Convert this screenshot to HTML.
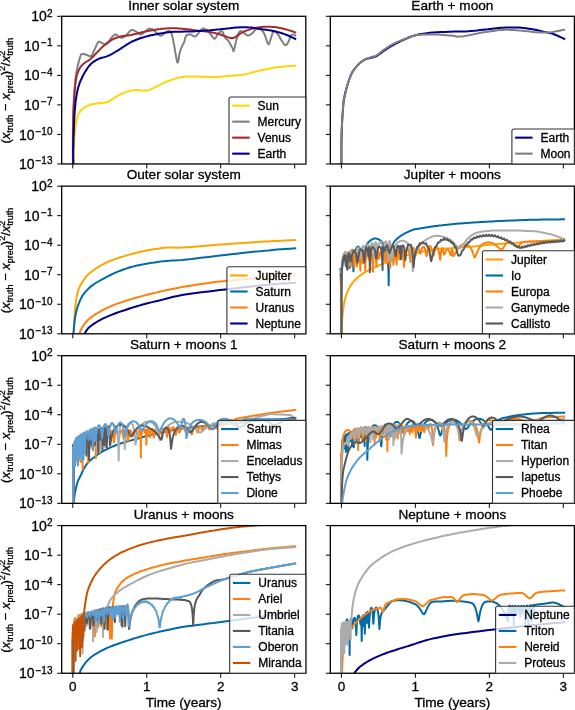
<!DOCTYPE html><html><head><meta charset="utf-8"><style>html,body{margin:0;padding:0;background:#fff;overflow:hidden}svg{display:block;will-change:transform}text{stroke:#000;stroke-width:0.3px}</style></head><body><svg width="575" height="710" viewBox="0 0 575 710">
<rect width="575" height="710" fill="#fff"/>
<defs><clipPath id="cp0"><rect x="61.7" y="16.3" width="244.1" height="147.65"/></clipPath></defs>
<g clip-path="url(#cp0)" fill="none" stroke-width="1.9" stroke-linejoin="round" stroke-linecap="square">
<path d="M73.4,163.9 L73.4,161.7 L73.5,158.6 L73.6,155.0 L73.7,151.1 L73.8,147.1 L74.0,143.4 L74.3,139.7 L74.5,135.9 L74.9,132.0 L75.2,128.3 L75.7,124.8 L76.2,121.8 L76.7,119.3 L77.3,117.2 L78.0,115.4 L78.7,113.8 L79.6,112.4 L80.5,111.0 L81.5,109.8 L82.7,108.7 L84.0,107.8 L85.3,107.0 L86.7,106.3 L88.0,105.7 L89.4,105.1 L90.8,104.7 L92.2,104.3 L93.7,104.0 L95.1,103.8 L96.7,103.5 L98.3,103.3 L100.0,103.1 L101.8,103.0 L103.5,102.8 L105.0,102.6 L106.4,102.4 L107.4,102.2 L108.1,101.9 L108.7,101.6 L109.2,101.2 L109.8,100.8 L110.7,100.3 L111.7,99.6 L112.9,98.8 L114.2,98.0 L115.5,97.1 L116.9,96.3 L118.2,95.5 L119.6,94.8 L121.0,94.1 L122.5,93.4 L123.9,92.7 L125.4,92.1 L126.9,91.6 L128.3,91.2 L129.6,90.9 L131.0,90.6 L132.4,90.4 L133.9,90.2 L135.5,90.1 L137.2,90.1 L139.1,90.2 L141.0,90.4 L142.9,90.5 L144.7,90.6 L146.3,90.6 L147.6,90.4 L148.7,90.1 L149.6,89.8 L150.6,89.4 L151.6,88.9 L152.7,88.4 L154.0,87.8 L155.4,87.1 L156.9,86.3 L158.4,85.6 L159.9,84.8 L161.4,84.1 L162.8,83.4 L164.1,82.8 L165.5,82.2 L166.9,81.6 L168.4,81.0 L170.0,80.4 L171.8,79.8 L173.7,79.1 L175.7,78.5 L177.8,77.9 L179.9,77.4 L182.0,77.0 L184.0,76.7 L186.0,76.6 L188.0,76.5 L190.1,76.5 L192.4,76.5 L194.9,76.5 L197.8,76.6 L201.1,76.7 L204.5,76.8 L208.0,76.9 L211.3,77.0 L214.3,77.0 L217.1,76.9 L219.7,76.7 L222.2,76.6 L224.6,76.3 L227.0,76.1 L229.4,75.9 L232.0,75.7 L234.6,75.5 L237.1,75.3 L239.7,75.0 L242.1,74.7 L244.5,74.4 L246.8,73.9 L248.9,73.4 L251.0,72.9 L253.1,72.3 L255.2,71.7 L257.5,71.1 L259.9,70.6 L262.4,70.0 L265.0,69.4 L267.6,68.9 L270.2,68.4 L272.6,67.9 L274.9,67.6 L277.2,67.3 L279.4,67.0 L281.5,66.8 L283.6,66.6 L285.5,66.4 L287.4,66.2 L289.3,66.1 L291.2,66.0 L292.8,65.9 L294.2,65.8 L295.2,65.8" stroke="#FFD700" stroke-width="2.0"/>
<path d="M72.9,163.9 L73.0,161.8 L73.0,159.0 L73.0,155.7 L73.1,151.9 L73.1,147.7 L73.2,143.4 L73.2,138.6 L73.2,133.3 L73.2,127.7 L73.2,121.9 L73.2,116.3 L73.4,111.0 L73.6,106.0 L73.8,100.9 L74.1,95.9 L74.4,91.2 L74.8,86.9 L75.1,83.0 L75.4,79.7 L75.7,76.9 L76.1,74.5 L76.4,72.2 L76.8,70.1 L77.3,67.9 L77.7,65.6 L78.3,63.4 L78.9,61.2 L79.4,59.2 L80.0,57.4 L80.5,56.1 L80.9,55.1 L81.2,54.5 L81.5,54.2 L81.8,54.0 L82.2,54.0 L82.6,53.9 L83.2,53.9 L83.9,54.0 L84.7,54.2 L85.4,54.5 L86.2,54.8 L87.0,55.0 L87.7,55.2 L88.4,55.6 L89.2,56.0 L89.9,56.3 L90.6,56.3 L91.3,56.1 L91.9,55.4 L92.4,54.5 L92.9,53.4 L93.4,52.1 L93.9,50.8 L94.5,49.6 L95.1,48.3 L95.8,46.8 L96.4,45.3 L97.1,44.0 L97.7,42.8 L98.4,42.0 L99.0,41.7 L99.6,41.8 L100.2,42.0 L100.8,42.4 L101.4,42.8 L102.1,43.1 L102.7,43.4 L103.4,43.7 L104.2,44.1 L104.9,44.3 L105.6,44.4 L106.4,44.2 L107.1,43.7 L107.8,42.8 L108.5,41.8 L109.2,40.8 L110.0,39.7 L110.7,38.8 L111.4,37.9 L112.1,37.0 L112.8,36.2 L113.6,35.4 L114.3,34.8 L115.0,34.5 L115.7,34.5 L116.5,34.8 L117.2,35.2 L117.9,35.8 L118.6,36.3 L119.3,36.6 L119.9,36.9 L120.4,37.2 L120.9,37.5 L121.4,37.7 L122.0,37.8 L122.5,37.7 L123.2,37.4 L123.9,37.0 L124.6,36.4 L125.4,35.8 L126.1,35.1 L126.9,34.5 L127.6,33.8 L128.3,32.9 L129.0,32.1 L129.7,31.3 L130.4,30.6 L131.2,30.2 L131.9,30.0 L132.6,30.1 L133.3,30.2 L134.0,30.5 L134.7,30.9 L135.5,31.3 L136.3,31.7 L137.2,32.4 L138.2,33.1 L139.1,33.8 L140.0,34.3 L140.9,34.5 L141.7,34.3 L142.4,33.9 L143.1,33.2 L143.8,32.5 L144.5,31.8 L145.2,31.3 L145.9,30.7 L146.6,30.2 L147.3,29.7 L148.1,29.2 L148.8,28.9 L149.5,28.7 L150.2,28.6 L150.9,28.8 L151.7,29.0 L152.4,29.3 L153.1,29.7 L153.8,30.2 L154.5,30.8 L155.3,31.5 L156.0,32.4 L156.8,33.2 L157.5,33.9 L158.1,34.5 L158.7,34.9 L159.2,35.2 L159.7,35.5 L160.2,35.6 L160.8,35.7 L161.4,35.6 L162.0,35.3 L162.7,34.7 L163.4,34.1 L164.2,33.4 L164.9,32.8 L165.7,32.3 L166.4,32.0 L167.2,31.6 L168.0,31.3 L168.7,31.1 L169.4,31.1 L170.0,31.3 L170.5,31.6 L170.9,32.1 L171.2,32.7 L171.5,33.4 L171.8,34.4 L172.1,35.6 L172.5,36.9 L172.8,38.5 L173.2,40.2 L173.5,42.1 L173.9,44.2 L174.3,46.3 L174.8,49.0 L175.3,52.3 L175.9,55.7 L176.5,58.8 L177.0,61.3 L177.5,62.5 L178.0,62.4 L178.3,61.1 L178.7,59.1 L179.0,56.8 L179.3,54.5 L179.7,52.8 L180.1,51.5 L180.5,50.3 L180.8,49.2 L181.2,48.2 L181.6,47.3 L182.0,46.3 L182.4,45.5 L182.7,44.8 L183.1,44.2 L183.4,43.6 L183.8,42.9 L184.2,42.0 L184.5,41.0 L184.8,39.8 L185.1,38.6 L185.4,37.4 L185.8,36.4 L186.3,35.6 L186.9,35.0 L187.6,34.7 L188.3,34.5 L189.1,34.4 L189.9,34.4 L190.6,34.5 L191.4,34.7 L192.1,35.2 L192.9,35.7 L193.6,36.2 L194.3,36.6 L194.9,36.6 L195.5,36.4 L196.1,36.0 L196.6,35.5 L197.1,34.8 L197.6,34.1 L198.2,33.4 L198.8,32.6 L199.5,31.7 L200.3,30.7 L201.0,29.8 L201.8,29.1 L202.5,28.7 L203.2,28.5 L204.0,28.6 L204.7,28.9 L205.4,29.3 L206.1,29.8 L206.8,30.2 L207.4,30.6 L207.9,31.0 L208.4,31.5 L208.9,32.1 L209.4,32.7 L210.0,33.4 L210.7,34.3 L211.4,35.4 L212.2,36.6 L213.0,37.6 L213.7,38.4 L214.3,38.8 L214.9,38.6 L215.5,38.0 L216.0,37.2 L216.5,36.2 L217.0,35.3 L217.6,34.5 L218.3,33.8 L219.0,33.0 L219.7,32.2 L220.5,31.6 L221.2,31.2 L221.9,31.3 L222.5,31.8 L223.1,32.8 L223.6,34.1 L224.1,35.4 L224.6,36.7 L225.1,37.7 L225.7,38.4 L226.2,38.9 L226.7,39.3 L227.2,39.7 L227.8,40.2 L228.4,41.0 L229.1,42.0 L229.8,43.4 L230.7,44.8 L231.4,46.2 L232.1,47.5 L232.7,48.5 L233.0,49.4 L233.2,50.2 L233.3,50.9 L233.4,51.3 L233.5,51.2 L233.8,50.7 L234.2,49.3 L234.7,47.2 L235.2,44.7 L235.8,42.1 L236.4,39.7 L237.0,37.7 L237.5,36.2 L238.0,34.8 L238.5,33.5 L239.1,32.5 L239.6,31.8 L240.2,31.3 L240.9,31.1 L241.6,31.3 L242.4,31.8 L243.1,32.4 L243.9,32.9 L244.5,33.4 L245.1,33.8 L245.7,34.3 L246.2,34.8 L246.7,35.2 L247.2,35.5 L247.8,35.6 L248.4,35.5 L249.1,35.2 L249.9,34.9 L250.6,34.4 L251.4,33.9 L252.1,33.4 L252.8,32.8 L253.5,31.9 L254.2,31.1 L254.9,30.2 L255.6,29.5 L256.4,29.1 L257.3,28.9 L258.2,28.9 L259.2,29.0 L260.1,29.3 L261.0,29.7 L261.8,30.2 L262.5,30.8 L263.0,31.5 L263.5,32.4 L264.0,33.4 L264.5,34.4 L265.0,35.6 L265.6,37.0 L266.1,38.7 L266.7,40.5 L267.3,42.2 L267.8,43.5 L268.3,44.2 L268.7,44.3 L269.0,43.9 L269.3,43.1 L269.7,42.1 L270.0,41.0 L270.4,39.9 L270.9,38.6 L271.4,36.9 L271.9,35.1 L272.5,33.4 L273.0,32.1 L273.7,31.3 L274.3,31.1 L275.1,31.4 L275.8,32.0 L276.6,32.8 L277.3,33.7 L278.0,34.5 L278.6,35.3 L279.1,36.1 L279.6,37.0 L280.1,38.0 L280.6,39.0 L281.2,39.9 L281.9,40.9 L282.6,42.0 L283.4,43.2 L284.1,44.2 L284.8,44.9 L285.5,45.3 L286.1,45.1 L286.7,44.6 L287.3,43.8 L287.8,42.8 L288.3,41.9 L288.8,41.0 L289.2,40.1 L289.5,39.1 L289.8,38.1 L290.1,37.1 L290.5,36.2 L290.9,35.6 L291.4,35.1 L292.0,34.8 L292.6,34.6 L293.2,34.5 L293.7,34.5 L294.1,34.5 L294.5,34.6 L294.7,34.7 L294.9,35.0 L295.0,35.2 L295.1,35.4 L295.2,35.6" stroke="#808080" stroke-width="2.0"/>
<path d="M72.9,163.9 L72.9,160.8 L72.9,156.5 L72.9,151.5 L72.9,145.9 L72.9,140.3 L72.9,134.8 L73.0,129.2 L73.2,123.2 L73.3,117.0 L73.5,111.0 L73.8,105.3 L74.0,100.3 L74.3,95.8 L74.6,91.7 L75.0,87.9 L75.3,84.5 L75.7,81.5 L76.2,78.7 L76.6,76.3 L77.1,74.4 L77.7,72.8 L78.2,71.5 L78.8,70.2 L79.4,69.0 L80.0,67.8 L80.7,66.8 L81.4,66.0 L82.1,65.2 L82.9,64.4 L83.7,63.6 L84.7,62.8 L85.7,62.2 L86.8,61.5 L88.0,60.8 L89.1,60.1 L90.2,59.3 L91.3,58.3 L92.3,57.3 L93.4,56.2 L94.5,55.1 L95.6,53.9 L96.7,52.8 L97.7,51.7 L98.7,50.7 L99.8,49.6 L100.8,48.5 L101.9,47.4 L103.1,46.3 L104.4,45.2 L105.8,44.1 L107.3,42.9 L108.8,41.8 L110.3,40.8 L111.8,39.9 L113.2,39.1 L114.6,38.5 L115.9,38.0 L117.3,37.5 L118.8,37.1 L120.4,36.6 L122.1,36.3 L123.8,36.0 L125.6,35.7 L127.5,35.5 L129.3,35.2 L131.2,34.9 L133.0,34.5 L134.8,34.1 L136.6,33.7 L138.4,33.2 L140.2,32.7 L141.9,32.3 L143.7,31.9 L145.5,31.6 L147.3,31.2 L149.1,30.8 L150.9,30.5 L152.7,30.2 L154.6,29.9 L156.4,29.6 L158.3,29.3 L160.1,29.1 L161.8,28.8 L163.5,28.7 L165.1,28.5 L166.5,28.4 L167.9,28.3 L169.3,28.3 L170.7,28.2 L172.1,28.2 L173.7,28.2 L175.2,28.3 L176.8,28.3 L178.4,28.4 L180.2,28.5 L182.0,28.7 L184.0,28.9 L186.1,29.1 L188.3,29.4 L190.5,29.6 L192.7,29.9 L194.9,30.2 L197.1,30.4 L199.4,30.7 L201.7,30.9 L203.9,31.2 L206.0,31.4 L207.9,31.7 L209.6,31.9 L211.1,32.2 L212.5,32.5 L213.8,32.7 L215.1,33.1 L216.5,33.4 L218.0,33.8 L219.5,34.3 L221.0,34.8 L222.4,35.3 L223.8,35.8 L225.1,36.2 L226.4,36.6 L227.5,37.1 L228.6,37.5 L229.7,37.8 L230.7,38.0 L231.6,38.2 L232.4,38.1 L233.1,38.0 L233.8,37.8 L234.4,37.5 L235.1,37.1 L235.9,36.6 L236.8,36.1 L237.8,35.4 L238.9,34.6 L240.0,33.8 L241.2,33.0 L242.4,32.3 L243.7,31.7 L245.0,31.1 L246.4,30.6 L247.9,30.1 L249.4,29.6 L251.0,29.1 L252.7,28.6 L254.4,28.2 L256.3,27.8 L258.1,27.5 L260.0,27.2 L261.8,26.9 L263.6,26.8 L265.4,26.7 L267.2,26.7 L269.0,26.7 L270.8,26.8 L272.6,26.9 L274.4,27.1 L276.1,27.3 L277.9,27.6 L279.7,27.9 L281.5,28.2 L283.4,28.7 L285.4,29.2 L287.7,29.9 L290.0,30.6 L292.1,31.3 L293.9,31.9 L295.2,32.3" stroke="#A52A2A" stroke-width="2.0"/>
<path d="M73.4,163.9 L73.4,161.8 L73.3,159.2 L73.3,155.9 L73.2,152.2 L73.3,148.0 L73.4,143.4 L73.5,138.0 L73.8,131.7 L74.0,125.0 L74.3,118.3 L74.7,112.0 L75.1,106.7 L75.5,102.4 L76.0,98.7 L76.5,95.5 L77.0,92.7 L77.6,90.0 L78.3,87.3 L79.1,84.8 L79.9,82.4 L80.8,80.2 L81.8,78.2 L82.7,76.3 L83.7,74.4 L84.7,72.5 L85.8,70.7 L86.8,69.1 L87.9,67.5 L89.0,66.0 L90.2,64.7 L91.4,63.5 L92.5,62.5 L93.8,61.6 L95.0,60.8 L96.3,60.0 L97.7,59.3 L99.3,58.6 L100.9,58.0 L102.7,57.5 L104.4,57.1 L106.0,56.6 L107.4,56.1 L108.7,55.5 L109.8,55.1 L110.7,54.6 L111.7,54.1 L112.7,53.5 L113.9,52.8 L115.2,52.0 L116.6,51.2 L118.1,50.3 L119.6,49.3 L121.1,48.4 L122.5,47.4 L124.0,46.5 L125.3,45.6 L126.7,44.7 L128.1,43.8 L129.6,42.9 L131.2,42.0 L132.8,41.2 L134.6,40.5 L136.4,39.7 L138.3,39.0 L140.1,38.3 L141.9,37.7 L143.7,37.2 L145.5,36.6 L147.3,36.2 L149.1,35.7 L150.9,35.3 L152.7,34.9 L154.6,34.5 L156.4,34.2 L158.3,33.8 L160.1,33.5 L161.8,33.2 L163.5,33.0 L165.1,32.7 L166.5,32.5 L167.9,32.3 L169.3,32.2 L170.7,32.0 L172.1,31.9 L173.7,31.8 L175.2,31.8 L176.8,31.8 L178.4,31.7 L180.2,31.7 L182.0,31.7 L184.0,31.6 L186.0,31.6 L188.1,31.5 L190.4,31.5 L192.6,31.4 L194.9,31.3 L197.3,31.1 L199.8,31.0 L202.4,30.8 L204.9,30.6 L207.5,30.4 L210.0,30.2 L212.6,29.9 L215.1,29.7 L217.7,29.4 L220.3,29.2 L222.7,28.9 L225.1,28.7 L227.4,28.4 L229.6,28.2 L231.7,27.9 L233.8,27.7 L235.9,27.5 L238.1,27.4 L240.2,27.3 L242.4,27.3 L244.5,27.3 L246.7,27.3 L248.9,27.4 L251.0,27.6 L253.2,27.8 L255.4,28.1 L257.6,28.5 L259.8,28.8 L261.9,29.2 L263.9,29.5 L265.9,29.8 L267.7,30.1 L269.5,30.3 L271.2,30.6 L273.0,30.9 L274.7,31.3 L276.5,31.7 L278.4,32.2 L280.2,32.7 L282.0,33.3 L283.8,33.9 L285.5,34.5 L287.3,35.2 L289.2,36.0 L291.0,36.8 L292.7,37.6 L294.2,38.3 L295.2,38.8" stroke="#00008B" stroke-width="2.0"/>
</g>
<rect x="61.7" y="16.3" width="244.1" height="147.65" fill="none" stroke="#000" stroke-width="1.3"/>
<line x1="72.80" y1="163.95000000000002" x2="72.80" y2="168.45000000000002" stroke="#000" stroke-width="1"/>
<line x1="146.77" y1="163.95000000000002" x2="146.77" y2="168.45000000000002" stroke="#000" stroke-width="1"/>
<line x1="220.73" y1="163.95000000000002" x2="220.73" y2="168.45000000000002" stroke="#000" stroke-width="1"/>
<line x1="294.70" y1="163.95000000000002" x2="294.70" y2="168.45000000000002" stroke="#000" stroke-width="1"/>
<line x1="57.2" y1="16.30" x2="61.7" y2="16.30" stroke="#000" stroke-width="1"/>

<line x1="57.2" y1="45.83" x2="61.7" y2="45.83" stroke="#000" stroke-width="1"/>

<line x1="57.2" y1="75.36" x2="61.7" y2="75.36" stroke="#000" stroke-width="1"/>

<line x1="57.2" y1="104.89" x2="61.7" y2="104.89" stroke="#000" stroke-width="1"/>

<line x1="57.2" y1="134.42" x2="61.7" y2="134.42" stroke="#000" stroke-width="1"/>

<line x1="57.2" y1="163.95" x2="61.7" y2="163.95" stroke="#000" stroke-width="1"/>

<text x="183.75" y="9.60" font-family='"Liberation Sans", sans-serif' font-size="13.6" text-anchor="middle" fill="#000">Inner solar system</text>
<path d="M231.0,96.95000000000002 H305.8 V163.95000000000002 H229.0 V98.95000000000002 Q229.0,96.95000000000002 231.0,96.95000000000002 Z" fill="#fff" fill-opacity="0.8" stroke="#333" stroke-width="1.1"/>
<line x1="232.2" y1="105.65" x2="249.7" y2="105.65" stroke="#FFD700" stroke-width="2.1"/>
<text x="257.60" y="109.95" font-family='"Liberation Sans", sans-serif' font-size="12" fill="#000">Sun</text>
<line x1="232.2" y1="121.65" x2="249.7" y2="121.65" stroke="#808080" stroke-width="2.1"/>
<text x="257.60" y="125.95" font-family='"Liberation Sans", sans-serif' font-size="12" fill="#000">Mercury</text>
<line x1="232.2" y1="137.65" x2="249.7" y2="137.65" stroke="#A52A2A" stroke-width="2.1"/>
<text x="257.60" y="141.95" font-family='"Liberation Sans", sans-serif' font-size="12" fill="#000">Venus</text>
<line x1="232.2" y1="153.65" x2="249.7" y2="153.65" stroke="#00008B" stroke-width="2.1"/>
<text x="257.60" y="157.95" font-family='"Liberation Sans", sans-serif' font-size="12" fill="#000">Earth</text>
<defs><clipPath id="cp1"><rect x="330.3" y="16.3" width="244.1" height="147.65"/></clipPath></defs>
<g clip-path="url(#cp1)" fill="none" stroke-width="1.9" stroke-linejoin="round" stroke-linecap="square">
<path d="M341.4,163.9 L341.4,160.6 L341.4,156.1 L341.4,150.7 L341.4,145.0 L341.5,139.5 L341.6,134.8 L341.7,130.7 L341.9,126.8 L342.0,123.1 L342.2,119.6 L342.4,116.3 L342.7,113.2 L342.9,110.3 L343.1,107.6 L343.3,105.1 L343.5,102.7 L343.8,100.4 L344.2,98.1 L344.6,95.8 L345.1,93.6 L345.6,91.4 L346.2,89.3 L346.8,87.2 L347.4,85.2 L348.0,83.1 L348.7,81.0 L349.4,79.0 L350.1,77.0 L350.9,75.1 L351.7,73.3 L352.7,71.6 L353.7,70.1 L354.8,68.6 L356.0,67.2 L357.1,65.9 L358.2,64.7 L359.3,63.6 L360.3,62.6 L361.4,61.8 L362.5,61.0 L363.6,60.3 L364.7,59.7 L365.8,59.2 L366.9,58.8 L368.0,58.5 L369.1,58.3 L370.1,58.1 L371.1,57.8 L372.1,57.5 L372.9,57.3 L373.8,57.1 L374.6,56.9 L375.5,56.6 L376.5,56.1 L377.6,55.4 L378.8,54.5 L380.1,53.6 L381.4,52.6 L382.7,51.6 L384.1,50.7 L385.4,49.8 L386.8,48.9 L388.2,48.0 L389.6,47.1 L391.1,46.2 L392.7,45.3 L394.4,44.4 L396.1,43.4 L398.0,42.5 L399.8,41.6 L401.7,40.7 L403.5,39.9 L405.3,39.1 L407.1,38.3 L408.9,37.5 L410.7,36.8 L412.5,36.1 L414.3,35.6 L416.1,35.1 L417.9,34.6 L419.7,34.3 L421.5,34.0 L423.2,33.7 L425.0,33.4 L426.8,33.2 L428.5,33.0 L430.2,32.8 L431.9,32.6 L433.8,32.5 L435.8,32.3 L438.1,32.2 L440.5,32.1 L443.0,32.0 L445.6,31.9 L448.3,31.8 L451.0,31.7 L453.8,31.6 L456.6,31.6 L459.5,31.5 L462.4,31.5 L465.4,31.4 L468.3,31.3 L471.2,31.0 L474.2,30.8 L477.1,30.5 L480.1,30.1 L482.9,29.8 L485.5,29.5 L487.9,29.3 L490.1,29.0 L492.1,28.7 L494.1,28.4 L496.2,28.2 L498.4,28.0 L500.8,27.8 L503.3,27.7 L505.9,27.5 L508.4,27.4 L511.0,27.4 L513.5,27.4 L516.1,27.5 L518.6,27.6 L521.1,27.8 L523.6,28.0 L526.1,28.3 L528.6,28.7 L531.2,29.1 L533.8,29.6 L536.5,30.1 L539.0,30.6 L541.5,31.2 L543.7,31.7 L545.8,32.1 L547.7,32.6 L549.5,33.0 L551.2,33.4 L552.8,33.9 L554.5,34.5 L556.3,35.2 L558.2,36.0 L560.0,36.8 L561.7,37.6 L563.2,38.3 L564.2,38.8" stroke="#00008B" stroke-width="2.0"/>
<path d="M341.4,163.9 L341.4,160.6 L341.4,156.1 L341.4,150.7 L341.4,145.0 L341.5,139.5 L341.6,134.8 L341.7,130.6 L341.9,126.7 L342.1,123.0 L342.3,119.5 L342.5,116.2 L342.7,113.2 L342.8,110.4 L343.0,107.9 L343.1,105.5 L343.2,103.5 L343.4,101.7 L343.5,100.3 L343.6,99.3 L343.7,99.0 L343.8,98.9 L343.9,98.9 L344.1,98.6 L344.4,97.7 L344.8,96.2 L345.2,94.2 L345.7,92.0 L346.2,89.7 L346.8,87.3 L347.4,85.2 L348.0,83.1 L348.7,81.0 L349.4,79.0 L350.1,77.0 L350.9,75.1 L351.7,73.3 L352.7,71.6 L353.7,70.1 L354.8,68.6 L356.0,67.2 L357.1,65.9 L358.2,64.7 L359.3,63.6 L360.3,62.7 L361.4,61.8 L362.5,61.1 L363.6,60.4 L364.7,59.7 L365.8,59.1 L366.9,58.6 L368.0,58.2 L369.1,57.8 L370.1,57.5 L371.1,57.1 L372.1,56.8 L372.9,56.6 L373.8,56.5 L374.6,56.3 L375.5,55.9 L376.5,55.4 L377.6,54.7 L378.8,53.8 L380.1,52.7 L381.4,51.6 L382.7,50.6 L384.1,49.6 L385.4,48.7 L386.8,47.7 L388.2,46.8 L389.6,45.9 L391.1,45.0 L392.7,44.2 L394.4,43.4 L396.1,42.5 L398.0,41.7 L399.8,40.9 L401.7,40.2 L403.5,39.4 L405.3,38.7 L407.1,38.0 L408.9,37.3 L410.7,36.6 L412.5,36.0 L414.3,35.6 L416.1,35.2 L417.9,35.0 L419.7,34.8 L421.5,34.7 L423.2,34.6 L425.0,34.5 L426.8,34.4 L428.5,34.4 L430.2,34.4 L431.9,34.4 L433.8,34.4 L435.8,34.5 L438.2,34.6 L440.8,34.8 L443.5,35.0 L446.3,35.2 L448.8,35.4 L451.0,35.6 L452.8,35.8 L454.2,36.0 L455.5,36.3 L456.7,36.5 L458.0,36.7 L459.6,36.6 L461.5,36.5 L463.5,36.2 L465.7,35.8 L467.9,35.4 L470.2,34.9 L472.6,34.5 L474.9,34.0 L477.4,33.6 L479.8,33.1 L482.4,32.6 L485.0,32.1 L487.7,31.7 L490.4,31.3 L493.3,30.9 L496.2,30.5 L499.1,30.1 L502.0,29.9 L504.9,29.7 L507.8,29.7 L510.7,29.9 L513.7,30.1 L516.6,30.3 L519.4,30.6 L522.2,30.8 L524.8,31.1 L527.4,31.3 L530.0,31.6 L532.5,31.9 L534.9,32.2 L537.3,32.3 L539.5,32.4 L541.7,32.5 L543.8,32.6 L545.9,32.6 L548.0,32.5 L550.2,32.3 L552.6,32.0 L555.3,31.6 L558.0,31.0 L560.5,30.5 L562.7,30.1 L564.2,29.7" stroke="#808080" stroke-width="2.0"/>
</g>
<rect x="330.3" y="16.3" width="244.1" height="147.65" fill="none" stroke="#000" stroke-width="1.3"/>
<line x1="341.40" y1="163.95000000000002" x2="341.40" y2="168.45000000000002" stroke="#000" stroke-width="1"/>
<line x1="415.37" y1="163.95000000000002" x2="415.37" y2="168.45000000000002" stroke="#000" stroke-width="1"/>
<line x1="489.33" y1="163.95000000000002" x2="489.33" y2="168.45000000000002" stroke="#000" stroke-width="1"/>
<line x1="563.30" y1="163.95000000000002" x2="563.30" y2="168.45000000000002" stroke="#000" stroke-width="1"/>
<line x1="325.8" y1="16.30" x2="330.3" y2="16.30" stroke="#000" stroke-width="1"/>
<line x1="325.8" y1="45.83" x2="330.3" y2="45.83" stroke="#000" stroke-width="1"/>
<line x1="325.8" y1="75.36" x2="330.3" y2="75.36" stroke="#000" stroke-width="1"/>
<line x1="325.8" y1="104.89" x2="330.3" y2="104.89" stroke="#000" stroke-width="1"/>
<line x1="325.8" y1="134.42" x2="330.3" y2="134.42" stroke="#000" stroke-width="1"/>
<line x1="325.8" y1="163.95" x2="330.3" y2="163.95" stroke="#000" stroke-width="1"/>
<text x="452.35" y="9.60" font-family='"Liberation Sans", sans-serif' font-size="13.6" text-anchor="middle" fill="#000">Earth + moon</text>
<path d="M513.9,128.95000000000002 H574.4 V163.95000000000002 H511.9 V130.95000000000002 Q511.9,128.95000000000002 513.9,128.95000000000002 Z" fill="#fff" fill-opacity="0.8" stroke="#333" stroke-width="1.1"/>
<line x1="515.1" y1="137.65" x2="532.6" y2="137.65" stroke="#00008B" stroke-width="2.1"/>
<text x="540.50" y="141.95" font-family='"Liberation Sans", sans-serif' font-size="12" fill="#000">Earth</text>
<line x1="515.1" y1="153.65" x2="532.6" y2="153.65" stroke="#808080" stroke-width="2.1"/>
<text x="540.50" y="157.95" font-family='"Liberation Sans", sans-serif' font-size="12" fill="#000">Moon</text>
<defs><clipPath id="cp2"><rect x="61.7" y="186.15" width="244.1" height="147.65"/></clipPath></defs>
<g clip-path="url(#cp2)" fill="none" stroke-width="1.9" stroke-linejoin="round" stroke-linecap="square">
<path d="M73.4,335.0 L73.5,332.6 L73.7,329.3 L73.9,325.4 L74.1,321.2 L74.4,317.1 L74.7,313.4 L75.0,309.9 L75.4,306.4 L75.8,303.0 L76.2,299.7 L76.7,296.7 L77.3,294.0 L77.8,291.7 L78.5,289.7 L79.2,287.9 L79.9,286.3 L80.7,284.8 L81.6,283.2 L82.5,281.6 L83.5,280.1 L84.5,278.6 L85.6,277.2 L86.8,275.9 L88.0,274.6 L89.3,273.4 L90.7,272.2 L92.1,271.2 L93.5,270.2 L95.1,269.1 L96.7,268.1 L98.3,267.1 L100.0,266.0 L101.8,265.0 L103.6,264.0 L105.5,263.0 L107.4,262.1 L109.5,261.2 L111.5,260.4 L113.6,259.6 L115.8,258.8 L118.1,258.1 L120.4,257.3 L122.8,256.6 L125.3,255.8 L127.8,255.1 L130.4,254.4 L132.9,253.7 L135.5,253.0 L138.0,252.4 L140.4,251.8 L142.9,251.3 L145.4,250.7 L147.9,250.2 L150.6,249.8 L153.4,249.3 L156.3,248.9 L159.3,248.5 L162.2,248.1 L165.1,247.8 L167.8,247.6 L170.2,247.5 L172.1,247.6 L174.0,247.6 L176.0,247.7 L178.6,247.7 L182.0,247.6 L186.3,247.3 L191.4,246.9 L197.0,246.5 L202.9,246.0 L208.7,245.5 L214.3,245.0 L219.8,244.6 L225.4,244.2 L230.9,243.8 L236.4,243.4 L241.7,243.0 L246.7,242.7 L251.4,242.4 L255.9,242.1 L260.2,241.8 L264.4,241.6 L268.5,241.4 L272.6,241.1 L276.8,240.9 L281.2,240.7 L285.5,240.5 L289.5,240.3 L292.8,240.2 L295.2,240.1" stroke="#FFA500" stroke-width="2.0"/>
<path d="M73.4,335.0 L73.5,333.0 L73.8,330.3 L74.0,327.1 L74.3,323.8 L74.7,320.5 L75.1,317.7 L75.5,315.3 L76.0,313.0 L76.5,310.8 L77.0,308.8 L77.6,306.7 L78.3,304.8 L79.1,302.8 L79.8,300.9 L80.7,299.1 L81.6,297.3 L82.6,295.6 L83.7,294.0 L84.9,292.4 L86.3,290.9 L87.7,289.4 L89.2,288.0 L90.7,286.6 L92.3,285.4 L94.0,284.2 L95.7,283.0 L97.5,282.0 L99.3,281.0 L101.2,279.9 L103.1,278.9 L105.1,277.8 L107.2,276.7 L109.3,275.6 L111.5,274.5 L113.8,273.4 L116.1,272.4 L118.5,271.4 L120.9,270.5 L123.5,269.5 L126.1,268.6 L128.6,267.8 L131.2,267.0 L133.7,266.4 L136.1,265.8 L138.6,265.2 L141.1,264.7 L143.6,264.3 L146.3,263.8 L149.0,263.3 L151.8,262.8 L154.7,262.4 L157.6,261.9 L160.5,261.6 L163.5,261.2 L166.4,260.9 L169.1,260.8 L171.8,260.6 L174.8,260.5 L178.1,260.2 L182.0,259.9 L186.6,259.4 L191.8,258.9 L197.3,258.2 L203.1,257.6 L208.8,256.9 L214.3,256.2 L219.8,255.6 L225.4,255.0 L230.9,254.3 L236.4,253.7 L241.7,253.1 L246.7,252.6 L251.4,252.1 L255.9,251.6 L260.2,251.2 L264.4,250.7 L268.5,250.4 L272.6,250.0 L276.8,249.6 L281.2,249.3 L285.5,249.0 L289.5,248.7 L292.8,248.4 L295.2,248.3" stroke="#006BA4" stroke-width="2.0"/>
<path d="M78.5,336.0 L78.8,335.2 L79.2,334.1 L79.7,332.8 L80.2,331.4 L80.8,329.9 L81.6,328.5 L82.4,327.1 L83.3,325.7 L84.3,324.2 L85.4,322.7 L86.7,321.3 L88.0,319.9 L89.6,318.5 L91.2,317.2 L93.0,316.0 L94.9,314.7 L96.8,313.5 L98.8,312.3 L100.8,311.2 L102.9,310.0 L105.0,308.9 L107.2,307.9 L109.5,306.8 L111.8,305.8 L114.1,304.9 L116.6,303.9 L119.2,303.0 L121.7,302.1 L124.3,301.3 L126.9,300.5 L129.3,299.7 L131.8,298.9 L134.3,298.2 L136.8,297.5 L139.3,296.8 L141.9,296.1 L144.6,295.4 L147.3,294.7 L150.1,294.0 L153.0,293.3 L156.0,292.6 L159.2,291.8 L162.6,291.1 L166.0,290.3 L169.7,289.5 L173.5,288.7 L177.6,287.9 L182.0,287.1 L186.8,286.2 L192.1,285.4 L197.6,284.5 L203.2,283.7 L208.8,282.9 L214.3,282.1 L219.8,281.5 L225.4,280.9 L230.9,280.4 L236.4,279.9 L241.7,279.4 L246.7,278.9 L251.4,278.4 L255.9,277.9 L260.2,277.5 L264.4,277.0 L268.5,276.6 L272.6,276.3 L276.8,276.0 L281.2,275.8 L285.5,275.6 L289.5,275.4 L292.8,275.3 L295.2,275.2" stroke="#FF800E" stroke-width="2.0"/>
<path d="M83.3,336.0 L83.8,335.2 L84.4,334.0 L85.1,332.7 L86.0,331.2 L87.0,329.8 L88.0,328.5 L89.2,327.3 L90.5,326.3 L91.8,325.2 L93.3,324.1 L94.9,323.1 L96.7,322.0 L98.5,320.9 L100.6,319.8 L102.7,318.7 L105.0,317.6 L107.3,316.6 L109.6,315.6 L112.0,314.6 L114.4,313.7 L116.9,312.8 L119.4,311.9 L122.0,311.0 L124.7,310.2 L127.4,309.2 L130.3,308.3 L133.2,307.4 L136.1,306.5 L139.0,305.6 L141.9,304.8 L144.8,304.0 L147.5,303.3 L150.2,302.6 L153.0,301.9 L156.0,301.2 L159.2,300.5 L162.6,299.6 L166.0,298.7 L169.7,297.8 L173.5,296.8 L177.6,295.9 L182.0,295.1 L186.8,294.3 L192.1,293.5 L197.6,292.8 L203.2,292.1 L208.8,291.4 L214.3,290.8 L219.8,290.1 L225.4,289.4 L230.9,288.8 L236.4,288.2 L241.7,287.6 L246.7,287.1 L251.4,286.6 L255.9,286.0 L260.2,285.5 L264.4,285.1 L268.5,284.7 L272.6,284.3 L276.8,283.9 L281.2,283.6 L285.5,283.4 L289.5,283.1 L292.8,282.9 L295.2,282.8" stroke="#000080" stroke-width="2.0"/>
</g>
<rect x="61.7" y="186.15" width="244.1" height="147.65" fill="none" stroke="#000" stroke-width="1.3"/>
<line x1="72.80" y1="333.8" x2="72.80" y2="338.3" stroke="#000" stroke-width="1"/>
<line x1="146.77" y1="333.8" x2="146.77" y2="338.3" stroke="#000" stroke-width="1"/>
<line x1="220.73" y1="333.8" x2="220.73" y2="338.3" stroke="#000" stroke-width="1"/>
<line x1="294.70" y1="333.8" x2="294.70" y2="338.3" stroke="#000" stroke-width="1"/>
<line x1="57.2" y1="186.15" x2="61.7" y2="186.15" stroke="#000" stroke-width="1"/>

<line x1="57.2" y1="215.68" x2="61.7" y2="215.68" stroke="#000" stroke-width="1"/>

<line x1="57.2" y1="245.21" x2="61.7" y2="245.21" stroke="#000" stroke-width="1"/>

<line x1="57.2" y1="274.74" x2="61.7" y2="274.74" stroke="#000" stroke-width="1"/>

<line x1="57.2" y1="304.27" x2="61.7" y2="304.27" stroke="#000" stroke-width="1"/>

<line x1="57.2" y1="333.80" x2="61.7" y2="333.80" stroke="#000" stroke-width="1"/>

<text x="183.75" y="179.45" font-family='"Liberation Sans", sans-serif' font-size="13.6" text-anchor="middle" fill="#000">Outer solar system</text>
<path d="M228.9,266.8 H305.8 V333.8 H226.9 V268.8 Q226.9,266.8 228.9,266.8 Z" fill="#fff" fill-opacity="0.8" stroke="#333" stroke-width="1.1"/>
<line x1="230.1" y1="275.50" x2="247.6" y2="275.50" stroke="#FFA500" stroke-width="2.1"/>
<text x="255.50" y="279.80" font-family='"Liberation Sans", sans-serif' font-size="12" fill="#000">Jupiter</text>
<line x1="230.1" y1="291.50" x2="247.6" y2="291.50" stroke="#006BA4" stroke-width="2.1"/>
<text x="255.50" y="295.80" font-family='"Liberation Sans", sans-serif' font-size="12" fill="#000">Saturn</text>
<line x1="230.1" y1="307.50" x2="247.6" y2="307.50" stroke="#FF800E" stroke-width="2.1"/>
<text x="255.50" y="311.80" font-family='"Liberation Sans", sans-serif' font-size="12" fill="#000">Uranus</text>
<line x1="230.1" y1="323.50" x2="247.6" y2="323.50" stroke="#000080" stroke-width="2.1"/>
<text x="255.50" y="327.80" font-family='"Liberation Sans", sans-serif' font-size="12" fill="#000">Neptune</text>
<defs><clipPath id="cp3"><rect x="330.3" y="186.15" width="244.1" height="147.65"/></clipPath></defs>
<g clip-path="url(#cp3)" fill="none" stroke-width="1.9" stroke-linejoin="round" stroke-linecap="square">
<path d="M341.4,335.0 L341.5,332.5 L341.7,329.1 L341.9,325.1 L342.1,320.9 L342.4,316.9 L342.7,313.4 L343.0,310.5 L343.4,307.7 L343.8,305.2 L344.2,302.8 L344.7,300.5 L345.3,298.3 L345.8,296.2 L346.5,294.3 L347.2,292.5 L347.9,290.8 L348.7,289.1 L349.6,287.5 L350.5,285.9 L351.5,284.4 L352.5,282.9 L353.6,281.5 L354.8,280.2 L356.0,278.9 L357.3,277.7 L358.7,276.5 L360.1,275.5 L361.5,274.4 L363.1,273.4 L364.7,272.4 L366.3,271.5 L368.0,270.5 L369.8,269.7 L371.6,268.8 L373.5,267.9 L375.4,267.0 L377.5,266.1 L379.5,265.2 L381.6,264.3 L383.8,263.4 L386.1,262.5 L388.4,261.6 L390.8,260.7 L393.3,259.8 L395.8,258.8 L398.4,257.9 L400.9,257.0 L403.5,256.2 L406.0,255.5 L408.4,254.9 L410.9,254.3 L413.4,253.7 L415.9,253.2 L418.6,252.6 L421.4,252.0 L424.2,251.3 L427.2,250.7 L430.2,250.1 L433.0,249.6 L435.8,249.1 L438.4,248.8 L440.8,248.7 L443.1,248.6 L445.5,248.5 L448.1,248.4 L451.0,248.3 L454.2,248.0 L457.7,247.8 L461.4,247.5 L465.1,247.2 L468.9,246.9 L472.6,246.5 L476.2,246.2 L479.8,245.8 L483.3,245.5 L486.9,245.1 L490.5,244.7 L494.1,244.4 L497.7,244.1 L501.3,243.8 L504.9,243.5 L508.5,243.2 L512.1,242.9 L515.7,242.7 L519.2,242.4 L522.7,242.1 L526.1,241.9 L529.7,241.6 L533.4,241.4 L537.3,241.1 L541.8,240.9 L546.8,240.6 L552.1,240.3 L557.0,240.0 L561.2,239.8 L564.2,239.6" stroke="#FFA500" stroke-width="2.0"/>
<path d="M340.5,269.0 L340.7,271.7 L340.9,276.0 L341.1,285.3 L341.2,360.0 L341.3,287.2 L341.5,277.7 L341.7,273.1 L341.9,269.9 L342.1,267.6 L342.3,265.7 L342.5,264.1 L342.7,262.8 L342.9,261.6 L343.1,260.7 L343.3,259.8 L343.5,259.1 L343.7,258.5 L343.9,258.0 L344.1,257.9 L344.3,258.0 L344.5,258.3 L344.7,258.7 L344.9,259.4 L345.1,260.3 L345.3,261.6 L345.5,263.1 L345.7,264.9 L345.9,266.2 L346.0,266.3 L346.1,265.8 L346.3,263.2 L346.5,260.5 L346.7,258.3 L346.9,256.6 L347.1,255.3 L347.3,254.4 L347.5,253.7 L347.7,253.3 L347.9,253.2 L348.1,253.3 L348.3,253.8 L348.5,254.6 L348.7,255.8 L348.9,257.6 L349.1,260.3 L349.3,264.4 L349.5,268.1 L349.7,264.5 L349.9,260.2 L350.1,257.2 L350.3,255.1 L350.5,253.5 L350.7,252.3 L350.9,251.4 L351.1,250.8 L351.3,250.4 L351.5,250.3 L351.7,250.3 L351.9,250.6 L352.1,251.2 L352.3,252.0 L352.5,253.2 L352.7,254.9 L352.9,257.4 L353.1,261.3 L353.3,268.2 L353.4,271.3 L353.5,270.4 L353.7,266.3 L353.9,262.9 L354.1,260.2 L354.3,258.2 L354.5,256.5 L354.7,255.1 L354.9,253.9 L355.1,252.8 L355.3,251.9 L355.5,251.1 L355.7,250.4 L355.9,249.7 L356.1,249.2 L356.3,248.7 L356.5,248.2 L356.7,247.8 L356.9,247.5 L357.1,247.2 L357.3,247.0 L357.5,246.8 L357.7,246.7 L357.9,246.6 L358.1,246.6 L358.3,246.7 L358.5,246.8 L358.7,247.0 L358.9,247.2 L359.1,247.4 L359.3,247.7 L359.5,248.1 L359.7,248.4 L359.9,248.9 L360.1,249.4 L360.3,249.9 L360.5,250.5 L360.7,251.1 L360.9,251.7 L361.1,252.3 L361.3,252.9 L361.5,253.4 L361.7,253.7 L361.9,253.8 L362.1,253.6 L362.3,253.4 L362.5,253.1 L362.7,252.9 L362.9,252.6 L363.1,252.2 L363.3,251.9 L363.5,251.6 L363.7,251.2 L363.9,250.8 L364.1,250.4 L364.3,250.0 L364.5,249.6 L364.7,249.2 L364.9,248.8 L365.1,248.4 L365.3,248.0 L365.5,247.6 L365.7,247.2 L365.9,246.8 L366.1,246.4 L366.3,246.0 L366.5,245.6 L366.7,245.2 L366.9,244.8 L367.1,244.4 L367.3,244.1 L367.5,243.7 L367.7,243.3 L367.9,242.9 L368.1,242.7 L368.3,242.5 L368.5,242.3 L368.7,242.1 L368.9,241.9 L369.1,241.7 L369.3,241.5 L369.5,241.3 L369.7,241.1 L369.9,241.0 L370.1,240.8 L370.3,240.7 L370.5,240.5 L370.7,240.3 L370.9,240.2 L371.1,240.1 L371.3,239.9 L371.5,239.8 L371.7,239.7 L371.9,239.5 L372.1,239.4 L372.3,239.3 L372.5,239.2 L372.7,239.1 L372.9,239.0 L373.1,238.9 L373.3,238.8 L373.5,238.7 L373.7,238.6 L373.9,238.5 L374.1,238.5 L374.3,238.5 L374.5,238.5 L374.7,238.5 L374.9,238.5 L375.1,238.5 L375.3,238.5 L375.5,238.5 L375.7,238.5 L375.9,238.6 L376.1,238.6 L376.3,238.6 L376.5,238.7 L376.7,238.7 L376.9,238.8 L377.1,238.8 L377.3,238.9 L377.5,238.9 L377.7,239.0 L377.9,239.1 L378.1,239.2 L378.3,239.3 L378.5,239.3 L378.7,239.4 L378.9,239.6 L379.1,239.7 L379.3,239.8 L379.5,239.9 L379.7,240.0 L379.9,240.2 L380.1,240.3 L380.3,240.4 L380.5,240.6 L380.7,240.7 L380.9,240.9 L381.1,241.1 L381.3,241.3 L381.5,241.4 L381.7,241.7 L381.9,241.9 L382.1,242.1 L382.3,242.4 L382.5,242.7 L382.7,243.0 L382.9,243.3 L383.1,243.6 L383.3,243.9 L383.5,244.3 L383.7,244.6 L383.9,245.0 L384.1,245.4 L384.3,245.8 L384.5,246.2 L384.7,246.7 L384.9,247.2 L385.1,247.7 L385.3,248.2 L385.5,248.8 L385.7,249.3 L385.9,250.0 L386.1,250.7 L386.3,251.4 L386.5,252.2 L386.7,253.0 L386.9,254.0 L387.1,255.1 L387.3,256.2 L387.5,257.6 L387.7,259.2 L387.9,261.2 L388.1,263.9 L388.3,267.7 L388.5,273.8 L388.7,285.3 L388.9,263.4 L389.1,257.9 L389.3,254.9 L389.5,252.9 L389.7,251.5 L389.9,250.5 L390.1,249.7 L390.3,249.2 L390.5,248.8 L390.7,248.5 L390.9,248.3 L391.1,248.3 L391.3,248.3 L391.5,248.4 L391.7,247.7 L391.9,247.0 L392.1,246.4 L392.3,245.9 L392.5,245.3 L392.7,244.8 L392.9,244.3 L393.1,243.8 L393.3,243.5 L393.5,243.2 L393.7,242.8 L393.9,242.5 L394.1,242.2 L394.3,241.8 L394.5,241.5 L394.7,241.2 L394.9,240.9 L395.1,240.7 L395.3,240.5 L395.5,240.3 L395.7,240.1 L395.9,239.9 L396.1,239.7 L396.3,239.5 L396.5,239.3 L396.7,239.1 L396.9,238.9 L397.1,238.7 L397.3,238.5 L397.5,238.3 L397.7,238.2 L397.9,238.0 L398.1,237.9 L398.3,237.7 L398.5,237.6 L398.7,237.4 L398.9,237.3 L399.1,237.1 L399.3,237.0 L399.5,236.8 L399.7,236.7 L399.9,236.5 L400.1,236.4 L400.3,236.2 L400.5,236.1 L400.7,235.9 L400.9,235.8 L401.1,235.7 L401.3,235.6 L401.5,235.4 L401.7,235.3 L401.9,235.2 L402.1,235.1 L402.3,234.9 L402.5,234.8 L402.7,234.7 L402.9,234.6 L403.1,234.5 L403.3,234.3 L403.5,234.2 L403.7,234.1 L403.9,234.0 L404.1,233.8 L404.3,233.7 L404.5,233.6 L404.7,233.5 L404.9,233.4 L405.1,233.2 L405.3,233.2 L405.5,233.1 L405.7,233.0 L405.9,232.9 L406.1,232.8 L406.3,232.7 L406.5,232.6 L406.7,232.5 L406.9,232.4 L407.1,232.3 L407.3,232.2 L407.5,232.2 L407.7,232.1 L407.9,232.0 L408.1,231.9 L408.3,231.8 L408.5,231.7 L408.7,231.6 L408.9,231.5 L409.1,231.4 L409.3,231.3 L409.5,231.2 L409.7,231.1 L409.9,231.1 L410.1,231.0 L410.3,230.9 L410.5,230.8 L410.7,230.7 L410.9,230.6 L411.1,230.6 L411.3,230.5 L411.5,230.4 L411.7,230.3 L411.9,230.2 L412.1,230.1 L412.3,230.1 L412.5,230.0 L412.7,229.9 L412.9,229.8 L413.1,229.7 L413.3,229.7 L413.5,229.6 L413.7,229.5 L413.9,229.4 L414.1,229.4 L414.3,229.3 L414.5,229.3 L414.7,229.3 L414.9,229.2 L415.1,229.2 L415.3,229.2 L415.5,229.2 L415.7,229.1 L415.9,229.1 L416.1,229.1 L416.3,229.0 L416.5,229.0 L416.7,229.0 L416.9,228.9 L417.1,228.9 L417.3,228.9 L417.5,228.8 L417.7,228.8 L417.9,228.8 L418.1,228.7 L418.3,228.7 L418.5,228.7 L418.7,228.6 L418.9,228.6 L419.1,228.6 L419.3,228.6 L419.5,228.5 L419.7,228.5 L419.9,228.4 L420.1,228.4 L420.3,228.4 L420.5,228.4 L420.7,228.3 L420.9,228.3 L421.1,228.3 L421.3,228.2 L421.5,228.2 L421.7,228.2 L421.9,228.1 L422.1,228.1 L422.3,228.1 L422.5,228.0 L422.7,228.0 L422.9,228.0 L423.1,227.9 L423.3,227.9 L423.5,227.9 L423.7,227.8 L423.9,227.8 L424.1,227.8 L424.3,227.8 L424.5,227.7 L424.7,227.7 L424.9,227.7 L425.1,227.6 L425.3,227.6 L425.5,227.6 L425.7,227.5 L425.9,227.5 L426.1,227.5 L426.3,227.4 L426.5,227.4 L426.7,227.4 L426.9,227.3 L427.1,227.3 L427.3,227.3 L427.5,227.2 L427.7,227.2 L427.9,227.2 L428.1,227.2 L428.3,227.1 L428.5,227.1 L428.7,227.1 L428.9,227.0 L429.1,227.0 L429.3,227.0 L429.5,226.9 L429.7,226.9 L429.9,226.9 L430.1,226.8 L430.3,226.8 L430.5,226.8 L430.7,226.7 L430.9,226.7 L431.1,226.7 L431.3,226.7 L431.5,226.6 L431.7,226.6 L431.9,226.6 L432.1,226.5 L432.3,226.5 L432.5,226.5 L432.7,226.4 L432.9,226.4 L433.1,226.4 L433.3,226.3 L433.5,226.3 L433.7,226.3 L433.9,226.2 L434.1,226.2 L434.3,226.2 L434.5,226.1 L434.7,226.1 L434.9,226.1 L435.1,226.1 L435.3,226.0 L435.5,226.0 L435.7,226.0 L435.9,225.9 L436.1,225.9 L436.3,225.9 L436.5,225.9 L436.7,225.9 L436.9,225.8 L437.1,225.8 L437.3,225.8 L437.5,225.8 L437.7,225.8 L437.9,225.7 L438.1,225.7 L438.3,225.7 L438.5,225.7 L438.7,225.7 L438.9,225.6 L439.1,225.6 L439.3,225.6 L439.5,225.6 L439.7,225.5 L439.9,225.5 L440.1,225.5 L440.3,225.5 L440.5,225.4 L440.7,225.4 L440.9,225.4 L441.1,225.4 L441.3,225.4 L441.5,225.3 L441.7,225.3 L441.9,225.3 L442.1,225.3 L442.3,225.3 L442.5,225.2 L442.7,225.2 L442.9,225.2 L443.1,225.2 L443.3,225.2 L443.5,225.1 L443.7,225.1 L443.9,225.1 L444.1,225.1 L444.3,225.1 L444.5,225.0 L444.7,225.0 L444.9,225.0 L445.1,225.0 L445.3,224.9 L445.5,224.9 L445.7,224.9 L445.9,224.9 L446.1,224.9 L446.3,224.8 L446.5,224.8 L446.7,224.8 L446.9,224.8 L447.1,224.8 L447.3,224.7 L447.5,224.7 L447.7,224.7 L447.9,224.7 L448.1,224.6 L448.3,224.6 L448.5,224.6 L448.7,224.6 L448.9,224.6 L449.1,224.5 L449.3,224.5 L449.5,224.5 L449.7,224.5 L449.9,224.4 L450.1,224.4 L450.3,224.4 L450.5,224.4 L450.7,224.4 L450.9,224.3 L451.1,224.3 L451.3,224.3 L451.5,224.3 L451.7,224.3 L451.9,224.2 L452.1,224.2 L452.3,224.2 L452.5,224.2 L452.7,224.2 L452.9,224.1 L453.1,224.1 L453.3,224.1 L453.5,224.1 L453.7,224.0 L453.9,224.0 L454.1,224.0 L454.3,224.0 L454.5,224.0 L454.7,223.9 L454.9,223.9 L455.1,223.9 L455.3,223.9 L455.5,223.8 L455.7,223.8 L455.9,223.8 L456.1,223.8 L456.3,223.8 L456.5,223.7 L456.7,223.7 L456.9,223.7 L457.1,223.7 L457.3,223.7 L457.5,223.7 L457.7,223.6 L457.9,223.6 L458.1,223.6 L458.3,223.6 L458.5,223.6 L458.7,223.6 L458.9,223.6 L459.1,223.5 L459.3,223.5 L459.5,223.5 L459.7,223.5 L459.9,223.5 L460.1,223.5 L460.3,223.5 L460.5,223.4 L460.7,223.4 L460.9,223.4 L461.1,223.4 L461.3,223.4 L461.5,223.4 L461.7,223.4 L461.9,223.3 L462.1,223.3 L462.3,223.3 L462.5,223.3 L462.7,223.3 L462.9,223.3 L463.1,223.2 L463.3,223.2 L463.5,223.2 L463.7,223.2 L463.9,223.2 L464.1,223.2 L464.3,223.2 L464.5,223.2 L464.7,223.1 L464.9,223.1 L465.1,223.1 L465.3,223.1 L465.5,223.1 L465.7,223.1 L465.9,223.1 L466.1,223.0 L466.3,223.0 L466.5,223.0 L466.7,223.0 L466.9,223.0 L467.1,223.0 L467.3,222.9 L467.5,222.9 L467.7,222.9 L467.9,222.9 L468.1,222.9 L468.3,222.9 L468.5,222.9 L468.7,222.8 L468.9,222.8 L469.1,222.8 L469.3,222.8 L469.5,222.8 L469.7,222.8 L469.9,222.8 L470.1,222.8 L470.3,222.7 L470.5,222.7 L470.7,222.7 L470.9,222.7 L471.1,222.7 L471.3,222.7 L471.5,222.7 L471.7,222.6 L471.9,222.6 L472.1,222.6 L472.3,222.6 L472.5,222.6 L472.7,222.6 L472.9,222.6 L473.1,222.5 L473.3,222.5 L473.5,222.5 L473.7,222.5 L473.9,222.5 L474.1,222.5 L474.3,222.4 L474.5,222.4 L474.7,222.4 L474.9,222.4 L475.1,222.4 L475.3,222.4 L475.5,222.4 L475.7,222.4 L475.9,222.3 L476.1,222.3 L476.3,222.3 L476.5,222.3 L476.7,222.3 L476.9,222.3 L477.1,222.3 L477.3,222.3 L477.5,222.3 L477.7,222.2 L477.9,222.2 L478.1,222.2 L478.3,222.2 L478.5,222.2 L478.7,222.2 L478.9,222.2 L479.1,222.2 L479.3,222.2 L479.5,222.2 L479.7,222.1 L479.9,222.1 L480.1,222.1 L480.3,222.1 L480.5,222.1 L480.7,222.1 L480.9,222.1 L481.1,222.1 L481.3,222.0 L481.5,222.0 L481.7,222.0 L481.9,222.0 L482.1,222.0 L482.3,222.0 L482.5,222.0 L482.7,222.0 L482.9,221.9 L483.1,221.9 L483.3,221.9 L483.5,221.9 L483.7,221.9 L483.9,221.9 L484.1,221.9 L484.3,221.9 L484.5,221.9 L484.7,221.8 L484.9,221.8 L485.1,221.8 L485.3,221.8 L485.5,221.8 L485.7,221.8 L485.9,221.8 L486.1,221.8 L486.3,221.8 L486.5,221.8 L486.7,221.7 L486.9,221.7 L487.1,221.7 L487.3,221.7 L487.5,221.7 L487.7,221.7 L487.9,221.7 L488.1,221.7 L488.3,221.7 L488.5,221.6 L488.7,221.6 L488.9,221.6 L489.1,221.6 L489.3,221.6 L489.5,221.6 L489.7,221.6 L489.9,221.6 L490.1,221.6 L490.3,221.5 L490.5,221.5 L490.7,221.5 L490.9,221.5 L491.1,221.5 L491.3,221.5 L491.5,221.5 L491.7,221.5 L491.9,221.4 L492.1,221.4 L492.3,221.4 L492.5,221.4 L492.7,221.4 L492.9,221.4 L493.1,221.4 L493.3,221.4 L493.5,221.4 L493.7,221.3 L493.9,221.3 L494.1,221.3 L494.3,221.3 L494.5,221.3 L494.7,221.3 L494.9,221.3 L495.1,221.3 L495.3,221.2 L495.5,221.2 L495.7,221.2 L495.9,221.2 L496.1,221.2 L496.3,221.2 L496.5,221.2 L496.7,221.2 L496.9,221.2 L497.1,221.2 L497.3,221.1 L497.5,221.1 L497.7,221.1 L497.9,221.1 L498.1,221.1 L498.3,221.1 L498.5,221.1 L498.7,221.1 L498.9,221.1 L499.1,221.0 L499.3,221.0 L499.5,221.0 L499.7,221.0 L499.9,221.0 L500.1,221.0 L500.3,221.0 L500.5,221.0 L500.7,221.0 L500.9,221.0 L501.1,220.9 L501.3,220.9 L501.5,220.9 L501.7,220.9 L501.9,220.9 L502.1,220.9 L502.3,220.9 L502.5,220.9 L502.7,220.9 L502.9,220.9 L503.1,220.9 L503.3,220.9 L503.5,220.8 L503.7,220.8 L503.9,220.8 L504.1,220.8 L504.3,220.8 L504.5,220.8 L504.7,220.8 L504.9,220.8 L505.1,220.8 L505.3,220.8 L505.5,220.8 L505.7,220.8 L505.9,220.8 L506.1,220.8 L506.3,220.7 L506.5,220.7 L506.7,220.7 L506.9,220.7 L507.1,220.7 L507.3,220.7 L507.5,220.7 L507.7,220.7 L507.9,220.7 L508.1,220.7 L508.3,220.7 L508.5,220.7 L508.7,220.7 L508.9,220.6 L509.1,220.6 L509.3,220.6 L509.5,220.6 L509.7,220.6 L509.9,220.6 L510.1,220.6 L510.3,220.6 L510.5,220.6 L510.7,220.6 L510.9,220.6 L511.1,220.6 L511.3,220.5 L511.5,220.5 L511.7,220.5 L511.9,220.5 L512.1,220.5 L512.3,220.5 L512.5,220.5 L512.7,220.5 L512.9,220.5 L513.1,220.5 L513.3,220.5 L513.5,220.5 L513.7,220.4 L513.9,220.4 L514.1,220.4 L514.3,220.4 L514.5,220.4 L514.7,220.4 L514.9,220.4 L515.1,220.4 L515.3,220.4 L515.5,220.4 L515.7,220.4 L515.9,220.4 L516.1,220.3 L516.3,220.3 L516.5,220.3 L516.7,220.3 L516.9,220.3 L517.1,220.3 L517.3,220.3 L517.5,220.3 L517.7,220.3 L517.9,220.3 L518.1,220.3 L518.3,220.3 L518.5,220.3 L518.7,220.2 L518.9,220.2 L519.1,220.2 L519.3,220.2 L519.5,220.2 L519.7,220.2 L519.9,220.2 L520.1,220.2 L520.3,220.2 L520.5,220.2 L520.7,220.2 L520.9,220.2 L521.1,220.2 L521.3,220.2 L521.5,220.1 L521.7,220.1 L521.9,220.1 L522.1,220.1 L522.3,220.1 L522.5,220.1 L522.7,220.1 L522.9,220.1 L523.1,220.1 L523.3,220.1 L523.5,220.1 L523.7,220.1 L523.9,220.0 L524.1,220.0 L524.3,220.0 L524.5,220.0 L524.7,220.0 L524.9,220.0 L525.1,220.0 L525.3,220.0 L525.5,220.0 L525.7,220.0 L525.9,220.0 L526.1,219.9 L526.3,219.9 L526.5,219.9 L526.7,219.9 L526.9,219.9 L527.1,219.9 L527.3,219.9 L527.5,219.9 L527.7,219.9 L527.9,219.9 L528.1,219.9 L528.3,219.9 L528.5,219.9 L528.7,219.8 L528.9,219.8 L529.1,219.8 L529.3,219.8 L529.5,219.8 L529.7,219.8 L529.9,219.8 L530.1,219.8 L530.3,219.8 L530.5,219.8 L530.7,219.8 L530.9,219.8 L531.1,219.8 L531.3,219.8 L531.5,219.8 L531.7,219.8 L531.9,219.8 L532.1,219.8 L532.3,219.8 L532.5,219.8 L532.7,219.8 L532.9,219.8 L533.1,219.8 L533.3,219.8 L533.5,219.8 L533.7,219.8 L533.9,219.7 L534.1,219.7 L534.3,219.7 L534.5,219.7 L534.7,219.7 L534.9,219.7 L535.1,219.7 L535.3,219.7 L535.5,219.7 L535.7,219.7 L535.9,219.7 L536.1,219.7 L536.3,219.7 L536.5,219.7 L536.7,219.7 L536.9,219.7 L537.1,219.7 L537.3,219.7 L537.5,219.7 L537.7,219.7 L537.9,219.7 L538.1,219.7 L538.3,219.7 L538.5,219.7 L538.7,219.7 L538.9,219.7 L539.1,219.7 L539.3,219.7 L539.5,219.7 L539.7,219.7 L539.9,219.7 L540.1,219.7 L540.3,219.7 L540.5,219.7 L540.7,219.6 L540.9,219.6 L541.1,219.6 L541.3,219.6 L541.5,219.6 L541.7,219.6 L541.9,219.6 L542.1,219.6 L542.3,219.6 L542.5,219.6 L542.7,219.6 L542.9,219.6 L543.1,219.6 L543.3,219.6 L543.5,219.6 L543.7,219.6 L543.9,219.6 L544.1,219.6 L544.3,219.6 L544.5,219.6 L544.7,219.6 L544.9,219.6 L545.1,219.6 L545.3,219.6 L545.5,219.6 L545.7,219.6 L545.9,219.6 L546.1,219.6 L546.3,219.6 L546.5,219.6 L546.7,219.6 L546.9,219.6 L547.1,219.6 L547.3,219.6 L547.5,219.5 L547.7,219.5 L547.9,219.5 L548.1,219.5 L548.3,219.5 L548.5,219.5 L548.7,219.5 L548.9,219.5 L549.1,219.5 L549.3,219.5 L549.5,219.5 L549.7,219.5 L549.9,219.5 L550.1,219.5 L550.3,219.5 L550.5,219.5 L550.7,219.5 L550.9,219.5 L551.1,219.5 L551.3,219.5 L551.5,219.5 L551.7,219.5 L551.9,219.5 L552.1,219.5 L552.3,219.5 L552.5,219.5 L552.7,219.5 L552.9,219.5 L553.1,219.5 L553.3,219.5 L553.5,219.5 L553.7,219.4 L553.9,219.4 L554.1,219.4 L554.3,219.4 L554.5,219.4 L554.7,219.4 L554.9,219.4 L555.1,219.4 L555.3,219.4 L555.5,219.4 L555.7,219.4 L555.9,219.4 L556.1,219.4 L556.3,219.4 L556.5,219.4 L556.7,219.4 L556.9,219.4 L557.1,219.4 L557.3,219.4 L557.5,219.4 L557.7,219.4 L557.9,219.4 L558.1,219.4 L558.3,219.4 L558.5,219.4 L558.7,219.4 L558.9,219.4 L559.1,219.4 L559.3,219.4 L559.5,219.4 L559.7,219.4 L559.9,219.4 L560.1,219.4 L560.3,219.4 L560.5,219.3 L560.7,219.3 L560.9,219.3 L561.1,219.3 L561.3,219.3 L561.5,219.3 L561.7,219.3 L561.9,219.3 L562.1,219.3 L562.3,219.3 L562.5,219.3 L562.7,219.3 L562.9,219.3 L563.1,219.3 L563.3,219.3 L563.5,219.3 L563.7,219.3 L563.9,219.3 L564.1,219.3" stroke="#006BA4" stroke-width="2.0"/>
<path d="M340.5,273.7 L340.7,278.0 L340.9,287.4 L341.0,360.0 L341.1,285.4 L341.3,275.6 L341.5,270.9 L341.7,267.7 L341.9,265.3 L342.1,263.4 L342.3,261.8 L342.5,260.4 L342.7,259.3 L342.9,258.4 L343.1,257.6 L343.3,256.9 L343.5,256.4 L343.7,255.9 L343.9,255.5 L344.1,255.0 L344.3,254.6 L344.5,254.3 L344.7,254.1 L344.9,254.0 L345.1,254.2 L345.3,254.7 L345.5,255.4 L345.7,256.2 L345.9,257.1 L346.1,258.4 L346.3,259.8 L346.5,261.7 L346.7,263.9 L346.9,266.5 L347.1,267.9 L347.1,267.9 L347.3,265.3 L347.5,261.5 L347.7,258.7 L347.9,256.6 L348.1,255.0 L348.3,253.9 L348.5,253.0 L348.7,252.4 L348.9,252.0 L349.1,251.8 L349.3,251.9 L349.5,252.1 L349.7,252.6 L349.9,253.2 L350.1,254.2 L350.3,255.6 L350.5,257.4 L350.7,259.9 L350.9,263.2 L351.1,265.9 L351.1,265.9 L351.3,263.2 L351.5,259.0 L351.7,256.1 L351.9,254.1 L352.1,252.7 L352.3,251.8 L352.5,251.2 L352.7,251.1 L352.9,251.2 L353.1,251.6 L353.3,252.5 L353.5,253.7 L353.7,255.6 L353.9,258.2 L354.1,262.4 L354.3,267.4 L354.3,267.7 L354.5,263.4 L354.7,258.1 L354.9,255.1 L355.1,253.1 L355.3,252.0 L355.5,251.4 L355.7,251.3 L355.9,251.7 L356.1,252.7 L356.3,254.3 L356.5,256.9 L356.7,261.0 L356.9,266.3 L356.9,266.5 L357.1,264.1 L357.3,260.0 L357.5,257.1 L357.7,255.0 L357.9,253.6 L358.1,252.6 L358.3,251.9 L358.5,251.6 L358.7,251.5 L358.9,251.7 L359.1,252.2 L359.3,253.1 L359.5,254.3 L359.7,256.1 L359.9,258.7 L360.1,262.7 L360.3,269.1 L360.4,270.8 L360.5,266.1 L360.7,259.2 L360.9,255.7 L361.1,253.6 L361.3,252.3 L361.5,251.8 L361.7,251.8 L361.9,252.4 L362.1,253.6 L362.3,255.6 L362.5,258.6 L362.7,262.4 L362.8,263.3 L362.9,262.4 L363.1,258.7 L363.3,255.7 L363.5,253.8 L363.7,252.6 L363.9,252.0 L364.1,252.0 L364.3,252.6 L364.5,253.8 L364.7,255.9 L364.9,259.5 L365.1,266.2 L365.2,270.4 L365.3,269.0 L365.5,263.2 L365.7,259.3 L365.9,256.8 L366.1,255.0 L366.3,253.7 L366.5,252.8 L366.7,252.3 L366.9,252.0 L367.1,252.0 L367.3,252.2 L367.5,252.7 L367.7,253.4 L367.9,254.3 L368.1,255.5 L368.3,257.0 L368.5,258.4 L368.7,259.5 L368.8,259.6 L368.9,259.4 L369.1,258.6 L369.3,257.3 L369.5,256.0 L369.7,254.9 L369.9,253.9 L370.1,253.2 L370.3,252.6 L370.5,252.3 L370.7,252.1 L370.9,252.0 L371.1,252.2 L371.3,252.5 L371.5,253.1 L371.7,253.9 L371.9,255.0 L372.1,256.6 L372.3,258.6 L372.5,261.6 L372.7,266.2 L372.9,271.6 L372.9,271.6 L373.1,266.0 L373.3,260.9 L373.5,257.8 L373.7,255.6 L373.9,254.2 L374.1,253.1 L374.3,252.5 L374.5,252.1 L374.7,252.0 L374.9,252.2 L375.1,252.7 L375.3,253.4 L375.5,254.6 L375.7,256.2 L375.9,258.4 L376.1,261.6 L376.3,265.4 L376.4,266.4 L376.5,265.1 L376.7,260.0 L376.9,256.5 L377.1,254.3 L377.3,252.9 L377.5,252.2 L377.7,252.0 L377.9,252.2 L378.1,252.9 L378.3,254.1 L378.5,255.7 L378.7,257.5 L378.9,258.8 L378.9,258.9 L379.1,258.6 L379.3,257.4 L379.5,255.9 L379.7,254.6 L379.9,253.5 L380.1,252.7 L380.3,252.2 L380.5,252.0 L380.7,252.0 L380.9,252.3 L381.1,252.8 L381.3,253.7 L381.5,254.8 L381.7,256.2 L381.9,257.8 L382.1,258.9 L382.2,259.1 L382.3,258.9 L382.5,257.3 L382.7,255.3 L382.9,253.8 L383.1,252.7 L383.3,252.0 L383.5,251.8 L383.7,252.0 L383.9,252.6 L384.1,253.8 L384.3,255.5 L384.5,257.9 L384.7,260.4 L384.8,260.9 L384.9,260.5 L385.1,257.7 L385.3,255.0 L385.5,253.2 L385.7,252.1 L385.9,251.6 L386.1,251.7 L386.3,252.5 L386.5,253.9 L386.7,256.3 L386.9,260.0 L387.1,263.3 L387.1,263.3 L387.3,261.4 L387.5,258.3 L387.7,255.8 L387.9,254.0 L388.1,252.8 L388.3,252.0 L388.5,251.5 L388.7,251.4 L388.9,251.7 L389.1,252.3 L389.3,253.3 L389.5,254.9 L389.7,257.3 L389.9,260.9 L390.1,266.1 L390.2,267.6 L390.3,266.0 L390.5,260.9 L390.7,257.4 L390.9,255.1 L391.1,253.4 L391.3,252.3 L391.5,251.6 L391.7,251.3 L391.9,251.2 L392.1,251.5 L392.3,252.1 L392.5,253.1 L392.7,254.6 L392.9,256.6 L393.1,259.6 L393.3,263.3 L393.4,264.7 L393.5,264.2 L393.7,260.6 L393.9,257.4 L394.1,255.0 L394.3,253.3 L394.5,252.2 L394.7,251.5 L394.9,251.1 L395.1,251.0 L395.3,251.2 L395.5,251.8 L395.7,252.8 L395.9,254.2 L396.1,256.2 L396.3,259.2 L396.5,263.1 L396.6,264.5 L396.7,264.0 L396.9,260.1 L397.1,256.7 L397.3,254.3 L397.5,252.6 L397.7,251.5 L397.9,250.8 L398.1,250.4 L398.3,250.4 L398.5,250.7 L398.7,251.3 L398.9,252.3 L399.1,253.7 L399.3,255.6 L399.5,257.8 L399.7,259.4 L399.8,259.4 L399.9,259.0 L400.1,257.5 L400.3,255.8 L400.5,254.2 L400.7,252.9 L400.9,251.8 L401.1,251.0 L401.3,250.3 L401.5,249.9 L401.7,249.7 L401.9,249.6 L402.1,249.8 L402.3,250.1 L402.5,250.6 L402.7,251.4 L402.9,252.5 L403.1,254.0 L403.3,256.1 L403.5,258.9 L403.7,263.1 L403.9,267.0 L403.9,267.0 L404.1,265.1 L404.3,262.0 L404.5,259.3 L404.7,257.2 L404.9,255.5 L405.1,254.1 L405.3,253.0 L405.5,252.0 L405.7,251.2 L405.9,250.6 L406.1,250.0 L406.3,249.6 L406.5,249.2 L406.7,248.9 L406.9,248.7 L407.1,248.6 L407.3,248.6 L407.5,248.6 L407.7,248.7 L407.9,248.9 L408.1,249.1 L408.3,249.5 L408.5,249.9 L408.7,250.5 L408.9,251.1 L409.1,251.9 L409.3,252.9 L409.5,254.0 L409.7,255.4 L409.9,257.1 L410.1,259.0 L410.3,260.9 L410.5,261.9 L410.5,262.0 L410.7,260.8 L410.9,258.1 L411.1,255.7 L411.3,253.7 L411.5,252.1 L411.7,250.9 L411.9,249.9 L412.1,249.2 L412.3,248.6 L412.5,248.1 L412.7,247.9 L412.9,247.7 L413.1,247.7 L413.3,247.8 L413.5,248.1 L413.7,248.4 L413.9,248.9 L414.1,249.6 L414.3,250.4 L414.5,251.4 L414.7,252.5 L414.9,253.7 L415.1,254.9 L415.3,255.7 L415.4,255.8 L415.5,255.7 L415.7,255.0 L415.9,253.8 L416.1,252.5 L416.3,251.3 L416.5,250.3 L416.7,249.4 L416.9,248.7 L417.1,248.1 L417.3,247.7 L417.5,247.4 L417.7,247.2 L417.9,247.2 L418.1,247.3 L418.3,247.5 L418.5,247.8 L418.7,248.3 L418.9,248.8 L419.1,249.5 L419.3,250.3 L419.5,251.2 L419.7,252.2 L419.9,253.0 L420.1,253.5 L420.2,253.6 L420.3,253.6 L420.5,253.3 L420.7,252.8 L420.9,252.1 L421.1,251.4 L421.3,250.6 L421.5,249.9 L421.7,249.3 L421.9,248.7 L422.1,248.2 L422.3,247.8 L422.5,247.4 L422.7,247.2 L422.9,246.9 L423.1,246.8 L423.3,246.7 L423.5,246.7 L423.7,246.7 L423.9,246.8 L424.1,247.0 L424.3,247.3 L424.5,247.7 L424.7,248.2 L424.9,248.7 L425.1,249.4 L425.3,250.2 L425.5,251.0 L425.7,252.1 L425.9,253.2 L426.1,254.3 L426.3,255.4 L426.5,256.0 L426.6,256.1 L426.7,256.0 L426.9,255.4 L427.1,254.4 L427.3,253.2 L427.5,252.1 L427.7,251.1 L427.9,250.1 L428.1,249.3 L428.3,248.6 L428.5,248.0 L428.7,247.5 L428.9,247.0 L429.1,246.7 L429.3,246.4 L429.5,246.2 L429.7,246.1 L429.9,246.0 L430.1,246.1 L430.3,246.2 L430.5,246.4 L430.7,246.7 L430.9,247.0 L431.1,247.4 L431.3,247.9 L431.5,248.5 L431.7,249.2 L431.9,250.0 L432.1,250.9 L432.3,251.8 L432.5,252.9 L432.7,254.0 L432.9,254.9 L433.1,255.6 L433.2,255.8 L433.3,255.7 L433.5,255.4 L433.7,254.7 L433.9,253.8 L434.1,252.8 L434.3,251.9 L434.5,251.1 L434.7,250.4 L434.9,249.7 L435.1,249.2 L435.3,248.7 L435.5,248.3 L435.7,247.9 L435.9,247.7 L436.1,247.5 L436.3,247.3 L436.5,247.3 L436.7,247.3 L436.9,247.3 L437.1,247.4 L437.3,247.6 L437.5,247.9 L437.7,248.2 L437.9,248.6 L438.1,249.1 L438.3,249.7 L438.5,250.3 L438.7,251.1 L438.9,252.0 L439.1,253.0 L439.3,254.2 L439.5,255.5 L439.7,256.9 L439.9,258.4 L440.1,259.4 L440.3,259.8 L440.3,259.7 L440.5,257.9 L440.7,255.4 L440.9,253.2 L441.1,251.6 L441.3,250.4 L441.5,249.5 L441.7,248.9 L441.9,248.5 L442.1,248.3 L442.3,248.4 L442.5,248.6 L442.7,249.0 L442.9,249.6 L443.1,250.3 L443.3,251.2 L443.5,252.3 L443.7,253.3 L443.9,254.2 L444.1,254.6 L444.1,254.6 L444.3,254.5 L444.5,254.3 L444.7,253.9 L444.9,253.4 L445.1,252.8 L445.3,252.3 L445.5,251.8 L445.7,251.3 L445.9,250.8 L446.1,250.5 L446.3,250.1 L446.5,249.9 L446.7,249.7 L446.9,249.5 L447.1,249.4 L447.3,249.3 L447.5,249.3 L447.7,249.4 L447.9,249.5 L448.1,249.7 L448.3,249.9 L448.5,250.1 L448.7,250.4 L448.9,250.8 L449.1,251.2 L449.3,251.7 L449.5,252.2 L449.7,252.7 L449.9,253.2 L450.1,253.8 L450.3,254.3 L450.5,254.7 L450.7,255.1 L450.9,255.2 L451.0,255.3 L451.1,254.8 L451.3,253.3 L451.5,251.7 L451.7,250.5 L451.9,249.7 L452.1,249.4 L452.3,249.6 L452.5,250.4 L452.7,251.8 L452.9,253.8 L453.1,255.8 L453.2,256.1 L453.3,256.0 L453.5,255.9 L453.7,255.7 L453.9,255.5 L454.1,255.2 L454.3,255.0 L454.5,254.7 L454.7,254.4 L454.9,254.1 L455.1,253.8 L455.3,253.4 L455.5,253.1 L455.7,252.7 L455.9,252.4 L456.1,252.0 L456.3,251.7 L456.5,251.3 L456.7,251.0 L456.9,250.7 L457.1,250.3 L457.3,250.0 L457.5,249.7 L457.7,249.3 L457.9,249.0 L458.1,248.7 L458.3,248.4 L458.5,248.2 L458.7,247.9 L458.9,247.6 L459.1,247.3 L459.3,247.1 L459.5,246.8 L459.7,246.6 L459.9,246.3 L460.1,246.1 L460.3,246.0 L460.5,245.8 L460.7,245.7 L460.9,245.6 L461.1,245.4 L461.3,245.3 L461.5,245.2 L461.7,245.1 L461.9,245.0 L462.1,244.9 L462.3,244.8 L462.5,244.7 L462.7,244.7 L462.9,244.6 L463.1,244.5 L463.3,244.5 L463.5,244.4 L463.7,244.4 L463.9,244.3 L464.1,244.3 L464.3,244.3 L464.5,244.3 L464.7,244.3 L464.9,244.3 L465.1,244.3 L465.3,244.3 L465.5,244.3 L465.7,244.3 L465.9,244.4 L466.1,244.4 L466.3,244.4 L466.5,244.5 L466.7,244.6 L466.9,244.6 L467.1,244.7 L467.3,244.8 L467.5,244.9 L467.7,245.0 L467.9,245.1 L468.1,245.3 L468.3,245.4 L468.5,245.6 L468.7,245.7 L468.9,245.9 L469.1,246.1 L469.3,246.2 L469.5,246.5 L469.7,246.7 L469.9,246.9 L470.1,247.2 L470.3,247.4 L470.5,247.7 L470.7,248.0 L470.9,248.3 L471.1,248.7 L471.3,249.0 L471.5,249.4 L471.7,249.8 L471.9,250.2 L472.1,250.7 L472.3,251.2 L472.5,251.7 L472.7,252.3 L472.9,252.8 L473.1,253.5 L473.3,254.1 L473.5,254.8 L473.7,255.4 L473.9,256.0 L474.1,256.6 L474.3,257.1 L474.5,257.4 L474.7,257.4 L474.9,257.3 L475.1,257.1 L475.3,256.8 L475.5,256.4 L475.7,255.9 L475.9,255.3 L476.1,254.8 L476.3,254.2 L476.5,253.7 L476.7,253.2 L476.9,252.6 L477.1,252.1 L477.3,251.7 L477.5,251.2 L477.7,250.8 L477.9,250.3 L478.1,249.9 L478.3,249.5 L478.5,249.2 L478.7,248.8 L478.9,248.5 L479.1,248.2 L479.3,247.8 L479.5,247.6 L479.7,247.3 L479.9,247.0 L480.1,246.7 L480.3,246.5 L480.5,246.2 L480.7,246.0 L480.9,245.8 L481.1,245.6 L481.3,245.4 L481.5,245.2 L481.7,245.0 L481.9,244.8 L482.1,244.7 L482.3,244.5 L482.5,244.4 L482.7,244.2 L482.9,244.1 L483.1,243.9 L483.3,243.8 L483.5,243.7 L483.7,243.6 L483.9,243.5 L484.1,243.4 L484.3,243.3 L484.5,243.2 L484.7,243.1 L484.9,243.0 L485.1,242.9 L485.3,242.9 L485.5,242.8 L485.7,242.7 L485.9,242.7 L486.1,242.6 L486.3,242.6 L486.5,242.5 L486.7,242.5 L486.9,242.4 L487.1,242.4 L487.3,242.4 L487.5,242.4 L487.7,242.4 L487.9,242.3 L488.1,242.3 L488.3,242.3 L488.5,242.3 L488.7,242.3 L488.9,242.4 L489.1,242.4 L489.3,242.4 L489.5,242.4 L489.7,242.4 L489.9,242.5 L490.1,242.5 L490.3,242.5 L490.5,242.6 L490.7,242.6 L490.9,242.7 L491.1,242.7 L491.3,242.8 L491.5,242.8 L491.7,242.9 L491.9,243.0 L492.1,243.0 L492.3,243.1 L492.5,243.2 L492.7,243.3 L492.9,243.4 L493.1,243.4 L493.3,243.6 L493.5,243.7 L493.7,243.8 L493.9,243.9 L494.1,244.0 L494.3,244.1 L494.5,244.2 L494.7,244.4 L494.9,244.5 L495.1,244.6 L495.3,244.8 L495.5,244.9 L495.7,245.1 L495.9,245.2 L496.1,245.4 L496.3,245.5 L496.5,245.7 L496.7,245.9 L496.9,246.1 L497.1,246.2 L497.3,246.4 L497.5,246.6 L497.7,246.8 L497.9,247.0 L498.1,247.2 L498.3,247.4 L498.5,247.6 L498.7,247.7 L498.9,247.9 L499.1,248.1 L499.3,248.3 L499.5,248.5 L499.7,248.6 L499.9,248.8 L500.1,248.9 L500.3,249.1 L500.5,249.2 L500.7,249.3 L500.9,249.4 L501.1,249.5 L501.3,249.5 L501.5,249.5 L501.7,249.5 L501.9,249.5 L502.1,249.4 L502.3,249.2 L502.5,249.0 L502.7,248.8 L502.9,248.5 L503.1,248.2 L503.3,247.8 L503.5,247.5 L503.7,247.1 L503.9,246.8 L504.1,246.5 L504.3,246.1 L504.5,245.8 L504.7,245.5 L504.9,245.2 L505.1,244.9 L505.3,244.6 L505.5,244.4 L505.7,244.1 L505.9,243.9 L506.1,243.7 L506.3,243.5 L506.5,243.3 L506.7,243.1 L506.9,243.0 L507.1,242.8 L507.3,242.7 L507.5,242.6 L507.7,242.4 L507.9,242.4 L508.1,242.3 L508.3,242.2 L508.5,242.1 L508.7,242.1 L508.9,242.1 L509.1,242.0 L509.3,242.0 L509.5,242.0 L509.7,242.0 L509.9,242.0 L510.1,242.1 L510.3,242.1 L510.5,242.2 L510.7,242.2 L510.9,242.3 L511.1,242.3 L511.3,242.4 L511.5,242.5 L511.7,242.6 L511.9,242.8 L512.1,242.9 L512.3,243.0 L512.5,243.2 L512.7,243.3 L512.9,243.5 L513.1,243.6 L513.3,243.8 L513.5,244.0 L513.7,244.2 L513.9,244.4 L514.1,244.6 L514.3,244.8 L514.5,245.0 L514.7,245.2 L514.9,245.4 L515.1,245.6 L515.3,245.8 L515.5,246.0 L515.7,246.1 L515.9,246.3 L516.1,246.4 L516.3,246.5 L516.5,246.6 L516.7,246.7 L516.9,246.7 L517.0,246.7 L517.1,246.7 L517.3,246.6 L517.5,246.6 L517.7,246.5 L517.9,246.4 L518.1,246.2 L518.3,246.1 L518.5,245.9 L518.7,245.7 L518.9,245.5 L519.1,245.3 L519.3,245.1 L519.5,244.9 L519.7,244.7 L519.9,244.5 L520.1,244.2 L520.3,244.1 L520.5,243.8 L520.7,243.7 L520.9,243.5 L521.1,243.3 L521.3,243.1 L521.5,243.0 L521.7,242.8 L521.9,242.7 L522.1,242.6 L522.3,242.4 L522.5,242.3 L522.7,242.2 L522.9,242.1 L523.1,242.0 L523.3,242.0 L523.5,241.9 L523.7,241.8 L523.9,241.8 L524.1,241.8 L524.3,241.7 L524.5,241.7 L524.7,241.7 L524.9,241.7 L525.1,241.7 L525.3,241.7 L525.5,241.7 L525.7,241.7 L525.9,241.7 L526.1,241.7 L526.3,241.7 L526.5,241.7 L526.7,241.7 L526.9,241.7 L527.1,241.7 L527.3,241.7 L527.5,241.7 L527.7,241.7 L527.9,241.7 L528.1,241.7 L528.3,241.7 L528.5,241.7 L528.7,241.6 L528.9,241.6 L529.1,241.6 L529.3,241.6 L529.5,241.6 L529.7,241.6 L529.9,241.6 L530.1,241.6 L530.3,241.6 L530.5,241.6 L530.7,241.6 L530.9,241.6 L531.1,241.6 L531.3,241.6 L531.5,241.6 L531.7,241.6 L531.9,241.6 L532.1,241.6 L532.3,241.6 L532.5,241.6 L532.7,241.6 L532.9,241.6 L533.1,241.6 L533.3,241.6 L533.5,241.6 L533.7,241.6 L533.9,241.6 L534.1,241.5 L534.3,241.5 L534.5,241.5 L534.7,241.5 L534.9,241.5 L535.1,241.5 L535.3,241.5 L535.5,241.5 L535.7,241.5 L535.9,241.5 L536.1,241.5 L536.3,241.5 L536.5,241.5 L536.7,241.5 L536.9,241.5 L537.1,241.5 L537.3,241.5 L537.5,241.5 L537.7,241.5 L537.9,241.5 L538.1,241.5 L538.3,241.5 L538.5,241.5 L538.7,241.5 L538.9,241.5 L539.1,241.4 L539.3,241.4 L539.5,241.4 L539.7,241.4 L539.9,241.4 L540.1,241.4 L540.3,241.4 L540.5,241.4 L540.7,241.4 L540.9,241.4 L541.1,241.4 L541.3,241.4 L541.5,241.4 L541.7,241.4 L541.9,241.4 L542.1,241.4 L542.3,241.4 L542.5,241.4 L542.7,241.4 L542.9,241.4 L543.1,241.4 L543.3,241.4 L543.5,241.4 L543.7,241.4 L543.9,241.4 L544.1,241.4 L544.3,241.4 L544.5,241.3 L544.7,241.3 L544.9,241.3 L545.1,241.3 L545.3,241.3 L545.5,241.3 L545.7,241.3 L545.9,241.3 L546.1,241.3 L546.3,241.3 L546.5,241.3 L546.7,241.3 L546.9,241.3 L547.1,241.3 L547.3,241.3 L547.5,241.3 L547.7,241.3 L547.9,241.3 L548.1,241.3 L548.3,241.3 L548.5,241.3 L548.7,241.3 L548.9,241.3 L549.1,241.3 L549.3,241.3 L549.5,241.3 L549.7,241.3 L549.9,241.3 L550.1,241.2 L550.3,241.2 L550.5,241.2 L550.7,241.2 L550.9,241.2 L551.1,241.2 L551.3,241.2 L551.5,241.2 L551.7,241.2 L551.9,241.2 L552.1,241.2 L552.3,241.2 L552.5,241.2 L552.7,241.2 L552.9,241.2 L553.1,241.2 L553.3,241.2 L553.5,241.2 L553.7,241.2 L553.9,241.2 L554.1,241.2 L554.3,241.2 L554.5,241.2 L554.7,241.2 L554.9,241.2 L555.1,241.2 L555.3,241.2 L555.5,241.2 L555.7,241.2 L555.9,241.2 L556.1,241.1 L556.3,241.1 L556.5,241.1 L556.7,241.1 L556.9,241.1 L557.1,241.1 L557.3,241.1 L557.5,241.1 L557.7,241.1 L557.9,241.1 L558.1,241.1 L558.3,241.1 L558.5,241.1 L558.7,241.1 L558.9,241.1 L559.1,241.1 L559.3,241.1 L559.5,241.1 L559.7,241.1 L559.9,241.1 L560.1,241.1 L560.3,241.1 L560.5,241.1 L560.7,241.1 L560.9,241.1 L561.1,241.1 L561.3,241.1 L561.5,241.1 L561.7,241.0 L561.9,241.0 L562.1,241.0 L562.3,241.0 L562.5,241.0 L562.7,241.0 L562.9,241.0 L563.1,241.0 L563.3,241.0 L563.5,241.0 L563.7,241.0 L563.9,241.0 L564.1,241.0" stroke="#FF800E" stroke-width="2.0"/>
<path d="M340.8,271.9 L341.0,276.3 L341.2,285.3 L341.3,360.0 L341.4,281.1 L341.6,271.4 L341.8,266.8 L342.0,263.8 L342.2,261.5 L342.4,259.8 L342.6,258.3 L342.8,257.1 L343.0,256.1 L343.2,255.3 L343.4,254.7 L343.6,254.2 L343.8,253.8 L344.0,253.5 L344.2,253.2 L344.4,252.9 L344.6,252.6 L344.8,252.3 L345.0,252.0 L345.2,251.9 L345.4,251.9 L345.6,251.9 L345.8,251.9 L346.0,252.0 L346.2,252.2 L346.4,252.3 L346.6,252.6 L346.8,253.0 L347.0,253.4 L347.2,253.8 L347.4,254.4 L347.6,255.1 L347.8,255.9 L348.0,256.9 L348.2,257.9 L348.4,259.2 L348.6,260.8 L348.8,262.5 L349.0,264.3 L349.2,265.5 L349.3,265.6 L349.4,265.0 L349.6,262.8 L349.8,260.4 L350.0,258.3 L350.2,256.6 L350.4,255.1 L350.6,254.0 L350.8,253.0 L351.0,252.2 L351.2,251.5 L351.4,250.9 L351.6,250.4 L351.8,250.1 L352.0,249.8 L352.2,249.6 L352.4,249.5 L352.6,249.5 L352.8,249.6 L353.0,249.7 L353.2,249.9 L353.4,250.2 L353.6,250.5 L353.8,251.0 L354.0,251.5 L354.2,252.1 L354.4,252.8 L354.6,253.5 L354.8,254.3 L355.0,254.9 L355.2,255.5 L355.4,255.7 L355.4,255.7 L355.6,255.5 L355.8,254.8 L356.0,253.9 L356.2,252.9 L356.4,251.9 L356.6,251.0 L356.8,250.2 L357.0,249.5 L357.2,248.9 L357.4,248.5 L357.6,248.1 L357.8,247.8 L358.0,247.7 L358.2,247.6 L358.4,247.7 L358.6,247.8 L358.8,248.1 L359.0,248.6 L359.2,249.1 L359.4,249.9 L359.6,250.8 L359.8,251.9 L360.0,253.3 L360.2,254.9 L360.4,256.8 L360.6,258.2 L360.7,258.5 L360.8,258.4 L361.0,257.0 L361.2,255.0 L361.4,253.1 L361.6,251.5 L361.8,250.1 L362.0,249.0 L362.2,248.1 L362.4,247.4 L362.6,246.8 L362.8,246.4 L363.0,246.1 L363.2,245.9 L363.4,245.9 L363.6,245.9 L363.8,246.1 L364.0,246.4 L364.2,246.9 L364.4,247.4 L364.6,248.1 L364.8,249.0 L365.0,250.0 L365.2,251.2 L365.4,252.4 L365.6,253.4 L365.8,253.8 L365.8,253.8 L366.0,253.2 L366.2,251.8 L366.4,250.1 L366.6,248.6 L366.8,247.4 L367.0,246.4 L367.2,245.6 L367.4,245.0 L367.6,244.6 L367.8,244.4 L368.0,244.4 L368.2,244.6 L368.4,244.9 L368.6,245.6 L368.8,246.4 L369.0,247.6 L369.2,249.2 L369.4,251.4 L369.6,254.2 L369.8,257.0 L369.9,257.5 L370.0,256.9 L370.2,253.9 L370.4,251.0 L370.6,248.8 L370.8,247.1 L371.0,245.8 L371.2,244.8 L371.4,244.0 L371.6,243.5 L371.8,243.1 L372.0,243.0 L372.2,243.1 L372.4,243.3 L372.6,243.8 L372.8,244.4 L373.0,245.4 L373.2,246.7 L373.4,248.4 L373.6,250.8 L373.8,253.9 L374.0,256.9 L374.1,257.1 L374.2,255.4 L374.4,251.4 L374.6,248.3 L374.8,246.1 L375.0,244.5 L375.2,243.4 L375.4,242.6 L375.6,242.2 L375.8,242.0 L376.0,242.0 L376.2,242.3 L376.4,242.8 L376.6,243.7 L376.8,244.8 L377.0,246.2 L377.2,248.0 L377.4,249.9 L377.6,251.0 L377.6,251.1 L377.8,250.8 L378.0,249.8 L378.2,248.7 L378.4,247.4 L378.6,246.3 L378.8,245.3 L379.0,244.4 L379.2,243.7 L379.4,243.1 L379.6,242.6 L379.8,242.2 L380.0,241.9 L380.2,241.8 L380.4,241.7 L380.6,241.7 L380.8,241.8 L381.0,242.0 L381.2,242.4 L381.4,242.8 L381.6,243.4 L381.8,244.2 L382.0,245.1 L382.2,246.2 L382.4,247.7 L382.6,249.4 L382.8,251.6 L383.0,254.1 L383.2,256.1 L383.3,256.2 L383.4,255.3 L383.6,252.6 L383.8,249.9 L384.0,247.8 L384.2,246.2 L384.4,244.9 L384.6,243.8 L384.8,243.0 L385.0,242.4 L385.2,241.9 L385.4,241.6 L385.6,241.4 L385.8,241.3 L386.0,241.4 L386.2,241.6 L386.4,241.9 L386.6,242.4 L386.8,243.1 L387.0,244.0 L387.2,245.1 L387.4,246.5 L387.6,248.4 L387.8,251.0 L388.0,254.6 L388.2,259.9 L388.3,261.4 L388.4,257.6 L388.6,250.3 L388.8,246.4 L389.0,244.1 L389.2,242.5 L389.4,241.6 L389.6,241.1 L389.8,241.1 L390.0,241.6 L390.2,242.5 L390.4,244.0 L390.6,246.3 L390.8,250.2 L391.0,257.6 L391.1,261.5 L391.2,261.4 L391.4,260.7 L391.6,259.4 L391.8,258.1 L392.0,256.8 L392.2,255.6 L392.4,254.5 L392.6,253.4 L392.8,252.5 L393.0,251.7 L393.2,250.9 L393.4,250.3 L393.6,249.6 L393.8,249.0 L394.0,248.5 L394.2,247.9 L394.4,247.5 L394.6,247.0 L394.8,246.6 L395.0,246.2 L395.2,245.8 L395.4,245.5 L395.6,245.2 L395.8,244.8 L396.0,244.5 L396.2,244.3 L396.4,244.0 L396.6,243.7 L396.8,243.5 L397.0,243.3 L397.2,243.1 L397.4,242.9 L397.6,242.7 L397.8,242.5 L398.0,242.3 L398.2,242.2 L398.4,242.0 L398.6,241.9 L398.8,241.8 L399.0,241.6 L399.2,241.5 L399.4,241.4 L399.6,241.3 L399.8,241.2 L400.0,241.2 L400.2,241.1 L400.4,241.0 L400.6,240.9 L400.8,240.9 L401.0,240.8 L401.2,240.8 L401.4,240.7 L401.6,240.7 L401.8,240.7 L402.0,240.7 L402.2,240.7 L402.4,240.7 L402.6,240.7 L402.8,240.7 L403.0,240.7 L403.2,240.7 L403.4,240.8 L403.6,240.8 L403.8,240.8 L404.0,240.9 L404.2,241.0 L404.4,241.1 L404.6,241.1 L404.8,241.2 L405.0,241.3 L405.2,241.4 L405.4,241.5 L405.6,241.7 L405.8,241.8 L406.0,241.9 L406.2,242.1 L406.4,242.2 L406.6,242.4 L406.8,242.6 L407.0,242.8 L407.2,243.0 L407.4,243.2 L407.6,243.5 L407.8,243.7 L408.0,244.0 L408.2,244.3 L408.4,244.6 L408.6,244.9 L408.8,245.2 L409.0,245.6 L409.2,246.0 L409.4,246.4 L409.6,246.9 L409.8,247.3 L410.0,247.9 L410.2,248.4 L410.4,249.0 L410.6,249.7 L410.8,250.4 L411.0,251.3 L411.2,252.2 L411.4,253.2 L411.6,254.4 L411.8,255.7 L412.0,257.4 L412.2,259.4 L412.4,262.0 L412.6,265.5 L412.8,269.9 L412.9,271.0 L413.0,270.7 L413.2,269.0 L413.4,266.8 L413.6,264.8 L413.8,263.1 L414.0,261.5 L414.2,260.2 L414.4,259.1 L414.6,258.0 L414.8,257.1 L415.0,256.2 L415.2,255.4 L415.4,254.7 L415.6,254.0 L415.8,253.4 L416.0,252.8 L416.2,252.3 L416.4,251.7 L416.6,251.2 L416.8,250.8 L417.0,250.3 L417.2,249.9 L417.4,249.5 L417.6,249.1 L417.8,248.7 L418.0,248.3 L418.2,248.0 L418.4,247.7 L418.6,247.3 L418.8,247.0 L419.0,246.7 L419.2,246.4 L419.4,246.1 L419.6,245.8 L419.8,245.6 L420.0,245.3 L420.2,245.1 L420.4,244.8 L420.6,244.6 L420.8,244.3 L421.0,244.1 L421.2,243.9 L421.4,243.7 L421.6,243.4 L421.8,243.2 L422.0,243.0 L422.2,242.8 L422.4,242.6 L422.6,242.4 L422.8,242.3 L423.0,242.1 L423.2,241.9 L423.4,241.7 L423.6,241.6 L423.8,241.4 L424.0,241.2 L424.2,241.1 L424.4,240.9 L424.6,240.8 L424.8,240.6 L425.0,240.5 L425.2,240.3 L425.4,240.2 L425.6,240.0 L425.8,239.9 L426.0,239.8 L426.2,239.6 L426.4,239.5 L426.6,239.4 L426.8,239.3 L427.0,239.1 L427.2,239.0 L427.4,238.9 L427.6,238.8 L427.8,238.7 L428.0,238.6 L428.2,238.5 L428.4,238.4 L428.6,238.2 L428.8,238.2 L429.0,238.1 L429.2,238.0 L429.4,237.9 L429.6,237.8 L429.8,237.7 L430.0,237.6 L430.2,237.5 L430.4,237.4 L430.6,237.3 L430.8,237.2 L431.0,237.2 L431.2,237.1 L431.4,237.0 L431.6,236.9 L431.8,236.9 L432.0,236.8 L432.2,236.7 L432.4,236.7 L432.6,236.6 L432.8,236.5 L433.0,236.4 L433.2,236.4 L433.4,236.3 L433.6,236.3 L433.8,236.2 L434.0,236.2 L434.2,236.1 L434.4,236.1 L434.6,236.0 L434.8,235.9 L435.0,235.9 L435.2,235.9 L435.4,235.8 L435.6,235.8 L435.8,235.8 L436.0,235.8 L436.2,235.8 L436.4,235.8 L436.6,235.8 L436.8,235.8 L437.0,235.8 L437.2,235.8 L437.4,235.8 L437.6,235.8 L437.8,235.9 L438.0,235.9 L438.2,235.9 L438.4,235.9 L438.6,235.9 L438.8,235.9 L439.0,236.0 L439.2,236.0 L439.4,236.0 L439.6,236.0 L439.8,236.1 L440.0,236.1 L440.2,236.1 L440.4,236.2 L440.6,236.2 L440.8,236.2 L441.0,236.3 L441.2,236.3 L441.4,236.3 L441.6,236.4 L441.8,236.4 L442.0,236.5 L442.2,236.5 L442.4,236.6 L442.6,236.6 L442.8,236.7 L443.0,236.7 L443.2,236.8 L443.4,236.8 L443.6,236.9 L443.8,236.9 L444.0,237.0 L444.2,237.1 L444.4,237.1 L444.6,237.2 L444.8,237.3 L445.0,237.3 L445.2,237.4 L445.4,237.5 L445.6,237.6 L445.8,237.7 L446.0,237.7 L446.2,237.8 L446.4,237.9 L446.6,238.0 L446.8,238.1 L447.0,238.2 L447.2,238.3 L447.4,238.4 L447.6,238.5 L447.8,238.6 L448.0,238.7 L448.2,238.8 L448.4,238.9 L448.6,239.0 L448.8,239.1 L449.0,239.2 L449.2,239.3 L449.4,239.5 L449.6,239.6 L449.8,239.7 L450.0,239.8 L450.2,240.0 L450.4,240.1 L450.6,240.3 L450.8,240.4 L451.0,240.6 L451.2,240.7 L451.4,240.9 L451.6,241.0 L451.8,241.2 L452.0,241.3 L452.2,241.5 L452.4,241.7 L452.6,241.8 L452.8,242.0 L453.0,242.2 L453.2,242.4 L453.4,242.6 L453.6,242.8 L453.8,243.0 L454.0,243.2 L454.2,243.4 L454.4,243.6 L454.6,243.8 L454.8,244.0 L455.0,244.2 L455.2,244.4 L455.4,244.7 L455.6,244.9 L455.8,245.1 L456.0,245.4 L456.2,245.6 L456.4,245.8 L456.6,246.0 L456.8,246.3 L457.0,246.5 L457.2,246.7 L457.4,246.9 L457.6,247.1 L457.8,247.3 L458.0,247.5 L458.2,247.7 L458.4,247.8 L458.6,247.9 L458.8,248.0 L459.0,248.1 L459.2,248.2 L459.4,248.2 L459.6,248.2 L459.8,248.2 L460.0,248.1 L460.2,248.0 L460.4,247.8 L460.6,247.7 L460.8,247.5 L461.0,247.3 L461.2,247.1 L461.4,246.8 L461.6,246.6 L461.8,246.3 L462.0,246.1 L462.2,245.8 L462.4,245.5 L462.6,245.3 L462.8,245.0 L463.0,244.7 L463.2,244.4 L463.4,244.1 L463.6,243.9 L463.8,243.6 L464.0,243.3 L464.2,243.0 L464.4,242.8 L464.6,242.5 L464.8,242.2 L465.0,242.0 L465.2,241.7 L465.4,241.5 L465.6,241.2 L465.8,241.0 L466.0,240.7 L466.2,240.5 L466.4,240.2 L466.6,240.0 L466.8,239.8 L467.0,239.6 L467.2,239.3 L467.4,239.1 L467.6,238.9 L467.8,238.7 L468.0,238.5 L468.2,238.3 L468.4,238.1 L468.6,237.9 L468.8,237.7 L469.0,237.5 L469.2,237.3 L469.4,237.2 L469.6,237.0 L469.8,236.8 L470.0,236.6 L470.2,236.5 L470.4,236.3 L470.6,236.1 L470.8,236.0 L471.0,235.8 L471.2,235.6 L471.4,235.5 L471.6,235.3 L471.8,235.2 L472.0,235.0 L472.2,234.9 L472.4,234.7 L472.6,234.6 L472.8,234.5 L473.0,234.4 L473.2,234.3 L473.4,234.2 L473.6,234.1 L473.8,234.0 L474.0,233.9 L474.2,233.8 L474.4,233.7 L474.6,233.6 L474.8,233.6 L475.0,233.5 L475.2,233.4 L475.4,233.3 L475.6,233.2 L475.8,233.2 L476.0,233.1 L476.2,233.0 L476.4,232.9 L476.6,232.9 L476.8,232.8 L477.0,232.7 L477.2,232.7 L477.4,232.6 L477.6,232.5 L477.8,232.5 L478.0,232.4 L478.2,232.4 L478.4,232.3 L478.6,232.3 L478.8,232.2 L479.0,232.2 L479.2,232.1 L479.4,232.1 L479.6,232.0 L479.8,232.0 L480.0,231.9 L480.2,231.9 L480.4,231.9 L480.6,231.8 L480.8,231.8 L481.0,231.8 L481.2,231.7 L481.4,231.7 L481.6,231.7 L481.8,231.6 L482.0,231.6 L482.2,231.6 L482.4,231.6 L482.6,231.5 L482.8,231.5 L483.0,231.5 L483.2,231.5 L483.4,231.4 L483.6,231.4 L483.8,231.4 L484.0,231.4 L484.2,231.4 L484.4,231.3 L484.6,231.3 L484.8,231.3 L485.0,231.3 L485.2,231.3 L485.4,231.2 L485.6,231.2 L485.8,231.2 L486.0,231.2 L486.2,231.2 L486.4,231.2 L486.6,231.1 L486.8,231.1 L487.0,231.1 L487.2,231.1 L487.4,231.1 L487.6,231.0 L487.8,231.0 L488.0,231.0 L488.2,231.0 L488.4,231.0 L488.6,230.9 L488.8,230.9 L489.0,230.9 L489.2,230.9 L489.4,230.9 L489.6,230.8 L489.8,230.8 L490.0,230.8 L490.2,230.8 L490.4,230.8 L490.6,230.7 L490.8,230.7 L491.0,230.7 L491.2,230.7 L491.4,230.7 L491.6,230.6 L491.8,230.6 L492.0,230.6 L492.2,230.6 L492.4,230.6 L492.6,230.6 L492.8,230.5 L493.0,230.5 L493.2,230.5 L493.4,230.5 L493.6,230.4 L493.8,230.4 L494.0,230.4 L494.2,230.4 L494.4,230.4 L494.6,230.4 L494.8,230.4 L495.0,230.4 L495.2,230.4 L495.4,230.4 L495.6,230.4 L495.8,230.4 L496.0,230.4 L496.2,230.4 L496.4,230.4 L496.6,230.4 L496.8,230.4 L497.0,230.4 L497.2,230.4 L497.4,230.4 L497.6,230.4 L497.8,230.4 L498.0,230.4 L498.2,230.4 L498.4,230.4 L498.6,230.4 L498.8,230.4 L499.0,230.4 L499.2,230.4 L499.4,230.4 L499.6,230.4 L499.8,230.4 L500.0,230.4 L500.2,230.4 L500.4,230.4 L500.6,230.4 L500.8,230.4 L501.0,230.4 L501.2,230.4 L501.4,230.4 L501.6,230.4 L501.8,230.4 L502.0,230.4 L502.2,230.4 L502.4,230.4 L502.6,230.4 L502.8,230.4 L503.0,230.4 L503.2,230.4 L503.4,230.4 L503.6,230.4 L503.8,230.4 L504.0,230.4 L504.2,230.4 L504.4,230.4 L504.6,230.4 L504.8,230.4 L505.0,230.4 L505.2,230.4 L505.4,230.4 L505.6,230.4 L505.8,230.4 L506.0,230.4 L506.2,230.4 L506.4,230.4 L506.6,230.4 L506.8,230.4 L507.0,230.4 L507.2,230.4 L507.4,230.4 L507.6,230.4 L507.8,230.4 L508.0,230.4 L508.2,230.4 L508.4,230.4 L508.6,230.4 L508.8,230.4 L509.0,230.4 L509.2,230.4 L509.4,230.4 L509.6,230.4 L509.8,230.4 L510.0,230.4 L510.2,230.4 L510.4,230.4 L510.6,230.4 L510.8,230.4 L511.0,230.4 L511.2,230.4 L511.4,230.4 L511.6,230.4 L511.8,230.4 L512.0,230.4 L512.2,230.4 L512.4,230.4 L512.6,230.4 L512.8,230.4 L513.0,230.4 L513.2,230.4 L513.4,230.4 L513.6,230.4 L513.8,230.4 L514.0,230.4 L514.2,230.4 L514.4,230.4 L514.6,230.4 L514.8,230.4 L515.0,230.4 L515.2,230.4 L515.4,230.4 L515.6,230.4 L515.8,230.4 L516.0,230.4 L516.2,230.4 L516.4,230.4 L516.6,230.4 L516.8,230.4 L517.0,230.5 L517.2,230.5 L517.4,230.5 L517.6,230.5 L517.8,230.5 L518.0,230.5 L518.2,230.5 L518.4,230.5 L518.6,230.5 L518.8,230.5 L519.0,230.6 L519.2,230.6 L519.4,230.6 L519.6,230.6 L519.8,230.6 L520.0,230.6 L520.2,230.6 L520.4,230.6 L520.6,230.6 L520.8,230.6 L521.0,230.7 L521.2,230.7 L521.4,230.7 L521.6,230.7 L521.8,230.7 L522.0,230.7 L522.2,230.7 L522.4,230.7 L522.6,230.7 L522.8,230.7 L523.0,230.7 L523.2,230.8 L523.4,230.8 L523.6,230.8 L523.8,230.8 L524.0,230.8 L524.2,230.8 L524.4,230.8 L524.6,230.8 L524.8,230.8 L525.0,230.8 L525.2,230.8 L525.4,230.8 L525.6,230.9 L525.8,230.9 L526.0,230.9 L526.2,230.9 L526.4,230.9 L526.6,230.9 L526.8,230.9 L527.0,230.9 L527.2,230.9 L527.4,230.9 L527.6,230.9 L527.8,231.0 L528.0,231.0 L528.2,231.0 L528.4,231.0 L528.6,231.0 L528.8,231.0 L529.0,231.0 L529.2,231.0 L529.4,231.0 L529.6,231.0 L529.8,231.1 L530.0,231.1 L530.2,231.1 L530.4,231.1 L530.6,231.1 L530.8,231.1 L531.0,231.1 L531.2,231.1 L531.4,231.1 L531.6,231.1 L531.8,231.2 L532.0,231.2 L532.2,231.2 L532.4,231.2 L532.6,231.2 L532.8,231.2 L533.0,231.2 L533.2,231.2 L533.4,231.2 L533.6,231.2 L533.8,231.2 L534.0,231.2 L534.2,231.3 L534.4,231.3 L534.6,231.3 L534.8,231.3 L535.0,231.3 L535.2,231.3 L535.4,231.3 L535.6,231.3 L535.8,231.3 L536.0,231.3 L536.2,231.3 L536.4,231.4 L536.6,231.4 L536.8,231.4 L537.0,231.4 L537.2,231.4 L537.4,231.4 L537.6,231.5 L537.8,231.5 L538.0,231.6 L538.2,231.6 L538.4,231.6 L538.6,231.7 L538.8,231.7 L539.0,231.8 L539.2,231.8 L539.4,231.9 L539.6,231.9 L539.8,231.9 L540.0,232.0 L540.2,232.0 L540.4,232.1 L540.6,232.1 L540.8,232.2 L541.0,232.2 L541.2,232.2 L541.4,232.3 L541.6,232.3 L541.8,232.4 L542.0,232.4 L542.2,232.5 L542.4,232.5 L542.6,232.6 L542.8,232.6 L543.0,232.7 L543.2,232.7 L543.4,232.7 L543.6,232.8 L543.8,232.8 L544.0,232.9 L544.2,232.9 L544.4,232.9 L544.6,233.0 L544.8,233.0 L545.0,233.1 L545.2,233.1 L545.4,233.2 L545.6,233.2 L545.8,233.3 L546.0,233.3 L546.2,233.3 L546.4,233.4 L546.6,233.4 L546.8,233.5 L547.0,233.5 L547.2,233.6 L547.4,233.6 L547.6,233.7 L547.8,233.7 L548.0,233.7 L548.2,233.8 L548.4,233.8 L548.6,233.9 L548.8,233.9 L549.0,234.0 L549.2,234.0 L549.4,234.0 L549.6,234.1 L549.8,234.1 L550.0,234.2 L550.2,234.2 L550.4,234.3 L550.6,234.3 L550.8,234.3 L551.0,234.4 L551.2,234.4 L551.4,234.5 L551.6,234.5 L551.8,234.6 L552.0,234.6 L552.2,234.7 L552.4,234.7 L552.6,234.8 L552.8,234.8 L553.0,234.9 L553.2,235.0 L553.4,235.1 L553.6,235.1 L553.8,235.2 L554.0,235.3 L554.2,235.4 L554.4,235.4 L554.6,235.5 L554.8,235.6 L555.0,235.7 L555.2,235.7 L555.4,235.8 L555.6,235.9 L555.8,235.9 L556.0,236.0 L556.2,236.1 L556.4,236.2 L556.6,236.2 L556.8,236.3 L557.0,236.4 L557.2,236.4 L557.4,236.5 L557.6,236.6 L557.8,236.7 L558.0,236.7 L558.2,236.8 L558.4,236.9 L558.6,237.0 L558.8,237.0 L559.0,237.1 L559.2,237.2 L559.4,237.2 L559.6,237.3 L559.8,237.4 L560.0,237.5 L560.2,237.5 L560.4,237.6 L560.6,237.7 L560.8,237.8 L561.0,237.8 L561.2,237.9 L561.4,238.0 L561.6,238.1 L561.8,238.1 L562.0,238.2 L562.2,238.3 L562.4,238.3 L562.6,238.4 L562.8,238.5 L563.0,238.6 L563.2,238.6 L563.4,238.7 L563.6,238.8 L563.8,238.8 L564.0,238.9 L564.2,239.0" stroke="#ABABAB" stroke-width="2.0"/>
<path d="M341.0,274.4 L341.2,278.1 L341.4,286.7 L341.5,360.6 L341.6,284.7 L341.8,274.6 L342.0,269.6 L342.2,266.6 L342.4,264.4 L342.6,262.7 L342.8,261.3 L343.0,260.1 L343.2,259.0 L343.4,258.1 L343.6,257.2 L343.8,256.6 L344.0,256.4 L344.2,256.1 L344.4,255.8 L344.6,255.5 L344.8,255.2 L345.0,255.1 L345.2,255.6 L345.4,256.2 L345.6,257.0 L345.8,257.8 L346.0,258.8 L346.2,259.9 L346.4,261.3 L346.6,262.9 L346.8,264.9 L347.0,267.3 L347.2,269.5 L347.3,269.8 L347.4,268.3 L347.6,263.1 L347.8,259.3 L348.0,256.6 L348.2,255.2 L348.4,254.2 L348.6,253.7 L348.8,253.5 L349.0,253.6 L349.2,253.9 L349.4,254.6 L349.6,255.5 L349.8,256.8 L350.0,258.6 L350.2,260.6 L350.4,261.9 L350.4,261.9 L350.6,261.5 L350.8,260.5 L351.0,259.1 L351.2,258.2 L351.4,257.4 L351.6,256.5 L351.8,255.8 L352.0,255.1 L352.2,254.4 L352.4,253.8 L352.6,253.3 L352.8,252.8 L353.0,252.2 L353.2,251.8 L353.4,251.3 L353.6,250.9 L353.8,250.5 L354.0,250.1 L354.2,250.4 L354.4,250.7 L354.6,251.1 L354.8,251.5 L355.0,251.9 L355.2,252.3 L355.4,252.8 L355.6,253.3 L355.8,253.9 L356.0,254.5 L356.2,255.2 L356.4,256.0 L356.6,257.0 L356.8,258.1 L357.0,259.3 L357.2,261.1 L357.4,262.4 L357.5,262.7 L357.6,262.6 L357.8,261.6 L358.0,260.1 L358.2,258.6 L358.4,257.2 L358.6,255.8 L358.8,254.7 L359.0,253.6 L359.2,252.6 L359.4,251.7 L359.6,250.8 L359.8,250.1 L360.0,249.4 L360.2,249.3 L360.4,249.3 L360.6,249.3 L360.8,249.4 L361.0,249.5 L361.2,249.6 L361.4,249.7 L361.6,249.9 L361.8,250.0 L362.0,250.2 L362.2,250.4 L362.4,250.7 L362.6,251.1 L362.8,251.5 L363.0,252.1 L363.2,253.3 L363.4,254.8 L363.6,256.4 L363.8,258.2 L364.0,260.2 L364.2,261.9 L364.4,262.4 L364.4,262.4 L364.6,260.2 L364.8,257.3 L365.0,254.8 L365.2,252.8 L365.4,251.2 L365.6,249.8 L365.8,248.7 L366.0,247.8 L366.2,247.7 L366.4,247.8 L366.6,247.9 L366.8,248.2 L367.0,248.7 L367.2,249.3 L367.4,250.0 L367.6,250.8 L367.8,251.8 L368.0,253.0 L368.2,254.4 L368.4,255.7 L368.6,256.4 L368.7,256.4 L368.8,253.5 L369.0,248.5 L369.2,247.1 L369.4,248.2 L369.6,252.9 L369.8,272.3 L370.0,266.5 L370.2,261.6 L370.4,258.4 L370.6,256.1 L370.8,254.2 L371.0,252.7 L371.2,251.4 L371.4,250.2 L371.6,249.2 L371.8,248.3 L372.0,247.5 L372.2,247.3 L372.4,247.2 L372.6,247.2 L372.8,247.3 L373.0,247.3 L373.2,247.4 L373.4,247.6 L373.6,247.7 L373.8,247.9 L374.0,248.1 L374.2,248.3 L374.4,248.6 L374.6,249.0 L374.8,249.5 L375.0,250.1 L375.2,251.4 L375.4,252.8 L375.6,254.4 L375.8,256.0 L376.0,257.6 L376.2,258.5 L376.3,258.6 L376.4,258.3 L376.6,257.2 L376.8,255.7 L377.0,254.0 L377.2,252.5 L377.4,251.2 L377.6,249.9 L377.8,248.8 L378.0,247.8 L378.2,247.5 L378.4,247.2 L378.6,247.1 L378.8,246.9 L379.0,246.9 L379.2,246.9 L379.4,246.8 L379.6,246.9 L379.8,246.9 L380.0,247.0 L380.2,247.1 L380.4,247.3 L380.6,247.5 L380.8,247.9 L381.0,248.3 L381.2,249.5 L381.4,250.9 L381.6,252.5 L381.8,254.4 L382.0,256.9 L382.2,260.1 L382.4,265.0 L382.6,270.1 L382.8,251.9 L383.0,247.4 L383.2,246.4 L383.4,247.7 L383.6,250.8 L383.7,251.7 L383.8,251.6 L384.0,251.0 L384.2,250.8 L384.4,250.4 L384.6,250.0 L384.8,249.5 L385.0,249.0 L385.2,248.5 L385.4,248.0 L385.6,247.6 L385.8,247.2 L386.0,246.8 L386.2,246.4 L386.4,246.0 L386.6,245.7 L386.8,245.5 L387.0,245.3 L387.2,245.7 L387.4,246.2 L387.6,246.8 L387.8,247.4 L388.0,248.1 L388.2,248.9 L388.4,249.6 L388.6,250.4 L388.8,251.2 L389.0,252.0 L389.2,252.6 L389.4,253.0 L389.6,253.0 L389.6,253.0 L389.8,252.5 L390.0,251.7 L390.2,251.2 L390.4,250.6 L390.6,250.0 L390.8,249.4 L391.0,248.8 L391.2,248.3 L391.4,247.8 L391.6,247.3 L391.8,246.9 L392.0,246.5 L392.2,246.1 L392.4,245.8 L392.6,245.4 L392.8,245.2 L393.0,245.0 L393.2,245.4 L393.4,245.9 L393.6,246.5 L393.8,247.2 L394.0,247.9 L394.2,248.7 L394.4,249.5 L394.6,250.4 L394.8,251.5 L395.0,252.7 L395.2,253.9 L395.4,255.2 L395.6,256.1 L395.8,256.2 L395.8,256.1 L396.0,254.5 L396.2,252.6 L396.4,250.9 L396.6,249.5 L396.8,248.4 L397.0,247.6 L397.2,247.0 L397.4,246.5 L397.6,246.1 L397.8,245.9 L398.0,245.8 L398.2,245.8 L398.4,245.9 L398.6,246.1 L398.8,246.5 L399.0,247.1 L399.2,248.3 L399.4,249.7 L399.6,251.1 L399.8,252.3 L400.0,252.9 L400.0,252.9 L400.2,248.7 L400.4,245.9 L400.6,246.9 L400.8,253.7 L400.9,259.3 L401.0,258.7 L401.2,255.9 L401.4,252.9 L401.6,250.5 L401.8,248.6 L402.0,247.0 L402.2,246.3 L402.4,245.8 L402.6,245.5 L402.8,245.4 L403.0,245.4 L403.2,245.5 L403.4,245.7 L403.6,246.1 L403.8,246.6 L404.0,247.3 L404.2,248.3 L404.4,249.6 L404.6,251.3 L404.8,253.7 L405.0,257.0 L405.2,260.0 L405.2,260.1 L405.4,259.5 L405.6,257.9 L405.8,256.1 L406.0,254.4 L406.2,253.0 L406.4,251.8 L406.6,250.6 L406.8,249.6 L407.0,248.7 L407.2,247.8 L407.4,246.9 L407.6,246.1 L407.8,245.4 L408.0,244.7 L408.2,244.6 L408.4,244.6 L408.6,244.6 L408.8,244.6 L409.0,244.6 L409.2,244.7 L409.4,244.7 L409.6,244.7 L409.8,244.7 L410.0,244.7 L410.2,244.7 L410.4,244.7 L410.6,244.8 L410.8,244.8 L411.0,245.0 L411.2,245.7 L411.4,246.5 L411.6,247.4 L411.8,248.4 L412.0,249.5 L412.2,250.6 L412.4,252.0 L412.6,253.5 L412.8,255.4 L413.0,257.9 L413.2,261.3 L413.4,265.8 L413.5,267.0 L413.6,266.5 L413.8,264.4 L414.0,261.8 L414.2,260.0 L414.4,258.4 L414.6,257.2 L414.8,256.1 L415.0,255.1 L415.2,254.2 L415.4,253.3 L415.6,252.5 L415.8,251.7 L416.0,250.9 L416.2,250.2 L416.4,249.4 L416.6,248.6 L416.8,247.9 L417.0,247.2 L417.2,247.0 L417.4,246.9 L417.6,246.7 L417.8,246.6 L418.0,246.4 L418.2,246.2 L418.4,246.0 L418.6,245.7 L418.8,245.4 L419.0,245.1 L419.2,244.7 L419.4,244.3 L419.6,243.9 L419.8,243.4 L420.0,243.0 L420.2,243.1 L420.4,243.2 L420.6,243.4 L420.8,243.5 L421.0,243.5 L421.2,243.5 L421.4,243.5 L421.6,243.4 L421.8,243.3 L422.0,243.2 L422.2,243.0 L422.4,242.8 L422.6,242.5 L422.8,242.2 L423.0,242.0 L423.2,242.3 L423.4,242.6 L423.6,242.8 L423.8,243.1 L424.0,243.3 L424.2,243.4 L424.4,243.6 L424.6,243.7 L424.8,243.7 L425.0,243.7 L425.2,243.7 L425.4,243.6 L425.6,243.5 L425.8,243.4 L426.0,243.3 L426.2,243.8 L426.4,244.3 L426.6,244.8 L426.8,245.2 L427.0,245.7 L427.2,246.1 L427.4,246.4 L427.6,246.8 L427.8,247.1 L428.0,247.4 L428.2,247.7 L428.4,248.0 L428.6,248.2 L428.8,248.6 L429.0,248.9 L429.2,249.9 L429.4,250.9 L429.6,252.0 L429.8,253.1 L430.0,254.3 L430.2,255.6 L430.4,257.0 L430.6,258.4 L430.8,259.8 L431.0,260.9 L431.2,261.2 L431.4,260.8 L431.6,259.9 L431.8,258.8 L432.0,257.5 L432.2,256.8 L432.4,256.1 L432.6,255.4 L432.8,254.7 L433.0,254.1 L433.2,253.4 L433.4,252.8 L433.6,252.1 L433.8,251.4 L434.0,250.7 L434.2,250.0 L434.4,249.3 L434.6,248.5 L434.8,247.8 L435.0,247.1 L435.2,246.9 L435.4,246.8 L435.6,246.7 L435.8,246.5 L436.0,246.3 L436.2,246.1 L436.4,245.8 L436.6,245.5 L436.8,245.2 L437.0,244.8 L437.2,244.3 L437.4,243.8 L437.6,243.4 L437.8,242.9 L438.0,242.4 L438.2,242.4 L438.4,242.4 L438.6,242.5 L438.8,242.5 L439.0,242.4 L439.2,242.4 L439.4,242.2 L439.6,242.1 L439.8,241.8 L440.0,241.6 L440.2,241.3 L440.4,240.9 L440.6,240.5 L440.8,240.1 L441.0,239.7 L441.2,239.9 L441.4,240.0 L441.6,240.1 L441.8,240.2 L442.0,240.3 L442.2,240.3 L442.4,240.2 L442.6,240.2 L442.8,240.0 L443.0,239.8 L443.2,239.6 L443.4,239.3 L443.6,239.0 L443.8,238.7 L444.0,238.3 L444.2,238.6 L444.4,238.9 L444.6,239.1 L444.8,239.3 L445.0,239.5 L445.2,239.7 L445.4,239.7 L445.6,239.8 L445.8,239.8 L446.0,239.7 L446.2,239.6 L446.4,239.4 L446.6,239.2 L446.8,239.0 L447.0,238.8 L447.2,239.2 L447.4,239.5 L447.6,239.8 L447.8,240.1 L448.0,240.3 L448.2,240.5 L448.4,240.7 L448.6,240.8 L448.8,240.8 L449.0,240.8 L449.2,240.8 L449.4,240.7 L449.6,240.6 L449.8,240.5 L450.0,240.3 L450.2,240.8 L450.4,241.2 L450.6,241.6 L450.8,241.9 L451.0,242.2 L451.2,242.5 L451.4,242.7 L451.6,242.8 L451.8,242.9 L452.0,243.0 L452.2,243.0 L452.4,243.0 L452.6,243.0 L452.8,242.9 L453.0,242.8 L453.2,243.3 L453.4,243.8 L453.6,244.3 L453.8,244.8 L454.0,245.2 L454.2,245.6 L454.4,246.0 L454.6,246.3 L454.8,246.6 L455.0,246.8 L455.2,247.0 L455.4,247.2 L455.6,247.4 L455.8,247.6 L456.0,247.7 L456.2,248.5 L456.4,249.3 L456.6,250.1 L456.8,250.8 L457.0,251.6 L457.2,252.4 L457.4,253.1 L457.6,253.8 L457.8,254.4 L458.0,254.9 L458.2,255.4 L458.4,255.6 L458.6,255.7 L458.8,255.6 L459.0,255.2 L459.2,255.4 L459.4,255.5 L459.6,255.6 L459.8,255.6 L460.0,255.4 L460.2,255.3 L460.4,255.0 L460.6,254.7 L460.8,254.3 L461.0,253.8 L461.2,253.3 L461.4,252.8 L461.6,252.2 L461.8,251.6 L462.0,251.0 L462.2,250.8 L462.4,250.7 L462.6,250.6 L462.8,250.4 L463.0,250.3 L463.2,250.0 L463.4,249.8 L463.6,249.4 L463.8,249.0 L464.0,248.6 L464.2,248.1 L464.4,247.6 L464.6,247.1 L464.8,246.5 L465.0,246.0 L465.2,246.0 L465.4,245.9 L465.6,245.9 L465.8,245.8 L466.0,245.8 L466.2,245.6 L466.4,245.4 L466.6,245.2 L466.8,244.9 L467.0,244.5 L467.2,244.1 L467.4,243.7 L467.6,243.2 L467.8,242.8 L468.0,242.3 L468.2,242.3 L468.4,242.4 L468.6,242.4 L468.8,242.4 L469.0,242.3 L469.2,242.3 L469.4,242.1 L469.6,241.9 L469.8,241.7 L470.0,241.4 L470.2,241.0 L470.4,240.7 L470.6,240.2 L470.8,239.8 L471.0,239.4 L471.2,239.5 L471.4,239.6 L471.6,239.6 L471.8,239.7 L472.0,239.7 L472.2,239.6 L472.4,239.5 L472.6,239.3 L472.8,239.2 L473.0,239.0 L473.2,238.7 L473.4,238.4 L473.6,238.1 L473.8,237.8 L474.0,237.4 L474.2,237.6 L474.4,237.8 L474.6,237.9 L474.8,238.1 L475.0,238.1 L475.2,238.2 L475.4,238.2 L475.6,238.1 L475.8,238.0 L476.0,237.8 L476.2,237.6 L476.4,237.3 L476.6,237.0 L476.8,236.7 L477.0,236.3 L477.2,236.5 L477.4,236.7 L477.6,236.9 L477.8,237.1 L478.0,237.2 L478.2,237.2 L478.4,237.2 L478.6,237.2 L478.8,237.1 L479.0,236.9 L479.2,236.7 L479.4,236.5 L479.6,236.2 L479.8,235.9 L480.0,235.6 L480.2,235.8 L480.4,236.0 L480.6,236.2 L480.8,236.4 L481.0,236.5 L481.2,236.6 L481.4,236.6 L481.6,236.6 L481.8,236.5 L482.0,236.3 L482.2,236.1 L482.4,235.9 L482.6,235.6 L482.8,235.3 L483.0,235.1 L483.2,235.3 L483.4,235.5 L483.6,235.7 L483.8,235.9 L484.0,236.1 L484.2,236.2 L484.4,236.2 L484.6,236.2 L484.8,236.1 L485.0,236.0 L485.2,235.8 L485.4,235.6 L485.6,235.3 L485.8,235.1 L486.0,234.8 L486.2,235.0 L486.4,235.3 L486.6,235.5 L486.8,235.7 L487.0,235.8 L487.2,235.9 L487.4,236.0 L487.6,236.0 L487.8,235.9 L488.0,235.8 L488.2,235.7 L488.4,235.5 L488.6,235.2 L488.8,235.0 L489.0,234.7 L489.2,235.0 L489.4,235.2 L489.6,235.5 L489.8,235.7 L490.0,235.8 L490.2,236.0 L490.4,236.0 L490.6,236.0 L490.8,236.0 L491.0,235.9 L491.2,235.7 L491.4,235.6 L491.6,235.3 L491.8,235.1 L492.0,234.8 L492.2,235.1 L492.4,235.4 L492.6,235.6 L492.8,235.8 L493.0,236.0 L493.2,236.2 L493.4,236.2 L493.6,236.2 L493.8,236.2 L494.0,236.1 L494.2,236.0 L494.4,235.8 L494.6,235.7 L494.8,235.4 L495.0,235.2 L495.2,235.6 L495.4,235.9 L495.6,236.2 L495.8,236.4 L496.0,236.6 L496.2,236.8 L496.4,236.9 L496.6,237.0 L496.8,237.0 L497.0,236.9 L497.2,236.8 L497.4,236.7 L497.6,236.5 L497.8,236.3 L498.0,236.1 L498.2,236.4 L498.4,236.8 L498.6,237.1 L498.8,237.3 L499.0,237.6 L499.2,237.8 L499.4,237.9 L499.6,237.9 L499.8,238.0 L500.0,237.9 L500.2,237.8 L500.4,237.7 L500.6,237.5 L500.8,237.4 L501.0,237.2 L501.2,237.5 L501.4,237.8 L501.6,238.2 L501.8,238.4 L502.0,238.7 L502.2,238.9 L502.4,239.0 L502.6,239.1 L502.8,239.1 L503.0,239.1 L503.2,239.0 L503.4,238.9 L503.6,238.7 L503.8,238.6 L504.0,238.4 L504.2,238.7 L504.4,239.1 L504.6,239.4 L504.8,239.7 L505.0,239.9 L505.2,240.2 L505.4,240.3 L505.6,240.4 L505.8,240.4 L506.0,240.4 L506.2,240.3 L506.4,240.2 L506.6,240.1 L506.8,239.9 L507.0,239.8 L507.2,240.1 L507.4,240.5 L507.6,240.8 L507.8,241.1 L508.0,241.4 L508.2,241.6 L508.4,241.7 L508.6,241.8 L508.8,241.9 L509.0,241.8 L509.2,241.8 L509.4,241.7 L509.6,241.5 L509.8,241.4 L510.0,241.2 L510.2,241.6 L510.4,242.0 L510.6,242.4 L510.8,242.8 L511.0,243.1 L511.2,243.3 L511.4,243.5 L511.6,243.7 L511.8,243.8 L512.0,243.8 L512.2,243.8 L512.4,243.7 L512.6,243.6 L512.8,243.5 L513.0,243.4 L513.2,243.8 L513.4,244.2 L513.6,244.6 L513.8,244.9 L514.0,245.2 L514.2,245.4 L514.4,245.6 L514.6,245.7 L514.8,245.8 L515.0,245.8 L515.2,245.8 L515.4,245.7 L515.6,245.6 L515.8,245.4 L516.0,245.3 L516.2,245.6 L516.4,246.0 L516.6,246.3 L516.8,246.6 L517.0,246.9 L517.2,247.1 L517.4,247.2 L517.6,247.3 L517.8,247.4 L518.0,247.3 L518.2,247.2 L518.4,247.1 L518.6,247.0 L518.8,246.8 L519.0,246.6 L519.2,246.9 L519.4,247.2 L519.6,247.5 L519.8,247.8 L520.0,248.0 L520.2,248.1 L520.4,248.1 L520.6,248.1 L520.8,248.0 L521.0,247.9 L521.2,247.7 L521.4,247.5 L521.6,247.2 L521.8,246.9 L522.0,246.6 L522.2,246.8 L522.4,247.1 L522.6,247.2 L522.8,247.4 L523.0,247.5 L523.2,247.6 L523.4,247.6 L523.6,247.6 L523.8,247.4 L524.0,247.3 L524.2,247.1 L524.4,246.8 L524.6,246.5 L524.8,246.2 L525.0,245.9 L525.2,246.1 L525.4,246.3 L525.6,246.5 L525.8,246.7 L526.0,246.8 L526.2,246.8 L526.4,246.8 L526.6,246.8 L526.8,246.6 L527.0,246.5 L527.2,246.3 L527.4,246.0 L527.6,245.7 L527.8,245.4 L528.0,245.1 L528.2,245.3 L528.4,245.5 L528.6,245.7 L528.8,245.8 L529.0,245.9 L529.2,246.0 L529.4,246.0 L529.6,245.9 L529.8,245.8 L530.0,245.7 L530.2,245.5 L530.4,245.2 L530.6,244.9 L530.8,244.6 L531.0,244.3 L531.2,244.5 L531.4,244.8 L531.6,244.9 L531.8,245.1 L532.0,245.2 L532.2,245.3 L532.4,245.3 L532.6,245.2 L532.8,245.2 L533.0,245.0 L533.2,244.8 L533.4,244.6 L533.6,244.3 L533.8,244.0 L534.0,243.7 L534.2,243.9 L534.4,244.1 L534.6,244.3 L534.8,244.5 L535.0,244.6 L535.2,244.7 L535.4,244.7 L535.6,244.7 L535.8,244.6 L536.0,244.5 L536.2,244.3 L536.4,244.1 L536.6,243.8 L536.8,243.5 L537.0,243.2 L537.2,243.5 L537.4,243.7 L537.6,243.9 L537.8,244.0 L538.0,244.1 L538.2,244.2 L538.4,244.2 L538.6,244.1 L538.8,244.0 L539.0,243.9 L539.2,243.7 L539.4,243.4 L539.6,243.1 L539.8,242.8 L540.0,242.5 L540.2,242.7 L540.4,243.0 L540.6,243.2 L540.8,243.3 L541.0,243.4 L541.2,243.5 L541.4,243.5 L541.6,243.5 L541.8,243.4 L542.0,243.2 L542.2,243.1 L542.4,242.8 L542.6,242.5 L542.8,242.2 L543.0,241.9 L543.2,242.2 L543.4,242.4 L543.6,242.6 L543.8,242.8 L544.0,242.9 L544.2,243.0 L544.4,243.0 L544.6,243.0 L544.8,242.9 L545.0,242.8 L545.2,242.6 L545.4,242.4 L545.6,242.1 L545.8,241.8 L546.0,241.5 L546.2,241.8 L546.4,242.0 L546.6,242.2 L546.8,242.4 L547.0,242.6 L547.2,242.7 L547.4,242.7 L547.6,242.7 L547.8,242.6 L548.0,242.5 L548.2,242.3 L548.4,242.1 L548.6,241.8 L548.8,241.6 L549.0,241.3 L549.2,241.5 L549.4,241.8 L549.6,242.0 L549.8,242.2 L550.0,242.3 L550.2,242.4 L550.4,242.5 L550.6,242.4 L550.8,242.4 L551.0,242.3 L551.2,242.1 L551.4,241.9 L551.6,241.6 L551.8,241.3 L552.0,241.1 L552.2,241.3 L552.4,241.6 L552.6,241.8 L552.8,242.0 L553.0,242.1 L553.2,242.2 L553.4,242.2 L553.6,242.2 L553.8,242.2 L554.0,242.0 L554.2,241.8 L554.4,241.6 L554.6,241.4 L554.8,241.1 L555.0,240.8 L555.2,241.1 L555.4,241.3 L555.6,241.5 L555.8,241.7 L556.0,241.9 L556.2,242.0 L556.4,242.0 L556.6,242.0 L556.8,241.9 L557.0,241.8 L557.2,241.6 L557.4,241.4 L557.6,241.1 L557.8,240.9 L558.0,240.6 L558.2,240.8 L558.4,241.1 L558.6,241.3 L558.8,241.5 L559.0,241.6 L559.2,241.7 L559.4,241.8 L559.6,241.8 L559.8,241.7 L560.0,241.6 L560.2,241.4 L560.4,241.2 L560.6,240.9 L560.8,240.6 L561.0,240.3 L561.2,240.6 L561.4,240.8 L561.6,241.1 L561.8,241.2 L562.0,241.4 L562.2,241.5 L562.4,241.5 L562.6,241.5 L562.8,241.4 L563.0,241.3 L563.2,241.1 L563.4,240.9 L563.6,240.7 L563.8,240.4 L564.0,240.1 L564.2,240.4" stroke="#595959" stroke-width="2.0"/>
</g>
<rect x="330.3" y="186.15" width="244.1" height="147.65" fill="none" stroke="#000" stroke-width="1.3"/>
<line x1="341.40" y1="333.8" x2="341.40" y2="338.3" stroke="#000" stroke-width="1"/>
<line x1="415.37" y1="333.8" x2="415.37" y2="338.3" stroke="#000" stroke-width="1"/>
<line x1="489.33" y1="333.8" x2="489.33" y2="338.3" stroke="#000" stroke-width="1"/>
<line x1="563.30" y1="333.8" x2="563.30" y2="338.3" stroke="#000" stroke-width="1"/>
<line x1="325.8" y1="186.15" x2="330.3" y2="186.15" stroke="#000" stroke-width="1"/>
<line x1="325.8" y1="215.68" x2="330.3" y2="215.68" stroke="#000" stroke-width="1"/>
<line x1="325.8" y1="245.21" x2="330.3" y2="245.21" stroke="#000" stroke-width="1"/>
<line x1="325.8" y1="274.74" x2="330.3" y2="274.74" stroke="#000" stroke-width="1"/>
<line x1="325.8" y1="304.27" x2="330.3" y2="304.27" stroke="#000" stroke-width="1"/>
<line x1="325.8" y1="333.80" x2="330.3" y2="333.80" stroke="#000" stroke-width="1"/>
<text x="452.35" y="179.45" font-family='"Liberation Sans", sans-serif' font-size="13.6" text-anchor="middle" fill="#000">Jupiter + moons</text>
<path d="M484.4,250.8 H574.4 V333.8 H482.4 V252.8 Q482.4,250.8 484.4,250.8 Z" fill="#fff" fill-opacity="0.8" stroke="#333" stroke-width="1.1"/>
<line x1="485.59999999999997" y1="259.50" x2="503.09999999999997" y2="259.50" stroke="#FFA500" stroke-width="2.1"/>
<text x="511.00" y="263.80" font-family='"Liberation Sans", sans-serif' font-size="12" fill="#000">Jupiter</text>
<line x1="485.59999999999997" y1="275.50" x2="503.09999999999997" y2="275.50" stroke="#006BA4" stroke-width="2.1"/>
<text x="511.00" y="279.80" font-family='"Liberation Sans", sans-serif' font-size="12" fill="#000">Io</text>
<line x1="485.59999999999997" y1="291.50" x2="503.09999999999997" y2="291.50" stroke="#FF800E" stroke-width="2.1"/>
<text x="511.00" y="295.80" font-family='"Liberation Sans", sans-serif' font-size="12" fill="#000">Europa</text>
<line x1="485.59999999999997" y1="307.50" x2="503.09999999999997" y2="307.50" stroke="#ABABAB" stroke-width="2.1"/>
<text x="511.00" y="311.80" font-family='"Liberation Sans", sans-serif' font-size="12" fill="#000">Ganymede</text>
<line x1="485.59999999999997" y1="323.50" x2="503.09999999999997" y2="323.50" stroke="#595959" stroke-width="2.1"/>
<text x="511.00" y="327.80" font-family='"Liberation Sans", sans-serif' font-size="12" fill="#000">Callisto</text>
<defs><clipPath id="cp4"><rect x="61.7" y="355.7" width="244.1" height="147.65"/></clipPath></defs>
<g clip-path="url(#cp4)" fill="none" stroke-width="1.9" stroke-linejoin="round" stroke-linecap="square">
<path d="M73.6,505.0 L73.7,504.0 L73.8,502.6 L74.0,501.0 L74.1,499.3 L74.3,497.5 L74.5,496.0 L74.7,494.6 L74.9,493.2 L75.2,491.9 L75.4,490.6 L75.7,489.3 L76.0,488.0 L76.3,486.8 L76.6,485.6 L76.9,484.4 L77.2,483.2 L77.6,482.1 L78.0,481.0 L78.4,479.9 L78.9,478.9 L79.4,478.0 L79.9,477.0 L80.4,476.0 L80.9,475.0 L81.4,474.0 L81.8,472.9 L82.3,471.8 L82.8,470.7 L83.4,469.6 L84.0,468.5 L84.7,467.4 L85.3,466.2 L86.0,465.1 L86.9,463.9 L87.8,462.7 L89.0,461.5 L90.5,460.2 L92.2,458.7 L94.1,457.2 L96.0,455.8 L97.8,454.5 L99.5,453.3 L100.9,452.4 L102.1,451.6 L103.3,451.0 L104.5,450.4 L105.8,449.7 L107.4,449.0 L109.2,448.1 L111.3,447.2 L113.5,446.2 L115.7,445.3 L118.1,444.4 L120.4,443.5 L122.8,442.7 L125.3,442.0 L127.8,441.3 L130.4,440.6 L133.0,439.9 L135.5,439.2 L138.0,438.5 L140.5,437.7 L142.9,437.0 L145.4,436.3 L148.0,435.6 L150.6,434.9 L153.4,434.2 L156.3,433.6 L159.3,433.0 L162.2,432.3 L165.1,431.8 L167.8,431.2 L170.3,430.7 L172.5,430.2 L174.6,429.7 L176.8,429.3 L179.2,428.8 L182.0,428.4 L185.0,428.0 L188.3,427.7 L191.7,427.3 L195.3,427.0 L199.3,426.6 L203.6,426.2 L208.4,425.7 L213.6,425.2 L219.1,424.7 L224.7,424.1 L230.4,423.5 L235.9,423.0 L241.4,422.4 L246.9,421.9 L252.4,421.3 L257.9,420.7 L263.2,420.2 L268.3,419.8 L273.4,419.4 L278.7,419.1 L283.8,418.9 L288.4,418.6 L292.3,418.4 L295.2,418.3" stroke="#006BA4" stroke-width="2.0"/>
<path d="M73.0,455.2 L73.2,463.9 L73.3,520.0 L73.4,468.9 L73.6,459.2 L73.8,454.6 L74.0,451.6 L74.2,449.3 L74.4,447.5 L74.6,446.2 L74.8,446.1 L75.0,447.7 L75.2,450.1 L75.4,451.8 L75.4,451.7 L75.6,449.4 L75.8,445.8 L76.0,443.3 L76.2,442.1 L76.4,441.8 L76.6,442.4 L76.8,444.2 L77.0,447.9 L77.2,456.6 L77.3,462.4 L77.4,453.3 L77.6,445.5 L77.8,442.2 L78.0,440.9 L78.2,440.9 L78.4,442.3 L78.6,445.1 L78.8,448.8 L78.8,449.1 L79.0,447.2 L79.2,443.5 L79.4,441.1 L79.6,439.9 L79.8,439.9 L80.0,441.1 L80.2,444.1 L80.4,451.2 L80.5,462.1 L80.6,455.2 L80.8,444.8 L81.0,440.9 L81.2,439.1 L81.4,438.9 L81.6,440.1 L81.8,443.2 L82.0,451.2 L82.1,460.8 L82.2,443.2 L82.4,438.5 L82.6,469.4 L82.8,446.6 L83.0,441.2 L83.2,438.6 L83.4,437.6 L83.6,437.7 L83.8,439.0 L84.0,441.5 L84.2,445.3 L84.3,446.3 L84.4,445.6 L84.6,442.2 L84.8,439.4 L85.0,437.6 L85.2,436.6 L85.4,436.4 L85.6,437.0 L85.8,438.6 L86.0,441.5 L86.2,447.2 L86.3,451.8 L86.4,450.5 L86.6,442.9 L86.8,438.9 L87.0,436.7 L87.2,435.7 L87.4,435.7 L87.6,436.7 L87.8,438.9 L88.0,443.5 L88.2,457.2 L88.2,463.0 L88.4,444.8 L88.6,438.5 L88.8,435.9 L89.0,435.1 L89.2,435.7 L89.4,437.5 L89.6,440.4 L89.8,441.7 L89.8,441.7 L90.0,440.3 L90.2,438.4 L90.4,436.8 L90.6,435.6 L90.8,434.8 L91.0,434.5 L91.2,434.7 L91.4,435.4 L91.6,436.7 L91.8,438.9 L92.0,442.4 L92.2,447.3 L92.3,448.2 L92.4,444.5 L92.6,438.4 L92.8,435.4 L93.0,434.1 L93.2,434.0 L93.4,435.2 L93.6,438.0 L93.8,443.4 L93.9,446.1 L94.0,444.8 L94.2,439.3 L94.4,435.9 L94.6,434.1 L94.8,433.4 L95.0,433.6 L95.2,435.0 L95.4,437.9 L95.6,444.4 L95.8,458.2 L95.8,452.8 L96.0,439.8 L96.2,435.4 L96.4,433.5 L96.6,432.9 L96.8,433.6 L97.0,435.5 L97.2,439.1 L97.4,442.8 L97.4,442.8 L97.6,440.4 L97.8,437.0 L98.0,434.6 L98.2,433.3 L98.4,432.7 L98.6,432.8 L98.8,433.7 L99.0,435.6 L99.2,439.0 L99.4,445.3 L99.5,448.4 L99.6,447.8 L99.8,444.6 L100.0,441.5 L100.2,439.2 L100.4,437.3 L100.6,435.9 L100.8,434.8 L101.0,433.9 L101.2,433.2 L101.4,432.8 L101.6,432.4 L101.8,432.2 L102.0,432.1 L102.2,432.2 L102.4,432.4 L102.6,432.8 L102.8,433.2 L103.0,433.9 L103.2,434.7 L103.4,435.6 L103.6,436.8 L103.8,438.2 L104.0,439.6 L104.2,440.8 L104.4,441.2 L104.4,441.2 L104.6,440.5 L104.8,439.2 L105.0,437.8 L105.2,436.4 L105.4,435.3 L105.6,434.3 L105.8,433.4 L106.0,432.8 L106.2,432.2 L106.4,431.9 L106.6,431.6 L106.8,431.5 L107.0,431.4 L107.2,431.5 L107.4,431.7 L107.6,432.0 L107.8,432.4 L108.0,432.9 L108.2,433.6 L108.4,434.3 L108.6,435.1 L108.8,435.9 L109.0,436.6 L109.2,437.1 L109.4,437.3 L109.4,437.2 L109.6,436.9 L109.8,436.2 L110.0,435.3 L110.2,434.4 L110.4,433.5 L110.6,432.8 L110.8,432.1 L111.0,431.6 L111.2,431.3 L111.4,431.0 L111.6,430.9 L111.8,430.9 L112.0,431.1 L112.2,431.4 L112.4,431.9 L112.6,432.6 L112.8,433.5 L113.0,434.6 L113.2,436.0 L113.4,437.8 L113.6,439.8 L113.8,441.8 L114.0,442.4 L114.0,442.4 L114.2,441.3 L114.4,439.5 L114.6,437.7 L114.8,436.1 L115.0,434.8 L115.2,433.7 L115.4,432.9 L115.6,432.1 L115.8,431.6 L116.0,431.2 L116.2,430.9 L116.4,430.7 L116.6,430.7 L116.8,430.7 L117.0,430.9 L117.2,431.1 L117.4,431.4 L117.6,431.8 L117.8,432.2 L118.0,432.8 L118.2,433.4 L118.4,434.1 L118.6,434.7 L118.8,435.3 L119.0,435.7 L119.2,435.8 L119.2,435.8 L119.4,435.6 L119.6,435.0 L119.8,434.3 L120.0,433.6 L120.2,432.8 L120.4,432.1 L120.6,431.6 L120.8,431.1 L121.0,430.8 L121.2,430.6 L121.4,430.4 L121.6,430.4 L121.8,430.6 L122.0,430.9 L122.2,431.3 L122.4,431.9 L122.6,432.7 L122.8,433.6 L123.0,434.7 L123.2,436.0 L123.4,437.4 L123.6,438.4 L123.8,438.8 L123.8,438.7 L124.0,438.0 L124.2,436.7 L124.4,435.2 L124.6,433.9 L124.8,432.8 L125.0,431.9 L125.2,431.2 L125.4,430.7 L125.6,430.4 L125.8,430.2 L126.0,430.2 L126.2,430.4 L126.4,430.8 L126.6,431.4 L126.8,432.2 L127.0,433.2 L127.2,434.6 L127.4,436.3 L127.6,438.3 L127.8,440.4 L128.0,441.2 L128.0,441.2 L128.2,440.0 L128.4,437.9 L128.6,435.9 L128.8,434.3 L129.0,433.0 L129.2,431.9 L129.4,431.2 L129.6,430.6 L129.8,430.2 L130.0,430.0 L130.2,430.0 L130.4,430.1 L130.6,430.4 L130.8,430.8 L131.0,431.4 L131.2,432.2 L131.4,433.1 L131.6,434.1 L131.8,435.2 L132.0,436.1 L132.2,436.6 L132.2,436.6 L132.4,436.5 L132.6,435.9 L132.8,435.2 L133.0,434.3 L133.2,433.4 L133.4,432.6 L133.6,431.9 L133.8,431.3 L134.0,430.8 L134.2,430.4 L134.4,430.1 L134.6,429.9 L134.8,429.8 L135.0,429.8 L135.2,429.9 L135.4,430.0 L135.6,430.3 L135.8,430.7 L136.0,431.2 L136.2,431.9 L136.4,432.6 L136.6,433.5 L136.8,434.5 L137.0,435.6 L137.2,436.5 L137.4,437.2 L137.6,437.4 L137.6,437.4 L137.8,436.5 L138.0,434.9 L138.2,433.2 L138.4,431.9 L138.6,430.9 L138.8,430.2 L139.0,429.7 L139.2,429.5 L139.4,429.6 L139.6,430.0 L139.8,430.8 L140.0,431.9 L140.2,433.7 L140.4,436.2 L140.6,440.3 L140.8,449.0 L140.9,457.5 L141.0,431.9 L141.2,432.5 L141.3,435.0 L141.4,434.8 L141.6,434.3 L141.8,433.5 L142.0,432.6 L142.2,431.8 L142.4,431.0 L142.6,430.4 L142.8,429.9 L143.0,429.6 L143.2,429.4 L143.4,429.3 L143.6,429.4 L143.8,429.6 L144.0,429.9 L144.2,430.3 L144.4,430.8 L144.6,431.4 L144.8,432.0 L145.0,432.6 L145.2,433.1 L145.4,433.3 L145.5,433.3 L145.6,431.8 L145.8,429.4 L146.0,430.1 L146.2,437.1 L146.3,444.7 L146.4,443.7 L146.6,439.4 L146.8,436.1 L147.0,433.7 L147.2,432.0 L147.4,430.8 L147.6,430.0 L147.8,429.4 L148.0,429.1 L148.2,429.1 L148.4,429.3 L148.6,429.7 L148.8,430.4 L149.0,431.3 L149.2,432.5 L149.4,433.9 L149.6,435.5 L149.8,436.8 L149.9,437.1 L150.0,437.0 L150.2,436.1 L150.4,434.7 L150.6,433.3 L150.8,432.0 L151.0,430.9 L151.2,430.1 L151.4,429.5 L151.6,429.1 L151.8,428.9 L152.0,428.8 L152.2,428.9 L152.4,429.3 L152.6,429.8 L152.8,430.5 L153.0,431.5 L153.2,432.7 L153.4,434.2 L153.6,435.8 L153.8,437.1 L153.9,437.4 L154.0,437.4 L154.2,436.8 L154.4,435.7 L154.6,434.4 L154.8,433.2 L155.0,432.1 L155.2,431.2 L155.4,430.4 L155.6,429.8 L155.8,429.2 L156.0,428.9 L156.2,428.6 L156.4,428.4 L156.6,428.3 L156.8,428.4 L157.0,428.5 L157.2,428.8 L157.4,429.1 L157.6,429.5 L157.8,430.1 L158.0,430.7 L158.2,431.5 L158.4,432.3 L158.6,433.2 L158.8,434.1 L159.0,434.7 L159.2,435.0 L159.2,435.0 L159.4,434.7 L159.6,434.0 L159.8,433.0 L160.0,431.9 L160.2,430.9 L160.4,430.1 L160.6,429.4 L160.8,428.8 L161.0,428.4 L161.2,428.1 L161.4,427.9 L161.6,427.8 L161.8,427.9 L162.0,428.1 L162.2,428.3 L162.4,428.6 L162.6,429.1 L162.8,429.6 L163.0,430.2 L163.2,430.8 L163.4,431.3 L163.6,431.7 L163.8,431.9 L163.9,432.0 L164.0,431.8 L164.2,431.2 L164.4,430.3 L164.6,429.4 L164.8,428.6 L165.0,428.0 L165.2,427.6 L165.4,427.5 L165.6,427.6 L165.8,428.0 L166.0,428.8 L166.2,430.0 L166.4,431.7 L166.6,433.9 L166.8,436.2 L167.0,437.1 L167.0,437.1 L167.2,435.7 L167.4,433.7 L167.6,431.8 L167.8,430.2 L168.0,429.1 L168.2,428.2 L168.4,427.6 L168.6,427.2 L168.8,427.1 L169.0,427.2 L169.2,427.4 L169.4,427.9 L169.6,428.4 L169.8,429.2 L170.0,430.0 L170.2,430.9 L170.4,431.6 L170.6,431.9 L170.6,431.9 L170.8,431.8 L171.0,431.4 L171.2,430.9 L171.4,430.4 L171.6,429.8 L171.8,429.2 L172.0,428.6 L172.2,428.2 L172.4,427.8 L172.6,427.5 L172.8,427.3 L173.0,427.2 L173.2,427.2 L173.4,427.2 L173.6,427.4 L173.8,427.6 L174.0,428.0 L174.2,428.5 L174.4,429.1 L174.6,429.9 L174.8,430.7 L175.0,431.7 L175.2,432.7 L175.4,433.8 L175.6,434.6 L175.8,434.9 L175.8,434.9 L176.0,434.3 L176.2,432.8 L176.4,431.2 L176.6,429.8 L176.8,428.8 L177.0,428.0 L177.2,427.6 L177.4,427.4 L177.6,427.4 L177.8,427.8 L178.0,428.3 L178.2,429.0 L178.4,429.9 L178.6,431.0 L178.8,431.9 L179.0,432.5 L179.1,432.5 L179.2,432.5 L179.4,432.4 L179.6,432.1 L179.8,431.7 L180.0,431.3 L180.2,430.9 L180.4,430.4 L180.6,430.0 L180.8,429.6 L181.0,429.2 L181.2,428.9 L181.4,428.6 L181.6,428.3 L181.8,428.1 L182.0,427.9 L182.2,427.8 L182.4,427.7 L182.6,427.6 L182.8,427.6 L183.0,427.7 L183.2,427.8 L183.4,427.9 L183.6,428.0 L183.8,428.2 L184.0,428.5 L184.2,428.8 L184.4,429.1 L184.6,429.5 L184.8,429.9 L185.0,430.3 L185.2,430.8 L185.4,431.2 L185.6,431.7 L185.8,432.1 L186.0,432.4 L186.2,432.6 L186.4,432.8 L186.5,432.8 L186.6,432.8 L186.8,432.5 L187.0,432.0 L187.2,431.4 L187.4,430.8 L187.6,430.2 L187.8,429.7 L188.0,429.2 L188.2,428.8 L188.4,428.5 L188.6,428.2 L188.8,428.1 L189.0,428.0 L189.2,428.0 L189.4,428.1 L189.6,428.2 L189.8,428.6 L190.0,428.9 L190.2,429.4 L190.4,429.9 L190.6,430.6 L190.8,431.4 L191.0,432.2 L191.2,433.1 L191.4,433.8 L191.6,434.4 L191.8,434.5 L191.8,434.5 L192.0,434.2 L192.2,433.6 L192.4,432.9 L192.6,432.1 L192.8,431.2 L193.0,430.4 L193.2,429.7 L193.4,429.1 L193.6,428.6 L193.8,428.1 L194.0,427.8 L194.2,427.5 L194.4,427.2 L194.6,427.1 L194.8,427.0 L195.0,427.1 L195.2,427.1 L195.4,427.3 L195.6,427.5 L195.8,427.8 L196.0,428.2 L196.2,428.6 L196.4,429.2 L196.6,429.8 L196.8,430.4 L197.0,431.1 L197.2,431.7 L197.4,432.2 L197.6,432.5 L197.8,432.6 L197.8,432.6 L198.0,432.2 L198.2,431.4 L198.4,430.5 L198.6,429.5 L198.8,428.6 L199.0,427.9 L199.2,427.3 L199.4,426.8 L199.6,426.4 L199.8,426.1 L200.0,426.0 L200.2,426.0 L200.4,426.1 L200.6,426.3 L200.8,426.7 L201.0,427.2 L201.2,427.7 L201.4,428.4 L201.6,429.1 L201.8,429.9 L202.0,430.5 L202.2,430.9 L202.3,430.9 L202.4,430.9 L202.6,430.7 L202.8,430.4 L203.0,429.9 L203.2,429.5 L203.4,428.9 L203.6,428.4 L203.8,427.9 L204.0,427.4 L204.2,426.9 L204.4,426.5 L204.6,426.1 L204.8,425.8 L205.0,425.5 L205.2,425.3 L205.4,425.1 L205.6,424.9 L205.8,424.9 L206.0,424.8 L206.2,424.8 L206.4,424.8 L206.6,424.9 L206.8,425.1 L207.0,425.2 L207.2,425.5 L207.4,425.8 L207.6,426.1 L207.8,426.4 L208.0,426.8 L208.2,427.2 L208.4,427.7 L208.6,428.1 L208.8,428.6 L209.0,428.9 L209.2,429.2 L209.4,429.3 L209.6,429.4 L209.6,429.4 L209.8,429.2 L210.0,428.9 L210.2,428.6 L210.4,428.1 L210.6,427.6 L210.8,427.1 L211.0,426.6 L211.2,426.1 L211.4,425.7 L211.6,425.3 L211.8,424.9 L212.0,424.6 L212.2,424.2 L212.4,424.0 L212.6,423.8 L212.8,423.6 L213.0,423.5 L213.2,423.4 L213.4,423.3 L213.6,423.3 L213.8,423.4 L214.0,423.4 L214.2,423.6 L214.4,423.7 L214.6,423.9 L214.8,424.2 L215.0,424.5 L215.2,424.9 L215.4,425.3 L215.6,425.7 L215.8,426.2 L216.0,426.7 L216.2,427.2 L216.4,427.6 L216.6,428.1 L216.8,428.4 L217.0,428.6 L217.2,428.6 L217.2,428.6 L217.4,428.3 L217.6,427.7 L217.8,427.0 L218.0,426.2 L218.2,425.5 L218.4,424.8 L218.6,424.1 L218.8,423.6 L219.0,423.1 L219.2,422.7 L219.4,422.4 L219.6,422.2 L219.8,422.1 L220.0,422.0 L220.2,422.0 L220.4,422.1 L220.6,422.3 L220.8,422.5 L221.0,422.7 L221.2,423.1 L221.4,423.4 L221.6,423.8 L221.8,424.2 L222.0,424.6 L222.2,425.0 L222.4,425.2 L222.6,425.3 L222.7,425.3 L222.8,425.3 L223.0,425.1 L223.2,424.9 L223.4,424.6 L223.6,424.2 L223.8,423.9 L224.0,423.4 L224.2,423.1 L224.4,422.7 L224.6,422.3 L224.8,422.0 L225.0,421.7 L225.2,421.4 L225.4,421.2 L225.6,421.0 L225.8,420.9 L226.0,420.8 L226.2,420.8 L226.4,420.8 L226.6,420.8 L226.8,420.9 L227.0,421.0 L227.2,421.1 L227.4,421.4 L227.6,421.6 L227.8,421.9 L228.0,422.2 L228.2,422.5 L228.4,422.8 L228.6,423.2 L228.8,423.5 L229.0,423.8 L229.2,424.0 L229.4,424.1 L229.6,424.1 L229.6,424.1 L229.8,423.9 L230.0,423.5 L230.2,422.9 L230.4,422.3 L230.6,421.6 L230.8,421.0 L231.0,420.6 L231.2,420.1 L231.4,419.9 L231.6,419.7 L231.8,419.6 L232.0,419.7 L232.2,419.9 L232.4,420.3 L232.6,420.8 L232.8,421.4 L233.0,422.1 L233.2,422.8 L233.4,423.6 L233.6,424.1 L233.8,424.4 L233.8,424.4 L234.0,424.2 L234.2,423.7 L234.4,422.9 L234.6,422.1 L234.8,421.2 L235.0,420.5 L235.2,419.9 L235.4,419.4 L235.6,419.1 L235.8,418.9 L236.0,418.8 L236.2,418.8 L236.4,418.7 L236.6,418.7 L236.8,418.6 L237.0,418.6 L237.2,418.6 L237.4,418.5 L237.6,418.5 L237.8,418.4 L238.0,418.4 L238.2,418.4 L238.4,418.3 L238.6,418.3 L238.8,418.2 L239.0,418.2 L239.2,418.2 L239.4,418.1 L239.6,418.1 L239.8,418.0 L240.0,418.0 L240.2,418.0 L240.4,417.9 L240.6,417.9 L240.8,417.9 L241.0,417.8 L241.2,417.8 L241.4,417.8 L241.6,417.7 L241.8,417.7 L242.0,417.7 L242.2,417.6 L242.4,417.6 L242.6,417.6 L242.8,417.5 L243.0,417.5 L243.2,417.5 L243.4,417.4 L243.6,417.4 L243.8,417.4 L244.0,417.3 L244.2,417.3 L244.4,417.3 L244.6,417.2 L244.8,417.2 L245.0,417.2 L245.2,417.1 L245.4,417.1 L245.6,417.1 L245.8,417.0 L246.0,417.0 L246.2,417.0 L246.4,416.9 L246.6,416.9 L246.8,416.9 L247.0,416.8 L247.2,416.8 L247.4,416.8 L247.6,416.7 L247.8,416.7 L248.0,416.7 L248.2,416.6 L248.4,416.6 L248.6,416.6 L248.8,416.5 L249.0,416.5 L249.2,416.5 L249.4,416.4 L249.6,416.4 L249.8,416.4 L250.0,416.3 L250.2,416.3 L250.4,416.3 L250.6,416.2 L250.8,416.2 L251.0,416.2 L251.2,416.1 L251.4,416.1 L251.6,416.1 L251.8,416.0 L252.0,416.0 L252.2,416.0 L252.4,415.9 L252.6,415.9 L252.8,415.9 L253.0,415.8 L253.2,415.8 L253.4,415.8 L253.6,415.7 L253.8,415.7 L254.0,415.7 L254.2,415.6 L254.4,415.6 L254.6,415.6 L254.8,415.5 L255.0,415.5 L255.2,415.5 L255.4,415.4 L255.6,415.4 L255.8,415.4 L256.0,415.3 L256.2,415.3 L256.4,415.3 L256.6,415.2 L256.8,415.2 L257.0,415.2 L257.2,415.1 L257.4,415.1 L257.6,415.1 L257.8,415.0 L258.0,415.0 L258.2,415.0 L258.4,414.9 L258.6,414.9 L258.8,414.9 L259.0,414.8 L259.2,414.8 L259.4,414.8 L259.6,414.7 L259.8,414.7 L260.0,414.7 L260.2,414.6 L260.4,414.6 L260.6,414.6 L260.8,414.5 L261.0,414.5 L261.2,414.5 L261.4,414.4 L261.6,414.4 L261.8,414.4 L262.0,414.3 L262.2,414.3 L262.4,414.3 L262.6,414.2 L262.8,414.2 L263.0,414.2 L263.2,414.1 L263.4,414.1 L263.6,414.1 L263.8,414.0 L264.0,414.0 L264.2,414.0 L264.4,413.9 L264.6,413.9 L264.8,413.9 L265.0,413.8 L265.2,413.8 L265.4,413.8 L265.6,413.7 L265.8,413.7 L266.0,413.7 L266.2,413.6 L266.4,413.6 L266.6,413.6 L266.8,413.5 L267.0,413.5 L267.2,413.5 L267.4,413.4 L267.6,413.4 L267.8,413.4 L268.0,413.3 L268.2,413.3 L268.4,413.3 L268.6,413.2 L268.8,413.2 L269.0,413.2 L269.2,413.1 L269.4,413.1 L269.6,413.1 L269.8,413.0 L270.0,413.0 L270.2,413.0 L270.4,412.9 L270.6,412.9 L270.8,412.9 L271.0,412.9 L271.2,412.9 L271.4,412.8 L271.6,412.8 L271.8,412.8 L272.0,412.8 L272.2,412.7 L272.4,412.7 L272.6,412.7 L272.8,412.7 L273.0,412.6 L273.2,412.6 L273.4,412.6 L273.6,412.6 L273.8,412.5 L274.0,412.5 L274.2,412.5 L274.4,412.5 L274.6,412.4 L274.8,412.4 L275.0,412.4 L275.2,412.4 L275.4,412.4 L275.6,412.3 L275.8,412.3 L276.0,412.3 L276.2,412.3 L276.4,412.2 L276.6,412.2 L276.8,412.2 L277.0,412.2 L277.2,412.1 L277.4,412.1 L277.6,412.1 L277.8,412.1 L278.0,412.0 L278.2,412.0 L278.4,412.0 L278.6,412.0 L278.8,411.9 L279.0,411.9 L279.2,411.9 L279.4,411.9 L279.6,411.9 L279.8,411.8 L280.0,411.8 L280.2,411.8 L280.4,411.8 L280.6,411.7 L280.8,411.7 L281.0,411.7 L281.2,411.7 L281.4,411.6 L281.6,411.6 L281.8,411.6 L282.0,411.6 L282.2,411.5 L282.4,411.5 L282.6,411.5 L282.8,411.5 L283.0,411.4 L283.2,411.4 L283.4,411.4 L283.6,411.4 L283.8,411.3 L284.0,411.3 L284.2,411.3 L284.4,411.3 L284.6,411.2 L284.8,411.2 L285.0,411.2 L285.2,411.2 L285.4,411.1 L285.6,411.1 L285.8,411.1 L286.0,411.1 L286.2,411.1 L286.4,411.0 L286.6,411.0 L286.8,411.0 L287.0,411.0 L287.2,410.9 L287.4,410.9 L287.6,410.9 L287.8,410.9 L288.0,410.8 L288.2,410.8 L288.4,410.8 L288.6,410.8 L288.8,410.7 L289.0,410.7 L289.2,410.7 L289.4,410.7 L289.6,410.6 L289.8,410.6 L290.0,410.6 L290.2,410.6 L290.4,410.6 L290.6,410.5 L290.8,410.5 L291.0,410.5 L291.2,410.5 L291.4,410.4 L291.6,410.4 L291.8,410.4 L292.0,410.4 L292.2,410.3 L292.4,410.3 L292.6,410.3 L292.8,410.3 L293.0,410.2 L293.2,410.2 L293.4,410.2 L293.6,410.2 L293.8,410.1 L294.0,410.1 L294.2,410.1 L294.4,410.1 L294.6,410.1 L294.8,410.0 L295.0,410.0 L295.2,410.0" stroke="#FF800E" stroke-width="2.0"/>
<path d="M73.0,446.7 L73.2,450.6 L73.4,459.6 L73.5,520.0 L73.6,463.4 L73.8,453.9 L74.0,449.5 L74.2,446.8 L74.4,444.8 L74.6,443.3 L74.8,442.2 L75.0,441.3 L75.2,441.7 L75.4,443.0 L75.6,445.1 L75.8,448.2 L76.0,451.2 L76.0,451.4 L76.2,448.2 L76.4,443.7 L76.6,441.0 L76.8,439.7 L77.0,439.4 L77.2,440.3 L77.4,442.6 L77.6,447.8 L77.8,465.8 L77.8,465.8 L78.0,449.9 L78.2,444.2 L78.4,441.1 L78.6,439.3 L78.8,438.3 L79.0,438.0 L79.2,438.4 L79.4,439.4 L79.6,441.4 L79.8,445.1 L80.0,452.9 L80.1,459.3 L80.2,453.3 L80.4,444.8 L80.6,440.8 L80.8,438.5 L81.0,437.1 L81.2,436.6 L81.4,436.6 L81.6,437.3 L81.8,438.9 L82.0,441.6 L82.2,446.4 L82.4,450.8 L82.4,450.6 L82.6,445.2 L82.8,440.9 L83.0,438.2 L83.2,436.4 L83.4,435.4 L83.6,434.9 L83.8,435.0 L84.0,435.6 L84.2,436.9 L84.4,439.2 L84.6,443.1 L84.8,450.8 L84.9,453.7 L85.0,448.9 L85.2,441.9 L85.4,438.2 L85.6,436.0 L85.8,434.6 L86.0,433.8 L86.2,433.6 L86.4,433.8 L86.6,434.7 L86.8,436.2 L87.0,438.7 L87.2,443.1 L87.4,452.4 L87.5,454.4 L87.6,447.1 L87.8,440.6 L88.0,437.1 L88.2,435.0 L88.4,433.6 L88.6,432.9 L88.8,432.6 L89.0,432.8 L89.2,433.6 L89.4,434.9 L89.6,437.1 L89.8,440.6 L90.0,446.1 L90.1,448.0 L90.2,444.4 L90.4,437.4 L90.6,434.0 L90.8,432.3 L91.0,431.8 L91.2,432.4 L91.4,434.1 L91.6,437.2 L91.8,440.8 L91.8,441.0 L92.0,439.8 L92.2,436.9 L92.4,434.5 L92.6,432.8 L92.8,431.7 L93.0,431.1 L93.2,431.1 L93.4,431.5 L93.6,432.5 L93.8,434.1 L94.0,436.5 L94.2,439.4 L94.3,440.3 L94.4,440.1 L94.6,437.3 L94.8,434.4 L95.0,432.4 L95.2,431.1 L95.4,430.4 L95.6,430.2 L95.8,430.6 L96.0,431.6 L96.2,433.5 L96.4,436.8 L96.6,442.9 L96.7,448.7 L96.8,445.7 L97.0,435.8 L97.2,431.7 L97.4,429.9 L97.6,429.5 L97.8,430.4 L98.0,433.0 L98.2,439.0 L98.4,451.4 L98.4,448.3 L98.6,435.7 L98.8,431.3 L99.0,429.3 L99.2,428.9 L99.4,429.9 L99.6,432.6 L99.8,439.2 L99.9,452.2 L100.0,451.1 L100.2,443.7 L100.4,439.2 L100.6,436.2 L100.8,434.1 L101.0,432.4 L101.2,431.2 L101.4,430.1 L101.6,429.3 L101.8,428.7 L102.0,428.3 L102.2,427.9 L102.4,427.8 L102.6,427.7 L102.8,427.8 L103.0,428.0 L103.2,428.4 L103.4,428.9 L103.6,429.6 L103.8,430.5 L104.0,431.7 L104.2,433.3 L104.4,435.4 L104.6,438.4 L104.8,442.8 L105.0,447.0 L105.2,446.1 L105.4,444.1 L105.6,442.0 L105.8,440.1 L106.0,438.5 L106.2,437.1 L106.4,435.9 L106.6,434.8 L106.8,433.8 L107.0,432.9 L107.2,432.1 L107.4,431.4 L107.6,430.8 L107.8,430.1 L108.0,429.6 L108.2,429.1 L108.4,428.6 L108.6,428.1 L108.8,427.7 L109.0,427.4 L109.2,427.0 L109.4,426.7 L109.6,426.4 L109.8,426.1 L110.0,425.8 L110.2,425.6 L110.4,425.4 L110.6,425.2 L110.8,425.0 L111.0,424.9 L111.2,424.7 L111.4,424.6 L111.6,424.5 L111.8,424.4 L112.0,424.4 L112.2,424.3 L112.4,424.3 L112.6,424.3 L112.8,424.3 L113.0,424.3 L113.2,424.4 L113.4,424.5 L113.6,424.7 L113.8,424.8 L114.0,425.0 L114.2,425.2 L114.4,425.4 L114.6,425.7 L114.8,426.0 L115.0,426.3 L115.2,426.6 L115.4,427.0 L115.6,427.5 L115.8,427.9 L116.0,428.4 L116.2,429.0 L116.4,429.6 L116.6,430.3 L116.8,431.1 L117.0,432.0 L117.2,433.0 L117.4,434.1 L117.6,435.5 L117.8,437.2 L118.0,439.3 L118.2,442.1 L118.4,446.3 L118.6,454.7 L118.7,460.7 L118.8,448.5 L119.0,439.4 L119.2,435.1 L119.4,432.3 L119.6,430.3 L119.8,428.7 L120.0,427.4 L120.2,426.4 L120.4,425.6 L120.6,424.9 L120.8,424.4 L121.0,424.0 L121.2,423.7 L121.4,423.5 L121.6,423.4 L121.8,423.4 L122.0,423.4 L122.2,423.6 L122.4,423.9 L122.6,424.3 L122.8,424.8 L123.0,425.4 L123.2,426.2 L123.4,427.2 L123.6,428.4 L123.8,429.9 L124.0,431.9 L124.2,434.6 L124.4,438.6 L124.6,445.7 L124.7,448.9 L124.8,447.6 L125.0,442.8 L125.2,439.1 L125.4,436.5 L125.6,434.5 L125.8,432.9 L126.0,431.5 L126.2,430.3 L126.4,429.3 L126.6,428.5 L126.8,427.7 L127.0,427.0 L127.2,426.4 L127.4,425.9 L127.6,425.4 L127.8,425.0 L128.0,424.6 L128.2,424.2 L128.4,423.9 L128.6,423.7 L128.8,423.4 L129.0,423.3 L129.2,423.1 L129.4,423.0 L129.6,422.9 L129.8,422.8 L130.0,422.7 L130.2,422.7 L130.4,422.7 L130.6,422.8 L130.8,422.9 L131.0,423.0 L131.2,423.1 L131.4,423.3 L131.6,423.5 L131.8,423.7 L132.0,424.0 L132.2,424.3 L132.4,424.6 L132.6,425.0 L132.8,425.5 L133.0,426.0 L133.2,426.6 L133.4,427.2 L133.6,427.9 L133.8,428.8 L134.0,429.7 L134.2,430.8 L134.4,432.1 L134.6,433.6 L134.8,435.5 L135.0,437.9 L135.2,440.9 L135.4,444.0 L135.5,444.6 L135.6,444.5 L135.8,443.6 L136.0,442.2 L136.2,440.7 L136.4,439.3 L136.6,438.0 L136.8,436.8 L137.0,435.8 L137.2,434.9 L137.4,434.0 L137.6,433.2 L137.8,432.5 L138.0,431.8 L138.2,431.2 L138.4,430.6 L138.6,430.1 L138.8,429.6 L139.0,429.1 L139.2,428.7 L139.4,428.2 L139.6,427.9 L139.8,427.5 L140.0,427.1 L140.2,426.8 L140.4,426.5 L140.6,426.2 L140.8,425.9 L141.0,425.6 L141.2,425.4 L141.4,425.1 L141.6,424.9 L141.8,424.7 L142.0,424.4 L142.2,424.2 L142.4,424.1 L142.6,423.9 L142.8,423.7 L143.0,423.5 L143.2,423.4 L143.4,423.2 L143.6,423.1 L143.8,422.9 L144.0,422.8 L144.2,422.7 L144.4,422.6 L144.6,422.5 L144.8,422.4 L145.0,422.3 L145.2,422.2 L145.4,422.1 L145.6,422.1 L145.8,422.0 L146.0,421.9 L146.2,421.9 L146.4,421.8 L146.6,421.8 L146.8,421.7 L147.0,421.7 L147.2,421.7 L147.4,421.6 L147.6,421.6 L147.8,421.6 L148.0,421.6 L148.2,421.6 L148.4,421.6 L148.6,421.6 L148.8,421.6 L149.0,421.7 L149.2,421.7 L149.4,421.7 L149.6,421.8 L149.8,421.8 L150.0,421.9 L150.2,421.9 L150.4,422.0 L150.6,422.1 L150.8,422.1 L151.0,422.2 L151.2,422.3 L151.4,422.4 L151.6,422.5 L151.8,422.6 L152.0,422.7 L152.2,422.8 L152.4,423.0 L152.6,423.1 L152.8,423.3 L153.0,423.4 L153.2,423.6 L153.4,423.8 L153.6,423.9 L153.8,424.1 L154.0,424.4 L154.2,424.6 L154.4,424.8 L154.6,425.0 L154.8,425.3 L155.0,425.6 L155.2,425.8 L155.4,426.1 L155.6,426.4 L155.8,426.8 L156.0,427.1 L156.2,427.5 L156.4,427.9 L156.6,428.3 L156.8,428.8 L157.0,429.2 L157.2,429.7 L157.4,430.3 L157.6,430.9 L157.8,431.5 L158.0,432.2 L158.2,432.9 L158.4,433.7 L158.6,434.5 L158.8,435.4 L159.0,436.4 L159.2,437.4 L159.4,438.3 L159.6,439.2 L159.8,439.8 L160.0,440.1 L160.2,440.0 L160.4,439.7 L160.6,439.3 L160.8,438.8 L161.0,438.3 L161.2,437.7 L161.4,437.1 L161.6,436.5 L161.8,435.9 L162.0,435.3 L162.2,434.7 L162.4,434.2 L162.6,433.7 L162.8,433.2 L163.0,432.8 L163.2,432.3 L163.4,431.9 L163.6,431.5 L163.8,431.1 L164.0,430.7 L164.2,430.4 L164.4,430.0 L164.6,429.7 L164.8,429.4 L165.0,429.1 L165.2,428.8 L165.4,428.5 L165.6,428.3 L165.8,428.0 L166.0,427.8 L166.2,427.5 L166.4,427.3 L166.6,427.1 L166.8,426.9 L167.0,426.6 L167.2,426.4 L167.4,426.3 L167.6,426.1 L167.8,425.9 L168.0,425.7 L168.2,425.6 L168.4,425.4 L168.6,425.2 L168.8,425.1 L169.0,424.9 L169.2,424.8 L169.4,424.6 L169.6,424.5 L169.8,424.4 L170.0,424.2 L170.2,424.1 L170.4,424.0 L170.6,423.9 L170.8,423.8 L171.0,423.7 L171.2,423.6 L171.4,423.5 L171.6,423.4 L171.8,423.3 L172.0,423.2 L172.2,423.1 L172.4,423.0 L172.6,422.9 L172.8,422.9 L173.0,422.8 L173.2,422.7 L173.4,422.6 L173.6,422.6 L173.8,422.5 L174.0,422.4 L174.2,422.4 L174.4,422.3 L174.6,422.3 L174.8,422.2 L175.0,422.2 L175.2,422.1 L175.4,422.1 L175.6,422.0 L175.8,422.0 L176.0,422.0 L176.2,421.9 L176.4,421.9 L176.6,421.9 L176.8,421.8 L177.0,421.8 L177.2,421.8 L177.4,421.8 L177.6,421.7 L177.8,421.7 L178.0,421.7 L178.2,421.7 L178.4,421.7 L178.6,421.7 L178.8,421.7 L179.0,421.7 L179.2,421.7 L179.4,421.7 L179.6,421.7 L179.8,421.7 L180.0,421.7 L180.2,421.7 L180.4,421.7 L180.6,421.7 L180.8,421.7 L181.0,421.7 L181.2,421.7 L181.4,421.8 L181.6,421.8 L181.8,421.8 L182.0,421.8 L182.2,421.9 L182.4,421.9 L182.6,421.9 L182.8,421.9 L183.0,422.0 L183.2,422.0 L183.4,422.1 L183.6,422.1 L183.8,422.1 L184.0,422.2 L184.2,422.2 L184.4,422.3 L184.6,422.3 L184.8,422.4 L185.0,422.4 L185.2,422.5 L185.4,422.6 L185.6,422.6 L185.8,422.7 L186.0,422.8 L186.2,422.8 L186.4,422.9 L186.6,423.0 L186.8,423.0 L187.0,423.1 L187.2,423.2 L187.4,423.3 L187.6,423.4 L187.8,423.4 L188.0,423.5 L188.2,423.6 L188.4,423.7 L188.6,423.8 L188.8,423.9 L189.0,424.0 L189.2,424.1 L189.4,424.2 L189.6,424.4 L189.8,424.5 L190.0,424.6 L190.2,424.7 L190.4,424.8 L190.6,424.9 L190.8,425.1 L191.0,425.2 L191.2,425.3 L191.4,425.5 L191.6,425.6 L191.8,425.8 L192.0,425.9 L192.2,426.1 L192.4,426.2 L192.6,426.4 L192.8,426.5 L193.0,426.7 L193.2,426.9 L193.4,427.0 L193.6,427.2 L193.8,427.4 L194.0,427.6 L194.2,427.7 L194.4,427.9 L194.6,428.1 L194.8,428.3 L195.0,428.5 L195.2,428.7 L195.4,428.9 L195.6,429.1 L195.8,429.3 L196.0,429.5 L196.2,429.7 L196.4,429.9 L196.6,430.1 L196.8,430.3 L197.0,430.5 L197.2,430.7 L197.4,430.9 L197.6,431.1 L197.8,431.3 L198.0,431.4 L198.2,431.6 L198.4,431.8 L198.6,431.9 L198.8,432.0 L199.0,432.1 L199.2,432.2 L199.4,432.3 L199.6,432.4 L199.8,432.4 L200.0,432.4 L200.2,432.4 L200.4,432.4 L200.6,432.4 L200.8,432.3 L201.0,432.2 L201.2,432.1 L201.4,432.0 L201.6,431.9 L201.8,431.7 L202.0,431.6 L202.2,431.4 L202.4,431.3 L202.6,431.1 L202.8,430.9 L203.0,430.7 L203.2,430.5 L203.4,430.4 L203.6,430.2 L203.8,430.0 L204.0,429.8 L204.2,429.6 L204.4,429.4 L204.6,429.2 L204.8,429.0 L205.0,428.8 L205.2,428.7 L205.4,428.5 L205.6,428.3 L205.8,428.1 L206.0,428.0 L206.2,427.8 L206.4,427.6 L206.6,427.5 L206.8,427.3 L207.0,427.2 L207.2,427.0 L207.4,426.9 L207.6,426.7 L207.8,426.6 L208.0,426.4 L208.2,426.3 L208.4,426.2 L208.6,426.1 L208.8,425.9 L209.0,425.8 L209.2,425.7 L209.4,425.6 L209.6,425.5 L209.8,425.4 L210.0,425.2 L210.2,425.1 L210.4,425.0 L210.6,424.9 L210.8,424.9 L211.0,424.8 L211.2,424.7 L211.4,424.6 L211.6,424.5 L211.8,424.4 L212.0,424.3 L212.2,424.3 L212.4,424.2 L212.6,424.1 L212.8,424.1 L213.0,424.0 L213.2,423.9 L213.4,423.9 L213.6,423.8 L213.8,423.7 L214.0,423.7 L214.2,423.6 L214.4,423.6 L214.6,423.5 L214.8,423.5 L215.0,423.4 L215.2,423.4 L215.4,423.4 L215.6,423.3 L215.8,423.3 L216.0,423.2 L216.2,423.2 L216.4,423.2 L216.6,423.2 L216.8,423.1 L217.0,423.1 L217.2,423.1 L217.4,423.1 L217.6,423.1 L217.8,423.0 L218.0,423.0 L218.2,423.0 L218.4,423.0 L218.6,423.0 L218.8,423.0 L219.0,423.0 L219.2,423.0 L219.4,423.0 L219.6,423.0 L219.8,423.0 L220.0,423.0 L220.2,423.0 L220.4,422.9 L220.6,422.9 L220.8,422.9 L221.0,422.9 L221.2,422.9 L221.4,422.9 L221.6,422.8 L221.8,422.8 L222.0,422.8 L222.2,422.8 L222.4,422.8 L222.6,422.8 L222.8,422.8 L223.0,422.8 L223.2,422.8 L223.4,422.8 L223.6,422.8 L223.8,422.8 L224.0,422.8 L224.2,422.8 L224.4,422.8 L224.6,422.8 L224.8,422.8 L225.0,422.9 L225.2,422.9 L225.4,422.9 L225.6,422.9 L225.8,422.9 L226.0,423.0 L226.2,423.0 L226.4,423.0 L226.6,423.0 L226.8,423.1 L227.0,423.1 L227.2,423.1 L227.4,423.2 L227.6,423.2 L227.8,423.2 L228.0,423.3 L228.2,423.3 L228.4,423.4 L228.6,423.4 L228.8,423.5 L229.0,423.5 L229.2,423.6 L229.4,423.6 L229.6,423.7 L229.8,423.8 L230.0,423.8 L230.2,423.9 L230.4,423.9 L230.6,424.0 L230.8,424.1 L231.0,424.1 L231.2,424.2 L231.4,424.3 L231.6,424.4 L231.8,424.4 L232.0,424.5 L232.2,424.6 L232.4,424.7 L232.6,424.8 L232.8,424.8 L233.0,424.9 L233.2,425.0 L233.4,425.1 L233.6,425.2 L233.8,425.3 L234.0,425.4 L234.2,425.4 L234.4,425.5 L234.6,425.6 L234.8,425.7 L235.0,425.8 L235.2,425.9 L235.4,426.0 L235.6,426.1 L235.8,426.1 L236.0,426.2 L236.2,426.3 L236.4,426.4 L236.6,426.5 L236.8,426.5 L237.0,426.6 L237.2,426.7 L237.4,426.7 L237.6,426.8 L237.8,426.9 L238.0,426.9 L238.2,426.9 L238.4,427.0 L238.6,427.0 L238.8,427.0 L239.0,427.0 L239.2,427.1 L239.4,427.1 L239.6,427.0 L239.8,427.0 L240.0,427.0 L240.2,427.0 L240.4,426.9 L240.6,426.9 L240.8,426.8 L241.0,426.8 L241.2,426.7 L241.4,426.6 L241.6,426.6 L241.8,426.5 L242.0,426.4 L242.2,426.3 L242.4,426.2 L242.6,426.0 L242.8,425.9 L243.0,425.8 L243.2,425.7 L243.4,425.6 L243.6,425.4 L243.8,425.3 L244.0,425.2 L244.2,425.0 L244.4,424.9 L244.6,424.8 L244.8,424.6 L245.0,424.5 L245.2,424.3 L245.4,424.2 L245.6,424.0 L245.8,423.9 L246.0,423.8 L246.2,423.6 L246.4,423.5 L246.6,423.3 L246.8,423.2 L247.0,423.1 L247.2,422.9 L247.4,422.8 L247.6,422.6 L247.8,422.5 L248.0,422.4 L248.2,422.2 L248.4,422.1 L248.6,422.0 L248.8,421.9 L249.0,421.7 L249.2,421.6 L249.4,421.5 L249.6,421.4 L249.8,421.3 L250.0,421.1 L250.2,421.0 L250.4,420.9 L250.6,420.7 L250.8,420.6 L251.0,420.5 L251.2,420.4 L251.4,420.2 L251.6,420.1 L251.8,420.0 L252.0,419.9 L252.2,419.7 L252.4,419.6 L252.6,419.5 L252.8,419.4 L253.0,419.3 L253.2,419.2 L253.4,419.1 L253.6,419.0 L253.8,418.9 L254.0,418.8 L254.2,418.7 L254.4,418.6 L254.6,418.5 L254.8,418.4 L255.0,418.3 L255.2,418.2 L255.4,418.1 L255.6,418.0 L255.8,417.9 L256.0,417.8 L256.2,417.8 L256.4,417.7 L256.6,417.6 L256.8,417.5 L257.0,417.4 L257.2,417.4 L257.4,417.3 L257.6,417.2 L257.8,417.1 L258.0,417.1 L258.2,417.0 L258.4,416.9 L258.6,416.9 L258.8,416.8 L259.0,416.8 L259.2,416.7 L259.4,416.7 L259.6,416.6 L259.8,416.6 L260.0,416.5 L260.2,416.4 L260.4,416.4 L260.6,416.4 L260.8,416.3 L261.0,416.2 L261.2,416.2 L261.4,416.1 L261.6,416.1 L261.8,416.1 L262.0,416.0 L262.2,415.9 L262.4,415.9 L262.6,415.9 L262.8,415.8 L263.0,415.8 L263.2,415.7 L263.4,415.6 L263.6,415.6 L263.8,415.6 L264.0,415.5 L264.2,415.4 L264.4,415.4 L264.6,415.4 L264.8,415.3 L265.0,415.2 L265.2,415.2 L265.4,415.1 L265.6,415.1 L265.8,415.1 L266.0,415.0 L266.2,414.9 L266.4,414.9 L266.6,414.9 L266.8,414.8 L267.0,414.8 L267.2,414.7 L267.4,414.6 L267.6,414.6 L267.8,414.6 L268.0,414.5 L268.2,414.4 L268.4,414.4 L268.6,414.4 L268.8,414.3 L269.0,414.2 L269.2,414.2 L269.4,414.1 L269.6,414.1 L269.8,414.1 L270.0,414.0 L270.2,414.0 L270.4,414.0 L270.6,414.0 L270.8,414.0 L271.0,414.1 L271.2,414.1 L271.4,414.1 L271.6,414.1 L271.8,414.1 L272.0,414.1 L272.2,414.1 L272.4,414.1 L272.6,414.1 L272.8,414.1 L273.0,414.1 L273.2,414.2 L273.4,414.2 L273.6,414.2 L273.8,414.2 L274.0,414.2 L274.2,414.2 L274.4,414.2 L274.6,414.2 L274.8,414.2 L275.0,414.2 L275.2,414.3 L275.4,414.3 L275.6,414.3 L275.8,414.3 L276.0,414.3 L276.2,414.3 L276.4,414.3 L276.6,414.3 L276.8,414.3 L277.0,414.4 L277.2,414.4 L277.4,414.4 L277.6,414.4 L277.8,414.4 L278.0,414.4 L278.2,414.4 L278.4,414.4 L278.6,414.4 L278.8,414.4 L279.0,414.4 L279.2,414.5 L279.4,414.5 L279.6,414.5 L279.8,414.5 L280.0,414.5 L280.2,414.5 L280.4,414.5 L280.6,414.5 L280.8,414.5 L281.0,414.6 L281.2,414.6 L281.4,414.6 L281.6,414.6 L281.8,414.6 L282.0,414.6 L282.2,414.6 L282.4,414.6 L282.6,414.6 L282.8,414.6 L283.0,414.6 L283.2,414.7 L283.4,414.7 L283.6,414.7 L283.8,414.7 L284.0,414.7 L284.2,414.7 L284.4,414.7 L284.6,414.7 L284.8,414.7 L285.0,414.8 L285.2,414.8 L285.4,414.8 L285.6,414.8 L285.8,414.8 L286.0,414.8 L286.2,414.8 L286.4,414.8 L286.6,414.8 L286.8,414.8 L287.0,414.9 L287.2,414.9 L287.4,414.9 L287.6,414.9 L287.8,414.9 L288.0,414.9 L288.2,414.9 L288.4,414.9 L288.6,414.9 L288.8,414.9 L289.0,414.9 L289.2,415.0 L289.4,415.0 L289.6,415.0 L289.8,415.0 L290.0,415.0 L290.2,415.1 L290.4,415.2 L290.6,415.4 L290.8,415.5 L291.0,415.6 L291.2,415.7 L291.4,415.8 L291.6,415.9 L291.8,416.0 L292.0,416.1 L292.2,416.3 L292.4,416.4 L292.6,416.5 L292.8,416.6 L293.0,416.7 L293.2,416.9 L293.4,417.0 L293.6,417.1 L293.8,417.2 L294.0,417.3 L294.2,417.4 L294.4,417.5 L294.6,417.6 L294.8,417.8 L295.0,417.9 L295.2,418.0" stroke="#ABABAB" stroke-width="2.0"/>
<path d="M73.0,445.3 L73.2,448.2 L73.4,453.7 L73.6,520.0 L73.8,457.3 L74.0,451.4 L74.2,447.9 L74.4,445.6 L74.6,443.9 L74.8,442.6 L75.0,441.6 L75.2,441.3 L75.4,442.5 L75.6,444.5 L75.8,447.8 L76.0,453.6 L76.1,456.3 L76.2,453.7 L76.4,446.5 L76.6,442.6 L76.8,440.5 L77.0,439.5 L77.2,439.3 L77.4,440.0 L77.6,441.8 L77.8,445.2 L78.0,453.3 L78.1,462.1 L78.2,454.7 L78.4,445.7 L78.6,441.6 L78.8,439.4 L79.0,438.2 L79.2,437.9 L79.4,438.3 L79.6,439.6 L79.8,442.1 L80.0,446.9 L80.2,455.0 L80.2,455.0 L80.4,449.7 L80.6,444.7 L80.8,441.6 L81.0,439.5 L81.2,438.0 L81.4,437.0 L81.6,436.4 L81.8,436.1 L82.0,436.2 L82.2,436.6 L82.4,437.5 L82.6,438.8 L82.8,440.7 L83.0,443.7 L83.2,447.9 L83.3,449.9 L83.4,449.4 L83.6,445.2 L83.8,441.4 L84.0,438.8 L84.2,436.9 L84.4,435.6 L84.6,434.8 L84.8,434.2 L85.0,434.0 L85.2,434.2 L85.4,434.7 L85.6,435.7 L85.8,437.1 L86.0,439.3 L86.2,442.8 L86.4,449.1 L86.5,455.7 L86.6,453.2 L86.8,443.2 L87.0,438.6 L87.2,436.0 L87.4,434.3 L87.6,433.4 L87.8,433.0 L88.0,433.1 L88.2,433.8 L88.4,435.1 L88.6,437.4 L88.8,441.3 L89.0,450.0 L89.1,459.7 L89.1,452.2 L89.2,449.4 L89.4,441.6 L89.6,437.4 L89.8,434.9 L90.0,433.4 L90.2,432.4 L90.4,432.0 L90.6,432.1 L90.8,432.7 L91.0,433.8 L91.2,435.7 L91.4,438.6 L91.6,442.9 L91.8,445.2 L91.8,444.9 L92.0,441.4 L92.2,438.0 L92.4,435.5 L92.6,433.7 L92.8,432.5 L93.0,431.6 L93.2,431.1 L93.4,430.9 L93.6,431.1 L93.8,431.5 L94.0,432.4 L94.2,433.6 L94.4,435.5 L94.6,438.1 L94.8,441.9 L95.0,444.7 L95.0,444.7 L95.2,441.4 L95.4,437.6 L95.6,434.8 L95.8,432.9 L96.0,431.5 L96.2,430.6 L96.4,430.1 L96.6,429.8 L96.8,429.9 L97.0,430.4 L97.2,431.2 L97.4,432.4 L97.6,434.3 L97.8,437.3 L98.0,442.3 L98.2,452.5 L98.2,452.8 L98.4,439.1 L98.6,433.3 L98.8,430.5 L99.0,429.3 L99.2,429.1 L99.4,430.0 L99.6,432.1 L99.8,435.8 L100.0,439.8 L100.0,439.8 L100.2,437.5 L100.4,434.1 L100.6,431.6 L100.8,429.9 L101.0,428.9 L101.2,428.5 L101.4,428.6 L101.6,429.2 L101.8,430.6 L102.0,433.0 L102.2,437.1 L102.4,445.9 L102.5,450.0 L102.6,441.7 L102.8,434.2 L103.0,430.6 L103.2,428.8 L103.4,427.9 L103.6,427.9 L103.8,428.8 L104.0,430.7 L104.2,434.3 L104.4,441.6 L104.5,445.1 L104.6,441.6 L104.8,434.8 L105.0,431.1 L105.2,428.9 L105.4,427.7 L105.6,427.2 L105.8,427.3 L106.0,428.1 L106.2,429.7 L106.4,432.5 L106.6,437.8 L106.8,447.4 L106.8,447.4 L107.0,439.6 L107.2,434.5 L107.4,431.4 L107.6,429.4 L107.8,428.0 L108.0,427.1 L108.2,426.5 L108.4,426.4 L108.6,426.5 L108.8,427.1 L109.0,428.0 L109.2,429.5 L109.4,431.7 L109.6,435.2 L109.8,441.2 L109.9,445.5 L110.0,445.4 L110.2,444.8 L110.4,443.7 L110.6,442.4 L110.8,441.1 L111.0,439.9 L111.2,438.8 L111.4,437.7 L111.6,436.8 L111.8,435.9 L112.0,435.1 L112.2,434.3 L112.4,433.6 L112.6,433.0 L112.8,432.4 L113.0,431.8 L113.2,431.3 L113.4,430.9 L113.6,430.4 L113.8,430.1 L114.0,429.7 L114.2,429.3 L114.4,429.0 L114.6,428.7 L114.8,428.4 L115.0,428.1 L115.2,427.8 L115.4,427.6 L115.6,427.4 L115.8,427.1 L116.0,426.9 L116.2,426.7 L116.4,426.5 L116.6,426.4 L116.8,426.2 L117.0,426.0 L117.2,425.9 L117.4,425.8 L117.6,425.6 L117.8,425.5 L118.0,425.4 L118.2,425.3 L118.4,425.2 L118.6,425.1 L118.8,425.1 L119.0,425.0 L119.2,424.9 L119.4,424.9 L119.6,424.8 L119.8,424.8 L120.0,424.8 L120.2,424.7 L120.4,424.7 L120.6,424.7 L120.8,424.7 L121.0,424.7 L121.2,424.7 L121.4,424.8 L121.6,424.8 L121.8,424.8 L122.0,424.9 L122.2,424.9 L122.4,425.0 L122.6,425.1 L122.8,425.1 L123.0,425.2 L123.2,425.3 L123.4,425.4 L123.6,425.5 L123.8,425.6 L124.0,425.8 L124.2,425.9 L124.4,426.0 L124.6,426.2 L124.8,426.3 L125.0,426.5 L125.2,426.7 L125.4,426.9 L125.6,427.1 L125.8,427.3 L126.0,427.5 L126.2,427.8 L126.4,428.0 L126.6,428.3 L126.8,428.6 L127.0,428.9 L127.2,429.2 L127.4,429.5 L127.6,429.9 L127.8,430.2 L128.0,430.6 L128.2,431.0 L128.4,431.4 L128.6,431.8 L128.8,432.3 L129.0,432.7 L129.2,433.2 L129.4,433.7 L129.6,434.2 L129.8,434.6 L130.0,435.1 L130.2,435.5 L130.4,435.8 L130.6,436.1 L130.8,436.2 L131.0,436.3 L131.2,436.2 L131.4,436.1 L131.6,436.0 L131.8,435.8 L132.0,435.6 L132.2,435.3 L132.4,435.0 L132.6,434.7 L132.8,434.4 L133.0,434.1 L133.2,433.7 L133.4,433.4 L133.6,433.0 L133.8,432.7 L134.0,432.4 L134.2,432.0 L134.4,431.7 L134.6,431.4 L134.8,431.1 L135.0,430.8 L135.2,430.5 L135.4,430.2 L135.6,429.9 L135.8,429.7 L136.0,429.4 L136.2,429.2 L136.4,428.9 L136.6,428.7 L136.8,428.5 L137.0,428.3 L137.2,428.1 L137.4,427.9 L137.6,427.6 L137.8,427.5 L138.0,427.3 L138.2,427.1 L138.4,426.9 L138.6,426.8 L138.8,426.6 L139.0,426.4 L139.2,426.3 L139.4,426.1 L139.6,426.0 L139.8,425.9 L140.0,425.8 L140.2,425.7 L140.4,425.7 L140.6,425.6 L140.8,425.6 L141.0,425.6 L141.2,425.6 L141.4,425.6 L141.6,425.6 L141.8,425.6 L142.0,425.6 L142.2,425.6 L142.4,425.6 L142.6,425.6 L142.8,425.6 L143.0,425.6 L143.2,425.7 L143.4,425.7 L143.6,425.7 L143.8,425.8 L144.0,425.8 L144.2,425.9 L144.4,425.9 L144.6,425.9 L144.8,426.0 L145.0,426.1 L145.2,426.1 L145.4,426.2 L145.6,426.3 L145.8,426.3 L146.0,426.4 L146.2,426.5 L146.4,426.6 L146.6,426.6 L146.8,426.7 L147.0,426.8 L147.2,426.9 L147.4,427.0 L147.6,427.1 L147.8,427.2 L148.0,427.3 L148.2,427.4 L148.4,427.6 L148.6,427.7 L148.8,427.8 L149.0,427.9 L149.2,428.1 L149.4,428.2 L149.6,428.3 L149.8,428.5 L150.0,428.6 L150.2,428.7 L150.4,428.8 L150.6,428.9 L150.8,428.9 L151.0,429.0 L151.2,429.1 L151.4,429.2 L151.6,429.3 L151.8,429.4 L152.0,429.5 L152.2,429.6 L152.4,429.7 L152.6,429.9 L152.8,430.0 L153.0,430.1 L153.2,430.2 L153.4,430.4 L153.6,430.5 L153.8,430.7 L154.0,430.8 L154.2,431.0 L154.4,431.2 L154.6,431.3 L154.8,431.5 L155.0,431.7 L155.2,431.9 L155.4,432.1 L155.6,432.3 L155.8,432.5 L156.0,432.8 L156.2,433.0 L156.4,433.2 L156.6,433.5 L156.8,433.7 L157.0,434.0 L157.2,434.2 L157.4,434.5 L157.6,434.8 L157.8,435.1 L158.0,435.4 L158.2,435.7 L158.4,436.0 L158.6,436.3 L158.8,436.6 L159.0,436.9 L159.2,437.2 L159.4,437.6 L159.6,437.9 L159.8,438.1 L160.0,438.4 L160.2,438.7 L160.4,438.9 L160.6,439.1 L160.8,439.3 L161.0,439.4 L161.2,439.5 L161.4,439.5 L161.6,439.3 L161.8,438.6 L162.0,437.7 L162.2,436.7 L162.4,435.7 L162.6,434.8 L162.8,433.9 L163.0,433.1 L163.2,432.4 L163.4,431.8 L163.6,431.2 L163.8,430.7 L164.0,430.2 L164.2,429.8 L164.4,429.4 L164.6,429.1 L164.8,428.9 L165.0,428.6 L165.2,428.4 L165.4,428.2 L165.6,428.1 L165.8,428.0 L166.0,427.9 L166.2,427.8 L166.4,427.8 L166.6,427.9 L166.8,427.9 L167.0,428.0 L167.2,428.2 L167.4,428.4 L167.6,428.6 L167.8,428.9 L168.0,429.2 L168.2,429.5 L168.4,430.0 L168.6,430.5 L168.8,431.0 L169.0,431.7 L169.2,432.4 L169.4,433.3 L169.6,434.2 L169.8,435.4 L170.0,436.8 L170.2,438.5 L170.4,440.6 L170.6,443.4 L170.8,446.7 L171.0,448.9 L171.2,448.2 L171.4,446.7 L171.6,445.0 L171.8,443.3 L172.0,441.8 L172.2,440.5 L172.4,439.4 L172.6,438.3 L172.8,437.4 L173.0,436.6 L173.2,435.8 L173.4,435.1 L173.6,434.4 L173.8,433.9 L174.0,433.3 L174.2,432.8 L174.4,432.3 L174.6,431.8 L174.8,431.4 L175.0,431.0 L175.2,430.6 L175.4,430.3 L175.6,429.9 L175.8,429.6 L176.0,429.3 L176.2,429.1 L176.4,428.8 L176.6,428.5 L176.8,428.3 L177.0,428.1 L177.2,427.9 L177.4,427.7 L177.6,427.5 L177.8,427.3 L178.0,427.1 L178.2,427.0 L178.4,426.9 L178.6,426.7 L178.8,426.6 L179.0,426.5 L179.2,426.4 L179.4,426.3 L179.6,426.2 L179.8,426.1 L180.0,426.1 L180.2,426.0 L180.4,425.9 L180.6,425.9 L180.8,425.8 L181.0,425.8 L181.2,425.8 L181.4,425.8 L181.6,425.7 L181.8,425.7 L182.0,425.7 L182.2,425.8 L182.4,425.8 L182.6,425.8 L182.8,425.8 L183.0,425.9 L183.2,425.9 L183.4,426.0 L183.6,426.0 L183.8,426.1 L184.0,426.2 L184.2,426.3 L184.4,426.4 L184.6,426.5 L184.8,426.6 L185.0,426.7 L185.2,426.9 L185.4,427.0 L185.6,427.2 L185.8,427.3 L186.0,427.5 L186.2,427.7 L186.4,427.9 L186.6,428.1 L186.8,428.3 L187.0,428.6 L187.2,428.8 L187.4,429.0 L187.6,429.3 L187.8,429.6 L188.0,429.8 L188.2,430.1 L188.4,430.4 L188.6,430.6 L188.8,430.9 L189.0,431.2 L189.2,431.4 L189.4,431.6 L189.6,431.8 L189.8,432.0 L190.0,432.1 L190.2,432.2 L190.4,432.3 L190.6,432.2 L190.8,432.2 L191.0,432.1 L191.2,431.9 L191.4,431.8 L191.6,431.5 L191.8,431.3 L192.0,431.0 L192.2,430.7 L192.4,430.4 L192.6,430.1 L192.8,429.8 L193.0,429.5 L193.2,429.1 L193.4,428.8 L193.6,428.5 L193.8,428.2 L194.0,427.9 L194.2,427.6 L194.4,427.3 L194.6,427.0 L194.8,426.7 L195.0,426.4 L195.2,426.2 L195.4,425.9 L195.6,425.7 L195.8,425.4 L196.0,425.2 L196.2,425.0 L196.4,424.8 L196.6,424.6 L196.8,424.4 L197.0,424.2 L197.2,424.0 L197.4,423.8 L197.6,423.6 L197.8,423.5 L198.0,423.3 L198.2,423.2 L198.4,423.0 L198.6,422.9 L198.8,422.8 L199.0,422.6 L199.2,422.5 L199.4,422.4 L199.6,422.3 L199.8,422.2 L200.0,422.1 L200.2,422.1 L200.4,422.1 L200.6,422.0 L200.8,422.0 L201.0,422.0 L201.2,422.0 L201.4,421.9 L201.6,421.9 L201.8,421.9 L202.0,422.0 L202.2,422.0 L202.4,422.0 L202.6,422.0 L202.8,422.1 L203.0,422.1 L203.2,422.1 L203.4,422.2 L203.6,422.2 L203.8,422.3 L204.0,422.4 L204.2,422.5 L204.4,422.5 L204.6,422.6 L204.8,422.7 L205.0,422.8 L205.2,422.9 L205.4,423.1 L205.6,423.2 L205.8,423.3 L206.0,423.4 L206.2,423.6 L206.4,423.7 L206.6,423.9 L206.8,424.1 L207.0,424.2 L207.2,424.4 L207.4,424.6 L207.6,424.8 L207.8,425.0 L208.0,425.2 L208.2,425.4 L208.4,425.7 L208.6,425.9 L208.8,426.1 L209.0,426.4 L209.2,426.6 L209.4,426.8 L209.6,427.1 L209.8,427.3 L210.0,427.6 L210.2,427.8 L210.4,428.0 L210.6,428.2 L210.8,428.4 L211.0,428.6 L211.2,428.8 L211.4,428.9 L211.6,429.1 L211.8,429.1 L212.0,429.2 L212.2,429.2 L212.4,429.2 L212.6,429.1 L212.8,429.1 L213.0,429.0 L213.2,428.9 L213.4,428.8 L213.6,428.6 L213.8,428.5 L214.0,428.4 L214.2,428.2 L214.4,428.0 L214.6,427.8 L214.8,427.6 L215.0,427.4 L215.2,427.2 L215.4,427.0 L215.6,426.8 L215.8,426.6 L216.0,426.4 L216.2,426.2 L216.4,426.0 L216.6,425.8 L216.8,425.6 L217.0,425.4 L217.2,425.3 L217.4,425.1 L217.6,424.9 L217.8,424.7 L218.0,424.6 L218.2,424.4 L218.4,424.2 L218.6,424.1 L218.8,423.9 L219.0,423.8 L219.2,423.6 L219.4,423.5 L219.6,423.3 L219.8,423.2 L220.0,423.1 L220.2,423.0 L220.4,422.8 L220.6,422.7 L220.8,422.6 L221.0,422.5 L221.2,422.4 L221.4,422.3 L221.6,422.2 L221.8,422.1 L222.0,422.0 L222.2,422.0 L222.4,421.9 L222.6,421.8 L222.8,421.7 L223.0,421.7 L223.2,421.6 L223.4,421.6 L223.6,421.5 L223.8,421.4 L224.0,421.4 L224.2,421.4 L224.4,421.3 L224.6,421.3 L224.8,421.2 L225.0,421.2 L225.2,421.2 L225.4,421.2 L225.6,421.2 L225.8,421.1 L226.0,421.1 L226.2,421.1 L226.4,421.1 L226.6,421.1 L226.8,421.1 L227.0,421.1 L227.2,421.1 L227.4,421.2 L227.6,421.2 L227.8,421.2 L228.0,421.2 L228.2,421.2 L228.4,421.3 L228.6,421.3 L228.8,421.4 L229.0,421.4 L229.2,421.4 L229.4,421.5 L229.6,421.6 L229.8,421.6 L230.0,421.7 L230.2,421.7 L230.4,421.8 L230.6,421.9 L230.8,421.9 L231.0,422.0 L231.2,422.1 L231.4,422.1 L231.6,422.2 L231.8,422.3 L232.0,422.4 L232.2,422.5 L232.4,422.6 L232.6,422.7 L232.8,422.8 L233.0,422.9 L233.2,423.0 L233.4,423.1 L233.6,423.3 L233.8,423.4 L234.0,423.5 L234.2,423.6 L234.4,423.8 L234.6,423.9 L234.8,424.1 L235.0,424.2 L235.2,424.4 L235.4,424.5 L235.6,424.6 L235.8,424.8 L236.0,425.0 L236.2,425.1 L236.4,425.3 L236.6,425.4 L236.8,425.6 L237.0,425.7 L237.2,425.9 L237.4,426.0 L237.6,426.1 L237.8,426.3 L238.0,426.4 L238.2,426.5 L238.4,426.6 L238.6,426.7 L238.8,426.8 L239.0,426.9 L239.2,426.9 L239.4,427.0 L239.6,427.0 L239.8,427.0 L240.0,427.0 L240.2,427.0 L240.4,427.0 L240.6,426.9 L240.8,426.9 L241.0,426.8 L241.2,426.7 L241.4,426.7 L241.6,426.6 L241.8,426.5 L242.0,426.4 L242.2,426.3 L242.4,426.2 L242.6,426.1 L242.8,425.9 L243.0,425.8 L243.2,425.7 L243.4,425.5 L243.6,425.4 L243.8,425.2 L244.0,425.1 L244.2,425.0 L244.4,424.8 L244.6,424.7 L244.8,424.5 L245.0,424.4 L245.2,424.2 L245.4,424.1 L245.6,423.9 L245.8,423.8 L246.0,423.7 L246.2,423.5 L246.4,423.4 L246.6,423.2 L246.8,423.1 L247.0,423.0 L247.2,422.9 L247.4,422.7 L247.6,422.6 L247.8,422.5 L248.0,422.3 L248.2,422.2 L248.4,422.1 L248.6,422.0 L248.8,421.9 L249.0,421.8 L249.2,421.6 L249.4,421.5 L249.6,421.4 L249.8,421.3 L250.0,421.2 L250.2,421.1 L250.4,421.0 L250.6,420.9 L250.8,420.9 L251.0,420.8 L251.2,420.7 L251.4,420.6 L251.6,420.5 L251.8,420.4 L252.0,420.4 L252.2,420.3 L252.4,420.2 L252.6,420.1 L252.8,420.1 L253.0,420.0 L253.2,420.0 L253.4,419.9 L253.6,419.8 L253.8,419.8 L254.0,419.7 L254.2,419.7 L254.4,419.6 L254.6,419.6 L254.8,419.6 L255.0,419.5 L255.2,419.5 L255.4,419.4 L255.6,419.4 L255.8,419.4 L256.0,419.3 L256.2,419.3 L256.4,419.3 L256.6,419.2 L256.8,419.2 L257.0,419.2 L257.2,419.2 L257.4,419.2 L257.6,419.2 L257.8,419.1 L258.0,419.1 L258.2,419.1 L258.4,419.1 L258.6,419.1 L258.8,419.1 L259.0,419.1 L259.2,419.1 L259.4,419.1 L259.6,419.1 L259.8,419.2 L260.0,419.2 L260.2,419.2 L260.4,419.2 L260.6,419.2 L260.8,419.3 L261.0,419.3 L261.2,419.3 L261.4,419.4 L261.6,419.4 L261.8,419.4 L262.0,419.5 L262.2,419.5 L262.4,419.6 L262.6,419.6 L262.8,419.7 L263.0,419.7 L263.2,419.8 L263.4,419.9 L263.6,419.9 L263.8,420.0 L264.0,420.0 L264.2,420.1 L264.4,420.2 L264.6,420.2 L264.8,420.3 L265.0,420.4 L265.2,420.5 L265.4,420.6 L265.6,420.6 L265.8,420.7 L266.0,420.8 L266.2,420.9 L266.4,421.0 L266.6,421.1 L266.8,421.2 L267.0,421.3 L267.2,421.4 L267.4,421.5 L267.6,421.6 L267.8,421.7 L268.0,421.8 L268.2,421.9 L268.4,422.1 L268.6,422.2 L268.8,422.3 L269.0,422.4 L269.2,422.5 L269.4,422.6 L269.6,422.8 L269.8,422.9 L270.0,423.0 L270.2,423.1 L270.4,423.2 L270.6,423.4 L270.8,423.5 L271.0,423.6 L271.2,423.7 L271.4,423.9 L271.6,424.0 L271.8,424.1 L272.0,424.2 L272.2,424.3 L272.4,424.4 L272.6,424.5 L272.8,424.6 L273.0,424.7 L273.2,424.7 L273.4,424.8 L273.6,424.9 L273.8,424.9 L274.0,425.0 L274.2,425.0 L274.4,425.0 L274.6,425.1 L274.8,425.1 L275.0,425.1 L275.2,425.1 L275.4,425.0 L275.6,425.0 L275.8,425.0 L276.0,424.9 L276.2,424.9 L276.4,424.8 L276.6,424.7 L276.8,424.6 L277.0,424.5 L277.2,424.4 L277.4,424.4 L277.6,424.2 L277.8,424.1 L278.0,424.0 L278.2,423.9 L278.4,423.8 L278.6,423.6 L278.8,423.5 L279.0,423.4 L279.2,423.3 L279.4,423.1 L279.6,423.0 L279.8,422.9 L280.0,422.7 L280.2,422.6 L280.4,422.5 L280.6,422.3 L280.8,422.2 L281.0,422.1 L281.2,421.9 L281.4,421.8 L281.6,421.7 L281.8,421.6 L282.0,421.4 L282.2,421.3 L282.4,421.2 L282.6,421.1 L282.8,421.0 L283.0,420.9 L283.2,420.7 L283.4,420.6 L283.6,420.5 L283.8,420.4 L284.0,420.3 L284.2,420.2 L284.4,420.1 L284.6,420.0 L284.8,419.9 L285.0,419.8 L285.2,419.8 L285.4,419.7 L285.6,419.6 L285.8,419.5 L286.0,419.4 L286.2,419.3 L286.4,419.3 L286.6,419.2 L286.8,419.1 L287.0,419.1 L287.2,419.0 L287.4,418.9 L287.6,418.9 L287.8,418.8 L288.0,418.8 L288.2,418.7 L288.4,418.6 L288.6,418.6 L288.8,418.6 L289.0,418.5 L289.2,418.5 L289.4,418.4 L289.6,418.4 L289.8,418.4 L290.0,418.3 L290.2,418.3 L290.4,418.3 L290.6,418.2 L290.8,418.2 L291.0,418.2 L291.2,418.2 L291.4,418.1 L291.6,418.1 L291.8,418.1 L292.0,418.1 L292.2,418.1 L292.4,418.1 L292.6,418.1 L292.8,418.1 L293.0,418.1 L293.2,418.1 L293.4,418.1 L293.6,418.1 L293.8,418.0 L294.0,418.0 L294.2,418.0 L294.4,418.0 L294.6,418.0 L294.8,418.0 L295.0,418.0 L295.2,418.0" stroke="#595959" stroke-width="2.0"/>
<path d="M72.8,447.4 L73.0,450.7 L73.1,458.1 L73.2,520.0 L73.2,470.5 L73.4,458.4 L73.5,453.5 L73.7,450.3 L73.8,447.9 L74.0,446.1 L74.2,444.6 L74.3,443.4 L74.5,442.5 L74.6,444.3 L74.8,447.7 L74.9,455.0 L75.0,465.8 L75.0,458.3 L75.2,447.7 L75.3,443.2 L75.5,440.6 L75.7,439.1 L75.8,438.4 L76.0,438.4 L76.1,439.1 L76.2,440.7 L76.4,443.9 L76.5,450.6 L76.7,459.2 L76.7,454.4 L76.8,443.5 L77.0,439.4 L77.2,437.4 L77.3,436.9 L77.5,437.6 L77.6,439.8 L77.8,444.8 L77.9,464.5 L77.9,465.1 L78.0,446.0 L78.2,440.4 L78.3,437.6 L78.5,436.3 L78.7,436.1 L78.8,436.8 L79.0,438.8 L79.1,442.9 L79.2,453.4 L79.3,457.4 L79.4,447.0 L79.5,440.1 L79.7,437.0 L79.8,435.5 L80.0,435.2 L80.2,436.0 L80.3,438.2 L80.5,442.9 L80.6,455.1 L80.6,455.6 L80.8,442.9 L80.9,437.4 L81.0,435.0 L81.2,434.4 L81.3,435.4 L81.5,438.4 L81.7,446.3 L81.7,460.1 L81.8,451.6 L82.0,442.1 L82.1,437.9 L82.2,435.6 L82.4,434.2 L82.5,433.6 L82.7,433.6 L82.8,434.2 L83.0,435.7 L83.2,438.3 L83.3,443.3 L83.5,458.1 L83.5,459.6 L83.6,443.8 L83.8,437.7 L83.9,434.7 L84.0,433.1 L84.2,432.5 L84.3,432.7 L84.5,433.8 L84.7,436.1 L84.8,440.5 L85.0,450.7 L85.0,452.2 L85.1,448.5 L85.2,443.4 L85.4,440.1 L85.5,437.6 L85.7,435.8 L85.8,434.4 L86.0,433.4 L86.2,432.5 L86.3,431.9 L86.5,431.5 L86.6,431.2 L86.8,431.0 L86.9,431.0 L87.0,431.2 L87.2,431.5 L87.3,431.9 L87.5,432.5 L87.7,433.3 L87.8,434.3 L88.0,435.6 L88.1,437.0 L88.2,438.6 L88.4,439.9 L88.5,440.3 L88.5,440.2 L88.7,438.5 L88.8,436.2 L89.0,434.1 L89.2,432.6 L89.3,431.4 L89.5,430.5 L89.6,429.9 L89.8,429.7 L89.9,429.6 L90.0,429.9 L90.2,430.4 L90.3,431.3 L90.5,432.5 L90.7,434.2 L90.8,436.3 L91.0,438.6 L91.1,439.5 L91.1,439.4 L91.2,436.9 L91.4,433.9 L91.5,431.7 L91.7,430.1 L91.8,429.1 L92.0,428.7 L92.2,428.7 L92.3,429.2 L92.5,430.2 L92.6,432.1 L92.8,435.2 L92.9,440.8 L93.0,450.3 L93.0,449.9 L93.2,438.8 L93.3,433.6 L93.5,430.8 L93.7,429.1 L93.8,428.1 L94.0,427.8 L94.1,428.0 L94.2,428.8 L94.4,430.3 L94.5,432.7 L94.7,436.7 L94.8,441.1 L94.9,441.2 L95.0,432.0 L95.2,427.7 L95.3,427.5 L95.5,431.2 L95.6,440.5 L95.8,439.9 L95.9,438.6 L96.0,437.1 L96.2,435.6 L96.3,434.2 L96.5,433.0 L96.7,431.9 L96.8,431.0 L97.0,430.1 L97.1,429.3 L97.2,428.7 L97.4,428.1 L97.5,427.5 L97.7,427.1 L97.8,426.6 L98.0,426.3 L98.2,426.0 L98.3,425.7 L98.5,425.5 L98.6,425.4 L98.8,425.2 L98.9,425.2 L99.0,425.2 L99.2,425.3 L99.3,425.4 L99.5,425.6 L99.7,425.8 L99.8,426.1 L100.0,426.4 L100.1,426.8 L100.2,427.2 L100.4,427.7 L100.5,428.3 L100.7,429.0 L100.8,429.8 L101.0,430.7 L101.2,431.7 L101.3,432.9 L101.5,434.2 L101.6,435.6 L101.8,437.1 L101.9,438.1 L102.0,438.3 L102.0,438.2 L102.2,437.4 L102.3,436.1 L102.5,434.6 L102.7,433.2 L102.8,431.9 L103.0,430.8 L103.1,429.8 L103.2,428.9 L103.4,428.2 L103.5,427.5 L103.7,426.9 L103.8,426.4 L104.0,425.9 L104.2,425.5 L104.3,425.2 L104.5,424.9 L104.6,424.6 L104.8,424.4 L104.9,424.3 L105.0,424.2 L105.2,424.1 L105.3,424.1 L105.5,424.1 L105.7,424.2 L105.8,424.3 L106.0,424.5 L106.1,424.7 L106.2,424.9 L106.4,425.2 L106.5,425.6 L106.7,426.0 L106.8,426.5 L107.0,427.1 L107.2,427.7 L107.3,428.4 L107.5,429.2 L107.6,430.2 L107.8,431.2 L107.9,432.4 L108.0,433.7 L108.2,434.9 L108.3,435.9 L108.5,436.2 L108.7,435.9 L108.8,435.0 L109.0,433.8 L109.1,432.6 L109.2,431.5 L109.4,430.4 L109.5,429.4 L109.7,428.6 L109.8,427.8 L110.0,427.1 L110.2,426.5 L110.3,425.9 L110.5,425.4 L110.6,425.0 L110.8,424.6 L110.9,424.2 L111.0,423.9 L111.2,423.7 L111.3,423.5 L111.5,423.3 L111.7,423.1 L111.8,423.1 L112.0,423.0 L112.1,423.0 L112.2,423.0 L112.4,423.1 L112.5,423.1 L112.7,423.3 L112.8,423.4 L113.0,423.6 L113.2,423.9 L113.3,424.2 L113.5,424.5 L113.6,424.9 L113.8,425.3 L113.9,425.7 L114.0,426.2 L114.2,426.8 L114.3,427.5 L114.5,428.2 L114.7,428.9 L114.8,429.7 L115.0,430.6 L115.1,431.4 L115.2,432.2 L115.4,432.8 L115.5,433.1 L115.6,433.1 L115.7,433.0 L115.8,432.8 L116.0,432.3 L116.2,431.8 L116.3,431.1 L116.5,430.4 L116.6,429.8 L116.8,429.1 L116.9,428.5 L117.0,427.9 L117.2,427.3 L117.3,426.8 L117.5,426.3 L117.7,425.9 L117.8,425.5 L118.0,425.1 L118.1,424.7 L118.2,424.4 L118.4,424.1 L118.5,423.9 L118.7,423.6 L118.8,423.4 L119.0,423.2 L119.2,423.1 L119.3,422.9 L119.5,422.8 L119.6,422.7 L119.8,422.6 L119.9,422.6 L120.0,422.5 L120.2,422.5 L120.3,422.5 L120.5,422.5 L120.7,422.6 L120.8,422.7 L121.0,422.8 L121.1,422.9 L121.2,423.0 L121.4,423.2 L121.5,423.4 L121.7,423.6 L121.8,423.8 L122.0,424.1 L122.2,424.4 L122.3,424.8 L122.5,425.2 L122.6,425.6 L122.8,426.1 L122.9,426.6 L123.0,427.1 L123.2,427.8 L123.3,428.4 L123.5,429.2 L123.7,430.1 L123.8,431.0 L124.0,432.0 L124.1,433.0 L124.2,434.1 L124.4,435.1 L124.5,435.9 L124.7,436.2 L124.8,436.1 L125.0,435.8 L125.2,435.4 L125.3,434.9 L125.5,434.4 L125.6,433.8 L125.8,433.2 L125.9,432.6 L126.0,432.0 L126.2,431.5 L126.3,430.9 L126.5,430.4 L126.7,429.9 L126.8,429.4 L127.0,428.9 L127.1,428.5 L127.2,428.1 L127.4,427.7 L127.5,427.3 L127.7,427.0 L127.8,426.6 L128.0,426.3 L128.2,426.0 L128.3,425.7 L128.4,425.4 L128.6,425.1 L128.8,424.9 L128.9,424.6 L129.1,424.4 L129.2,424.2 L129.3,423.9 L129.5,423.8 L129.7,423.6 L129.8,423.4 L129.9,423.2 L130.1,423.0 L130.2,422.9 L130.4,422.7 L130.6,422.6 L130.7,422.4 L130.8,422.3 L131.0,422.2 L131.2,422.1 L131.3,422.0 L131.4,421.9 L131.6,421.8 L131.8,421.7 L131.9,421.6 L132.1,421.6 L132.2,421.5 L132.3,421.4 L132.5,421.4 L132.7,421.4 L132.8,421.3 L132.9,421.3 L133.1,421.3 L133.2,421.3 L133.4,421.3 L133.6,421.3 L133.7,421.3 L133.8,421.3 L134.0,421.4 L134.2,421.4 L134.3,421.4 L134.4,421.4 L134.6,421.5 L134.8,421.5 L134.9,421.6 L135.1,421.7 L135.2,421.7 L135.3,421.8 L135.5,421.9 L135.7,422.0 L135.8,422.1 L135.9,422.1 L136.1,422.2 L136.2,422.4 L136.4,422.5 L136.6,422.6 L136.7,422.7 L136.8,422.9 L137.0,423.0 L137.2,423.2 L137.3,423.3 L137.4,423.5 L137.6,423.7 L137.8,423.8 L137.9,424.0 L138.1,424.2 L138.2,424.4 L138.3,424.6 L138.5,424.9 L138.7,425.1 L138.8,425.3 L138.9,425.6 L139.1,425.8 L139.2,426.1 L139.4,426.3 L139.6,426.6 L139.7,426.9 L139.8,427.1 L140.0,427.4 L140.2,427.7 L140.3,428.0 L140.4,428.3 L140.6,428.6 L140.8,428.8 L140.9,429.1 L141.1,429.3 L141.2,429.5 L141.3,429.7 L141.5,429.9 L141.7,430.0 L141.8,430.1 L141.9,430.1 L142.0,430.1 L142.1,430.1 L142.2,430.0 L142.4,429.9 L142.6,429.8 L142.7,429.7 L142.8,429.5 L143.0,429.2 L143.2,429.0 L143.3,428.8 L143.4,428.5 L143.6,428.2 L143.8,428.0 L143.9,427.7 L144.1,427.4 L144.2,427.1 L144.3,426.9 L144.5,426.6 L144.7,426.3 L144.8,426.1 L144.9,425.8 L145.1,425.6 L145.2,425.3 L145.4,425.1 L145.6,424.9 L145.7,424.6 L145.8,424.4 L146.0,424.2 L146.2,424.1 L146.3,423.9 L146.4,423.7 L146.6,423.5 L146.8,423.4 L146.9,423.2 L147.1,423.1 L147.2,422.9 L147.3,422.8 L147.5,422.6 L147.7,422.5 L147.8,422.4 L147.9,422.3 L148.1,422.2 L148.2,422.1 L148.4,422.0 L148.6,421.9 L148.7,421.8 L148.8,421.8 L149.0,421.7 L149.2,421.6 L149.3,421.6 L149.4,421.5 L149.6,421.5 L149.8,421.4 L149.9,421.4 L150.1,421.4 L150.2,421.3 L150.3,421.3 L150.5,421.3 L150.7,421.3 L150.8,421.3 L150.9,421.2 L151.1,421.2 L151.2,421.2 L151.4,421.2 L151.6,421.2 L151.7,421.2 L151.8,421.2 L152.0,421.3 L152.2,421.3 L152.3,421.3 L152.4,421.4 L152.6,421.4 L152.8,421.4 L152.9,421.5 L153.1,421.6 L153.2,421.6 L153.3,421.7 L153.5,421.8 L153.7,421.9 L153.8,422.0 L153.9,422.1 L154.1,422.2 L154.2,422.3 L154.4,422.4 L154.6,422.6 L154.7,422.7 L154.8,422.9 L155.0,423.0 L155.2,423.2 L155.3,423.4 L155.4,423.5 L155.6,423.7 L155.8,423.9 L155.9,424.1 L156.1,424.4 L156.2,424.6 L156.3,424.9 L156.5,425.1 L156.7,425.4 L156.8,425.7 L156.9,425.9 L157.1,426.3 L157.2,426.6 L157.4,426.9 L157.6,427.2 L157.7,427.6 L157.8,427.9 L158.0,428.3 L158.2,428.6 L158.3,429.0 L158.4,429.4 L158.6,429.7 L158.8,430.0 L158.9,430.3 L159.1,430.6 L159.2,430.7 L159.3,430.9 L159.5,430.9 L159.6,430.9 L159.7,430.9 L159.8,430.9 L159.9,430.7 L160.1,430.6 L160.2,430.4 L160.4,430.1 L160.6,429.9 L160.7,429.6 L160.8,429.3 L161.0,428.9 L161.2,428.6 L161.3,428.3 L161.4,427.9 L161.6,427.6 L161.8,427.2 L161.9,426.9 L162.1,426.6 L162.2,426.2 L162.3,425.9 L162.5,425.6 L162.7,425.3 L162.8,425.0 L162.9,424.8 L163.1,424.5 L163.2,424.2 L163.4,423.9 L163.6,423.7 L163.7,423.4 L163.8,423.2 L164.0,423.0 L164.2,422.8 L164.3,422.5 L164.4,422.3 L164.6,422.1 L164.8,421.9 L164.9,421.7 L165.1,421.6 L165.2,421.4 L165.3,421.2 L165.5,421.0 L165.7,420.9 L165.8,420.7 L165.9,420.6 L166.1,420.4 L166.2,420.3 L166.4,420.2 L166.6,420.0 L166.7,419.9 L166.8,419.8 L167.0,419.7 L167.2,419.6 L167.3,419.5 L167.4,419.4 L167.6,419.3 L167.8,419.2 L167.9,419.1 L168.1,419.0 L168.2,418.9 L168.3,418.9 L168.5,418.8 L168.7,418.7 L168.8,418.7 L168.9,418.6 L169.1,418.5 L169.2,418.5 L169.4,418.4 L169.6,418.4 L169.7,418.4 L169.8,418.3 L170.0,418.3 L170.2,418.3 L170.3,418.3 L170.4,418.3 L170.6,418.3 L170.8,418.4 L170.9,418.4 L171.1,418.4 L171.2,418.4 L171.3,418.4 L171.5,418.5 L171.7,418.5 L171.8,418.6 L171.9,418.6 L172.1,418.7 L172.2,418.7 L172.4,418.8 L172.6,418.9 L172.7,418.9 L172.8,419.0 L173.0,419.1 L173.2,419.1 L173.3,419.2 L173.4,419.3 L173.6,419.4 L173.8,419.5 L173.9,419.6 L174.1,419.7 L174.2,419.8 L174.3,420.0 L174.5,420.1 L174.7,420.2 L174.8,420.4 L174.9,420.5 L175.1,420.6 L175.2,420.8 L175.4,420.9 L175.6,421.1 L175.7,421.3 L175.8,421.4 L176.0,421.6 L176.2,421.8 L176.3,422.0 L176.4,422.2 L176.6,422.4 L176.8,422.6 L176.9,422.8 L177.1,423.1 L177.2,423.3 L177.3,423.5 L177.5,423.8 L177.7,424.0 L177.8,424.3 L177.9,424.6 L178.1,424.8 L178.2,425.1 L178.4,425.4 L178.6,425.7 L178.7,425.9 L178.8,426.2 L179.0,426.5 L179.2,426.8 L179.3,427.1 L179.4,427.4 L179.6,427.6 L179.8,427.9 L179.9,428.1 L180.1,428.3 L180.2,428.5 L180.3,428.6 L180.5,428.7 L180.7,428.8 L180.8,428.8 L180.9,428.5 L181.1,427.7 L181.2,426.7 L181.4,425.6 L181.6,424.6 L181.7,423.6 L181.8,422.8 L182.0,422.0 L182.2,421.3 L182.3,420.8 L182.4,420.3 L182.6,419.9 L182.8,419.5 L182.9,419.2 L183.1,419.0 L183.2,418.8 L183.3,418.7 L183.5,418.7 L183.7,418.7 L183.8,418.8 L183.9,418.9 L184.1,419.1 L184.2,419.4 L184.4,419.8 L184.6,420.2 L184.7,420.7 L184.8,421.3 L185.0,422.1 L185.2,422.9 L185.3,423.9 L185.4,425.2 L185.6,426.6 L185.8,428.4 L185.9,430.8 L186.1,433.7 L186.2,437.0 L186.3,438.1 L186.3,438.1 L186.5,437.9 L186.7,437.5 L186.8,437.0 L186.9,436.3 L187.1,435.6 L187.2,434.9 L187.4,434.2 L187.6,433.5 L187.7,432.8 L187.8,432.2 L188.0,431.6 L188.2,431.1 L188.3,430.5 L188.4,430.0 L188.6,429.6 L188.8,429.1 L188.9,428.7 L189.1,428.3 L189.2,427.9 L189.3,427.5 L189.5,427.2 L189.7,426.9 L189.8,426.5 L189.9,426.2 L190.1,425.9 L190.2,425.6 L190.4,425.4 L190.6,425.1 L190.7,424.9 L190.8,424.6 L191.0,424.4 L191.2,424.2 L191.3,424.0 L191.4,423.8 L191.6,423.6 L191.8,423.4 L191.9,423.2 L192.1,423.1 L192.2,422.9 L192.3,422.8 L192.5,422.6 L192.7,422.4 L192.8,422.3 L192.9,422.2 L193.1,422.0 L193.2,421.9 L193.4,421.8 L193.6,421.7 L193.7,421.6 L193.8,421.4 L194.0,421.4 L194.2,421.2 L194.3,421.2 L194.4,421.1 L194.6,421.0 L194.8,420.9 L194.9,420.8 L195.1,420.7 L195.2,420.7 L195.3,420.6 L195.5,420.5 L195.7,420.5 L195.8,420.4 L195.9,420.4 L196.1,420.3 L196.2,420.3 L196.4,420.2 L196.6,420.2 L196.7,420.1 L196.8,420.1 L197.0,420.1 L197.2,420.1 L197.3,420.0 L197.4,420.0 L197.6,420.0 L197.8,420.0 L197.9,419.9 L198.1,419.9 L198.2,419.9 L198.3,419.9 L198.5,419.9 L198.7,419.9 L198.8,419.9 L198.9,419.9 L199.1,419.9 L199.2,419.9 L199.4,419.9 L199.6,420.0 L199.7,420.0 L199.8,420.0 L200.0,420.0 L200.2,420.0 L200.3,420.0 L200.4,420.1 L200.6,420.1 L200.8,420.1 L200.9,420.1 L201.1,420.1 L201.2,420.1 L201.3,420.2 L201.5,420.2 L201.7,420.2 L201.8,420.2 L201.9,420.3 L202.1,420.3 L202.2,420.4 L202.4,420.4 L202.6,420.5 L202.7,420.5 L202.8,420.6 L203.0,420.6 L203.2,420.7 L203.3,420.7 L203.4,420.8 L203.6,420.9 L203.8,420.9 L203.9,421.0 L204.1,421.1 L204.2,421.2 L204.3,421.2 L204.5,421.3 L204.7,421.4 L204.8,421.5 L204.9,421.6 L205.1,421.7 L205.2,421.8 L205.4,421.9 L205.6,422.0 L205.7,422.1 L205.8,422.3 L206.0,422.4 L206.2,422.5 L206.3,422.6 L206.4,422.8 L206.6,422.9 L206.8,423.0 L206.9,423.2 L207.1,423.3 L207.2,423.5 L207.3,423.6 L207.5,423.8 L207.7,424.0 L207.8,424.1 L207.9,424.3 L208.1,424.5 L208.2,424.7 L208.4,424.9 L208.6,425.1 L208.7,425.2 L208.8,425.4 L209.0,425.6 L209.2,425.8 L209.3,426.1 L209.4,426.2 L209.6,426.5 L209.8,426.7 L209.9,426.9 L210.1,427.1 L210.2,427.3 L210.3,427.5 L210.5,427.7 L210.7,427.8 L210.8,428.0 L210.9,428.2 L211.1,428.3 L211.2,428.5 L211.4,428.6 L211.6,428.7 L211.7,428.8 L211.8,428.8 L212.0,428.9 L212.2,428.9 L212.2,428.9 L212.3,428.9 L212.4,428.8 L212.6,428.7 L212.8,428.6 L212.9,428.5 L213.1,428.4 L213.2,428.2 L213.3,428.0 L213.5,427.8 L213.7,427.6 L213.8,427.4 L213.9,427.1 L214.1,426.9 L214.2,426.7 L214.4,426.4 L214.6,426.2 L214.7,425.9 L214.8,425.7 L215.0,425.4 L215.2,425.2 L215.3,425.0 L215.4,424.7 L215.6,424.5 L215.8,424.3 L215.9,424.1 L216.1,423.9 L216.2,423.7 L216.3,423.5 L216.5,423.3 L216.7,423.1 L216.8,422.9 L216.9,422.7 L217.1,422.5 L217.2,422.4 L217.4,422.2 L217.6,422.0 L217.7,421.9 L217.8,421.7 L218.0,421.6 L218.2,421.4 L218.3,421.3 L218.4,421.1 L218.6,421.0 L218.8,420.9 L218.9,420.8 L219.1,420.6 L219.2,420.5 L219.3,420.4 L219.5,420.3 L219.7,420.2 L219.8,420.1 L219.9,420.0 L220.1,419.9 L220.2,419.8 L220.4,419.7 L220.6,419.7 L220.7,419.6 L220.8,419.5 L221.0,419.4 L221.2,419.4 L221.3,419.3 L221.4,419.2 L221.6,419.2 L221.8,419.1 L221.9,419.1 L222.1,419.0 L222.2,419.0 L222.3,418.9 L222.5,418.9 L222.7,418.9 L222.8,418.9 L222.9,418.8 L223.1,418.8 L223.2,418.8 L223.4,418.8 L223.6,418.7 L223.7,418.7 L223.8,418.7 L224.0,418.7 L224.2,418.7 L224.3,418.7 L224.4,418.7 L224.6,418.7 L224.8,418.7 L224.9,418.7 L225.1,418.7 L225.2,418.7 L225.3,418.8 L225.5,418.8 L225.7,418.8 L225.8,418.8 L225.9,418.8 L226.1,418.9 L226.2,418.9 L226.4,418.9 L226.6,419.0 L226.7,419.0 L226.8,419.0 L227.0,419.1 L227.2,419.1 L227.3,419.2 L227.4,419.2 L227.6,419.3 L227.8,419.3 L227.9,419.4 L228.1,419.5 L228.2,419.5 L228.3,419.6 L228.5,419.7 L228.7,419.7 L228.8,419.8 L228.9,419.9 L229.1,420.0 L229.2,420.0 L229.4,420.1 L229.6,420.2 L229.7,420.3 L229.8,420.4 L230.0,420.5 L230.2,420.6 L230.3,420.7 L230.4,420.8 L230.6,420.9 L230.8,421.0 L230.9,421.1 L231.1,421.2 L231.2,421.4 L231.3,421.5 L231.5,421.6 L231.7,421.7 L231.8,421.9 L231.9,422.0 L232.1,422.1 L232.2,422.2 L232.4,422.3 L232.6,422.5 L232.7,422.6 L232.8,422.7 L233.0,422.8 L233.2,423.0 L233.3,423.1 L233.4,423.2 L233.6,423.3 L233.8,423.4 L233.9,423.5 L234.1,423.6 L234.2,423.7 L234.3,423.8 L234.5,423.9 L234.7,424.0 L234.8,424.0 L234.9,424.1 L235.1,424.1 L235.2,424.2 L235.4,424.2 L235.6,424.3 L235.7,424.3 L235.8,424.3 L235.9,424.3 L236.0,424.3 L236.2,424.3 L236.3,424.3 L236.4,424.2 L236.6,424.2 L236.8,424.2 L236.9,424.1 L237.1,424.0 L237.2,424.0 L237.3,423.9 L237.5,423.8 L237.7,423.7 L237.8,423.6 L237.9,423.5 L238.1,423.4 L238.2,423.3 L238.4,423.2 L238.6,423.1 L238.7,423.0 L238.8,422.9 L239.0,422.8 L239.2,422.6 L239.3,422.5 L239.4,422.4 L239.6,422.3 L239.8,422.1 L239.9,422.0 L240.1,421.9 L240.2,421.8 L240.3,421.7 L240.5,421.6 L240.7,421.4 L240.8,421.3 L240.9,421.2 L241.1,421.1 L241.2,421.0 L241.4,420.9 L241.6,420.8 L241.7,420.7 L241.8,420.6 L242.0,420.5 L242.2,420.4 L242.3,420.3 L242.4,420.2 L242.6,420.1 L242.8,420.1 L242.9,420.0 L243.1,419.9 L243.2,419.8 L243.3,419.7 L243.5,419.7 L243.7,419.6 L243.8,419.5 L243.9,419.5 L244.1,419.4 L244.2,419.4 L244.4,419.3 L244.6,419.2 L244.7,419.2 L244.8,419.1 L245.0,419.1 L245.2,419.1 L245.3,419.0 L245.4,419.0 L245.6,418.9 L245.8,418.9 L245.9,418.9 L246.1,418.9 L246.2,418.8 L246.3,418.8 L246.5,418.8 L246.7,418.8 L246.8,418.8 L246.9,418.7 L247.1,418.7 L247.2,418.7 L247.4,418.7 L247.6,418.7 L247.7,418.7 L247.8,418.7 L248.0,418.7 L248.2,418.7 L248.3,418.7 L248.4,418.7 L248.6,418.7 L248.8,418.7 L248.9,418.7 L249.1,418.7 L249.2,418.7 L249.3,418.7 L249.5,418.7 L249.7,418.7 L249.8,418.7 L249.9,418.7 L250.1,418.7 L250.2,418.8 L250.4,418.8 L250.6,418.8 L250.7,418.8 L250.8,418.8 L251.0,418.8 L251.2,418.8 L251.3,418.8 L251.4,418.8 L251.6,418.8 L251.8,418.8 L251.9,418.8 L252.1,418.8 L252.2,418.8 L252.3,418.8 L252.5,418.8 L252.7,418.8 L252.8,418.8 L252.9,418.8 L253.1,418.8 L253.2,418.8 L253.4,418.8 L253.6,418.8 L253.7,418.8 L253.8,418.8 L254.0,418.8 L254.2,418.8 L254.3,418.8 L254.4,418.8 L254.6,418.8 L254.8,418.8 L254.9,418.8 L255.1,418.8 L255.2,418.8 L255.3,418.8 L255.5,418.8 L255.7,418.8 L255.8,418.8 L255.9,418.8 L256.1,418.8 L256.2,418.8 L256.4,418.8 L256.6,418.8 L256.7,418.8 L256.9,418.8 L257.0,418.8 L257.1,418.8 L257.3,418.8 L257.4,418.8 L257.6,418.8 L257.8,418.8 L257.9,418.8 L258.1,418.9 L258.2,418.9 L258.4,418.9 L258.5,418.9 L258.6,418.9 L258.8,418.9 L258.9,418.9 L259.1,418.9 L259.2,418.9 L259.4,418.9 L259.6,418.9 L259.7,418.9 L259.9,418.9 L260.0,418.9 L260.1,418.9 L260.3,418.9 L260.4,418.9 L260.6,418.9 L260.8,418.9 L260.9,418.9 L261.1,418.9 L261.2,418.9 L261.4,418.9 L261.5,418.9 L261.6,418.9 L261.8,418.9 L261.9,418.9 L262.1,418.9 L262.2,418.9 L262.4,418.9 L262.6,418.9 L262.7,418.9 L262.9,418.9 L263.0,418.9 L263.1,418.9 L263.3,418.9 L263.4,418.9 L263.6,418.9 L263.8,418.9 L263.9,418.9 L264.1,418.9 L264.2,418.9 L264.4,418.9 L264.5,418.9 L264.6,418.9 L264.8,418.9 L264.9,418.9 L265.1,418.9 L265.2,418.9 L265.4,418.9 L265.6,418.9 L265.7,418.9 L265.9,418.9 L266.0,418.9 L266.1,418.9 L266.3,418.9 L266.4,418.9 L266.6,419.0 L266.8,419.0 L266.9,419.0 L267.1,419.0 L267.2,419.0 L267.4,419.0 L267.5,419.0 L267.6,419.0 L267.8,419.0 L267.9,419.0 L268.1,419.0 L268.2,419.0 L268.4,419.0 L268.6,419.0 L268.7,419.0 L268.9,419.0 L269.0,419.0 L269.1,419.0 L269.3,419.0 L269.4,419.0 L269.6,419.0 L269.8,419.0 L269.9,419.0 L270.1,419.0 L270.2,419.0 L270.4,419.0 L270.5,419.0 L270.6,419.0 L270.8,419.0 L270.9,419.0 L271.1,419.0 L271.2,419.0 L271.4,419.0 L271.6,419.1 L271.7,419.1 L271.9,419.1 L272.0,419.1 L272.1,419.1 L272.3,419.1 L272.4,419.1 L272.6,419.1 L272.8,419.1 L272.9,419.1 L273.1,419.1 L273.2,419.1 L273.4,419.1 L273.5,419.1 L273.6,419.1 L273.8,419.1 L273.9,419.1 L274.1,419.1 L274.2,419.1 L274.4,419.1 L274.6,419.1 L274.7,419.1 L274.9,419.1 L275.0,419.2 L275.1,419.2 L275.3,419.2 L275.4,419.2 L275.6,419.2 L275.8,419.2 L275.9,419.2 L276.1,419.2 L276.2,419.2 L276.4,419.2 L276.5,419.2 L276.6,419.2 L276.8,419.2 L276.9,419.2 L277.1,419.2 L277.2,419.2 L277.4,419.2 L277.6,419.2 L277.7,419.2 L277.9,419.2 L278.0,419.2 L278.1,419.3 L278.3,419.3 L278.4,419.3 L278.6,419.3 L278.8,419.3 L278.9,419.3 L279.1,419.3 L279.2,419.3 L279.4,419.3 L279.5,419.3 L279.6,419.3 L279.8,419.3 L279.9,419.3 L280.1,419.3 L280.2,419.3 L280.4,419.3 L280.6,419.3 L280.7,419.3 L280.9,419.3 L281.0,419.4 L281.1,419.4 L281.3,419.4 L281.4,419.4 L281.6,419.4 L281.8,419.4 L281.9,419.4 L282.1,419.4 L282.2,419.4 L282.4,419.4 L282.5,419.4 L282.6,419.4 L282.8,419.4 L282.9,419.4 L283.1,419.4 L283.2,419.4 L283.4,419.4 L283.6,419.4 L283.7,419.4 L283.9,419.4 L284.0,419.4 L284.1,419.4 L284.3,419.4 L284.4,419.5 L284.6,419.5 L284.8,419.5 L284.9,419.5 L285.1,419.5 L285.2,419.5 L285.4,419.5 L285.5,419.5 L285.6,419.5 L285.8,419.5 L285.9,419.5 L286.1,419.5 L286.2,419.5 L286.4,419.5 L286.6,419.5 L286.7,419.5 L286.9,419.5 L287.0,419.5 L287.1,419.5 L287.3,419.6 L287.4,419.6 L287.6,419.6 L287.8,419.6 L287.9,419.6 L288.1,419.6 L288.2,419.6 L288.4,419.6 L288.5,419.6 L288.6,419.6 L288.8,419.6 L288.9,419.6 L289.1,419.6 L289.2,419.6 L289.4,419.6 L289.6,419.6 L289.7,419.6 L289.9,419.6 L290.0,419.6 L290.1,419.6 L290.3,419.6 L290.4,419.6 L290.6,419.6 L290.8,419.7 L290.9,419.7 L291.1,419.7 L291.2,419.7 L291.4,419.7 L291.5,419.7 L291.6,419.7 L291.8,419.7 L291.9,419.7 L292.1,419.7 L292.2,419.7 L292.4,419.7 L292.6,419.7 L292.7,419.7 L292.9,419.7 L293.0,419.7 L293.1,419.7 L293.3,419.7 L293.4,419.7 L293.6,419.8 L293.8,419.8 L293.9,419.8 L294.1,419.8 L294.2,419.8 L294.4,419.8 L294.5,419.8 L294.6,419.8 L294.8,419.8 L294.9,419.8 L295.1,419.8" stroke="#5F9ED1" stroke-width="2.0"/>
</g>
<rect x="61.7" y="355.7" width="244.1" height="147.65" fill="none" stroke="#000" stroke-width="1.3"/>
<line x1="72.80" y1="503.35" x2="72.80" y2="507.85" stroke="#000" stroke-width="1"/>
<line x1="146.77" y1="503.35" x2="146.77" y2="507.85" stroke="#000" stroke-width="1"/>
<line x1="220.73" y1="503.35" x2="220.73" y2="507.85" stroke="#000" stroke-width="1"/>
<line x1="294.70" y1="503.35" x2="294.70" y2="507.85" stroke="#000" stroke-width="1"/>
<line x1="57.2" y1="355.70" x2="61.7" y2="355.70" stroke="#000" stroke-width="1"/>

<line x1="57.2" y1="385.23" x2="61.7" y2="385.23" stroke="#000" stroke-width="1"/>

<line x1="57.2" y1="414.76" x2="61.7" y2="414.76" stroke="#000" stroke-width="1"/>

<line x1="57.2" y1="444.29" x2="61.7" y2="444.29" stroke="#000" stroke-width="1"/>

<line x1="57.2" y1="473.82" x2="61.7" y2="473.82" stroke="#000" stroke-width="1"/>

<line x1="57.2" y1="503.35" x2="61.7" y2="503.35" stroke="#000" stroke-width="1"/>

<text x="183.75" y="349.00" font-family='"Liberation Sans", sans-serif' font-size="13.6" text-anchor="middle" fill="#000">Saturn + moons 1</text>
<path d="M219.8,420.35 H305.8 V503.35 H217.8 V422.35 Q217.8,420.35 219.8,420.35 Z" fill="#fff" fill-opacity="0.8" stroke="#333" stroke-width="1.1"/>
<line x1="221.0" y1="429.05" x2="238.5" y2="429.05" stroke="#006BA4" stroke-width="2.1"/>
<text x="246.40" y="433.35" font-family='"Liberation Sans", sans-serif' font-size="12" fill="#000">Saturn</text>
<line x1="221.0" y1="445.05" x2="238.5" y2="445.05" stroke="#FF800E" stroke-width="2.1"/>
<text x="246.40" y="449.35" font-family='"Liberation Sans", sans-serif' font-size="12" fill="#000">Mimas</text>
<line x1="221.0" y1="461.05" x2="238.5" y2="461.05" stroke="#ABABAB" stroke-width="2.1"/>
<text x="246.40" y="465.35" font-family='"Liberation Sans", sans-serif' font-size="12" fill="#000">Enceladus</text>
<line x1="221.0" y1="477.05" x2="238.5" y2="477.05" stroke="#595959" stroke-width="2.1"/>
<text x="246.40" y="481.35" font-family='"Liberation Sans", sans-serif' font-size="12" fill="#000">Tethys</text>
<line x1="221.0" y1="493.05" x2="238.5" y2="493.05" stroke="#5F9ED1" stroke-width="2.1"/>
<text x="246.40" y="497.35" font-family='"Liberation Sans", sans-serif' font-size="12" fill="#000">Dione</text>
<defs><clipPath id="cp5"><rect x="330.3" y="355.7" width="244.1" height="147.65"/></clipPath></defs>
<g clip-path="url(#cp5)" fill="none" stroke-width="1.9" stroke-linejoin="round" stroke-linecap="square">
<path d="M341.2,467.1 L341.3,520.0 L341.4,468.8 L341.6,457.5 L341.8,451.0 L342.0,446.8 L342.2,443.9 L342.4,441.8 L342.6,440.2 L342.8,439.0 L343.0,438.1 L343.2,437.8 L343.4,437.9 L343.6,438.5 L343.8,439.5 L344.0,441.1 L344.2,443.3 L344.4,446.3 L344.6,448.4 L344.6,448.4 L344.8,441.6 L345.0,437.0 L345.2,435.3 L345.4,435.7 L345.6,438.7 L345.8,447.2 L345.9,452.0 L346.0,447.6 L346.2,440.9 L346.4,437.4 L346.6,435.4 L346.8,434.3 L347.0,434.0 L347.2,434.4 L347.4,435.6 L347.6,438.1 L347.8,442.6 L348.0,451.0 L348.0,451.4 L348.2,441.9 L348.4,436.3 L348.6,433.8 L348.8,433.0 L349.0,433.5 L349.2,435.4 L349.4,439.1 L349.6,441.6 L349.6,441.4 L349.8,436.9 L350.0,433.6 L350.2,432.3 L350.4,432.8 L350.6,435.3 L350.8,439.8 L350.9,440.9 L351.0,439.1 L351.2,434.5 L351.4,432.2 L351.6,431.8 L351.8,433.5 L352.0,438.4 L352.2,446.2 L352.2,446.0 L352.4,438.3 L352.6,434.0 L352.8,431.8 L353.0,431.1 L353.2,431.6 L353.4,433.6 L353.6,437.8 L353.8,446.6 L353.8,447.2 L354.0,441.4 L354.2,435.9 L354.4,432.9 L354.6,431.2 L354.8,430.5 L355.0,430.5 L355.2,431.3 L355.4,432.9 L355.6,435.7 L355.8,439.6 L355.9,440.8 L356.0,439.3 L356.2,433.9 L356.4,430.9 L356.6,429.8 L356.8,430.2 L357.0,432.4 L357.2,436.9 L357.4,440.3 L357.4,439.7 L357.6,433.6 L357.8,430.3 L358.0,429.3 L358.2,430.3 L358.4,433.8 L358.6,442.3 L358.6,443.6 L358.8,437.6 L359.0,432.0 L359.2,429.6 L359.4,428.9 L359.6,429.7 L359.8,432.0 L360.0,435.9 L360.1,437.1 L360.2,436.7 L360.4,434.1 L360.6,431.6 L360.8,429.8 L361.0,428.7 L361.2,428.3 L361.4,428.5 L361.6,429.4 L361.8,431.1 L362.0,434.0 L362.2,438.1 L362.3,439.8 L362.4,439.3 L362.6,435.1 L362.8,431.7 L363.0,429.6 L363.2,428.3 L363.4,427.7 L363.6,427.8 L363.8,428.5 L364.0,430.0 L364.2,432.6 L364.4,437.5 L364.6,445.8 L364.6,445.9 L364.8,439.3 L365.0,434.1 L365.2,431.0 L365.4,429.1 L365.6,427.8 L365.8,427.2 L366.0,427.0 L366.2,427.3 L366.4,428.1 L366.6,429.5 L366.8,431.9 L367.0,435.8 L367.2,444.9 L367.3,459.8 L367.4,456.4 L367.6,449.3 L367.8,445.1 L368.0,442.3 L368.2,440.1 L368.4,438.4 L368.6,437.0 L368.8,435.7 L369.0,434.7 L369.2,433.7 L369.4,432.9 L369.6,432.1 L369.8,431.4 L370.0,430.8 L370.2,430.3 L370.4,429.7 L370.6,429.2 L370.8,428.8 L371.0,428.4 L371.2,428.0 L371.4,427.7 L371.6,427.4 L371.8,427.1 L372.0,426.8 L372.2,426.6 L372.4,426.4 L372.6,426.1 L372.8,426.0 L373.0,425.8 L373.2,425.7 L373.4,425.6 L373.6,425.5 L373.8,425.4 L374.0,425.3 L374.2,425.3 L374.4,425.3 L374.6,425.3 L374.8,425.3 L375.0,425.3 L375.2,425.4 L375.4,425.4 L375.6,425.5 L375.8,425.6 L376.0,425.7 L376.2,425.9 L376.4,426.1 L376.6,426.2 L376.8,426.5 L377.0,426.7 L377.2,427.0 L377.4,427.2 L377.6,427.6 L377.8,427.9 L378.0,428.3 L378.2,428.7 L378.4,429.2 L378.6,429.7 L378.8,430.3 L379.0,430.9 L379.2,431.6 L379.4,432.3 L379.6,433.2 L379.8,434.2 L380.0,435.3 L380.2,436.5 L380.4,438.0 L380.6,439.8 L380.8,441.8 L381.0,444.2 L381.2,446.1 L381.3,446.4 L381.4,445.6 L381.6,442.0 L381.8,438.8 L382.0,436.3 L382.2,434.3 L382.4,432.8 L382.6,431.5 L382.8,430.4 L383.0,429.4 L383.2,428.6 L383.4,427.9 L383.6,427.3 L383.8,426.8 L384.0,426.3 L384.2,425.9 L384.4,425.6 L384.6,425.3 L384.8,425.1 L385.0,424.9 L385.2,424.7 L385.4,424.6 L385.6,424.6 L385.8,424.6 L386.0,424.6 L386.2,424.6 L386.4,424.8 L386.6,424.9 L386.8,425.1 L387.0,425.3 L387.2,425.6 L387.4,426.0 L387.6,426.4 L387.8,426.9 L388.0,427.4 L388.2,428.0 L388.4,428.7 L388.6,429.5 L388.8,430.4 L389.0,431.4 L389.2,432.6 L389.4,433.8 L389.6,435.0 L389.8,435.9 L390.0,436.2 L390.2,436.0 L390.4,435.4 L390.6,434.6 L390.8,433.8 L391.0,432.8 L391.2,431.9 L391.4,431.1 L391.6,430.2 L391.8,429.5 L392.0,428.7 L392.2,428.1 L392.4,427.5 L392.6,426.9 L392.8,426.4 L393.0,425.9 L393.2,425.4 L393.4,425.0 L393.6,424.6 L393.8,424.3 L394.0,423.9 L394.2,423.6 L394.4,423.4 L394.6,423.1 L394.8,422.9 L395.0,422.7 L395.2,422.5 L395.4,422.4 L395.6,422.2 L395.8,422.1 L396.0,422.1 L396.2,422.0 L396.4,421.9 L396.6,421.9 L396.8,421.9 L397.0,421.9 L397.2,421.9 L397.4,422.0 L397.6,422.1 L397.8,422.2 L398.0,422.3 L398.2,422.4 L398.4,422.6 L398.6,422.7 L398.8,422.9 L399.0,423.2 L399.2,423.4 L399.4,423.7 L399.6,424.0 L399.8,424.3 L400.0,424.7 L400.2,425.1 L400.4,425.5 L400.6,425.9 L400.8,426.4 L401.0,427.0 L401.2,427.6 L401.4,428.2 L401.6,428.8 L401.8,429.5 L402.0,430.1 L402.2,430.8 L402.4,431.4 L402.6,431.9 L402.8,432.2 L403.0,432.3 L403.2,432.2 L403.4,432.0 L403.6,431.7 L403.8,431.2 L404.0,430.7 L404.2,430.2 L404.4,429.6 L404.6,429.1 L404.8,428.6 L405.0,428.0 L405.2,427.5 L405.4,427.0 L405.6,426.6 L405.8,426.1 L406.0,425.7 L406.2,425.3 L406.4,424.9 L406.6,424.6 L406.8,424.3 L407.0,424.0 L407.2,423.7 L407.4,423.4 L407.6,423.1 L407.8,422.9 L408.0,422.7 L408.2,422.5 L408.4,422.3 L408.6,422.1 L408.8,421.9 L409.0,421.8 L409.2,421.6 L409.4,421.5 L409.6,421.4 L409.8,421.3 L410.0,421.2 L410.2,421.1 L410.4,421.1 L410.6,421.0 L410.8,421.0 L411.0,421.0 L411.2,421.0 L411.4,421.0 L411.6,421.0 L411.8,421.0 L412.0,421.1 L412.2,421.1 L412.4,421.2 L412.6,421.2 L412.8,421.3 L413.0,421.4 L413.2,421.6 L413.4,421.7 L413.6,421.9 L413.8,422.0 L414.0,422.2 L414.2,422.4 L414.4,422.6 L414.6,422.9 L414.8,423.1 L415.0,423.4 L415.2,423.6 L415.4,424.0 L415.6,424.3 L415.8,424.7 L416.0,425.0 L416.2,425.5 L416.4,425.9 L416.6,426.4 L416.8,426.9 L417.0,427.4 L417.2,428.1 L417.4,428.7 L417.6,429.4 L417.8,430.2 L418.0,431.1 L418.2,432.0 L418.4,433.0 L418.6,434.1 L418.8,435.2 L419.0,436.4 L419.2,437.3 L419.4,437.9 L419.5,438.0 L419.6,437.9 L419.8,437.5 L420.0,436.8 L420.2,435.9 L420.4,435.0 L420.6,434.1 L420.8,433.2 L421.0,432.3 L421.2,431.5 L421.4,430.8 L421.6,430.1 L421.8,429.4 L422.0,428.8 L422.2,428.2 L422.4,427.7 L422.6,427.2 L422.8,426.7 L423.0,426.2 L423.2,425.8 L423.4,425.4 L423.6,425.0 L423.8,424.7 L424.0,424.3 L424.2,424.0 L424.4,423.7 L424.6,423.4 L424.8,423.1 L425.0,422.9 L425.2,422.6 L425.4,422.4 L425.6,422.2 L425.8,422.0 L426.0,421.8 L426.2,421.6 L426.4,421.4 L426.6,421.2 L426.8,421.1 L427.0,420.9 L427.2,420.8 L427.4,420.7 L427.6,420.5 L427.8,420.4 L428.0,420.3 L428.2,420.2 L428.4,420.2 L428.6,420.1 L428.8,420.0 L429.0,420.0 L429.2,419.9 L429.4,419.9 L429.6,419.8 L429.8,419.8 L430.0,419.8 L430.2,419.8 L430.4,419.8 L430.6,419.8 L430.8,419.8 L431.0,419.8 L431.2,419.9 L431.4,419.9 L431.6,420.0 L431.8,420.0 L432.0,420.1 L432.2,420.2 L432.4,420.3 L432.6,420.4 L432.8,420.5 L433.0,420.6 L433.2,420.7 L433.4,420.9 L433.6,421.0 L433.8,421.2 L434.0,421.3 L434.2,421.5 L434.4,421.7 L434.6,421.9 L434.8,422.1 L435.0,422.4 L435.2,422.6 L435.4,422.9 L435.6,423.2 L435.8,423.5 L436.0,423.8 L436.2,424.1 L436.4,424.5 L436.6,424.8 L436.8,425.2 L437.0,425.7 L437.2,426.1 L437.4,426.6 L437.6,427.1 L437.8,427.7 L438.0,428.3 L438.2,428.9 L438.4,429.6 L438.6,430.3 L438.8,431.0 L439.0,431.8 L439.2,432.7 L439.4,433.5 L439.6,434.2 L439.8,434.9 L440.0,435.3 L440.2,435.5 L440.4,435.4 L440.6,435.1 L440.8,434.7 L441.0,434.1 L441.2,433.5 L441.4,432.8 L441.6,432.2 L441.8,431.5 L442.0,430.9 L442.2,430.3 L442.4,429.7 L442.6,429.2 L442.8,428.6 L443.0,428.1 L443.2,427.7 L443.4,427.2 L443.6,426.8 L443.8,426.4 L444.0,426.0 L444.2,425.7 L444.4,425.3 L444.6,425.0 L444.8,424.7 L445.0,424.4 L445.2,424.1 L445.4,423.8 L445.6,423.6 L445.8,423.3 L446.0,423.1 L446.2,422.9 L446.4,422.7 L446.6,422.5 L446.8,422.3 L447.0,422.1 L447.2,421.9 L447.4,421.7 L447.6,421.6 L447.8,421.4 L448.0,421.3 L448.2,421.1 L448.4,421.0 L448.6,420.9 L448.8,420.8 L449.0,420.7 L449.2,420.6 L449.4,420.4 L449.6,420.4 L449.8,420.3 L450.0,420.2 L450.2,420.1 L450.4,420.1 L450.6,420.0 L450.8,419.9 L451.0,419.9 L451.2,419.8 L451.4,419.8 L451.6,419.7 L451.8,419.7 L452.0,419.7 L452.2,419.6 L452.4,419.6 L452.6,419.6 L452.8,419.6 L453.0,419.6 L453.2,419.6 L453.4,419.6 L453.6,419.6 L453.8,419.7 L454.0,419.7 L454.2,419.7 L454.4,419.7 L454.6,419.8 L454.8,419.8 L455.0,419.9 L455.2,419.9 L455.4,420.0 L455.6,420.0 L455.8,420.1 L456.0,420.2 L456.2,420.3 L456.4,420.4 L456.6,420.4 L456.8,420.5 L457.0,420.6 L457.2,420.7 L457.4,420.9 L457.6,421.0 L457.8,421.1 L458.0,421.2 L458.2,421.3 L458.4,421.5 L458.6,421.6 L458.8,421.8 L459.0,421.9 L459.2,422.1 L459.4,422.2 L459.6,422.4 L459.8,422.6 L460.0,422.8 L460.2,422.9 L460.4,423.1 L460.6,423.4 L460.8,423.6 L461.0,423.8 L461.2,424.0 L461.4,424.2 L461.6,424.4 L461.8,424.7 L462.0,424.9 L462.2,425.1 L462.4,425.4 L462.6,425.6 L462.8,425.9 L463.0,426.1 L463.2,426.4 L463.4,426.7 L463.6,426.9 L463.8,427.2 L464.0,427.4 L464.2,427.7 L464.4,427.9 L464.6,428.1 L464.8,428.3 L465.0,428.5 L465.2,428.6 L465.4,428.8 L465.6,428.9 L465.8,428.9 L466.0,428.9 L466.1,428.9 L466.2,428.9 L466.4,428.9 L466.6,428.8 L466.8,428.6 L467.0,428.5 L467.2,428.3 L467.4,428.1 L467.6,427.8 L467.8,427.6 L468.0,427.3 L468.2,427.0 L468.4,426.7 L468.6,426.4 L468.8,426.1 L469.0,425.8 L469.2,425.5 L469.4,425.2 L469.6,424.9 L469.8,424.7 L470.0,424.4 L470.2,424.1 L470.4,423.9 L470.6,423.6 L470.8,423.4 L471.0,423.1 L471.2,422.9 L471.4,422.6 L471.6,422.4 L471.8,422.2 L472.0,422.0 L472.2,421.8 L472.4,421.6 L472.6,421.4 L472.8,421.2 L473.0,421.1 L473.2,420.9 L473.4,420.8 L473.6,420.6 L473.8,420.5 L474.0,420.3 L474.2,420.2 L474.4,420.1 L474.6,419.9 L474.8,419.8 L475.0,419.7 L475.2,419.6 L475.4,419.5 L475.6,419.4 L475.8,419.3 L476.0,419.3 L476.2,419.2 L476.4,419.1 L476.6,419.1 L476.8,419.0 L477.0,418.9 L477.2,418.9 L477.4,418.9 L477.6,418.8 L477.8,418.8 L478.0,418.8 L478.2,418.8 L478.4,418.7 L478.6,418.7 L478.8,418.7 L479.0,418.7 L479.2,418.7 L479.4,418.7 L479.6,418.8 L479.8,418.8 L480.0,418.8 L480.2,418.9 L480.4,418.9 L480.6,418.9 L480.8,419.0 L481.0,419.1 L481.2,419.1 L481.4,419.2 L481.6,419.3 L481.8,419.4 L482.0,419.5 L482.2,419.6 L482.4,419.7 L482.6,419.8 L482.8,419.9 L483.0,420.0 L483.2,420.1 L483.4,420.3 L483.6,420.4 L483.8,420.6 L484.0,420.7 L484.2,420.9 L484.4,421.1 L484.6,421.3 L484.8,421.4 L485.0,421.6 L485.2,421.9 L485.4,422.1 L485.6,422.3 L485.8,422.5 L486.0,422.8 L486.2,423.0 L486.4,423.3 L486.6,423.6 L486.8,423.9 L487.0,424.1 L487.2,424.4 L487.4,424.8 L487.6,425.1 L487.8,425.4 L488.0,425.8 L488.2,426.1 L488.4,426.5 L488.6,426.8 L488.8,427.2 L489.0,427.6 L489.2,427.9 L489.4,428.3 L489.6,428.6 L489.8,428.9 L490.0,429.2 L490.2,429.4 L490.4,429.6 L490.6,429.8 L490.8,429.8 L490.9,429.8 L491.0,429.8 L491.2,429.8 L491.4,429.6 L491.6,429.5 L491.8,429.2 L492.0,429.0 L492.2,428.7 L492.4,428.3 L492.6,428.0 L492.8,427.6 L493.0,427.3 L493.2,426.9 L493.4,426.6 L493.6,426.2 L493.8,425.9 L494.0,425.5 L494.2,425.2 L494.4,424.9 L494.6,424.6 L494.8,424.2 L495.0,423.9 L495.2,423.7 L495.4,423.4 L495.6,423.1 L495.8,422.9 L496.0,422.6 L496.2,422.4 L496.4,422.2 L496.6,421.9 L496.8,421.7 L497.0,421.5 L497.2,421.3 L497.4,421.1 L497.6,421.0 L497.8,420.8 L498.0,420.6 L498.2,420.4 L498.4,420.3 L498.6,420.1 L498.8,420.0 L499.0,419.9 L499.2,419.7 L499.4,419.6 L499.6,419.5 L499.8,419.3 L500.0,419.2 L500.2,419.1 L500.4,419.0 L500.6,418.9 L500.8,418.8 L501.0,418.7 L501.2,418.6 L501.4,418.6 L501.6,418.5 L501.8,418.4 L502.0,418.3 L502.2,418.3 L502.4,418.2 L502.6,418.2 L502.8,418.1 L503.0,418.1 L503.2,418.0 L503.4,418.0 L503.6,417.9 L503.8,417.9 L504.0,417.9 L504.2,417.8 L504.4,417.8 L504.6,417.7 L504.8,417.7 L505.0,417.7 L505.2,417.6 L505.4,417.6 L505.6,417.5 L505.8,417.5 L506.0,417.4 L506.2,417.4 L506.4,417.4 L506.6,417.3 L506.8,417.3 L507.0,417.2 L507.2,417.2 L507.4,417.1 L507.6,417.1 L507.8,417.0 L508.0,417.0 L508.2,416.9 L508.4,416.9 L508.6,416.9 L508.8,416.8 L509.0,416.8 L509.2,416.7 L509.4,416.7 L509.6,416.6 L509.8,416.6 L510.0,416.6 L510.2,416.5 L510.4,416.5 L510.6,416.4 L510.8,416.4 L511.0,416.3 L511.2,416.3 L511.4,416.2 L511.6,416.2 L511.8,416.2 L512.0,416.1 L512.2,416.1 L512.4,416.1 L512.6,416.0 L512.8,416.0 L513.0,415.9 L513.2,415.9 L513.4,415.9 L513.6,415.8 L513.8,415.8 L514.0,415.8 L514.2,415.7 L514.4,415.7 L514.6,415.7 L514.8,415.6 L515.0,415.6 L515.2,415.6 L515.4,415.6 L515.6,415.5 L515.8,415.5 L516.0,415.5 L516.2,415.4 L516.4,415.4 L516.6,415.4 L516.8,415.4 L517.0,415.3 L517.2,415.3 L517.4,415.3 L517.6,415.2 L517.8,415.2 L518.0,415.2 L518.2,415.2 L518.4,415.1 L518.6,415.1 L518.8,415.1 L519.0,415.1 L519.2,415.0 L519.4,415.0 L519.6,415.0 L519.8,414.9 L520.0,414.9 L520.2,414.9 L520.4,414.9 L520.6,414.9 L520.8,414.8 L521.0,414.8 L521.2,414.8 L521.4,414.8 L521.6,414.7 L521.8,414.7 L522.0,414.7 L522.2,414.7 L522.4,414.6 L522.6,414.6 L522.8,414.6 L523.0,414.6 L523.2,414.5 L523.4,414.5 L523.6,414.5 L523.8,414.5 L524.0,414.4 L524.2,414.4 L524.4,414.4 L524.6,414.4 L524.8,414.4 L525.0,414.3 L525.2,414.3 L525.4,414.3 L525.6,414.3 L525.8,414.2 L526.0,414.2 L526.2,414.2 L526.4,414.2 L526.6,414.2 L526.8,414.1 L527.0,414.1 L527.2,414.1 L527.4,414.1 L527.6,414.1 L527.8,414.1 L528.0,414.0 L528.2,414.0 L528.4,414.0 L528.6,414.0 L528.8,413.9 L529.0,413.9 L529.2,413.9 L529.4,413.9 L529.6,413.9 L529.8,413.9 L530.0,413.8 L530.2,413.8 L530.4,413.8 L530.6,413.8 L530.8,413.8 L531.0,413.8 L531.2,413.7 L531.4,413.7 L531.6,413.7 L531.8,413.7 L532.0,413.7 L532.2,413.6 L532.4,413.6 L532.6,413.6 L532.8,413.6 L533.0,413.6 L533.2,413.6 L533.4,413.6 L533.6,413.6 L533.8,413.5 L534.0,413.5 L534.2,413.5 L534.4,413.5 L534.6,413.5 L534.8,413.5 L535.0,413.4 L535.2,413.4 L535.4,413.4 L535.6,413.4 L535.8,413.4 L536.0,413.4 L536.2,413.4 L536.4,413.4 L536.6,413.3 L536.8,413.3 L537.0,413.3 L537.2,413.3 L537.4,413.3 L537.6,413.3 L537.8,413.3 L538.0,413.3 L538.2,413.3 L538.4,413.2 L538.6,413.2 L538.8,413.2 L539.0,413.2 L539.2,413.2 L539.4,413.2 L539.6,413.2 L539.8,413.2 L540.0,413.2 L540.2,413.2 L540.4,413.1 L540.6,413.1 L540.8,413.1 L541.0,413.1 L541.2,413.1 L541.4,413.1 L541.6,413.1 L541.8,413.1 L542.0,413.1 L542.2,413.1 L542.4,413.1 L542.6,413.1 L542.8,413.1 L543.0,413.1 L543.2,413.1 L543.4,413.1 L543.6,413.1 L543.8,413.0 L544.0,413.0 L544.2,413.0 L544.4,413.0 L544.6,413.0 L544.8,413.0 L545.0,413.0 L545.2,413.0 L545.4,413.0 L545.6,413.0 L545.8,413.0 L546.0,413.0 L546.2,413.0 L546.4,413.0 L546.6,413.0 L546.8,413.0 L547.0,413.0 L547.2,412.9 L547.4,412.9 L547.6,412.9 L547.8,412.9 L548.0,412.9 L548.2,412.9 L548.4,412.9 L548.6,412.9 L548.8,412.9 L549.0,412.9 L549.2,412.9 L549.4,412.9 L549.6,412.9 L549.8,412.9 L550.0,412.9 L550.2,412.9 L550.4,412.9 L550.6,412.9 L550.8,412.9 L551.0,412.9 L551.2,412.9 L551.4,412.9 L551.6,412.9 L551.8,412.9 L552.0,412.9 L552.2,412.9 L552.4,412.9 L552.6,412.9 L552.8,412.9 L553.0,412.9 L553.2,412.9 L553.4,412.8 L553.6,412.8 L553.8,412.8 L554.0,412.8 L554.2,412.8 L554.4,412.8 L554.6,412.8 L554.8,412.8 L555.0,412.8 L555.2,412.8 L555.4,412.8 L555.6,412.8 L555.8,412.8 L556.0,412.8 L556.2,412.8 L556.4,412.8 L556.6,412.8 L556.8,412.8 L557.0,412.8 L557.2,412.8 L557.4,412.8 L557.6,412.8 L557.8,412.8 L558.0,412.8 L558.2,412.8 L558.4,412.8 L558.6,412.8 L558.8,412.8 L559.0,412.8 L559.2,412.8 L559.4,412.8 L559.6,412.8 L559.8,412.8 L560.0,412.8 L560.2,412.8 L560.4,412.8 L560.6,412.8 L560.8,412.8 L561.0,412.8 L561.2,412.8 L561.4,412.7 L561.6,412.7 L561.8,412.7 L562.0,412.7 L562.2,412.7 L562.4,412.7 L562.6,412.7 L562.8,412.7 L563.0,412.7 L563.2,412.7 L563.4,412.7 L563.6,412.7 L563.8,412.7 L564.0,412.7 L564.2,412.7" stroke="#006BA4" stroke-width="2.0"/>
<path d="M341.1,454.1 L341.2,520.0 L341.3,468.8 L341.5,458.8 L341.7,453.3 L341.9,465.9 L342.1,453.6 L342.3,447.0 L342.5,442.9 L342.7,440.0 L342.9,438.1 L343.1,436.9 L343.3,436.1 L343.5,435.4 L343.7,434.8 L343.9,434.3 L344.1,433.8 L344.3,433.3 L344.5,432.9 L344.7,432.4 L344.9,432.1 L345.1,431.7 L345.3,431.4 L345.5,431.2 L345.7,431.0 L345.9,430.8 L346.1,430.7 L346.3,430.6 L346.5,430.5 L346.7,430.4 L346.9,430.3 L347.1,430.2 L347.3,430.1 L347.5,430.1 L347.7,430.0 L347.9,430.0 L348.1,430.0 L348.3,430.1 L348.5,430.1 L348.7,430.2 L348.9,430.3 L349.1,430.5 L349.3,430.6 L349.5,430.9 L349.7,431.1 L349.9,431.4 L350.1,431.7 L350.3,432.0 L350.5,432.4 L350.7,432.8 L350.9,433.3 L351.1,433.8 L351.3,434.3 L351.5,434.9 L351.7,435.5 L351.9,436.1 L352.1,436.7 L352.3,437.3 L352.5,437.8 L352.7,438.2 L352.9,438.4 L353.0,438.4 L353.1,438.1 L353.3,436.2 L353.5,433.9 L353.7,432.0 L353.9,430.6 L354.1,429.7 L354.3,429.1 L354.5,428.8 L354.7,428.8 L354.9,429.2 L355.1,429.9 L355.3,430.9 L355.5,432.4 L355.7,434.2 L355.9,436.3 L356.1,437.4 L356.1,437.4 L356.3,435.5 L356.5,432.4 L356.7,430.2 L356.9,429.0 L357.1,428.5 L357.3,428.9 L357.5,430.3 L357.7,432.9 L357.9,438.2 L358.1,450.0 L358.3,436.6 L358.5,431.4 L358.7,429.1 L358.9,428.4 L359.1,428.9 L359.3,430.4 L359.5,432.9 L359.7,435.0 L359.7,435.0 L359.9,434.4 L360.1,433.0 L360.3,431.4 L360.5,430.1 L360.7,429.2 L360.9,428.6 L361.1,428.3 L361.3,428.3 L361.5,428.7 L361.7,429.6 L361.9,430.9 L362.1,432.9 L362.3,435.8 L362.5,439.4 L362.6,440.7 L362.7,440.3 L362.9,437.2 L363.1,434.1 L363.3,431.9 L363.5,430.3 L363.7,429.2 L363.9,428.5 L364.1,428.1 L364.3,428.1 L364.5,428.3 L364.7,428.9 L364.9,429.9 L365.1,431.4 L365.3,433.6 L365.5,436.7 L365.7,440.6 L365.8,441.9 L365.9,440.9 L366.1,436.2 L366.3,432.7 L366.5,430.4 L366.7,429.0 L366.9,428.2 L367.1,427.9 L367.3,428.0 L367.5,428.6 L367.7,429.6 L367.9,431.2 L368.1,433.3 L368.3,435.4 L368.4,436.1 L368.5,435.9 L368.7,434.1 L368.9,431.9 L369.1,430.1 L369.3,428.8 L369.5,428.0 L369.7,427.7 L369.9,427.7 L370.1,428.1 L370.3,429.0 L370.5,430.2 L370.7,431.7 L370.9,433.2 L371.1,433.8 L371.1,433.8 L371.3,432.7 L371.5,430.8 L371.7,429.2 L371.9,428.1 L372.1,427.5 L372.3,427.5 L372.5,428.1 L372.7,429.3 L372.9,431.5 L373.1,434.5 L373.3,437.1 L373.3,437.1 L373.5,433.0 L373.7,428.9 L373.9,427.3 L374.1,427.7 L374.3,430.5 L374.5,438.1 L374.6,444.1 L374.7,438.5 L374.9,430.8 L375.1,427.8 L375.3,427.1 L375.5,428.1 L375.7,431.2 L375.9,436.7 L376.0,437.5 L376.1,436.9 L376.3,434.9 L376.5,432.8 L376.7,431.0 L376.9,429.6 L377.1,428.5 L377.3,427.7 L377.5,427.2 L377.7,426.9 L377.9,426.7 L378.1,426.9 L378.3,427.2 L378.5,427.8 L378.7,428.7 L378.9,429.9 L379.1,431.6 L379.3,433.9 L379.5,437.1 L379.7,440.8 L379.8,441.4 L379.9,440.2 L380.1,436.1 L380.3,432.9 L380.5,430.6 L380.7,429.0 L380.9,427.8 L381.1,427.0 L381.3,426.5 L381.5,426.3 L381.7,426.3 L381.9,426.6 L382.1,427.2 L382.3,428.0 L382.5,429.1 L382.7,430.5 L382.9,432.1 L383.1,433.6 L383.3,434.3 L383.3,434.3 L383.5,433.1 L383.7,431.0 L383.9,429.1 L384.1,427.7 L384.3,426.7 L384.5,426.1 L384.7,426.0 L384.9,426.2 L385.1,426.9 L385.3,428.0 L385.5,429.9 L385.7,432.6 L385.9,436.8 L386.1,439.8 L386.1,439.5 L386.3,431.3 L386.5,427.2 L386.7,425.9 L386.9,426.4 L387.1,429.4 L387.3,437.9 L387.4,451.3 L387.5,437.2 L387.7,428.7 L387.9,426.0 L388.1,426.0 L388.3,428.4 L388.5,435.0 L388.6,438.7 L388.7,437.6 L388.9,433.2 L389.1,430.0 L389.3,427.9 L389.5,426.6 L389.7,425.9 L389.9,425.7 L390.1,426.0 L390.3,426.7 L390.5,428.1 L390.7,430.0 L390.9,432.6 L391.1,434.7 L391.1,434.8 L391.3,434.0 L391.5,431.9 L391.7,429.9 L391.9,428.2 L392.1,427.1 L392.3,426.2 L392.5,425.8 L392.7,425.6 L392.9,425.8 L393.1,426.3 L393.3,427.2 L393.5,428.7 L393.7,430.7 L393.9,433.7 L394.1,437.8 L394.2,439.7 L394.3,439.5 L394.5,436.0 L394.7,432.6 L394.9,430.2 L395.1,428.4 L395.3,427.2 L395.5,426.4 L395.7,425.9 L395.9,425.6 L396.1,425.7 L396.3,426.1 L396.5,426.7 L396.7,427.7 L396.9,429.1 L397.1,431.0 L397.3,433.6 L397.5,436.8 L397.7,438.3 L397.7,438.1 L397.9,434.7 L398.1,431.2 L398.3,428.8 L398.5,427.2 L398.7,426.3 L398.9,425.8 L399.1,425.7 L399.3,426.0 L399.5,426.8 L399.7,427.9 L399.9,429.6 L400.1,431.6 L400.3,433.3 L400.4,433.5 L400.5,433.3 L400.7,432.2 L400.9,430.7 L401.1,429.3 L401.3,428.1 L401.5,427.1 L401.7,426.5 L401.9,426.0 L402.1,425.8 L402.3,425.7 L402.5,425.9 L402.7,426.4 L402.9,427.1 L403.1,428.0 L403.3,429.3 L403.5,431.0 L403.7,433.0 L403.9,434.8 L404.1,435.5 L404.1,435.4 L404.3,433.9 L404.5,431.8 L404.7,429.9 L404.9,428.4 L405.1,427.2 L405.3,426.5 L405.5,426.0 L405.7,425.8 L405.9,425.8 L406.1,426.1 L406.3,426.6 L406.5,427.3 L406.7,428.2 L406.9,429.2 L407.1,430.3 L407.3,431.1 L407.4,431.3 L407.5,431.3 L407.7,430.2 L407.9,428.5 L408.1,427.1 L408.3,426.2 L408.5,425.8 L408.7,425.9 L408.9,426.6 L409.1,428.0 L409.3,430.1 L409.5,432.7 L409.7,433.9 L409.7,433.8 L409.9,432.3 L410.1,430.2 L410.3,428.3 L410.5,427.0 L410.7,426.2 L410.9,425.8 L411.1,425.8 L411.3,426.2 L411.5,427.0 L411.7,428.2 L411.9,429.8 L412.1,431.5 L412.3,432.4 L412.3,432.5 L412.5,432.1 L412.7,430.9 L412.9,429.6 L413.1,428.4 L413.3,427.4 L413.5,426.6 L413.7,426.1 L413.9,425.7 L414.1,425.6 L414.3,425.7 L414.5,426.1 L414.7,426.7 L414.9,427.7 L415.1,429.0 L415.3,430.9 L415.5,433.3 L415.7,436.1 L415.9,437.7 L415.9,437.7 L416.1,434.4 L416.3,430.8 L416.5,428.3 L416.7,426.7 L416.9,425.8 L417.1,425.4 L417.3,425.5 L417.5,426.0 L417.7,426.9 L417.9,428.1 L418.1,429.5 L418.3,430.6 L418.4,430.7 L418.5,430.5 L418.7,429.3 L418.9,427.8 L419.1,426.5 L419.3,425.7 L419.5,425.2 L419.7,425.2 L419.9,425.6 L420.1,426.4 L420.3,427.7 L420.5,429.3 L420.7,430.7 L420.8,431.1 L420.9,431.0 L421.1,430.3 L421.3,429.1 L421.5,427.9 L421.7,426.9 L421.9,426.0 L422.1,425.4 L422.3,425.0 L422.5,424.8 L422.7,424.9 L422.9,425.2 L423.1,425.8 L423.3,426.6 L423.5,427.7 L423.7,429.1 L423.9,430.7 L424.1,431.9 L424.2,432.2 L424.3,432.1 L424.5,431.3 L424.7,430.0 L424.9,428.6 L425.1,427.3 L425.3,426.3 L425.5,425.6 L425.7,425.0 L425.9,424.6 L426.1,424.4 L426.3,424.4 L426.5,424.6 L426.7,424.9 L426.9,425.4 L427.1,426.0 L427.3,426.8 L427.5,427.6 L427.7,428.4 L427.9,429.0 L428.1,429.2 L428.1,429.2 L428.3,429.0 L428.5,428.5 L428.7,427.9 L428.9,427.2 L429.1,426.5 L429.3,425.9 L429.5,425.3 L429.7,424.8 L429.9,424.5 L430.1,424.2 L430.3,424.0 L430.5,423.9 L430.7,424.0 L430.9,424.2 L431.1,424.6 L431.3,425.1 L431.5,425.8 L431.7,426.8 L431.9,428.0 L432.1,429.6 L432.3,431.8 L432.5,434.9 L432.7,439.8 L432.9,445.2 L433.1,444.0 L433.3,441.6 L433.5,439.2 L433.7,437.3 L433.9,435.6 L434.1,434.2 L434.3,433.0 L434.5,431.9 L434.7,431.0 L434.9,430.2 L435.1,429.4 L435.3,428.8 L435.5,428.1 L435.7,427.6 L435.9,427.1 L436.1,426.6 L436.3,426.2 L436.5,425.8 L436.7,425.4 L436.9,425.1 L437.1,424.8 L437.3,424.5 L437.5,424.3 L437.7,424.1 L437.9,423.9 L438.1,423.7 L438.3,423.5 L438.5,423.4 L438.7,423.3 L438.9,423.2 L439.1,423.1 L439.3,423.0 L439.5,423.0 L439.7,423.0 L439.9,423.0 L440.1,423.0 L440.3,423.0 L440.5,423.1 L440.7,423.2 L440.9,423.2 L441.1,423.4 L441.3,423.5 L441.5,423.7 L441.7,423.8 L441.9,424.1 L442.1,424.3 L442.3,424.5 L442.5,424.8 L442.7,425.1 L442.9,425.5 L443.1,425.9 L443.3,426.3 L443.5,426.8 L443.7,427.3 L443.9,427.9 L444.1,428.6 L444.3,429.3 L444.5,430.1 L444.7,431.0 L444.9,432.1 L445.1,433.4 L445.3,434.9 L445.5,436.7 L445.7,439.1 L445.9,442.4 L446.1,447.8 L446.3,456.1 L446.5,447.8 L446.7,442.3 L446.9,439.0 L447.1,436.6 L447.3,434.7 L447.5,433.1 L447.7,431.9 L447.9,430.7 L448.1,429.8 L448.3,428.9 L448.5,428.2 L448.7,427.5 L448.9,426.9 L449.1,426.3 L449.3,425.8 L449.5,425.3 L449.7,424.9 L449.9,424.5 L450.1,424.1 L450.3,423.8 L450.5,423.5 L450.7,423.3 L450.9,423.0 L451.1,422.8 L451.3,422.6 L451.5,422.4 L451.7,422.3 L451.9,422.2 L452.1,422.1 L452.3,422.0 L452.5,421.9 L452.7,421.8 L452.9,421.8 L453.1,421.8 L453.3,421.8 L453.5,421.8 L453.7,421.9 L453.9,421.9 L454.1,422.0 L454.3,422.1 L454.5,422.2 L454.7,422.4 L454.9,422.6 L455.1,422.7 L455.3,422.9 L455.5,423.2 L455.7,423.5 L455.9,423.8 L456.1,424.1 L456.3,424.4 L456.5,424.8 L456.7,425.2 L456.9,425.7 L457.1,426.2 L457.3,426.8 L457.5,427.4 L457.7,428.1 L457.9,428.9 L458.1,429.8 L458.3,430.8 L458.5,431.9 L458.7,433.2 L458.9,434.6 L459.1,436.3 L459.3,438.1 L459.5,439.6 L459.7,440.4 L459.9,440.0 L460.1,439.1 L460.3,437.9 L460.5,436.6 L460.7,435.4 L460.9,434.3 L461.1,433.2 L461.3,432.3 L461.5,431.5 L461.7,430.7 L461.9,430.0 L462.1,429.3 L462.3,428.7 L462.5,428.1 L462.7,427.6 L462.9,427.1 L463.1,426.7 L463.3,426.2 L463.5,425.9 L463.7,425.5 L463.9,425.1 L464.1,424.8 L464.3,424.5 L464.5,424.2 L464.7,423.9 L464.9,423.7 L465.1,423.4 L465.3,423.2 L465.5,423.0 L465.7,422.8 L465.9,422.6 L466.1,422.4 L466.3,422.2 L466.5,422.1 L466.7,422.0 L466.9,421.8 L467.1,421.7 L467.3,421.6 L467.5,421.5 L467.7,421.4 L467.9,421.3 L468.1,421.3 L468.3,421.2 L468.5,421.1 L468.7,421.1 L468.9,421.1 L469.1,421.1 L469.3,421.0 L469.5,421.0 L469.7,421.0 L469.9,421.0 L470.1,421.1 L470.3,421.1 L470.5,421.1 L470.7,421.2 L470.9,421.2 L471.1,421.3 L471.3,421.4 L471.5,421.5 L471.7,421.6 L471.9,421.7 L472.1,421.8 L472.3,421.9 L472.5,422.0 L472.7,422.2 L472.9,422.4 L473.1,422.5 L473.3,422.7 L473.5,422.9 L473.7,423.1 L473.9,423.4 L474.1,423.6 L474.3,423.9 L474.5,424.2 L474.7,424.5 L474.9,424.8 L475.1,425.2 L475.3,425.5 L475.5,425.9 L475.7,426.4 L475.9,426.8 L476.1,427.3 L476.3,427.9 L476.5,428.5 L476.7,429.1 L476.9,429.8 L477.1,430.6 L477.3,431.4 L477.5,432.4 L477.7,433.4 L477.9,434.6 L478.1,436.0 L478.3,437.6 L478.5,439.3 L478.7,441.0 L478.9,442.2 L479.0,442.4 L479.1,442.3 L479.3,441.2 L479.5,439.6 L479.7,438.0 L479.9,436.5 L480.1,435.1 L480.3,433.9 L480.5,432.9 L480.7,431.9 L480.9,431.0 L481.1,430.2 L481.3,429.5 L481.5,428.9 L481.7,428.3 L481.9,427.7 L482.1,427.2 L482.3,426.7 L482.5,426.2 L482.7,425.8 L482.9,425.4 L483.1,425.0 L483.3,424.7 L483.5,424.3 L483.7,424.0 L483.9,423.7 L484.1,423.4 L484.3,423.2 L484.5,422.9 L484.7,422.7 L484.9,422.4 L485.1,422.2 L485.3,422.0 L485.5,421.9 L485.7,421.7 L485.9,421.5 L486.1,421.3 L486.3,421.2 L486.5,421.1 L486.7,420.9 L486.9,420.8 L487.1,420.7 L487.3,420.6 L487.5,420.5 L487.7,420.4 L487.9,420.4 L488.1,420.3 L488.3,420.2 L488.5,420.2 L488.7,420.1 L488.9,420.1 L489.1,420.1 L489.3,420.0 L489.5,420.0 L489.7,420.0 L489.9,420.0 L490.1,420.0 L490.3,420.0 L490.5,420.1 L490.7,420.1 L490.9,420.1 L491.1,420.1 L491.3,420.2 L491.5,420.2 L491.7,420.3 L491.9,420.3 L492.1,420.4 L492.3,420.4 L492.5,420.5 L492.7,420.6 L492.9,420.7 L493.1,420.8 L493.3,420.9 L493.5,421.0 L493.7,421.1 L493.9,421.2 L494.1,421.3 L494.3,421.4 L494.5,421.6 L494.7,421.7 L494.9,421.8 L495.1,422.0 L495.3,422.1 L495.5,422.3 L495.7,422.5 L495.9,422.6 L496.1,422.8 L496.3,423.0 L496.5,423.1 L496.7,423.3 L496.9,423.5 L497.1,423.7 L497.3,423.8 L497.5,424.0 L497.7,424.2 L497.9,424.4 L498.1,424.5 L498.3,424.6 L498.5,424.8 L498.7,424.9 L498.9,425.0 L499.1,425.1 L499.3,425.2 L499.5,425.2 L499.7,425.3 L499.9,425.3 L500.0,425.3 L500.1,425.3 L500.3,425.2 L500.5,425.2 L500.7,425.2 L500.9,425.1 L501.1,425.1 L501.3,425.0 L501.5,424.9 L501.7,424.8 L501.9,424.7 L502.1,424.6 L502.3,424.5 L502.5,424.4 L502.7,424.3 L502.9,424.1 L503.1,424.0 L503.3,423.9 L503.5,423.8 L503.7,423.6 L503.9,423.5 L504.1,423.3 L504.3,423.2 L504.5,423.1 L504.7,422.9 L504.9,422.8 L505.1,422.6 L505.3,422.5 L505.5,422.4 L505.7,422.2 L505.9,422.1 L506.1,421.9 L506.3,421.8 L506.5,421.7 L506.7,421.6 L506.9,421.4 L507.1,421.3 L507.3,421.2 L507.5,421.1 L507.7,421.0 L507.9,420.9 L508.1,420.7 L508.3,420.6 L508.5,420.5 L508.7,420.4 L508.9,420.3 L509.1,420.2 L509.3,420.1 L509.5,420.1 L509.7,420.0 L509.9,419.9 L510.1,419.8 L510.3,419.7 L510.5,419.7 L510.7,419.6 L510.9,419.5 L511.1,419.4 L511.3,419.4 L511.5,419.3 L511.7,419.3 L511.9,419.2 L512.1,419.2 L512.3,419.1 L512.5,419.1 L512.7,419.0 L512.9,419.0 L513.1,418.9 L513.3,418.9 L513.5,418.9 L513.7,418.9 L513.9,418.8 L514.1,418.8 L514.3,418.8 L514.5,418.8 L514.7,418.8 L514.9,418.7 L515.1,418.7 L515.3,418.7 L515.5,418.7 L515.7,418.7 L515.9,418.7 L516.1,418.7 L516.3,418.7 L516.5,418.7 L516.7,418.8 L516.9,418.8 L517.1,418.8 L517.3,418.8 L517.5,418.8 L517.7,418.9 L517.9,418.9 L518.1,418.9 L518.3,419.0 L518.5,419.0 L518.7,419.1 L518.9,419.1 L519.1,419.1 L519.3,419.2 L519.5,419.2 L519.7,419.3 L519.9,419.4 L520.1,419.4 L520.3,419.5 L520.5,419.6 L520.7,419.6 L520.9,419.7 L521.1,419.8 L521.3,419.9 L521.5,420.0 L521.7,420.1 L521.9,420.1 L522.1,420.2 L522.3,420.3 L522.5,420.4 L522.7,420.5 L522.9,420.6 L523.1,420.8 L523.3,420.9 L523.5,421.0 L523.7,421.1 L523.9,421.2 L524.1,421.3 L524.3,421.4 L524.5,421.6 L524.7,421.7 L524.9,421.8 L525.1,421.9 L525.3,422.1 L525.5,422.2 L525.7,422.3 L525.9,422.5 L526.1,422.6 L526.3,422.7 L526.5,422.9 L526.7,423.0 L526.9,423.1 L527.1,423.2 L527.3,423.3 L527.5,423.4 L527.7,423.6 L527.9,423.7 L528.1,423.8 L528.3,423.8 L528.5,423.9 L528.7,424.0 L528.9,424.0 L529.1,424.1 L529.3,424.1 L529.5,424.1 L529.7,424.2 L529.9,424.2 L530.0,424.2 L530.1,424.2 L530.3,424.1 L530.5,424.1 L530.7,424.1 L530.9,424.0 L531.1,423.9 L531.3,423.9 L531.5,423.8 L531.7,423.7 L531.9,423.6 L532.1,423.5 L532.3,423.4 L532.5,423.2 L532.7,423.1 L532.9,423.0 L533.1,422.8 L533.3,422.7 L533.5,422.5 L533.7,422.4 L533.9,422.2 L534.1,422.1 L534.3,421.9 L534.5,421.8 L534.7,421.6 L534.9,421.5 L535.1,421.4 L535.3,421.2 L535.5,421.1 L535.7,420.9 L535.9,420.8 L536.1,420.6 L536.3,420.5 L536.5,420.4 L536.7,420.2 L536.9,420.1 L537.1,420.0 L537.3,419.9 L537.5,419.8 L537.7,419.6 L537.9,419.5 L538.1,419.4 L538.3,419.3 L538.5,419.2 L538.7,419.1 L538.9,419.0 L539.1,418.9 L539.3,418.8 L539.5,418.7 L539.7,418.6 L539.9,418.5 L540.1,418.4 L540.3,418.4 L540.5,418.3 L540.7,418.2 L540.9,418.1 L541.1,418.1 L541.3,418.0 L541.5,418.0 L541.7,417.9 L541.9,417.9 L542.1,417.8 L542.3,417.8 L542.5,417.7 L542.7,417.7 L542.9,417.6 L543.1,417.6 L543.3,417.5 L543.5,417.5 L543.7,417.5 L543.9,417.5 L544.1,417.4 L544.3,417.4 L544.5,417.4 L544.7,417.4 L544.9,417.4 L545.1,417.4 L545.3,417.4 L545.5,417.3 L545.7,417.3 L545.9,417.3 L546.1,417.3 L546.3,417.3 L546.5,417.3 L546.7,417.3 L546.9,417.3 L547.1,417.3 L547.3,417.3 L547.5,417.2 L547.7,417.2 L547.9,417.2 L548.1,417.2 L548.3,417.2 L548.5,417.2 L548.7,417.2 L548.9,417.2 L549.1,417.2 L549.3,417.2 L549.5,417.2 L549.7,417.1 L549.9,417.1 L550.1,417.1 L550.3,417.1 L550.5,417.1 L550.7,417.1 L550.9,417.1 L551.1,417.1 L551.3,417.1 L551.5,417.1 L551.7,417.1 L551.9,417.1 L552.1,417.0 L552.3,417.0 L552.5,417.0 L552.7,417.0 L552.9,417.0 L553.1,417.0 L553.3,417.0 L553.5,417.0 L553.7,417.0 L553.9,417.0 L554.1,416.9 L554.3,416.9 L554.5,416.9 L554.7,416.9 L554.9,416.9 L555.1,416.9 L555.3,416.9 L555.5,416.9 L555.7,416.9 L555.9,416.9 L556.1,416.9 L556.3,416.9 L556.5,416.9 L556.7,416.8 L556.9,416.8 L557.1,416.8 L557.3,416.8 L557.5,416.8 L557.7,416.8 L557.9,416.8 L558.1,416.8 L558.3,416.8 L558.5,416.8 L558.7,416.8 L558.9,416.7 L559.1,416.7 L559.3,416.7 L559.5,416.7 L559.7,416.7 L559.9,416.7 L560.1,416.7 L560.3,416.7 L560.5,416.7 L560.7,416.7 L560.9,416.6 L561.1,416.6 L561.3,416.6 L561.5,416.6 L561.7,416.6 L561.9,416.6 L562.1,416.6 L562.3,416.6 L562.5,416.6 L562.7,416.6 L562.9,416.6 L563.1,416.6 L563.3,416.5 L563.5,416.5 L563.7,416.5 L563.9,416.5 L564.1,416.5" stroke="#FF800E" stroke-width="2.0"/>
<path d="M341.3,472.0 L341.5,520.0 L341.7,468.8 L341.9,462.2 L342.1,458.2 L342.3,455.2 L342.5,452.9 L342.7,451.0 L342.9,449.4 L343.1,448.2 L343.3,447.1 L343.5,446.4 L343.7,445.7 L343.9,445.1 L344.1,444.5 L344.3,443.9 L344.5,443.5 L344.7,443.2 L344.9,443.0 L345.1,443.0 L345.3,443.0 L345.5,443.1 L345.7,443.3 L345.9,443.6 L346.1,443.8 L346.3,443.9 L346.5,443.8 L346.6,443.6 L346.7,443.3 L346.9,441.4 L347.1,439.3 L347.3,437.8 L347.5,437.1 L347.7,437.2 L347.9,438.4 L348.1,441.0 L348.3,444.7 L348.4,445.6 L348.5,444.8 L348.7,441.1 L348.9,438.1 L349.1,436.1 L349.3,435.0 L349.5,434.6 L349.7,434.7 L349.9,435.5 L350.1,436.8 L350.3,438.4 L350.5,439.2 L350.5,439.2 L350.7,438.8 L350.9,438.0 L351.1,437.0 L351.3,435.9 L351.5,434.9 L351.7,434.0 L351.9,433.2 L352.1,432.6 L352.3,432.0 L352.5,431.6 L352.7,431.4 L352.9,431.2 L353.1,431.3 L353.3,431.5 L353.5,431.9 L353.7,432.6 L353.9,433.5 L354.1,434.7 L354.3,436.3 L354.5,438.4 L354.7,441.1 L354.9,443.2 L354.9,443.3 L355.1,442.0 L355.3,438.8 L355.5,436.0 L355.7,433.8 L355.9,432.1 L356.1,430.9 L356.3,429.9 L356.5,429.2 L356.7,428.7 L356.9,428.4 L357.1,428.4 L357.3,428.5 L357.5,428.9 L357.7,429.4 L357.9,430.2 L358.1,431.3 L358.3,432.7 L358.5,434.5 L358.7,436.3 L358.9,437.6 L359.0,437.7 L359.1,437.2 L359.3,435.6 L359.5,433.7 L359.7,432.0 L359.9,430.6 L360.1,429.5 L360.3,428.6 L360.5,427.9 L360.7,427.5 L360.9,427.2 L361.1,427.1 L361.3,427.2 L361.5,427.5 L361.7,427.9 L361.9,428.5 L362.1,429.4 L362.3,430.4 L362.5,431.5 L362.7,432.8 L362.9,434.0 L363.1,434.7 L363.1,434.8 L363.3,434.4 L363.5,433.2 L363.7,431.7 L363.9,430.3 L364.1,429.2 L364.3,428.3 L364.5,427.6 L364.7,427.2 L364.9,426.9 L365.1,426.9 L365.3,427.2 L365.5,427.6 L365.7,428.2 L365.9,429.2 L366.1,430.4 L366.3,431.9 L366.5,433.7 L366.7,435.3 L366.9,435.8 L366.9,435.8 L367.1,434.7 L367.3,432.9 L367.5,431.1 L367.7,429.7 L367.9,428.6 L368.1,427.8 L368.3,427.3 L368.5,427.0 L368.7,427.0 L368.9,427.3 L369.1,427.9 L369.3,428.7 L369.5,430.0 L369.7,431.8 L369.9,434.4 L370.1,438.0 L370.3,442.0 L370.4,442.2 L370.5,439.4 L370.7,434.8 L370.9,431.7 L371.1,429.6 L371.3,428.3 L371.5,427.5 L371.7,427.1 L371.9,427.1 L372.1,427.5 L372.3,428.3 L372.5,429.6 L372.7,431.5 L372.9,434.2 L373.1,437.8 L373.2,439.5 L373.3,439.4 L373.5,437.4 L373.7,434.7 L373.9,432.5 L374.1,430.8 L374.3,429.5 L374.5,428.5 L374.7,427.8 L374.9,427.3 L375.1,427.0 L375.3,426.9 L375.5,427.0 L375.7,427.2 L375.9,427.5 L376.1,428.1 L376.3,428.7 L376.5,429.5 L376.7,430.4 L376.9,431.3 L377.1,432.0 L377.3,432.3 L377.3,432.3 L377.5,432.1 L377.7,431.5 L377.9,430.7 L378.1,429.8 L378.3,429.0 L378.5,428.3 L378.7,427.6 L378.9,427.1 L379.1,426.8 L379.3,426.5 L379.5,426.4 L379.7,426.4 L379.9,426.5 L380.1,426.8 L380.3,427.2 L380.5,427.8 L380.7,428.6 L380.9,429.6 L381.1,430.8 L381.3,432.2 L381.5,433.6 L381.7,434.8 L381.9,435.1 L381.9,435.0 L382.1,433.7 L382.3,431.8 L382.5,430.0 L382.7,428.6 L382.9,427.5 L383.1,426.6 L383.3,426.1 L383.5,425.8 L383.7,425.7 L383.9,425.8 L384.1,426.2 L384.3,426.8 L384.5,427.6 L384.7,428.8 L384.9,430.1 L385.1,431.6 L385.3,432.8 L385.4,433.1 L385.5,433.0 L385.7,432.1 L385.9,430.6 L386.1,429.1 L386.3,427.8 L386.5,426.8 L386.7,426.0 L386.9,425.5 L387.1,425.2 L387.3,425.1 L387.5,425.3 L387.7,425.7 L387.9,426.4 L388.1,427.4 L388.3,428.9 L388.5,431.0 L388.7,433.9 L388.9,437.7 L389.1,439.6 L389.1,439.4 L389.3,435.3 L389.5,431.6 L389.7,429.0 L389.9,427.2 L390.1,426.0 L390.3,425.2 L390.5,424.8 L390.7,424.7 L390.9,424.9 L391.1,425.4 L391.3,426.4 L391.5,427.7 L391.7,429.7 L391.9,432.3 L392.1,435.5 L392.2,436.6 L392.3,435.1 L392.5,427.9 L392.7,424.9 L392.9,424.6 L393.1,427.1 L393.3,435.3 L393.4,445.2 L393.5,441.4 L393.7,434.0 L393.9,430.1 L394.1,427.6 L394.3,426.0 L394.5,425.0 L394.7,424.5 L394.9,424.3 L395.1,424.6 L395.3,425.2 L395.5,426.3 L395.7,428.0 L395.9,430.4 L396.1,433.9 L396.3,437.5 L396.3,437.6 L396.5,436.8 L396.7,434.6 L396.9,432.3 L397.1,430.4 L397.3,428.9 L397.5,427.7 L397.7,426.7 L397.9,425.9 L398.1,425.3 L398.3,424.8 L398.5,424.5 L398.7,424.3 L398.9,424.2 L399.1,424.2 L399.3,424.4 L399.5,424.7 L399.7,425.2 L399.9,425.8 L400.1,426.6 L400.3,427.6 L400.5,428.9 L400.7,430.6 L400.9,432.9 L401.1,436.2 L401.3,441.9 L401.5,453.7 L401.7,452.3 L401.9,449.6 L402.1,447.2 L402.3,445.1 L402.5,443.4 L402.7,442.0 L402.9,440.8 L403.1,439.7 L403.3,438.7 L403.5,437.8 L403.7,437.1 L403.9,436.3 L404.1,435.7 L404.3,435.1 L404.5,434.5 L404.7,434.0 L404.9,433.5 L405.1,433.0 L405.3,432.6 L405.5,432.1 L405.7,431.8 L405.9,431.4 L406.1,431.0 L406.3,430.7 L406.5,430.4 L406.7,430.1 L406.9,429.8 L407.1,429.5 L407.3,429.2 L407.5,428.9 L407.7,428.7 L407.9,428.5 L408.1,428.2 L408.3,428.0 L408.5,427.8 L408.7,427.6 L408.9,427.4 L409.1,427.2 L409.3,427.0 L409.5,426.9 L409.7,426.7 L409.9,426.5 L410.1,426.4 L410.3,426.2 L410.5,426.1 L410.7,425.9 L410.9,425.8 L411.1,425.6 L411.3,425.5 L411.5,425.4 L411.7,425.3 L411.9,425.2 L412.1,425.1 L412.3,425.0 L412.5,424.9 L412.7,424.8 L412.9,424.7 L413.1,424.6 L413.3,424.5 L413.5,424.4 L413.7,424.4 L413.9,424.3 L414.1,424.2 L414.3,424.2 L414.5,424.1 L414.7,424.1 L414.9,424.0 L415.1,424.0 L415.3,423.9 L415.5,423.9 L415.7,423.8 L415.9,423.8 L416.1,423.8 L416.3,423.8 L416.5,423.7 L416.7,423.7 L416.9,423.7 L417.1,423.7 L417.3,423.7 L417.5,423.7 L417.7,423.6 L417.9,423.6 L418.1,423.7 L418.3,423.7 L418.5,423.7 L418.7,423.7 L418.9,423.7 L419.1,423.7 L419.3,423.8 L419.5,423.8 L419.7,423.8 L419.9,423.8 L420.1,423.9 L420.3,423.9 L420.5,424.0 L420.7,424.0 L420.9,424.1 L421.1,424.1 L421.3,424.2 L421.5,424.2 L421.7,424.3 L421.9,424.4 L422.1,424.5 L422.3,424.6 L422.5,424.6 L422.7,424.7 L422.9,424.8 L423.1,424.9 L423.3,425.0 L423.5,425.1 L423.7,425.3 L423.9,425.4 L424.1,425.5 L424.3,425.6 L424.5,425.8 L424.7,425.9 L424.9,426.1 L425.1,426.2 L425.3,426.4 L425.5,426.6 L425.7,426.7 L425.9,426.9 L426.1,427.1 L426.3,427.3 L426.5,427.5 L426.7,427.7 L426.9,427.9 L427.1,428.2 L427.3,428.4 L427.5,428.7 L427.7,429.0 L427.9,429.2 L428.1,429.6 L428.3,429.9 L428.5,430.2 L428.7,430.5 L428.9,430.9 L429.1,431.3 L429.3,431.7 L429.5,432.1 L429.7,432.5 L429.9,433.0 L430.1,433.5 L430.3,434.1 L430.5,434.6 L430.7,435.2 L430.9,435.9 L431.1,436.6 L431.3,437.3 L431.5,438.1 L431.7,438.9 L431.9,439.8 L432.1,440.6 L432.3,441.4 L432.5,442.1 L432.7,442.6 L432.9,442.7 L433.1,441.6 L433.3,439.3 L433.5,437.0 L433.7,435.1 L433.9,433.5 L434.1,432.1 L434.3,431.0 L434.5,429.9 L434.7,429.0 L434.9,428.2 L435.1,427.5 L435.3,426.9 L435.5,426.3 L435.7,425.8 L435.9,425.3 L436.1,424.9 L436.3,424.5 L436.5,424.2 L436.7,423.9 L436.9,423.6 L437.1,423.4 L437.3,423.2 L437.5,423.0 L437.7,422.9 L437.9,422.8 L438.1,422.7 L438.3,422.6 L438.5,422.6 L438.7,422.5 L438.9,422.6 L439.1,422.6 L439.3,422.6 L439.5,422.7 L439.7,422.8 L439.9,423.0 L440.1,423.1 L440.3,423.3 L440.5,423.6 L440.7,423.8 L440.9,424.1 L441.1,424.5 L441.3,424.8 L441.5,425.2 L441.7,425.7 L441.9,426.2 L442.1,426.8 L442.3,427.5 L442.5,428.2 L442.7,429.0 L442.9,429.9 L443.1,431.0 L443.3,432.2 L443.5,433.7 L443.7,435.4 L443.9,437.4 L444.1,439.5 L444.3,441.3 L444.4,441.6 L444.5,441.4 L444.7,440.3 L444.9,438.7 L445.1,437.0 L445.3,435.5 L445.5,434.2 L445.7,433.0 L445.9,431.9 L446.1,431.0 L446.3,430.1 L446.5,429.4 L446.7,428.7 L446.9,428.1 L447.1,427.5 L447.3,426.9 L447.5,426.5 L447.7,426.0 L447.9,425.6 L448.1,425.2 L448.3,424.9 L448.5,424.5 L448.7,424.2 L448.9,423.9 L449.1,423.7 L449.3,423.4 L449.5,423.2 L449.7,423.0 L449.9,422.9 L450.1,422.7 L450.3,422.6 L450.5,422.4 L450.7,422.3 L450.9,422.2 L451.1,422.1 L451.3,422.1 L451.5,422.0 L451.7,422.0 L451.9,421.9 L452.1,421.9 L452.3,421.9 L452.5,421.9 L452.7,422.0 L452.9,422.0 L453.1,422.1 L453.3,422.2 L453.5,422.2 L453.7,422.4 L453.9,422.5 L454.1,422.6 L454.3,422.8 L454.5,422.9 L454.7,423.1 L454.9,423.3 L455.1,423.6 L455.3,423.8 L455.5,424.1 L455.7,424.4 L455.9,424.7 L456.1,425.0 L456.3,425.4 L456.5,425.8 L456.7,426.2 L456.9,426.7 L457.1,427.2 L457.3,427.8 L457.5,428.4 L457.7,429.0 L457.9,429.7 L458.1,430.5 L458.3,431.3 L458.5,432.2 L458.7,433.1 L458.9,434.1 L459.1,435.1 L459.3,436.0 L459.5,436.6 L459.7,436.8 L459.9,436.6 L460.1,436.1 L460.3,435.4 L460.5,434.5 L460.7,433.6 L460.9,432.8 L461.1,431.9 L461.3,431.1 L461.5,430.4 L461.7,429.7 L461.9,429.1 L462.1,428.4 L462.3,427.9 L462.5,427.4 L462.7,426.9 L462.9,426.4 L463.1,426.0 L463.3,425.6 L463.5,425.3 L463.7,424.9 L463.9,424.6 L464.1,424.3 L464.3,424.0 L464.5,423.8 L464.7,423.5 L464.9,423.3 L465.1,423.1 L465.3,422.9 L465.5,422.7 L465.7,422.6 L465.9,422.4 L466.1,422.3 L466.3,422.1 L466.5,422.0 L466.7,421.9 L466.9,421.8 L467.1,421.8 L467.3,421.7 L467.5,421.6 L467.7,421.6 L467.9,421.6 L468.1,421.5 L468.3,421.5 L468.5,421.5 L468.7,421.6 L468.9,421.6 L469.1,421.6 L469.3,421.6 L469.5,421.7 L469.7,421.8 L469.9,421.9 L470.1,421.9 L470.3,422.1 L470.5,422.2 L470.7,422.3 L470.9,422.4 L471.1,422.6 L471.3,422.8 L471.5,423.0 L471.7,423.2 L471.9,423.4 L472.1,423.6 L472.3,423.9 L472.5,424.1 L472.7,424.4 L472.9,424.7 L473.1,425.1 L473.3,425.4 L473.5,425.8 L473.7,426.2 L473.9,426.7 L474.1,427.1 L474.3,427.6 L474.5,428.2 L474.7,428.8 L474.9,429.4 L475.1,430.1 L475.3,430.8 L475.5,431.5 L475.7,432.3 L475.9,433.2 L476.1,434.0 L476.3,434.8 L476.5,435.5 L476.7,436.0 L476.9,436.1 L477.1,436.1 L477.3,436.0 L477.5,435.9 L477.7,435.7 L477.9,435.5 L478.1,435.2 L478.3,434.9 L478.5,434.6 L478.7,434.3 L478.9,434.0 L479.1,433.7 L479.3,433.3 L479.5,433.0 L479.7,432.6 L479.9,432.3 L480.1,432.0 L480.3,431.6 L480.5,431.3 L480.7,431.0 L480.9,430.7 L481.1,430.4 L481.3,430.1 L481.5,429.9 L481.7,429.6 L481.9,429.3 L482.1,429.1 L482.3,428.8 L482.5,428.6 L482.7,428.3 L482.9,428.1 L483.1,427.9 L483.3,427.6 L483.5,427.4 L483.7,427.2 L483.9,427.0 L484.1,426.8 L484.3,426.6 L484.5,426.5 L484.7,426.3 L484.9,426.1 L485.1,425.9 L485.3,425.8 L485.5,425.6 L485.7,425.4 L485.9,425.3 L486.1,425.1 L486.3,425.0 L486.5,424.9 L486.7,424.7 L486.9,424.6 L487.1,424.5 L487.3,424.3 L487.5,424.2 L487.7,424.1 L487.9,424.0 L488.1,423.9 L488.3,423.7 L488.5,423.6 L488.7,423.5 L488.9,423.4 L489.1,423.3 L489.3,423.2 L489.5,423.1 L489.7,423.0 L489.9,422.9 L490.1,422.9 L490.3,422.8 L490.5,422.7 L490.7,422.6 L490.9,422.5 L491.1,422.5 L491.3,422.4 L491.5,422.3 L491.7,422.2 L491.9,422.2 L492.1,422.1 L492.3,422.1 L492.5,422.0 L492.7,421.9 L492.9,421.9 L493.1,421.8 L493.3,421.8 L493.5,421.7 L493.7,421.7 L493.9,421.6 L494.1,421.6 L494.3,421.5 L494.5,421.5 L494.7,421.5 L494.9,421.4 L495.1,421.4 L495.3,421.4 L495.5,421.3 L495.7,421.3 L495.9,421.3 L496.1,421.2 L496.3,421.2 L496.5,421.2 L496.7,421.2 L496.9,421.2 L497.1,421.1 L497.3,421.1 L497.5,421.1 L497.7,421.1 L497.9,421.1 L498.1,421.1 L498.3,421.1 L498.5,421.1 L498.7,421.1 L498.9,421.1 L499.1,421.1 L499.3,421.1 L499.5,421.1 L499.7,421.1 L499.9,421.1 L500.1,421.1 L500.3,421.1 L500.5,421.1 L500.7,421.1 L500.9,421.1 L501.1,421.1 L501.3,421.1 L501.5,421.1 L501.7,421.1 L501.9,421.2 L502.1,421.2 L502.3,421.2 L502.5,421.2 L502.7,421.2 L502.9,421.3 L503.1,421.3 L503.3,421.3 L503.5,421.3 L503.7,421.4 L503.9,421.4 L504.1,421.4 L504.3,421.5 L504.5,421.5 L504.7,421.5 L504.9,421.6 L505.1,421.6 L505.3,421.6 L505.5,421.7 L505.7,421.7 L505.9,421.8 L506.1,421.8 L506.3,421.8 L506.5,421.9 L506.7,421.9 L506.9,422.0 L507.1,422.0 L507.3,422.1 L507.5,422.1 L507.7,422.2 L507.9,422.2 L508.1,422.3 L508.3,422.3 L508.5,422.4 L508.7,422.4 L508.9,422.5 L509.1,422.6 L509.3,422.6 L509.5,422.7 L509.7,422.8 L509.9,422.8 L510.1,422.9 L510.3,422.9 L510.5,423.0 L510.7,423.1 L510.9,423.1 L511.1,423.2 L511.3,423.3 L511.5,423.4 L511.7,423.4 L511.9,423.5 L512.1,423.6 L512.3,423.6 L512.5,423.7 L512.7,423.8 L512.9,423.9 L513.1,423.9 L513.3,424.0 L513.5,424.1 L513.7,424.1 L513.9,424.2 L514.1,424.3 L514.3,424.4 L514.5,424.4 L514.7,424.5 L514.9,424.6 L515.1,424.6 L515.3,424.7 L515.5,424.8 L515.7,424.8 L515.9,424.9 L516.1,424.9 L516.3,425.0 L516.5,425.1 L516.7,425.1 L516.9,425.2 L517.1,425.2 L517.3,425.3 L517.5,425.3 L517.7,425.3 L517.9,425.4 L518.1,425.4 L518.3,425.4 L518.5,425.5 L518.7,425.5 L518.9,425.5 L519.1,425.5 L519.3,425.5 L519.5,425.5 L519.7,425.5 L519.9,425.5 L520.0,425.5 L520.1,425.5 L520.3,425.5 L520.5,425.5 L520.7,425.4 L520.9,425.4 L521.1,425.4 L521.3,425.3 L521.5,425.2 L521.7,425.2 L521.9,425.1 L522.1,425.0 L522.3,424.9 L522.5,424.8 L522.7,424.7 L522.9,424.6 L523.1,424.5 L523.3,424.4 L523.5,424.3 L523.7,424.2 L523.9,424.1 L524.1,423.9 L524.3,423.8 L524.5,423.7 L524.7,423.6 L524.9,423.4 L525.1,423.3 L525.3,423.2 L525.5,423.1 L525.7,423.0 L525.9,422.8 L526.1,422.7 L526.3,422.6 L526.5,422.5 L526.7,422.4 L526.9,422.3 L527.1,422.2 L527.3,422.1 L527.5,421.9 L527.7,421.9 L527.9,421.8 L528.1,421.6 L528.3,421.6 L528.5,421.5 L528.7,421.4 L528.9,421.3 L529.1,421.2 L529.3,421.1 L529.5,421.0 L529.7,420.9 L529.9,420.9 L530.1,420.8 L530.3,420.7 L530.5,420.7 L530.7,420.6 L530.9,420.5 L531.1,420.5 L531.3,420.4 L531.5,420.4 L531.7,420.3 L531.9,420.3 L532.1,420.2 L532.3,420.2 L532.5,420.1 L532.7,420.1 L532.9,420.1 L533.1,420.0 L533.3,420.0 L533.5,420.0 L533.7,419.9 L533.9,419.9 L534.1,419.9 L534.3,419.9 L534.5,419.9 L534.7,419.8 L534.9,419.8 L535.1,419.8 L535.3,419.8 L535.5,419.8 L535.7,419.8 L535.9,419.8 L536.1,419.8 L536.3,419.8 L536.5,419.9 L536.7,419.9 L536.9,419.9 L537.1,419.9 L537.3,419.9 L537.5,419.9 L537.7,420.0 L537.9,420.0 L538.1,420.0 L538.3,420.1 L538.5,420.1 L538.7,420.1 L538.9,420.2 L539.1,420.2 L539.3,420.3 L539.5,420.3 L539.7,420.4 L539.9,420.4 L540.1,420.5 L540.3,420.6 L540.5,420.6 L540.7,420.7 L540.9,420.8 L541.1,420.8 L541.3,420.9 L541.5,421.0 L541.7,421.1 L541.9,421.1 L542.1,421.2 L542.3,421.3 L542.5,421.4 L542.7,421.5 L542.9,421.6 L543.1,421.7 L543.3,421.8 L543.5,421.9 L543.7,422.0 L543.9,422.1 L544.1,422.2 L544.3,422.3 L544.5,422.4 L544.7,422.5 L544.9,422.6 L545.1,422.7 L545.3,422.8 L545.5,422.9 L545.7,423.1 L545.9,423.2 L546.1,423.3 L546.3,423.4 L546.5,423.5 L546.7,423.6 L546.9,423.7 L547.1,423.8 L547.3,423.9 L547.5,423.9 L547.7,424.0 L547.9,424.1 L548.1,424.2 L548.3,424.2 L548.5,424.3 L548.7,424.4 L548.9,424.4 L549.1,424.4 L549.3,424.5 L549.5,424.5 L549.7,424.5 L549.9,424.5 L550.0,424.5 L550.1,424.5 L550.3,424.5 L550.5,424.4 L550.7,424.4 L550.9,424.4 L551.1,424.3 L551.3,424.2 L551.5,424.2 L551.7,424.1 L551.9,424.0 L552.1,423.9 L552.3,423.9 L552.5,423.8 L552.7,423.6 L552.9,423.5 L553.1,423.4 L553.3,423.3 L553.5,423.2 L553.7,423.1 L553.9,423.0 L554.1,422.8 L554.3,422.7 L554.5,422.6 L554.7,422.5 L554.9,422.3 L555.1,422.2 L555.3,422.1 L555.5,422.0 L555.7,421.9 L555.9,421.7 L556.1,421.6 L556.3,421.5 L556.5,421.4 L556.7,421.3 L556.9,421.1 L557.1,421.0 L557.3,420.9 L557.5,420.8 L557.7,420.7 L557.9,420.6 L558.1,420.5 L558.3,420.4 L558.5,420.3 L558.7,420.2 L558.9,420.1 L559.1,420.1 L559.3,420.0 L559.5,419.9 L559.7,419.8 L559.9,419.7 L560.1,419.6 L560.3,419.6 L560.5,419.5 L560.7,419.4 L560.9,419.4 L561.1,419.3 L561.3,419.3 L561.5,419.2 L561.7,419.2 L561.9,419.1 L562.1,419.1 L562.3,419.0 L562.5,419.0 L562.7,418.9 L562.9,418.9 L563.1,418.9 L563.3,418.8 L563.5,418.8 L563.7,418.8 L563.9,418.8 L564.1,418.7" stroke="#ABABAB" stroke-width="2.0"/>
<path d="M341.4,513.9 L341.6,520.0 L341.8,494.1 L342.0,487.1 L342.2,482.6 L342.4,479.3 L342.6,476.6 L342.8,474.5 L343.0,472.7 L343.2,471.2 L343.4,470.0 L343.6,469.1 L343.8,468.2 L344.0,467.4 L344.2,466.5 L344.4,465.7 L344.6,464.8 L344.8,464.0 L345.0,463.1 L345.2,462.3 L345.4,461.5 L345.6,460.7 L345.8,459.9 L346.0,459.1 L346.2,458.3 L346.4,457.6 L346.6,456.9 L346.8,456.1 L347.0,455.4 L347.2,454.8 L347.4,454.2 L347.6,453.5 L347.8,452.9 L348.0,452.4 L348.2,451.8 L348.4,451.3 L348.6,450.9 L348.8,450.4 L349.0,449.9 L349.2,449.5 L349.4,449.1 L349.6,448.7 L349.8,448.4 L350.0,448.0 L350.2,447.7 L350.4,447.3 L350.6,447.0 L350.8,446.7 L351.0,446.4 L351.2,446.1 L351.4,445.8 L351.6,445.6 L351.8,445.3 L352.0,445.1 L352.2,444.8 L352.4,444.6 L352.6,444.4 L352.8,444.2 L353.0,444.0 L353.2,443.8 L353.4,443.6 L353.6,443.4 L353.8,443.2 L354.0,443.1 L354.2,442.9 L354.4,442.8 L354.6,442.6 L354.8,442.6 L355.0,442.4 L355.2,442.4 L355.4,442.3 L355.6,442.3 L355.8,442.2 L356.0,442.2 L356.2,442.2 L356.4,442.2 L356.6,442.3 L356.8,442.3 L357.0,442.3 L357.2,442.4 L357.4,442.4 L357.6,442.5 L357.8,442.5 L358.0,442.6 L358.2,442.6 L358.4,442.7 L358.6,442.7 L358.8,442.8 L359.0,442.8 L359.2,442.8 L359.4,442.9 L359.6,442.9 L359.8,442.9 L360.0,442.9 L360.2,442.8 L360.4,442.8 L360.6,442.7 L360.8,442.6 L361.0,442.5 L361.2,442.4 L361.4,442.3 L361.6,442.1 L361.8,442.0 L362.0,441.8 L362.2,441.7 L362.4,441.5 L362.6,441.3 L362.8,441.1 L363.0,440.9 L363.2,440.7 L363.4,440.4 L363.6,440.2 L363.8,440.0 L364.0,439.8 L364.2,439.6 L364.4,439.4 L364.6,439.1 L364.8,438.9 L365.0,438.7 L365.2,438.6 L365.4,438.4 L365.6,438.1 L365.8,437.9 L366.0,437.7 L366.2,437.5 L366.4,437.3 L366.6,437.1 L366.8,436.9 L367.0,436.6 L367.2,436.4 L367.4,436.2 L367.6,436.0 L367.8,435.7 L368.0,435.5 L368.2,435.3 L368.4,435.1 L368.6,434.9 L368.8,434.6 L369.0,434.4 L369.2,434.2 L369.4,434.0 L369.6,433.8 L369.8,433.6 L370.0,433.4 L370.2,433.2 L370.4,433.1 L370.6,432.9 L370.8,432.7 L371.0,432.6 L371.2,432.4 L371.4,432.3 L371.6,432.1 L371.8,432.0 L372.0,431.9 L372.2,431.8 L372.4,431.7 L372.6,431.7 L372.8,431.6 L373.0,431.6 L373.2,431.6 L373.4,431.6 L373.6,431.6 L373.8,431.7 L374.0,431.8 L374.2,431.8 L374.4,431.9 L374.6,432.1 L374.8,432.2 L375.0,432.3 L375.2,432.5 L375.4,432.6 L375.6,432.8 L375.8,432.9 L376.0,433.1 L376.2,433.2 L376.4,433.4 L376.6,433.5 L376.8,433.7 L377.0,433.8 L377.2,433.9 L377.4,434.0 L377.6,434.0 L377.8,434.1 L378.0,434.1 L378.2,434.1 L378.4,434.1 L378.6,434.1 L378.8,434.0 L379.0,433.9 L379.2,433.8 L379.4,433.7 L379.6,433.5 L379.8,433.3 L380.0,433.1 L380.2,432.9 L380.4,432.7 L380.6,432.4 L380.8,432.1 L381.0,431.9 L381.2,431.6 L381.4,431.3 L381.6,431.0 L381.8,430.7 L382.0,430.4 L382.2,430.0 L382.4,429.7 L382.6,429.4 L382.8,429.1 L383.0,428.8 L383.2,428.4 L383.4,428.1 L383.6,427.8 L383.8,427.5 L384.0,427.2 L384.2,426.9 L384.4,426.6 L384.6,426.4 L384.8,426.1 L385.0,425.9 L385.2,425.6 L385.4,425.4 L385.6,425.2 L385.8,425.0 L386.0,424.8 L386.2,424.7 L386.4,424.5 L386.6,424.4 L386.8,424.2 L387.0,424.1 L387.2,424.0 L387.4,423.9 L387.6,423.9 L387.8,423.8 L388.0,423.7 L388.2,423.7 L388.4,423.6 L388.6,423.6 L388.8,423.6 L389.0,423.5 L389.2,423.5 L389.4,423.5 L389.6,423.6 L389.8,423.6 L390.0,423.6 L390.2,423.7 L390.4,423.7 L390.6,423.8 L390.8,423.8 L391.0,423.9 L391.2,424.0 L391.4,424.1 L391.6,424.2 L391.8,424.3 L392.0,424.4 L392.2,424.5 L392.4,424.6 L392.6,424.8 L392.8,425.0 L393.0,425.2 L393.2,425.4 L393.4,425.6 L393.6,425.8 L393.8,426.1 L394.0,426.3 L394.2,426.6 L394.4,426.9 L394.6,427.1 L394.8,427.4 L395.0,427.6 L395.2,427.8 L395.4,428.0 L395.6,428.2 L395.8,428.3 L396.0,428.4 L396.2,428.5 L396.4,428.6 L396.6,428.6 L396.8,428.6 L397.0,428.6 L397.1,428.5 L397.2,428.5 L397.4,428.4 L397.6,428.3 L397.8,428.2 L398.0,428.0 L398.2,427.9 L398.4,427.7 L398.6,427.5 L398.8,427.3 L399.0,427.1 L399.2,426.9 L399.4,426.6 L399.6,426.4 L399.8,426.1 L400.0,425.9 L400.2,425.6 L400.4,425.4 L400.6,425.1 L400.8,424.8 L401.0,424.6 L401.2,424.3 L401.4,424.0 L401.6,423.8 L401.8,423.5 L402.0,423.2 L402.2,423.0 L402.4,422.7 L402.6,422.4 L402.8,422.2 L403.0,421.9 L403.2,421.7 L403.4,421.5 L403.6,421.2 L403.8,421.0 L404.0,420.8 L404.2,420.6 L404.4,420.4 L404.6,420.2 L404.8,420.0 L405.0,419.9 L405.2,419.7 L405.4,419.6 L405.6,419.4 L405.8,419.3 L406.0,419.1 L406.2,419.0 L406.4,418.9 L406.6,418.9 L406.8,418.8 L407.0,418.8 L407.2,418.8 L407.4,418.9 L407.6,418.9 L407.8,418.9 L408.0,419.0 L408.2,419.1 L408.4,419.1 L408.6,419.2 L408.8,419.3 L409.0,419.4 L409.2,419.4 L409.4,419.5 L409.6,419.7 L409.8,419.8 L410.0,419.9 L410.2,420.1 L410.4,420.2 L410.6,420.4 L410.8,420.5 L411.0,420.7 L411.2,420.8 L411.4,421.0 L411.6,421.2 L411.8,421.4 L412.0,421.6 L412.2,421.8 L412.4,421.9 L412.6,422.1 L412.8,422.3 L413.0,422.5 L413.2,422.7 L413.4,422.9 L413.6,423.1 L413.8,423.3 L414.0,423.5 L414.2,423.7 L414.4,423.9 L414.6,424.1 L414.8,424.2 L415.0,424.4 L415.2,424.5 L415.4,424.7 L415.6,424.8 L415.8,424.9 L416.0,425.0 L416.2,425.1 L416.4,425.2 L416.6,425.2 L416.8,425.2 L417.0,425.3 L417.2,425.2 L417.4,425.2 L417.6,425.2 L417.8,425.1 L418.0,425.1 L418.2,425.0 L418.4,424.9 L418.6,424.7 L418.8,424.6 L419.0,424.5 L419.2,424.3 L419.4,424.2 L419.6,424.0 L419.8,423.8 L420.0,423.6 L420.2,423.5 L420.4,423.3 L420.6,423.1 L420.8,422.9 L421.0,422.7 L421.2,422.5 L421.4,422.3 L421.6,422.1 L421.8,421.9 L422.0,421.8 L422.2,421.6 L422.4,421.4 L422.6,421.2 L422.8,421.1 L423.0,420.9 L423.2,420.8 L423.4,420.6 L423.6,420.5 L423.8,420.4 L424.0,420.2 L424.2,420.1 L424.4,420.0 L424.6,419.9 L424.8,419.8 L425.0,419.7 L425.2,419.6 L425.4,419.5 L425.6,419.4 L425.8,419.4 L426.0,419.3 L426.2,419.3 L426.4,419.2 L426.6,419.2 L426.8,419.2 L427.0,419.1 L427.2,419.1 L427.4,419.1 L427.6,419.1 L427.8,419.1 L428.0,419.1 L428.2,419.1 L428.4,419.1 L428.6,419.1 L428.8,419.1 L429.0,419.1 L429.2,419.1 L429.4,419.2 L429.6,419.2 L429.8,419.2 L430.0,419.3 L430.2,419.3 L430.4,419.4 L430.6,419.5 L430.8,419.5 L431.0,419.6 L431.2,419.7 L431.4,419.8 L431.6,419.9 L431.8,419.9 L432.0,420.0 L432.2,420.1 L432.4,420.2 L432.6,420.4 L432.8,420.5 L433.0,420.6 L433.2,420.7 L433.4,420.9 L433.6,421.0 L433.8,421.1 L434.0,421.3 L434.2,421.4 L434.4,421.6 L434.6,421.8 L434.8,421.9 L435.0,422.1 L435.2,422.2 L435.4,422.4 L435.6,422.6 L435.8,422.8 L436.0,423.0 L436.2,423.1 L436.4,423.3 L436.6,423.5 L436.8,423.7 L437.0,423.9 L437.2,424.1 L437.4,424.2 L437.6,424.4 L437.8,424.6 L438.0,424.8 L438.2,424.9 L438.4,425.1 L438.6,425.2 L438.8,425.3 L439.0,425.4 L439.2,425.5 L439.4,425.6 L439.6,425.7 L439.8,425.7 L440.0,425.8 L440.2,425.8 L440.4,425.8 L440.6,425.7 L440.8,425.7 L441.0,425.6 L441.2,425.5 L441.4,425.4 L441.6,425.3 L441.8,425.1 L442.0,425.0 L442.2,424.8 L442.4,424.6 L442.6,424.4 L442.8,424.2 L443.0,424.0 L443.2,423.8 L443.4,423.6 L443.6,423.4 L443.8,423.2 L444.0,423.0 L444.2,422.8 L444.4,422.6 L444.6,422.4 L444.8,422.2 L445.0,422.0 L445.2,421.9 L445.4,421.7 L445.6,421.5 L445.8,421.3 L446.0,421.1 L446.2,421.0 L446.4,420.8 L446.6,420.7 L446.8,420.5 L447.0,420.4 L447.2,420.2 L447.4,420.1 L447.6,420.0 L447.8,419.9 L448.0,419.8 L448.2,419.7 L448.4,419.6 L448.6,419.5 L448.8,419.4 L449.0,419.3 L449.2,419.3 L449.4,419.2 L449.6,419.2 L449.8,419.1 L450.0,419.1 L450.2,419.0 L450.4,419.0 L450.6,419.0 L450.8,419.0 L451.0,419.0 L451.2,419.0 L451.4,419.0 L451.6,419.0 L451.8,419.0 L452.0,419.1 L452.2,419.1 L452.4,419.2 L452.6,419.2 L452.8,419.3 L453.0,419.4 L453.2,419.4 L453.4,419.5 L453.6,419.6 L453.8,419.8 L454.0,419.9 L454.2,420.0 L454.4,420.1 L454.6,420.3 L454.8,420.4 L455.0,420.6 L455.2,420.8 L455.4,421.0 L455.6,421.2 L455.8,421.4 L456.0,421.6 L456.2,421.8 L456.4,422.1 L456.6,422.3 L456.8,422.6 L457.0,422.9 L457.2,423.2 L457.4,423.5 L457.6,423.9 L457.8,424.2 L458.0,424.6 L458.2,425.0 L458.4,425.4 L458.6,425.9 L458.8,426.4 L459.0,426.9 L459.2,427.5 L459.4,428.1 L459.6,428.8 L459.8,429.5 L460.0,430.3 L460.2,431.2 L460.4,432.2 L460.6,433.3 L460.8,434.5 L461.0,435.9 L461.2,437.5 L461.4,439.1 L461.6,440.5 L461.8,441.0 L462.0,440.4 L462.2,438.9 L462.4,437.3 L462.6,435.6 L462.8,434.2 L463.0,432.9 L463.2,431.7 L463.4,430.6 L463.6,429.7 L463.8,428.8 L464.0,428.0 L464.2,427.3 L464.4,426.6 L464.6,426.0 L464.8,425.4 L465.0,424.8 L465.2,424.3 L465.4,423.8 L465.6,423.3 L465.8,422.9 L466.0,422.5 L466.2,422.1 L466.4,421.7 L466.6,421.3 L466.8,421.0 L467.0,420.7 L467.2,420.4 L467.4,420.1 L467.6,419.8 L467.8,419.5 L468.0,419.3 L468.2,419.0 L468.4,418.8 L468.6,418.6 L468.8,418.4 L469.0,418.2 L469.2,418.0 L469.4,417.9 L469.6,417.7 L469.8,417.6 L470.0,417.4 L470.2,417.3 L470.4,417.2 L470.6,417.1 L470.8,416.9 L471.0,416.9 L471.2,416.8 L471.4,416.7 L471.6,416.7 L471.8,416.6 L472.0,416.6 L472.2,416.6 L472.4,416.5 L472.6,416.5 L472.8,416.5 L473.0,416.5 L473.2,416.5 L473.4,416.6 L473.6,416.6 L473.8,416.6 L474.0,416.6 L474.2,416.7 L474.4,416.8 L474.6,416.8 L474.8,416.9 L475.0,417.0 L475.2,417.1 L475.4,417.2 L475.6,417.3 L475.8,417.4 L476.0,417.5 L476.2,417.6 L476.4,417.8 L476.6,417.9 L476.8,418.1 L477.0,418.2 L477.2,418.4 L477.4,418.6 L477.6,418.8 L477.8,419.0 L478.0,419.2 L478.2,419.4 L478.4,419.6 L478.6,419.8 L478.8,420.1 L479.0,420.3 L479.2,420.6 L479.4,420.9 L479.6,421.1 L479.8,421.4 L480.0,421.7 L480.2,422.0 L480.4,422.3 L480.6,422.6 L480.8,423.0 L481.0,423.3 L481.2,423.6 L481.4,423.9 L481.6,424.2 L481.8,424.5 L482.0,424.8 L482.2,425.0 L482.4,425.3 L482.6,425.4 L482.8,425.6 L483.0,425.7 L483.2,425.8 L483.3,425.8 L483.4,425.8 L483.6,425.7 L483.8,425.6 L484.0,425.4 L484.2,425.2 L484.4,424.9 L484.6,424.5 L484.8,424.2 L485.0,423.8 L485.2,423.5 L485.4,423.1 L485.6,422.7 L485.8,422.4 L486.0,422.0 L486.2,421.7 L486.4,421.4 L486.6,421.1 L486.8,420.8 L487.0,420.5 L487.2,420.3 L487.4,420.0 L487.6,419.8 L487.8,419.6 L488.0,419.4 L488.2,419.2 L488.4,419.0 L488.6,418.8 L488.8,418.7 L489.0,418.5 L489.2,418.4 L489.4,418.3 L489.6,418.1 L489.8,418.1 L490.0,418.0 L490.2,417.9 L490.4,417.8 L490.6,417.8 L490.8,417.7 L491.0,417.7 L491.2,417.6 L491.4,417.6 L491.6,417.6 L491.8,417.6 L492.0,417.6 L492.2,417.6 L492.4,417.6 L492.6,417.7 L492.8,417.7 L493.0,417.8 L493.2,417.8 L493.4,417.9 L493.6,417.9 L493.8,418.0 L494.0,418.1 L494.2,418.2 L494.4,418.3 L494.6,418.4 L494.8,418.5 L495.0,418.6 L495.2,418.7 L495.4,418.9 L495.6,419.0 L495.8,419.2 L496.0,419.3 L496.2,419.5 L496.4,419.6 L496.6,419.8 L496.8,419.9 L497.0,420.1 L497.2,420.3 L497.4,420.4 L497.6,420.6 L497.8,420.8 L498.0,420.9 L498.2,421.1 L498.4,421.2 L498.6,421.4 L498.8,421.5 L499.0,421.6 L499.2,421.7 L499.4,421.7 L499.6,421.8 L499.8,421.8 L500.0,421.8 L500.2,421.8 L500.4,421.8 L500.6,421.7 L500.8,421.7 L501.0,421.7 L501.2,421.6 L501.4,421.6 L501.6,421.6 L501.8,421.5 L502.0,421.5 L502.2,421.4 L502.4,421.4 L502.6,421.3 L502.8,421.2 L503.0,421.2 L503.2,421.1 L503.4,421.0 L503.6,420.9 L503.8,420.9 L504.0,420.8 L504.2,420.7 L504.4,420.6 L504.6,420.6 L504.8,420.5 L505.0,420.4 L505.2,420.3 L505.4,420.2 L505.6,420.1 L505.8,420.0 L506.0,419.9 L506.2,419.9 L506.4,419.8 L506.6,419.7 L506.8,419.6 L507.0,419.5 L507.2,419.4 L507.4,419.3 L507.6,419.3 L507.8,419.2 L508.0,419.1 L508.2,419.0 L508.4,418.9 L508.6,418.8 L508.8,418.8 L509.0,418.7 L509.2,418.6 L509.4,418.5 L509.6,418.4 L509.8,418.4 L510.0,418.3 L510.2,418.2 L510.4,418.2 L510.6,418.1 L510.8,418.0 L511.0,418.0 L511.2,417.9 L511.4,417.8 L511.6,417.8 L511.8,417.7 L512.0,417.6 L512.2,417.6 L512.4,417.5 L512.6,417.5 L512.8,417.4 L513.0,417.4 L513.2,417.3 L513.4,417.3 L513.6,417.2 L513.8,417.2 L514.0,417.1 L514.2,417.1 L514.4,417.1 L514.6,417.0 L514.8,417.0 L515.0,416.9 L515.2,416.9 L515.4,416.9 L515.6,416.8 L515.8,416.8 L516.0,416.8 L516.2,416.8 L516.4,416.7 L516.6,416.7 L516.8,416.7 L517.0,416.7 L517.2,416.7 L517.4,416.6 L517.6,416.6 L517.8,416.6 L518.0,416.6 L518.2,416.6 L518.4,416.6 L518.6,416.6 L518.8,416.6 L519.0,416.6 L519.2,416.6 L519.4,416.6 L519.6,416.6 L519.8,416.6 L520.0,416.6 L520.2,416.6 L520.4,416.6 L520.6,416.6 L520.8,416.6 L521.0,416.6 L521.2,416.6 L521.4,416.7 L521.6,416.7 L521.8,416.7 L522.0,416.7 L522.2,416.8 L522.4,416.8 L522.6,416.8 L522.8,416.8 L523.0,416.9 L523.2,416.9 L523.4,416.9 L523.6,417.0 L523.8,417.0 L524.0,417.0 L524.2,417.1 L524.4,417.1 L524.6,417.2 L524.8,417.2 L525.0,417.2 L525.2,417.3 L525.4,417.4 L525.6,417.4 L525.8,417.5 L526.0,417.5 L526.2,417.6 L526.4,417.6 L526.6,417.7 L526.8,417.8 L527.0,417.8 L527.2,417.9 L527.4,418.0 L527.6,418.0 L527.8,418.1 L528.0,418.2 L528.2,418.3 L528.4,418.3 L528.6,418.4 L528.8,418.5 L529.0,418.6 L529.2,418.6 L529.4,418.7 L529.6,418.8 L529.8,418.9 L530.0,419.0 L530.2,419.1 L530.4,419.1 L530.6,419.2 L530.8,419.3 L531.0,419.4 L531.2,419.5 L531.4,419.6 L531.6,419.7 L531.8,419.8 L532.0,419.8 L532.2,419.9 L532.4,420.0 L532.6,420.1 L532.8,420.1 L533.0,420.2 L533.2,420.3 L533.4,420.4 L533.6,420.4 L533.8,420.5 L534.0,420.6 L534.2,420.6 L534.4,420.7 L534.6,420.8 L534.8,420.8 L535.0,420.8 L535.2,420.9 L535.4,420.9 L535.6,421.0 L535.8,421.0 L536.0,421.0 L536.2,421.0 L536.4,421.1 L536.6,421.1 L536.8,421.1 L537.0,421.1 L537.2,421.1 L537.3,421.1 L537.4,421.1 L537.6,421.1 L537.8,421.0 L538.0,421.0 L538.2,420.9 L538.4,420.9 L538.6,420.8 L538.8,420.8 L539.0,420.7 L539.2,420.6 L539.4,420.5 L539.6,420.4 L539.8,420.3 L540.0,420.2 L540.2,420.1 L540.4,420.0 L540.6,419.9 L540.8,419.7 L541.0,419.6 L541.2,419.5 L541.4,419.4 L541.6,419.2 L541.8,419.1 L542.0,419.0 L542.2,418.8 L542.4,418.7 L542.6,418.6 L542.8,418.4 L543.0,418.3 L543.2,418.1 L543.4,418.0 L543.6,417.9 L543.8,417.8 L544.0,417.6 L544.2,417.5 L544.4,417.4 L544.6,417.3 L544.8,417.2 L545.0,417.1 L545.2,416.9 L545.4,416.8 L545.6,416.7 L545.8,416.6 L546.0,416.5 L546.2,416.4 L546.4,416.4 L546.6,416.3 L546.8,416.2 L547.0,416.1 L547.2,416.1 L547.4,416.0 L547.6,415.9 L547.8,415.9 L548.0,415.8 L548.2,415.8 L548.4,415.7 L548.6,415.7 L548.8,415.6 L549.0,415.6 L549.2,415.6 L549.4,415.6 L549.6,415.6 L549.8,415.5 L550.0,415.5 L550.2,415.5 L550.4,415.5 L550.6,415.6 L550.8,415.6 L551.0,415.6 L551.2,415.6 L551.4,415.6 L551.6,415.7 L551.8,415.7 L552.0,415.7 L552.2,415.8 L552.4,415.8 L552.6,415.9 L552.8,416.0 L553.0,416.0 L553.2,416.1 L553.4,416.1 L553.6,416.2 L553.8,416.3 L554.0,416.4 L554.2,416.4 L554.4,416.5 L554.6,416.6 L554.8,416.7 L555.0,416.8 L555.2,416.9 L555.4,417.0 L555.6,417.1 L555.8,417.2 L556.0,417.3 L556.2,417.4 L556.4,417.6 L556.6,417.7 L556.8,417.8 L557.0,417.9 L557.2,418.1 L557.4,418.2 L557.6,418.3 L557.8,418.4 L558.0,418.6 L558.2,418.7 L558.4,418.9 L558.6,419.0 L558.8,419.1 L559.0,419.3 L559.2,419.4 L559.4,419.6 L559.6,419.7 L559.8,419.8 L560.0,420.0 L560.2,420.1 L560.4,420.3 L560.6,420.4 L560.8,420.5 L561.0,420.7 L561.2,420.8 L561.4,420.9 L561.6,421.1 L561.8,421.2 L562.0,421.3 L562.2,421.4 L562.4,421.6 L562.6,421.7 L562.8,421.8 L563.0,421.9 L563.2,422.0 L563.4,422.1 L563.6,422.1 L563.8,422.2 L564.0,422.3 L564.2,422.4" stroke="#595959" stroke-width="2.0"/>
<path d="M341.4,506.0 L341.5,505.6 L341.6,505.1 L341.7,504.4 L341.9,503.7 L342.0,502.9 L342.2,502.0 L342.4,501.0 L342.5,499.9 L342.7,498.7 L342.9,497.4 L343.1,496.2 L343.3,495.0 L343.5,493.8 L343.7,492.7 L343.9,491.5 L344.1,490.3 L344.4,489.2 L344.6,488.0 L344.9,486.8 L345.1,485.6 L345.4,484.4 L345.7,483.2 L346.0,482.1 L346.3,481.0 L346.6,480.0 L346.8,479.2 L347.1,478.4 L347.4,477.5 L347.7,476.6 L348.2,475.5 L348.8,474.2 L349.5,472.7 L350.3,471.2 L351.1,469.6 L352.0,468.0 L352.9,466.5 L353.8,465.1 L354.8,463.7 L355.7,462.4 L356.8,461.0 L357.8,459.7 L358.9,458.5 L360.0,457.3 L361.2,456.2 L362.4,455.1 L363.6,454.0 L364.8,452.9 L366.1,451.8 L367.4,450.6 L368.7,449.5 L370.1,448.3 L371.5,447.0 L373.0,445.8 L374.5,444.5 L376.1,443.1 L377.9,441.6 L379.6,440.1 L381.5,438.7 L383.3,437.3 L385.0,436.0 L386.7,434.9 L388.4,433.9 L390.0,432.9 L391.7,432.1 L393.3,431.2 L395.0,430.5 L396.6,429.8 L398.1,429.2 L399.7,428.7 L401.3,428.2 L403.0,427.7 L405.0,427.3 L407.2,426.9 L409.4,426.5 L411.9,426.2 L414.4,425.9 L417.2,425.6 L420.0,425.4 L422.9,425.2 L425.9,425.1 L429.1,424.9 L432.4,424.9 L436.0,424.8 L440.0,424.7 L444.4,424.6 L449.3,424.6 L454.4,424.6 L459.6,424.5 L464.9,424.5 L470.0,424.5 L475.0,424.5 L480.0,424.5 L485.0,424.6 L490.0,424.6 L495.0,424.6 L500.0,424.6 L505.0,424.5 L509.8,424.4 L514.7,424.3 L519.7,424.2 L524.8,424.1 L530.0,424.0 L535.9,423.9 L542.4,423.8 L549.0,423.7 L555.2,423.6 L560.4,423.6 L564.2,423.5" stroke="#5F9ED1" stroke-width="2.0"/>
</g>
<rect x="330.3" y="355.7" width="244.1" height="147.65" fill="none" stroke="#000" stroke-width="1.3"/>
<line x1="341.40" y1="503.35" x2="341.40" y2="507.85" stroke="#000" stroke-width="1"/>
<line x1="415.37" y1="503.35" x2="415.37" y2="507.85" stroke="#000" stroke-width="1"/>
<line x1="489.33" y1="503.35" x2="489.33" y2="507.85" stroke="#000" stroke-width="1"/>
<line x1="563.30" y1="503.35" x2="563.30" y2="507.85" stroke="#000" stroke-width="1"/>
<line x1="325.8" y1="355.70" x2="330.3" y2="355.70" stroke="#000" stroke-width="1"/>
<line x1="325.8" y1="385.23" x2="330.3" y2="385.23" stroke="#000" stroke-width="1"/>
<line x1="325.8" y1="414.76" x2="330.3" y2="414.76" stroke="#000" stroke-width="1"/>
<line x1="325.8" y1="444.29" x2="330.3" y2="444.29" stroke="#000" stroke-width="1"/>
<line x1="325.8" y1="473.82" x2="330.3" y2="473.82" stroke="#000" stroke-width="1"/>
<line x1="325.8" y1="503.35" x2="330.3" y2="503.35" stroke="#000" stroke-width="1"/>
<text x="452.35" y="349.00" font-family='"Liberation Sans", sans-serif' font-size="13.6" text-anchor="middle" fill="#000">Saturn + moons 2</text>
<path d="M494.5,420.35 H574.4 V503.35 H492.5 V422.35 Q492.5,420.35 494.5,420.35 Z" fill="#fff" fill-opacity="0.8" stroke="#333" stroke-width="1.1"/>
<line x1="495.7" y1="429.05" x2="513.2" y2="429.05" stroke="#006BA4" stroke-width="2.1"/>
<text x="521.10" y="433.35" font-family='"Liberation Sans", sans-serif' font-size="12" fill="#000">Rhea</text>
<line x1="495.7" y1="445.05" x2="513.2" y2="445.05" stroke="#FF800E" stroke-width="2.1"/>
<text x="521.10" y="449.35" font-family='"Liberation Sans", sans-serif' font-size="12" fill="#000">Titan</text>
<line x1="495.7" y1="461.05" x2="513.2" y2="461.05" stroke="#ABABAB" stroke-width="2.1"/>
<text x="521.10" y="465.35" font-family='"Liberation Sans", sans-serif' font-size="12" fill="#000">Hyperion</text>
<line x1="495.7" y1="477.05" x2="513.2" y2="477.05" stroke="#595959" stroke-width="2.1"/>
<text x="521.10" y="481.35" font-family='"Liberation Sans", sans-serif' font-size="12" fill="#000">Iapetus</text>
<line x1="495.7" y1="493.05" x2="513.2" y2="493.05" stroke="#5F9ED1" stroke-width="2.1"/>
<text x="521.10" y="497.35" font-family='"Liberation Sans", sans-serif' font-size="12" fill="#000">Phoebe</text>
<defs><clipPath id="cp6"><rect x="61.7" y="525.6" width="244.1" height="147.65"/></clipPath></defs>
<g clip-path="url(#cp6)" fill="none" stroke-width="1.9" stroke-linejoin="round" stroke-linecap="square">
<path d="M78.5,676.0 L78.8,675.2 L79.2,674.1 L79.7,672.8 L80.2,671.4 L80.8,669.9 L81.6,668.5 L82.4,667.1 L83.4,665.6 L84.5,664.1 L85.6,662.6 L86.8,661.2 L88.0,659.9 L89.3,658.7 L90.6,657.5 L91.9,656.5 L93.4,655.5 L94.9,654.4 L96.7,653.4 L98.5,652.3 L100.6,651.2 L102.7,650.1 L105.0,649.0 L107.3,647.9 L109.6,646.9 L112.0,646.0 L114.4,645.0 L116.9,644.2 L119.4,643.3 L122.0,642.4 L124.7,641.5 L127.4,640.6 L130.3,639.7 L133.2,638.8 L136.1,637.9 L139.0,637.0 L141.9,636.1 L144.8,635.4 L147.5,634.6 L150.2,633.9 L153.0,633.3 L156.0,632.6 L159.2,631.8 L162.7,631.0 L166.4,630.2 L170.3,629.4 L174.3,628.5 L178.2,627.8 L182.0,627.1 L185.5,626.5 L188.9,626.1 L192.2,625.7 L195.6,625.3 L199.4,624.8 L203.6,624.3 L208.3,623.6 L213.5,623.0 L219.1,622.2 L224.7,621.5 L230.4,620.7 L235.9,620.0 L241.4,619.2 L246.9,618.5 L252.4,617.7 L257.9,617.0 L263.2,616.3 L268.3,615.7 L273.4,615.0 L278.6,614.4 L283.8,613.8 L288.4,613.2 L292.3,612.8 L295.2,612.4" stroke="#006BA4" stroke-width="2.0"/>
<path d="M73.0,635.7 L73.2,647.4 L73.2,680.0 L73.3,639.0 L73.5,631.2 L73.6,627.2 L73.8,624.5 L73.9,622.7 L74.0,621.2 L74.2,620.2 L74.3,619.4 L74.5,618.9 L74.7,618.6 L74.8,618.5 L75.0,618.3 L75.1,618.2 L75.2,618.1 L75.4,618.1 L75.5,618.2 L75.7,618.4 L75.8,618.8 L76.0,619.3 L76.2,620.0 L76.3,620.8 L76.5,621.8 L76.6,623.0 L76.8,624.4 L76.9,625.6 L77.0,626.4 L77.1,626.5 L77.2,626.1 L77.3,624.6 L77.5,622.7 L77.7,620.9 L77.8,619.5 L78.0,618.2 L78.1,617.2 L78.2,616.4 L78.4,615.8 L78.5,615.4 L78.7,615.1 L78.8,615.0 L79.0,615.1 L79.2,615.3 L79.3,615.8 L79.5,616.5 L79.6,617.4 L79.8,618.7 L79.9,620.4 L80.0,622.9 L80.2,626.5 L80.3,630.6 L80.4,631.1 L80.5,628.3 L80.7,623.1 L80.8,619.7 L81.0,617.4 L81.1,615.8 L81.2,614.7 L81.4,614.1 L81.5,613.7 L81.7,613.7 L81.8,614.0 L82.0,614.6 L82.2,615.7 L82.3,617.3 L82.5,619.6 L82.6,623.3 L82.8,629.8 L82.8,633.8 L82.9,631.0 L83.0,623.1 L83.2,618.9 L83.3,616.4 L83.5,614.8 L83.7,613.8 L83.8,613.3 L84.0,613.2 L84.1,613.6 L84.2,614.4 L84.4,615.7 L84.5,617.7 L84.7,620.4 L84.8,623.4 L84.9,624.0 L85.0,623.5 L85.2,621.1 L85.3,618.5 L85.5,616.5 L85.6,615.0 L85.8,614.0 L85.9,613.3 L86.0,612.9 L86.2,612.8 L86.3,613.0 L86.5,613.5 L86.7,614.3 L86.8,615.5 L87.0,617.2 L87.1,619.6 L87.2,622.6 L87.4,624.5 L87.4,624.5 L87.5,623.1 L87.7,620.4 L87.8,618.1 L88.0,616.2 L88.2,614.8 L88.3,613.8 L88.5,613.0 L88.6,612.5 L88.8,612.3 L88.9,612.2 L89.0,612.4 L89.2,612.8 L89.3,613.5 L89.5,614.5 L89.7,615.9 L89.8,617.9 L90.0,620.6 L90.1,624.5 L90.2,628.7 L90.3,628.8 L90.4,625.0 L90.5,620.2 L90.7,617.1 L90.8,615.1 L91.0,613.6 L91.2,612.7 L91.3,612.1 L91.5,611.9 L91.6,611.9 L91.8,612.3 L91.9,613.1 L92.0,614.3 L92.2,616.0 L92.3,618.4 L92.5,621.7 L92.7,625.1 L92.7,625.4 L92.8,623.3 L93.0,619.2 L93.1,616.2 L93.2,614.2 L93.4,612.9 L93.5,612.1 L93.7,611.7 L93.8,611.7 L94.0,612.1 L94.2,613.0 L94.3,614.4 L94.5,616.6 L94.6,620.2 L94.8,627.4 L94.8,636.4 L94.9,634.0 L95.0,625.3 L95.2,620.8 L95.3,618.0 L95.5,615.9 L95.7,614.5 L95.8,613.4 L96.0,612.5 L96.1,611.9 L96.2,611.6 L96.4,611.4 L96.5,611.4 L96.7,611.5 L96.8,611.9 L97.0,612.5 L97.2,613.3 L97.3,614.4 L97.5,615.8 L97.6,617.7 L97.8,620.2 L97.9,623.7 L98.0,626.9 L98.1,627.0 L98.2,625.0 L98.3,621.1 L98.5,618.2 L98.7,616.0 L98.8,614.4 L99.0,613.2 L99.1,612.3 L99.2,611.7 L99.4,611.3 L99.5,611.1 L99.7,611.1 L99.8,611.2 L100.0,611.6 L100.2,612.3 L100.3,613.2 L100.5,614.4 L100.6,616.0 L100.8,618.2 L100.9,621.1 L101.0,624.7 L101.2,626.1 L101.2,625.8 L101.3,622.4 L101.5,619.1 L101.7,616.6 L101.8,614.8 L102.0,613.5 L102.1,612.5 L102.2,611.8 L102.4,611.3 L102.5,611.0 L102.7,611.0 L102.8,611.2 L103.0,611.5 L103.2,612.1 L103.3,613.0 L103.5,614.1 L103.6,615.6 L103.8,617.7 L103.9,620.3 L104.0,623.2 L104.2,624.3 L104.2,624.1 L104.3,621.3 L104.5,618.2 L104.7,615.9 L104.8,614.1 L105.0,612.9 L105.1,612.0 L105.2,611.4 L105.4,611.1 L105.5,611.0 L105.7,611.2 L105.8,611.7 L106.0,612.4 L106.2,613.5 L106.3,615.1 L106.5,617.3 L106.6,620.5 L106.8,625.5 L106.9,628.8 L106.9,628.5 L107.0,624.0 L107.2,620.1 L107.3,617.4 L107.5,615.5 L107.7,614.0 L107.8,612.9 L108.0,612.1 L108.1,611.5 L108.2,611.2 L108.4,611.0 L108.5,611.0 L108.7,611.2 L108.8,611.7 L109.0,612.3 L109.2,613.2 L109.3,614.4 L109.5,616.0 L109.6,618.2 L109.8,621.5 L109.9,627.2 L110.0,638.5 L110.0,638.3 L110.2,622.0 L110.3,616.6 L110.5,613.7 L110.7,612.1 L110.8,611.3 L111.0,611.9 L111.1,613.0 L111.2,614.5 L111.4,616.9 L111.5,620.6 L111.7,628.0 L111.8,638.7 L112.4,612.0 L112.4,611.6 L112.4,611.1 L112.5,610.5 L112.5,609.9 L112.5,609.2 L112.6,608.4 L112.6,607.6 L112.7,606.8 L112.8,605.9 L112.9,605.0 L113.0,604.1 L113.1,603.0 L113.3,601.9 L113.4,600.8 L113.6,599.6 L113.7,598.4 L113.9,597.2 L114.2,596.1 L114.4,595.0 L114.7,594.0 L115.0,593.0 L115.3,592.1 L115.7,591.2 L116.1,590.4 L116.5,589.5 L116.9,588.7 L117.4,587.9 L117.8,587.1 L118.4,586.4 L118.9,585.6 L119.5,584.8 L120.0,584.1 L120.6,583.4 L121.2,582.7 L121.8,582.0 L122.5,581.3 L123.2,580.6 L124.0,580.0 L124.9,579.3 L125.9,578.6 L127.0,577.9 L128.1,577.2 L129.3,576.5 L130.6,575.8 L132.0,575.1 L133.4,574.4 L134.9,573.7 L136.5,573.0 L138.1,572.4 L139.8,571.7 L141.6,571.0 L143.5,570.4 L145.4,569.7 L147.5,569.1 L149.5,568.4 L151.7,567.8 L153.9,567.2 L156.1,566.6 L158.3,566.0 L160.6,565.4 L162.9,564.9 L165.3,564.3 L167.8,563.8 L170.4,563.3 L172.9,562.8 L175.5,562.3 L178.0,561.9 L180.4,561.4 L182.8,561.0 L185.0,560.6 L187.1,560.2 L189.0,559.9 L190.9,559.6 L192.7,559.3 L194.5,559.0 L196.2,558.7 L198.0,558.4 L199.8,558.1 L201.6,557.8 L203.6,557.5 L205.6,557.2 L207.7,556.8 L209.8,556.5 L212.0,556.1 L214.2,555.7 L216.4,555.4 L218.6,555.0 L220.7,554.7 L222.9,554.3 L225.1,554.0 L227.3,553.7 L229.4,553.4 L231.6,553.1 L233.7,552.8 L235.9,552.5 L238.1,552.3 L240.2,552.0 L242.4,551.7 L244.5,551.5 L246.7,551.2 L248.8,550.9 L250.9,550.7 L253.0,550.4 L255.1,550.1 L257.2,549.9 L259.3,549.6 L261.4,549.4 L263.6,549.1 L265.9,548.9 L268.3,548.6 L270.9,548.3 L273.8,548.1 L276.8,547.8 L280.0,547.5 L283.1,547.2 L286.1,547.0 L288.9,546.7 L291.5,546.5 L293.6,546.3 L295.2,546.2" stroke="#FF800E" stroke-width="2.0"/>
<path d="M73.1,635.2 L73.2,646.8 L73.3,680.0 L73.4,640.9 L73.5,633.0 L73.7,629.0 L73.8,626.3 L74.0,624.4 L74.2,623.0 L74.3,621.9 L74.5,621.1 L74.6,620.6 L74.8,620.3 L74.9,620.2 L75.0,620.3 L75.2,620.7 L75.3,621.3 L75.5,622.2 L75.7,623.6 L75.8,625.5 L76.0,628.2 L76.1,632.2 L76.2,636.0 L76.3,636.0 L76.4,632.1 L76.5,627.5 L76.7,624.4 L76.8,622.2 L77.0,620.5 L77.2,619.3 L77.3,618.4 L77.5,617.8 L77.6,617.4 L77.8,617.3 L77.9,617.4 L78.0,617.8 L78.2,618.4 L78.3,619.4 L78.5,620.9 L78.7,623.0 L78.8,626.4 L79.0,632.6 L79.1,642.2 L79.1,641.0 L79.2,630.5 L79.4,625.4 L79.5,622.2 L79.7,620.0 L79.8,618.3 L80.0,617.0 L80.2,616.1 L80.3,615.5 L80.5,615.1 L80.6,614.8 L80.8,614.8 L80.9,614.9 L81.0,615.3 L81.2,615.8 L81.3,616.6 L81.5,617.6 L81.7,619.1 L81.8,621.0 L82.0,623.7 L82.1,627.7 L82.2,632.2 L82.3,632.5 L82.4,614.9 L82.5,620.7 L82.6,653.3 L82.7,634.7 L82.8,626.9 L83.0,623.0 L83.2,620.4 L83.3,618.5 L83.5,617.1 L83.6,616.0 L83.8,615.1 L83.9,614.5 L84.0,614.1 L84.2,613.8 L84.3,613.7 L84.5,613.7 L84.7,613.9 L84.8,614.3 L85.0,614.8 L85.1,615.6 L85.2,616.5 L85.4,617.8 L85.5,619.4 L85.7,621.4 L85.8,623.8 L86.0,625.9 L86.1,626.2 L86.2,625.7 L86.3,623.6 L86.5,621.2 L86.6,619.2 L86.8,617.5 L86.9,616.2 L87.0,615.2 L87.2,614.3 L87.3,613.7 L87.5,613.2 L87.7,612.9 L87.8,612.7 L88.0,612.6 L88.1,612.7 L88.2,613.0 L88.4,613.4 L88.5,613.9 L88.7,614.7 L88.8,615.7 L89.0,617.0 L89.2,618.6 L89.3,620.9 L89.5,623.9 L89.6,627.4 L89.7,628.5 L89.8,628.0 L89.9,624.2 L90.0,620.8 L90.2,618.3 L90.3,616.4 L90.5,615.0 L90.7,613.9 L90.8,613.1 L91.0,612.5 L91.1,612.1 L91.2,611.9 L91.4,611.9 L91.5,612.0 L91.7,612.3 L91.8,612.8 L92.0,613.5 L92.2,614.5 L92.3,615.8 L92.5,617.5 L92.6,620.0 L92.8,623.6 L92.9,630.5 L93.0,641.2 L93.0,638.0 L93.2,626.9 L93.3,622.1 L93.5,619.1 L93.7,617.0 L93.8,615.4 L94.0,614.2 L94.1,613.3 L94.2,612.6 L94.4,612.1 L94.5,611.7 L94.7,611.6 L94.8,611.5 L95.0,611.6 L95.2,611.9 L95.3,612.4 L95.5,613.0 L95.6,613.8 L95.8,614.9 L95.9,616.4 L96.0,618.3 L96.2,620.9 L96.3,624.8 L96.5,630.5 L96.6,632.0 L96.7,629.7 L96.8,624.1 L97.0,620.4 L97.1,617.9 L97.2,616.0 L97.4,614.6 L97.5,613.5 L97.7,612.7 L97.8,612.0 L98.0,611.6 L98.2,611.3 L98.3,611.2 L98.5,611.2 L98.6,611.3 L98.8,611.6 L98.9,612.0 L99.0,612.5 L99.2,613.2 L99.3,614.0 L99.5,615.0 L99.7,616.1 L99.8,617.1 L100.0,618.0 L100.1,618.4 L100.1,618.4 L100.2,617.9 L100.4,616.8 L100.5,615.4 L100.7,614.1 L100.8,613.0 L101.0,612.1 L101.2,611.5 L101.3,611.0 L101.5,610.8 L101.6,610.8 L101.8,610.9 L101.9,611.3 L102.0,612.0 L102.2,613.0 L102.3,614.4 L102.5,616.4 L102.7,619.2 L102.8,624.0 L103.0,634.7 L103.0,637.1 L103.1,627.8 L103.2,621.1 L103.4,617.5 L103.5,615.1 L103.7,613.4 L103.8,612.1 L104.0,611.3 L104.2,610.7 L104.3,610.4 L104.5,610.3 L104.6,610.2 L104.8,610.2 L104.9,610.2 L105.0,610.2 L105.2,610.1 L105.3,610.1 L105.5,610.1 L105.7,610.1 L105.8,610.0 L106.0,610.0 L107.1,607.9 L107.3,607.4 L107.5,606.8 L107.7,606.0 L108.0,605.1 L108.3,604.2 L108.7,603.3 L109.1,602.3 L109.5,601.3 L110.0,600.4 L110.6,599.5 L111.2,598.7 L111.9,597.8 L112.6,597.0 L113.3,596.2 L114.1,595.4 L114.9,594.5 L115.8,593.7 L116.8,592.9 L117.8,592.0 L118.9,591.2 L120.0,590.4 L121.2,589.5 L122.4,588.7 L123.7,587.9 L125.1,587.1 L126.5,586.3 L127.9,585.4 L129.5,584.6 L131.1,583.7 L132.8,582.8 L134.6,581.9 L136.4,580.9 L138.2,580.0 L140.2,579.0 L142.2,578.0 L144.3,577.0 L146.4,576.0 L148.7,575.0 L151.2,574.1 L153.7,573.1 L156.5,572.1 L159.5,571.2 L162.7,570.2 L166.1,569.2 L169.5,568.2 L172.9,567.2 L176.2,566.3 L179.4,565.5 L182.3,564.7 L185.0,564.0 L187.4,563.4 L189.5,562.9 L191.4,562.5 L193.2,562.1 L194.9,561.8 L196.6,561.5 L198.2,561.2 L199.9,560.9 L201.7,560.6 L203.6,560.2 L205.6,559.8 L207.7,559.4 L209.8,559.0 L212.0,558.5 L214.2,558.1 L216.4,557.7 L218.6,557.2 L220.7,556.8 L222.9,556.4 L225.1,556.0 L227.3,555.6 L229.4,555.2 L231.6,554.9 L233.7,554.5 L235.9,554.1 L238.1,553.8 L240.2,553.4 L242.4,553.1 L244.5,552.7 L246.7,552.4 L248.8,552.1 L250.9,551.7 L253.0,551.4 L255.1,551.1 L257.2,550.8 L259.3,550.5 L261.4,550.1 L263.6,549.9 L265.9,549.6 L268.3,549.3 L270.9,549.0 L273.8,548.8 L276.8,548.5 L280.0,548.2 L283.1,548.0 L286.1,547.8 L288.9,547.6 L291.5,547.4 L293.6,547.2 L295.2,547.1" stroke="#ABABAB" stroke-width="2.0"/>
<path d="M73.3,638.6 L73.5,680.0 L73.7,637.7 L73.9,631.7 L74.1,628.3 L74.3,626.1 L74.5,624.6 L74.7,623.5 L74.9,622.9 L75.1,622.7 L75.3,622.6 L75.5,623.0 L75.7,623.6 L75.9,624.8 L76.1,626.6 L76.3,629.4 L76.5,633.5 L76.7,636.1 L76.7,635.8 L76.9,629.6 L77.1,625.1 L77.3,622.5 L77.5,620.9 L77.7,620.0 L77.9,619.8 L78.1,620.3 L78.3,621.4 L78.5,623.2 L78.7,626.0 L78.9,628.1 L78.9,628.1 L79.1,626.9 L79.3,624.3 L79.5,622.0 L79.7,620.2 L79.9,619.0 L80.1,618.2 L80.3,617.8 L80.5,617.8 L80.7,618.3 L80.9,619.3 L81.1,620.9 L81.3,623.6 L81.5,628.2 L81.7,636.3 L81.7,636.7 L81.9,629.8 L82.1,624.0 L82.3,620.7 L82.5,618.6 L82.7,617.3 L82.9,616.5 L83.1,616.2 L83.3,616.3 L83.5,616.9 L83.7,618.1 L83.9,620.0 L84.1,623.0 L84.3,627.7 L84.5,630.8 L84.5,630.3 L84.7,624.0 L84.9,619.8 L85.1,617.3 L85.3,615.8 L85.5,615.1 L85.7,615.0 L85.9,615.5 L86.1,616.6 L86.3,618.4 L86.5,621.0 L86.7,622.9 L86.7,623.0 L86.9,622.3 L87.1,620.5 L87.3,618.6 L87.5,617.0 L87.7,615.7 L87.9,614.8 L88.1,614.2 L88.3,613.8 L88.5,613.7 L88.7,613.9 L88.9,614.4 L89.1,615.2 L89.3,616.5 L89.5,618.4 L89.7,621.2 L89.9,625.2 L90.1,628.5 L90.1,628.4 L90.3,624.8 L90.5,620.7 L90.7,617.8 L90.9,615.8 L91.1,614.3 L91.3,613.3 L91.5,612.6 L91.7,612.3 L91.9,612.2 L92.1,612.4 L92.3,612.9 L92.5,613.8 L92.7,615.0 L92.9,616.9 L93.1,619.5 L93.3,623.0 L93.5,625.4 L93.5,625.4 L93.7,621.9 L93.9,618.0 L94.1,615.3 L94.3,613.4 L94.5,612.1 L94.7,611.3 L94.9,610.9 L95.1,610.8 L95.3,611.1 L95.5,611.8 L95.7,612.9 L95.9,614.5 L96.1,616.6 L96.3,619.0 L96.5,620.0 L96.5,619.9 L96.7,617.6 L96.9,614.7 L97.1,612.5 L97.3,611.0 L97.5,610.1 L97.7,609.8 L97.9,609.9 L98.1,610.4 L98.3,611.5 L98.5,613.0 L98.7,614.9 L98.9,616.4 L99.0,616.5 L99.1,616.0 L99.3,614.0 L99.5,612.0 L99.7,610.5 L99.9,609.5 L100.1,609.0 L100.3,609.0 L100.5,609.6 L100.7,610.9 L100.9,613.1 L101.1,616.8 L101.3,622.4 L101.4,623.5 L101.5,621.8 L101.7,617.3 L101.9,614.0 L102.1,611.8 L102.3,610.2 L102.5,609.2 L102.7,608.5 L102.9,608.2 L103.1,608.2 L103.3,608.6 L103.5,609.4 L103.7,610.6 L103.9,612.4 L104.1,615.1 L104.3,619.7 L104.5,628.0 L104.5,628.8 L104.7,622.7 L104.9,616.8 L105.1,613.3 L105.3,611.1 L105.5,609.6 L105.7,608.5 L105.9,607.9 L106.1,607.6 L106.3,607.6 L106.5,607.9 L106.7,608.6 L106.9,609.7 L107.1,611.4 L107.3,613.9 L107.5,617.9 L107.7,625.6 L107.8,629.8 L107.9,625.5 L108.1,618.0 L108.3,614.1 L108.5,611.5 L108.7,609.8 L108.9,608.5 L109.1,607.7 L109.3,607.2 L109.5,607.1 L109.7,607.1 L109.9,607.4 L110.1,608.0 L110.3,608.8 L110.5,609.8 L110.7,611.0 L110.9,612.3 L111.1,613.2 L111.2,613.4 L111.3,613.3 L111.5,612.6 L111.7,611.5 L111.9,610.2 L112.1,609.1 L112.3,608.3 L112.5,607.6 L112.7,607.1 L112.9,606.8 L113.1,606.7 L113.3,606.9 L113.5,607.2 L113.7,607.9 L113.9,608.9 L114.1,610.3 L114.3,612.2 L114.5,614.8 L114.7,618.6 L114.9,622.1 L114.9,622.1 L115.1,618.5 L115.3,613.9 L115.5,610.9 L115.7,608.9 L115.9,607.6 L116.1,606.9 L116.3,606.5 L116.5,606.6 L116.7,607.0 L116.9,607.7 L117.1,608.9 L117.3,610.4 L117.5,612.3 L117.7,613.8 L117.8,614.1 L117.9,613.8 L118.1,611.8 L118.3,609.6 L118.5,608.0 L118.7,606.9 L118.9,606.4 L119.1,606.4 L119.3,606.9 L119.5,608.0 L119.7,609.5 L119.9,611.6 L120.1,613.3 L120.2,613.5 L120.3,612.4 L120.5,609.0 L120.7,606.9 L120.9,606.3 L121.1,607.2 L121.3,610.3 L121.5,618.3 L121.6,625.4 L121.7,614.6 L121.9,607.1 L122.1,606.5 L122.3,611.7 L122.5,626.8 L122.5,625.3 L122.7,616.6 L122.9,612.2 L123.1,609.5 L123.3,607.8 L123.5,606.8 L123.7,606.2 L123.9,606.1 L124.1,606.5 L124.3,607.3 L124.5,608.7 L124.7,611.0 L124.9,614.6 L125.1,621.4 L125.2,626.2 L125.3,624.5 L125.5,617.9 L125.7,613.8 L125.9,611.2 L126.1,609.3 L126.3,608.0 L126.5,607.0 L126.7,606.3 L126.9,605.9 L127.1,605.8 L127.3,605.8 L127.5,606.1 L127.7,606.6 L127.9,607.5 L128.1,608.7 L128.3,610.4 L128.5,612.9 L128.7,616.9 L128.9,624.5 L129.0,629.0 L129.1,628.8 L129.3,627.7 L129.5,626.1 L129.7,624.5 L129.9,622.9 L130.1,621.5 L130.3,620.2 L130.5,619.1 L130.7,618.0 L130.9,617.1 L131.1,616.2 L131.3,615.4 L131.5,614.6 L131.7,613.9 L131.9,613.2 L132.1,612.6 L132.3,612.0 L132.5,611.5 L132.7,610.9 L132.9,610.4 L133.1,609.9 L133.3,609.4 L133.5,609.0 L133.7,608.6 L133.9,608.1 L134.1,607.7 L134.3,607.4 L134.5,607.0 L134.7,606.6 L134.9,606.3 L135.1,605.9 L135.3,605.6 L135.5,605.3 L135.7,605.0 L135.9,604.7 L136.1,604.4 L136.3,604.1 L136.5,603.9 L136.7,603.6 L136.9,603.4 L137.1,603.1 L137.3,602.9 L137.5,602.7 L137.7,602.5 L137.9,602.3 L138.1,602.0 L138.3,601.9 L138.5,601.7 L138.7,601.5 L138.9,601.3 L139.1,601.2 L139.3,601.0 L139.5,600.9 L139.7,600.7 L139.9,600.6 L140.1,600.4 L140.3,600.3 L140.5,600.2 L140.7,600.1 L140.9,600.0 L141.1,599.9 L141.3,599.8 L141.5,599.7 L141.7,599.6 L141.9,599.5 L142.1,599.5 L142.3,599.4 L142.5,599.3 L142.7,599.3 L142.9,599.2 L143.1,599.2 L143.3,599.2 L143.5,599.1 L143.7,599.1 L143.9,599.0 L144.1,599.0 L144.3,599.0 L144.5,599.0 L144.7,598.9 L144.9,598.9 L145.1,598.9 L145.3,598.8 L145.5,598.8 L145.7,598.8 L145.9,598.8 L146.1,598.7 L146.3,598.7 L146.5,598.7 L146.7,598.7 L146.9,598.6 L147.1,598.6 L147.3,598.6 L147.5,598.6 L147.7,598.6 L147.9,598.5 L148.1,598.5 L148.3,598.5 L148.5,598.5 L148.7,598.5 L148.9,598.5 L149.1,598.5 L149.3,598.5 L149.5,598.5 L149.7,598.4 L149.9,598.4 L150.1,598.4 L150.3,598.4 L150.5,598.4 L150.7,598.4 L150.9,598.4 L151.1,598.4 L151.3,598.4 L151.5,598.4 L151.7,598.4 L151.9,598.4 L152.1,598.4 L152.3,598.4 L152.5,598.4 L152.7,598.4 L152.9,598.4 L153.1,598.4 L153.3,598.4 L153.5,598.4 L153.7,598.4 L153.9,598.4 L154.1,598.4 L154.3,598.4 L154.5,598.4 L154.7,598.4 L154.9,598.4 L155.1,598.4 L155.3,598.4 L155.5,598.5 L155.7,598.5 L155.9,598.5 L156.1,598.5 L156.3,598.5 L156.5,598.5 L156.7,598.5 L156.9,598.5 L157.1,598.5 L157.3,598.5 L157.5,598.5 L157.7,598.6 L157.9,598.6 L158.1,598.6 L158.3,598.6 L158.5,598.6 L158.7,598.6 L158.9,598.6 L159.1,598.6 L159.3,598.7 L159.5,598.7 L159.7,598.7 L159.9,598.7 L160.1,598.7 L160.3,598.7 L160.5,598.7 L160.7,598.8 L160.9,598.8 L161.1,598.8 L161.3,598.8 L161.5,598.8 L161.7,598.8 L161.9,598.8 L162.1,598.8 L162.3,598.9 L162.5,598.9 L162.7,598.9 L162.9,598.9 L163.1,598.9 L163.3,598.9 L163.5,598.9 L163.7,598.9 L163.9,598.9 L164.1,599.0 L164.3,599.0 L164.5,599.0 L164.7,599.0 L164.9,599.0 L165.1,599.0 L165.3,599.0 L165.5,599.0 L165.7,599.0 L165.9,599.0 L166.1,599.0 L166.3,599.1 L166.5,599.1 L166.7,599.1 L166.9,599.1 L167.1,599.1 L167.3,599.1 L167.5,599.1 L167.7,599.1 L167.9,599.1 L168.1,599.1 L168.3,599.1 L168.5,599.2 L168.7,599.2 L168.9,599.2 L169.1,599.2 L169.3,599.2 L169.5,599.2 L169.7,599.2 L169.9,599.2 L170.1,599.2 L170.3,599.2 L170.5,599.3 L170.7,599.3 L170.9,599.3 L171.1,599.3 L171.3,599.3 L171.5,599.3 L171.7,599.3 L171.9,599.3 L172.1,599.3 L172.3,599.3 L172.5,599.4 L172.7,599.4 L172.9,599.4 L173.1,599.4 L173.3,599.4 L173.5,599.4 L173.7,599.4 L173.9,599.4 L174.1,599.4 L174.3,599.4 L174.5,599.5 L174.7,599.5 L174.9,599.5 L175.1,599.5 L175.3,599.5 L175.5,599.5 L175.7,599.5 L175.9,599.5 L176.1,599.5 L176.3,599.5 L176.5,599.5 L176.7,599.6 L176.9,599.6 L177.1,599.6 L177.3,599.6 L177.5,599.6 L177.7,599.6 L177.9,599.6 L178.1,599.6 L178.3,599.6 L178.5,599.6 L178.7,599.7 L178.9,599.7 L179.1,599.7 L179.3,599.7 L179.5,599.7 L179.7,599.7 L179.9,599.7 L180.1,599.7 L180.3,599.8 L180.5,599.8 L180.7,599.8 L180.9,599.8 L181.1,599.8 L181.3,599.8 L181.5,599.8 L181.7,599.8 L181.9,599.9 L182.1,599.9 L182.3,599.9 L182.5,599.9 L182.7,599.9 L182.9,599.9 L183.1,599.9 L183.3,600.0 L183.5,600.0 L183.7,600.0 L183.9,600.0 L184.1,600.0 L184.3,600.0 L184.5,600.1 L184.7,600.1 L184.9,600.1 L185.1,600.1 L185.3,600.2 L185.5,600.2 L185.7,600.3 L185.9,600.3 L186.1,600.4 L186.3,600.4 L186.5,600.5 L186.7,600.6 L186.9,600.8 L187.1,600.9 L187.3,601.0 L187.5,601.0 L187.7,601.0 L187.9,601.1 L188.1,601.0 L188.3,601.0 L188.5,601.0 L188.7,601.1 L188.9,601.1 L189.1,601.2 L189.3,601.4 L189.5,601.6 L189.7,601.8 L189.9,602.0 L190.1,602.4 L190.3,602.7 L190.5,603.1 L190.7,603.6 L190.9,604.1 L191.1,604.7 L191.3,605.4 L191.5,606.2 L191.7,607.1 L191.9,608.2 L192.1,609.5 L192.3,611.0 L192.5,613.0 L192.7,615.6 L192.9,619.2 L193.1,624.1 L193.2,625.4 L193.3,624.0 L193.5,619.0 L193.7,615.2 L193.9,612.5 L194.1,610.4 L194.3,608.7 L194.5,607.3 L194.7,606.1 L194.9,605.1 L195.1,604.1 L195.3,603.3 L195.5,602.5 L195.7,601.9 L195.9,601.3 L196.1,600.7 L196.3,600.2 L196.5,599.7 L196.7,599.3 L196.9,598.9 L197.1,598.5 L197.3,598.1 L197.5,597.8 L197.7,597.5 L197.9,597.2 L198.1,597.0 L198.3,596.7 L198.5,596.4 L198.7,596.2 L198.9,595.9 L199.1,595.5 L199.3,595.2 L199.5,594.9 L199.7,594.6 L199.9,594.2 L200.1,593.9 L200.3,593.5 L200.5,593.1 L200.7,592.8 L200.9,592.4 L201.1,592.1 L201.3,591.8 L201.5,591.4 L201.7,591.1 L201.9,590.8 L202.1,590.5 L202.3,590.2 L202.5,590.0 L202.7,589.7 L202.9,589.5 L203.1,589.3 L203.3,589.0 L203.5,588.8 L203.7,588.6 L203.9,588.4 L204.1,588.2 L204.3,588.0 L204.5,587.9 L204.7,587.7 L204.9,587.5 L205.1,587.3 L205.3,587.1 L205.5,587.0 L205.7,586.8 L205.9,586.6 L206.1,586.5 L206.3,586.3 L206.5,586.1 L206.7,586.0 L206.9,585.8 L207.1,585.6 L207.3,585.5 L207.5,585.3 L207.7,585.2 L207.9,585.0 L208.1,584.9 L208.3,584.7 L208.5,584.6 L208.7,584.4 L208.9,584.3 L209.1,584.2 L209.3,584.0 L209.5,583.9 L209.7,583.8 L209.9,583.6 L210.1,583.5 L210.3,583.3 L210.5,583.2 L210.7,583.1 L210.9,583.0 L211.1,582.8 L211.3,582.7 L211.5,582.6 L211.7,582.5 L211.9,582.4 L212.1,582.2 L212.3,582.1 L212.5,582.0 L212.7,581.9 L212.9,581.8 L213.1,581.7 L213.3,581.6 L213.5,581.5 L213.7,581.4 L213.9,581.3 L214.1,581.2 L214.3,581.1 L214.5,581.0 L214.7,580.9 L214.9,580.9 L215.1,580.8 L215.3,580.7 L215.5,580.6 L215.7,580.6 L215.9,580.5 L216.1,580.5 L216.3,580.4 L216.5,580.4 L216.7,580.3 L216.9,580.3 L217.1,580.2 L217.3,580.2 L217.5,580.2 L217.7,580.1 L217.9,580.1 L218.1,580.1 L218.3,580.1 L218.5,580.0 L218.7,580.0 L218.9,580.0 L219.1,580.0 L219.3,580.0 L219.5,579.9 L219.7,579.9 L219.9,579.9 L220.1,579.9 L220.3,579.9 L220.5,579.8 L220.7,579.8 L220.9,579.8 L221.1,579.8 L221.3,579.8 L221.5,579.7 L221.7,579.7 L221.9,579.7 L222.1,579.6 L222.3,579.6 L222.5,579.6 L222.7,579.5 L222.9,579.5 L223.1,579.5 L223.3,579.4 L223.5,579.4 L223.7,579.3 L223.9,579.3 L224.1,579.2 L224.3,579.2 L224.5,579.1 L224.7,579.1 L224.9,579.0 L225.1,579.0 L225.3,578.9 L225.5,578.9 L225.7,578.8 L225.9,578.8 L226.1,578.7 L226.3,578.7 L226.5,578.6 L226.7,578.5 L226.9,578.5 L227.1,578.4 L227.3,578.4 L227.5,578.3 L227.7,578.3 L227.9,578.2 L228.1,578.1 L228.3,578.1 L228.5,578.0 L228.7,578.0 L228.9,577.9 L229.1,577.8 L229.3,577.8 L229.5,577.7 L229.7,577.6 L229.9,577.6 L230.1,577.5 L230.3,577.5 L230.5,577.4 L230.7,577.3 L230.9,577.3 L231.1,577.2 L231.3,577.1 L231.5,577.1 L231.7,577.0 L231.9,577.0 L232.1,576.9 L232.3,576.8 L232.5,576.8 L232.7,576.7 L232.9,576.6 L233.1,576.6 L233.3,576.5 L233.5,576.4 L233.7,576.4 L233.9,576.3 L234.1,576.2 L234.3,576.2 L234.5,576.1 L234.7,576.1 L234.9,576.0 L235.1,575.9 L235.3,575.9 L235.5,575.8 L235.7,575.7 L235.9,575.7 L236.1,575.6 L236.3,575.5 L236.5,575.5 L236.7,575.4 L236.9,575.4 L237.1,575.3 L237.3,575.2 L237.5,575.2 L237.7,575.1 L237.9,575.0 L238.1,575.0 L238.3,574.9 L238.5,574.9 L238.7,574.8 L238.9,574.7 L239.1,574.7 L239.3,574.6 L239.5,574.5 L239.7,574.5 L239.9,574.4 L240.1,574.4 L240.3,574.3 L240.5,574.2 L240.7,574.2 L240.9,574.1 L241.1,574.1 L241.3,574.0 L241.5,573.9 L241.7,573.9 L241.9,573.8 L242.1,573.8 L242.3,573.7 L242.5,573.6 L242.7,573.6 L242.9,573.5 L243.1,573.5 L243.3,573.4 L243.5,573.4 L243.7,573.3 L243.9,573.2 L244.1,573.2 L244.3,573.1 L244.5,573.1 L244.7,573.0 L244.9,573.0 L245.1,572.9 L245.3,572.9 L245.5,572.8 L245.7,572.8 L245.9,572.7 L246.1,572.7 L246.3,572.6 L246.5,572.5 L246.7,572.5 L246.9,572.5 L247.1,572.4 L247.3,572.4 L247.5,572.3 L247.7,572.3 L247.9,572.2 L248.1,572.2 L248.3,572.1 L248.5,572.1 L248.7,572.0 L248.9,572.0 L249.1,571.9 L249.3,571.9 L249.5,571.8 L249.7,571.8 L249.9,571.7 L250.1,571.7 L250.3,571.6 L250.5,571.6 L250.7,571.6 L250.9,571.5 L251.1,571.5 L251.3,571.4 L251.5,571.4 L251.7,571.3 L251.9,571.3 L252.1,571.2 L252.3,571.2 L252.5,571.2 L252.7,571.1 L252.9,571.1 L253.1,571.0 L253.3,571.0 L253.5,571.0 L253.7,570.9 L253.9,570.9 L254.1,570.8 L254.3,570.8 L254.5,570.8 L254.7,570.7 L254.9,570.7 L255.1,570.6 L255.3,570.6 L255.5,570.6 L255.7,570.5 L255.9,570.5 L256.1,570.5 L256.3,570.4 L256.5,570.4 L256.7,570.3 L256.9,570.3 L257.1,570.2 L257.3,570.2 L257.5,570.2 L257.7,570.1 L257.9,570.1 L258.1,570.1 L258.3,570.0 L258.5,570.0 L258.7,570.0 L258.9,569.9 L259.1,569.9 L259.3,569.8 L259.5,569.8 L259.7,569.8 L259.9,569.7 L260.1,569.7 L260.3,569.7 L260.5,569.6 L260.7,569.6 L260.9,569.5 L261.1,569.5 L261.3,569.5 L261.5,569.4 L261.7,569.4 L261.9,569.4 L262.1,569.3 L262.3,569.3 L262.5,569.3 L262.7,569.2 L262.9,569.2 L263.1,569.1 L263.3,569.1 L263.5,569.1 L263.7,569.0 L263.9,569.0 L264.1,569.0 L264.3,568.9 L264.5,568.9 L264.7,568.9 L264.9,568.8 L265.1,568.8 L265.3,568.8 L265.5,568.7 L265.7,568.7 L265.9,568.6 L266.1,568.6 L266.3,568.6 L266.5,568.5 L266.7,568.5 L266.9,568.5 L267.1,568.4 L267.3,568.4 L267.5,568.4 L267.7,568.3 L267.9,568.3 L268.1,568.2 L268.3,568.2 L268.5,568.2 L268.7,568.1 L268.9,568.1 L269.1,568.0 L269.3,568.0 L269.5,568.0 L269.7,567.9 L269.9,567.9 L270.1,567.9 L270.3,567.8 L270.5,567.8 L270.7,567.8 L270.9,567.7 L271.1,567.7 L271.3,567.6 L271.5,567.6 L271.7,567.6 L271.9,567.5 L272.1,567.5 L272.3,567.5 L272.5,567.4 L272.7,567.4 L272.9,567.4 L273.1,567.3 L273.3,567.3 L273.5,567.3 L273.7,567.2 L273.9,567.2 L274.1,567.1 L274.3,567.1 L274.5,567.1 L274.7,567.0 L274.9,567.0 L275.1,567.0 L275.3,566.9 L275.5,566.9 L275.7,566.9 L275.9,566.8 L276.1,566.8 L276.3,566.8 L276.5,566.7 L276.7,566.7 L276.9,566.7 L277.1,566.6 L277.3,566.6 L277.5,566.5 L277.7,566.5 L277.9,566.5 L278.1,566.5 L278.3,566.4 L278.5,566.4 L278.7,566.3 L278.9,566.3 L279.1,566.3 L279.3,566.2 L279.5,566.2 L279.7,566.2 L279.9,566.1 L280.1,566.1 L280.3,566.1 L280.5,566.0 L280.7,566.0 L280.9,566.0 L281.1,565.9 L281.3,565.9 L281.5,565.9 L281.7,565.8 L281.9,565.8 L282.1,565.8 L282.3,565.7 L282.5,565.7 L282.7,565.6 L282.9,565.6 L283.1,565.6 L283.3,565.5 L283.5,565.5 L283.7,565.5 L283.9,565.4 L284.1,565.4 L284.3,565.4 L284.5,565.3 L284.7,565.3 L284.9,565.3 L285.1,565.2 L285.3,565.2 L285.5,565.2 L285.7,565.1 L285.9,565.1 L286.1,565.1 L286.3,565.0 L286.5,565.0 L286.7,565.0 L286.9,564.9 L287.1,564.9 L287.3,564.9 L287.5,564.8 L287.7,564.8 L287.9,564.8 L288.1,564.7 L288.3,564.7 L288.5,564.6 L288.7,564.6 L288.9,564.6 L289.1,564.5 L289.3,564.5 L289.5,564.5 L289.7,564.5 L289.9,564.4 L290.1,564.4 L290.3,564.3 L290.5,564.3 L290.7,564.3 L290.9,564.2 L291.1,564.2 L291.3,564.2 L291.5,564.1 L291.7,564.1 L291.9,564.1 L292.1,564.0 L292.3,564.0 L292.5,564.0 L292.7,563.9 L292.9,563.9 L293.1,563.9 L293.3,563.8 L293.5,563.8 L293.7,563.8 L293.9,563.7 L294.1,563.7 L294.3,563.7 L294.5,563.6 L294.7,563.6 L294.9,563.5 L295.1,563.5" stroke="#595959" stroke-width="2.0"/>
<path d="M83.0,629.5 L83.2,640.6 L83.4,627.3 L83.6,621.4 L83.8,618.4 L84.0,616.6 L84.2,615.4 L84.4,614.7 L84.6,614.3 L84.8,614.1 L85.0,613.9 L85.2,613.8 L85.4,613.7 L85.6,613.7 L85.8,613.9 L86.0,614.7 L86.2,615.7 L86.4,616.5 L86.6,617.2 L86.8,617.4 L86.8,617.4 L87.0,617.2 L87.2,616.4 L87.4,615.3 L87.6,614.2 L87.8,613.2 L88.0,612.2 L88.2,612.1 L88.4,612.1 L88.6,612.3 L88.8,612.6 L89.0,613.1 L89.2,613.8 L89.4,614.6 L89.6,615.5 L89.8,616.3 L90.0,616.7 L90.1,616.6 L90.2,616.4 L90.4,615.8 L90.6,614.9 L90.8,613.9 L91.0,613.1 L91.2,612.4 L91.4,611.9 L91.6,611.5 L91.8,611.3 L92.0,611.3 L92.2,611.5 L92.4,611.8 L92.6,612.8 L92.8,613.9 L93.0,614.8 L93.2,615.2 L93.2,615.3 L93.4,615.0 L93.6,614.0 L93.8,612.8 L94.0,611.7 L94.2,610.9 L94.4,610.3 L94.6,610.1 L94.8,611.1 L95.0,612.6 L95.2,614.8 L95.4,617.8 L95.6,620.5 L95.7,620.7 L95.8,619.8 L96.0,617.4 L96.2,614.9 L96.4,613.0 L96.6,611.4 L96.8,610.2 L97.0,610.0 L97.2,610.1 L97.4,610.4 L97.6,611.0 L97.8,612.0 L98.0,613.3 L98.2,615.2 L98.4,617.9 L98.6,621.8 L98.8,623.9 L98.8,623.6 L99.0,618.6 L99.2,615.0 L99.4,612.7 L99.6,611.3 L99.8,610.4 L100.0,610.0 L100.2,610.0 L100.4,610.3 L100.6,610.9 L100.8,611.9 L101.0,613.2 L101.2,614.5 L101.4,615.7 L101.4,615.7 L101.6,615.1 L101.8,613.5 L102.0,612.0 L102.2,610.8 L102.4,609.9 L102.6,609.4 L102.8,609.2 L103.0,609.5 L103.2,610.3 L103.4,611.8 L103.6,614.9 L103.8,619.1 L104.0,621.5 L104.0,621.4 L104.2,618.8 L104.4,615.8 L104.6,613.4 L104.8,611.6 L105.0,610.2 L105.2,609.1 L105.4,608.3 L105.6,607.8 L105.8,608.1 L106.0,608.7 L106.2,609.4 L106.4,610.3 L106.6,611.4 L106.8,612.5 L107.0,613.6 L107.2,614.1 L107.3,614.1 L107.4,613.8 L107.6,612.6 L107.8,611.0 L108.0,610.1 L108.2,609.3 L108.4,608.7 L108.6,608.4 L108.8,608.2 L109.0,608.2 L109.2,608.4 L109.4,608.8 L109.6,609.5 L109.8,610.5 L110.0,611.8 L110.2,613.9 L110.4,615.4 L110.5,615.5 L110.6,615.0 L110.8,612.8 L111.0,610.7 L111.2,609.1 L111.4,608.1 L111.6,607.6 L111.8,607.5 L112.0,608.0 L112.2,609.2 L112.4,612.0 L112.6,616.3 L112.8,620.5 L112.8,620.5 L113.0,617.2 L113.2,613.1 L113.4,610.4 L113.6,608.7 L113.8,607.6 L114.0,607.1 L114.2,607.1 L114.4,607.6 L114.6,609.4 L114.8,612.0 L115.0,615.4 L115.2,617.7 L115.2,617.7 L115.4,615.5 L115.6,612.3 L115.8,609.9 L116.0,608.3 L116.2,607.2 L116.4,606.7 L116.6,606.6 L116.8,607.6 L117.0,609.1 L117.2,611.0 L117.4,613.1 L117.6,614.2 L117.6,614.2 L117.8,612.9 L118.0,610.7 L118.2,608.8 L118.4,607.4 L118.6,606.6 L118.8,606.2 L119.0,607.1 L119.2,608.7 L119.4,611.3 L119.6,615.6 L119.8,621.2 L119.8,621.5 L120.0,619.1 L120.2,615.0 L120.4,612.0 L120.6,609.7 L120.8,608.0 L121.0,606.7 L121.2,606.4 L121.4,606.3 L121.6,606.5 L121.8,607.0 L122.0,607.6 L122.2,608.6 L122.4,610.0 L122.6,611.9 L122.8,614.5 L123.0,617.8 L123.1,618.8 L123.2,618.3 L123.4,614.9 L123.6,611.8 L123.8,609.7 L124.0,608.1 L124.2,607.1 L124.4,606.4 L124.6,605.9 L124.8,605.8 L125.0,605.9 L125.2,606.3 L125.4,607.2 L125.6,609.0 L125.8,611.5 L126.0,614.4 L126.2,616.4 L126.2,616.4 L126.4,614.1 L126.6,610.7 L126.8,608.1 L127.0,606.4 L127.2,605.2 L127.4,604.6 L127.6,604.6 L127.8,605.7 L128.0,607.7 L128.2,610.7 L128.4,616.2 L128.6,626.4 L128.8,626.1 L129.0,625.3 L129.2,624.2 L129.4,622.9 L129.6,621.6 L129.8,620.3 L130.0,619.6 L130.2,618.9 L130.4,618.3 L130.6,617.6 L130.8,617.0 L131.0,616.3 L131.2,615.5 L131.4,614.8 L131.6,614.0 L131.8,613.2 L132.0,612.4 L132.2,612.2 L132.4,612.0 L132.6,611.7 L132.8,611.5 L133.0,611.1 L133.2,610.7 L133.4,610.3 L133.6,609.8 L133.8,609.2 L134.0,608.6 L134.2,608.0 L134.4,608.0 L134.6,608.0 L134.8,607.9 L135.0,607.8 L135.2,607.6 L135.4,607.3 L135.6,607.0 L135.8,606.6 L136.0,606.2 L136.2,605.7 L136.4,605.2 L136.6,605.2 L136.8,605.3 L137.0,605.3 L137.2,605.3 L137.4,605.2 L137.6,605.0 L137.8,604.7 L138.0,604.4 L138.2,604.0 L138.4,603.6 L138.6,603.2 L138.8,603.3 L139.0,603.5 L139.2,603.5 L139.4,603.6 L139.6,603.5 L139.8,603.4 L140.0,603.2 L140.2,602.9 L140.4,602.6 L140.6,602.3 L140.8,601.9 L141.0,602.1 L141.2,602.3 L141.4,602.4 L141.6,602.5 L141.8,602.5 L142.0,602.4 L142.2,602.3 L142.4,602.1 L142.6,601.8 L142.8,601.5 L143.0,601.2 L143.2,601.4 L143.4,601.6 L143.6,601.8 L143.8,601.9 L144.0,602.0 L144.2,602.0 L144.4,601.9 L144.6,601.8 L144.8,601.6 L145.0,601.3 L145.2,601.0 L145.4,601.3 L145.6,601.6 L145.8,601.8 L146.0,602.0 L146.2,602.1 L146.4,602.2 L146.6,602.2 L146.8,602.1 L147.0,601.9 L147.2,601.7 L147.4,601.5 L147.6,601.9 L147.8,602.2 L148.0,602.5 L148.2,602.7 L148.4,602.9 L148.6,603.0 L148.8,603.0 L149.0,603.0 L149.2,602.9 L149.4,602.8 L149.6,602.6 L149.8,603.0 L150.0,603.4 L150.2,603.8 L150.4,604.1 L150.6,604.3 L150.8,604.5 L151.0,604.5 L151.2,604.6 L151.4,604.5 L151.6,604.4 L151.8,604.4 L152.0,604.8 L152.2,605.3 L152.4,605.7 L152.6,606.1 L152.8,606.4 L153.0,606.6 L153.2,606.8 L153.4,606.9 L153.6,606.9 L153.8,606.9 L154.0,606.9 L154.2,607.5 L154.4,608.1 L154.6,608.6 L154.8,609.1 L155.0,609.5 L155.2,609.9 L155.4,610.2 L155.6,610.4 L155.8,610.6 L156.0,610.8 L156.2,611.0 L156.4,611.7 L156.6,612.5 L156.8,613.2 L157.0,614.0 L157.2,614.7 L157.4,615.3 L157.6,616.0 L157.8,616.6 L158.0,617.3 L158.2,618.0 L158.4,618.7 L158.6,620.1 L158.8,621.7 L159.0,623.3 L159.2,624.9 L159.4,626.4 L159.6,627.3 L159.7,627.4 L159.8,627.2 L160.0,626.1 L160.2,624.5 L160.4,622.7 L160.6,621.0 L160.8,619.9 L161.0,619.0 L161.2,618.2 L161.4,617.3 L161.6,616.5 L161.8,615.7 L162.0,614.9 L162.2,614.0 L162.4,613.1 L162.6,612.2 L162.8,611.4 L163.0,611.1 L163.2,610.8 L163.4,610.5 L163.6,610.2 L163.8,609.8 L164.0,609.4 L164.2,608.9 L164.4,608.3 L164.6,607.7 L164.8,607.1 L165.0,606.4 L165.2,606.3 L165.4,606.2 L165.6,606.1 L165.8,605.9 L166.0,605.7 L166.2,605.4 L166.4,605.0 L166.6,604.6 L166.8,604.1 L167.0,603.5 L167.2,603.0 L167.4,603.0 L167.6,603.0 L167.8,603.0 L168.0,602.9 L168.2,602.7 L168.4,602.5 L168.6,602.2 L168.8,601.8 L169.0,601.4 L169.2,600.9 L169.4,600.5 L169.6,600.6 L169.8,600.6 L170.0,600.7 L170.2,600.6 L170.4,600.6 L170.6,600.4 L170.8,600.2 L171.0,599.9 L171.2,599.5 L171.4,599.1 L171.6,598.7 L171.8,598.9 L172.0,599.0 L172.2,599.1 L172.4,599.2 L172.6,599.2 L172.8,599.1 L173.0,598.9 L173.2,598.7 L173.4,598.4 L173.6,598.1 L173.8,597.7 L174.0,598.0 L174.2,598.2 L174.4,598.3 L174.6,598.4 L174.8,598.5 L175.0,598.4 L175.2,598.3 L175.4,598.1 L175.6,597.9 L175.8,597.6 L176.0,597.3 L176.2,597.6 L176.4,597.8 L176.6,598.0 L176.8,598.1 L177.0,598.2 L177.2,598.1 L177.4,598.0 L177.6,597.9 L177.8,597.6 L178.0,597.3 L178.2,597.0 L178.4,597.3 L178.6,597.5 L178.8,597.7 L179.0,597.9 L179.2,597.9 L179.4,597.9 L179.6,597.8 L179.8,597.6 L180.0,597.4 L180.2,597.1 L180.4,596.8 L180.6,597.0 L180.8,597.3 L181.0,597.5 L181.2,597.6 L181.4,597.6 L181.6,597.6 L181.8,597.5 L182.0,596.6 L182.2,596.5 L182.4,596.5 L182.6,596.5 L182.8,596.4 L183.0,596.4 L183.2,596.4 L183.4,596.3 L183.6,596.3 L183.8,596.2 L184.0,596.2 L184.2,596.2 L184.4,596.1 L184.6,596.1 L184.8,596.0 L185.0,596.0 L185.2,595.9 L185.4,595.9 L185.6,595.8 L185.8,595.8 L186.0,595.8 L186.2,595.7 L186.4,595.7 L186.6,595.6 L186.8,595.6 L187.0,595.5 L187.2,595.5 L187.4,595.4 L187.6,595.4 L187.8,595.3 L188.0,595.3 L188.2,595.2 L188.4,595.2 L188.6,595.1 L188.8,595.0 L189.0,595.0 L189.2,594.9 L189.4,594.9 L189.6,594.8 L189.8,594.8 L190.0,594.7 L190.2,594.6 L190.4,594.6 L190.6,594.5 L190.8,594.5 L191.0,594.4 L191.2,594.3 L191.4,594.3 L191.6,594.2 L191.8,594.1 L192.0,594.1 L192.2,594.0 L192.4,593.9 L192.6,593.9 L192.8,593.8 L193.0,593.7 L193.2,593.6 L193.4,593.6 L193.6,593.5 L193.8,593.4 L194.0,593.4 L194.2,593.3 L194.4,593.2 L194.6,593.1 L194.8,593.0 L195.0,593.0 L195.2,592.9 L195.4,592.8 L195.6,592.7 L195.8,592.6 L196.0,592.5 L196.2,592.4 L196.4,592.4 L196.6,592.2 L196.8,592.2 L197.0,592.1 L197.2,592.0 L197.4,591.9 L197.6,591.8 L197.8,591.7 L198.0,591.6 L198.2,591.5 L198.4,591.4 L198.6,591.3 L198.8,591.2 L199.0,591.1 L199.2,591.0 L199.4,590.9 L199.6,590.8 L199.8,590.7 L200.0,590.5 L200.2,590.4 L200.4,590.3 L200.6,590.2 L200.8,590.1 L201.0,590.0 L201.2,589.9 L201.4,589.8 L201.6,589.7 L201.8,589.6 L202.0,589.5 L202.2,589.4 L202.4,589.3 L202.6,589.2 L202.8,589.1 L203.0,589.0 L203.2,588.9 L203.4,588.8 L203.6,588.6 L203.8,588.5 L204.0,588.4 L204.2,588.3 L204.4,588.2 L204.6,588.1 L204.8,588.0 L205.0,587.9 L205.2,587.8 L205.4,587.7 L205.6,587.6 L205.8,587.5 L206.0,587.4 L206.2,587.3 L206.4,587.2 L206.6,587.1 L206.8,587.0 L207.0,586.9 L207.2,586.8 L207.4,586.7 L207.6,586.6 L207.8,586.5 L208.0,586.5 L208.2,586.4 L208.4,586.3 L208.6,586.2 L208.8,586.1 L209.0,586.0 L209.2,585.9 L209.4,585.8 L209.6,585.7 L209.8,585.6 L210.0,585.5 L210.2,585.4 L210.4,585.3 L210.6,585.2 L210.8,585.1 L211.0,585.0 L211.2,585.0 L211.4,584.9 L211.6,584.8 L211.8,584.7 L212.0,584.6 L212.2,584.5 L212.4,584.4 L212.6,584.3 L212.8,584.2 L213.0,584.1 L213.2,584.0 L213.4,583.9 L213.6,583.8 L213.8,583.7 L214.0,583.6 L214.2,583.6 L214.4,583.5 L214.6,583.4 L214.8,583.3 L215.0,583.2 L215.2,583.1 L215.4,583.0 L215.6,582.9 L215.8,582.8 L216.0,582.7 L216.2,582.6 L216.4,582.6 L216.6,582.5 L216.8,582.4 L217.0,582.3 L217.2,582.2 L217.4,582.1 L217.6,582.0 L217.8,581.9 L218.0,581.9 L218.2,581.8 L218.4,581.7 L218.6,581.6 L218.8,581.5 L219.0,581.4 L219.2,581.3 L219.4,581.2 L219.6,581.2 L219.8,581.1 L220.0,581.0 L220.2,580.9 L220.4,580.8 L220.6,580.7 L220.8,580.7 L221.0,580.6 L221.2,580.5 L221.4,580.4 L221.6,580.3 L221.8,580.3 L222.0,580.2 L222.2,580.1 L222.4,580.0 L222.6,579.9 L222.8,579.9 L223.0,579.8 L223.2,579.7 L223.4,579.6 L223.6,579.6 L223.8,579.5 L224.0,579.4 L224.2,579.3 L224.4,579.3 L224.6,579.2 L224.8,579.1 L225.0,579.0 L225.2,579.0 L225.4,578.9 L225.6,578.8 L225.8,578.8 L226.0,578.7 L226.2,578.6 L226.4,578.5 L226.6,578.5 L226.8,578.4 L227.0,578.3 L227.2,578.3 L227.4,578.2 L227.6,578.1 L227.8,578.0 L228.0,578.0 L228.2,577.9 L228.4,577.9 L228.6,577.8 L228.8,577.7 L229.0,577.6 L229.2,577.6 L229.4,577.5 L229.6,577.5 L229.8,577.4 L230.0,577.3 L230.2,577.2 L230.4,577.2 L230.6,577.1 L230.8,577.1 L231.0,577.0 L231.2,576.9 L231.4,576.9 L231.6,576.8 L231.8,576.7 L232.0,576.7 L232.2,576.6 L232.4,576.5 L232.6,576.5 L232.8,576.4 L233.0,576.4 L233.2,576.3 L233.4,576.2 L233.6,576.2 L233.8,576.1 L234.0,576.0 L234.2,576.0 L234.4,575.9 L234.6,575.9 L234.8,575.8 L235.0,575.7 L235.2,575.7 L235.4,575.6 L235.6,575.6 L235.8,575.5 L236.0,575.4 L236.2,575.4 L236.4,575.3 L236.6,575.3 L236.8,575.2 L237.0,575.1 L237.2,575.1 L237.4,575.0 L237.6,575.0 L237.8,574.9 L238.0,574.9 L238.2,574.8 L238.4,574.7 L238.6,574.7 L238.8,574.6 L239.0,574.6 L239.2,574.5 L239.4,574.5 L239.6,574.4 L239.8,574.3 L240.0,574.3 L240.2,574.2 L240.4,574.2 L240.6,574.1 L240.8,574.1 L241.0,574.0 L241.2,574.0 L241.4,573.9 L241.6,573.8 L241.8,573.8 L242.0,573.7 L242.2,573.7 L242.4,573.6 L242.6,573.6 L242.8,573.5 L243.0,573.5 L243.2,573.4 L243.4,573.4 L243.6,573.3 L243.8,573.2 L244.0,573.2 L244.2,573.1 L244.4,573.1 L244.6,573.0 L244.8,573.0 L245.0,572.9 L245.2,572.9 L245.4,572.8 L245.6,572.8 L245.8,572.7 L246.0,572.7 L246.2,572.6 L246.4,572.6 L246.6,572.5 L246.8,572.5 L247.0,572.4 L247.2,572.4 L247.4,572.3 L247.6,572.3 L247.8,572.2 L248.0,572.2 L248.2,572.1 L248.4,572.1 L248.6,572.0 L248.8,572.0 L249.0,572.0 L249.2,571.9 L249.4,571.9 L249.6,571.8 L249.8,571.8 L250.0,571.7 L250.2,571.7 L250.4,571.6 L250.6,571.6 L250.8,571.5 L251.0,571.5 L251.2,571.5 L251.4,571.4 L251.6,571.4 L251.8,571.3 L252.0,571.3 L252.2,571.2 L252.4,571.2 L252.6,571.1 L252.8,571.1 L253.0,571.1 L253.2,571.0 L253.4,571.0 L253.6,570.9 L253.8,570.9 L254.0,570.9 L254.2,570.8 L254.4,570.8 L254.6,570.7 L254.8,570.7 L255.0,570.7 L255.2,570.6 L255.4,570.6 L255.6,570.5 L255.8,570.5 L256.0,570.5 L256.2,570.4 L256.4,570.4 L256.6,570.4 L256.8,570.3 L257.0,570.3 L257.2,570.2 L257.4,570.2 L257.6,570.2 L257.8,570.1 L258.0,570.1 L258.2,570.0 L258.4,570.0 L258.6,570.0 L258.8,569.9 L259.0,569.9 L259.2,569.9 L259.4,569.8 L259.6,569.8 L259.8,569.8 L260.0,569.7 L260.2,569.7 L260.4,569.6 L260.6,569.6 L260.8,569.6 L261.0,569.5 L261.2,569.5 L261.4,569.5 L261.6,569.4 L261.8,569.4 L262.0,569.4 L262.2,569.3 L262.4,569.3 L262.6,569.2 L262.8,569.2 L263.0,569.2 L263.2,569.1 L263.4,569.1 L263.6,569.1 L263.8,569.0 L264.0,569.0 L264.2,569.0 L264.4,568.9 L264.6,568.9 L264.8,568.8 L265.0,568.8 L265.2,568.8 L265.4,568.7 L265.6,568.7 L265.8,568.7 L266.0,568.6 L266.2,568.6 L266.4,568.5 L266.6,568.5 L266.8,568.5 L267.0,568.4 L267.2,568.4 L267.4,568.4 L267.6,568.3 L267.8,568.3 L268.0,568.3 L268.2,568.2 L268.4,568.2 L268.6,568.1 L268.8,568.1 L269.0,568.1 L269.2,568.0 L269.4,568.0 L269.6,568.0 L269.8,567.9 L270.0,567.9 L270.2,567.9 L270.4,567.8 L270.6,567.8 L270.8,567.7 L271.0,567.7 L271.2,567.7 L271.4,567.6 L271.6,567.6 L271.8,567.6 L272.0,567.5 L272.2,567.5 L272.4,567.5 L272.6,567.4 L272.8,567.4 L273.0,567.4 L273.2,567.3 L273.4,567.3 L273.6,567.2 L273.8,567.2 L274.0,567.2 L274.2,567.1 L274.4,567.1 L274.6,567.1 L274.8,567.0 L275.0,567.0 L275.2,567.0 L275.4,566.9 L275.6,566.9 L275.8,566.9 L276.0,566.8 L276.2,566.8 L276.4,566.8 L276.6,566.7 L276.8,566.7 L277.0,566.6 L277.2,566.6 L277.4,566.6 L277.6,566.5 L277.8,566.5 L278.0,566.5 L278.2,566.4 L278.4,566.4 L278.6,566.4 L278.8,566.3 L279.0,566.3 L279.2,566.3 L279.4,566.2 L279.6,566.2 L279.8,566.1 L280.0,566.1 L280.2,566.1 L280.4,566.0 L280.6,566.0 L280.8,566.0 L281.0,566.0 L281.2,565.9 L281.4,565.9 L281.6,565.8 L281.8,565.8 L282.0,565.8 L282.2,565.7 L282.4,565.7 L282.6,565.7 L282.8,565.6 L283.0,565.6 L283.2,565.6 L283.4,565.5 L283.6,565.5 L283.8,565.5 L284.0,565.4 L284.2,565.4 L284.4,565.4 L284.6,565.3 L284.8,565.3 L285.0,565.2 L285.2,565.2 L285.4,565.2 L285.6,565.1 L285.8,565.1 L286.0,565.1 L286.2,565.0 L286.4,565.0 L286.6,565.0 L286.8,564.9 L287.0,564.9 L287.2,564.9 L287.4,564.8 L287.6,564.8 L287.8,564.8 L288.0,564.7 L288.2,564.7 L288.4,564.7 L288.6,564.6 L288.8,564.6 L289.0,564.6 L289.2,564.5 L289.4,564.5 L289.6,564.5 L289.8,564.4 L290.0,564.4 L290.2,564.4 L290.4,564.3 L290.6,564.3 L290.8,564.3 L291.0,564.2 L291.2,564.2 L291.4,564.2 L291.6,564.1 L291.8,564.1 L292.0,564.0 L292.2,564.0 L292.4,564.0 L292.6,564.0 L292.8,563.9 L293.0,563.9 L293.2,563.9 L293.4,563.8 L293.6,563.8 L293.8,563.7 L294.0,563.7 L294.2,563.7 L294.4,563.6 L294.6,563.6 L294.8,563.6 L295.0,563.5 L295.2,563.5" stroke="#5F9ED1" stroke-width="2.0"/>
<path d="M72.3,639.8 L72.4,690.0 L72.5,641.7 L72.6,635.7 L72.7,632.3 L72.8,629.9 L72.9,628.2 L73.0,626.9 L73.1,625.9 L73.2,625.2 L73.3,624.9 L73.4,625.3 L73.5,626.1 L73.6,627.5 L73.7,629.5 L73.8,632.6 L73.9,637.0 L74.0,638.8 L74.0,638.0 L74.1,633.6 L74.2,629.9 L74.3,627.3 L74.4,625.5 L74.5,624.1 L74.6,623.2 L74.7,622.6 L74.8,622.3 L74.9,622.3 L75.0,622.7 L75.1,623.4 L75.2,624.7 L75.3,626.5 L75.4,629.3 L75.5,634.0 L75.6,647.1 L75.6,661.0 L75.7,636.1 L75.8,629.0 L75.9,625.4 L76.0,623.3 L76.1,622.0 L76.2,621.3 L76.3,621.2 L76.4,621.6 L76.5,622.5 L76.6,624.3 L76.7,627.2 L76.8,632.8 L76.9,650.7 L76.9,650.7 L77.0,631.3 L77.1,625.7 L77.2,622.8 L77.3,621.2 L77.4,620.5 L77.5,620.5 L77.6,621.2 L77.7,622.9 L77.8,625.8 L77.9,631.0 L78.0,635.3 L78.0,634.8 L78.1,628.5 L78.2,624.3 L78.3,621.8 L78.4,620.3 L78.5,619.6 L78.6,619.5 L78.7,620.1 L78.8,621.5 L78.9,624.1 L79.0,629.0 L79.1,645.1 L79.1,648.9 L79.2,630.5 L79.3,624.3 L79.4,621.1 L79.5,619.4 L79.6,618.5 L79.7,618.4 L79.8,619.0 L79.9,620.6 L80.0,623.5 L80.1,629.5 L80.2,656.3 L80.2,645.6 L80.3,626.5 L80.4,621.5 L80.5,618.9 L80.6,617.6 L80.7,617.3 L80.8,617.9 L80.9,619.6 L81.0,622.8 L81.1,628.5 L81.2,630.9 L81.2,628.9 L81.3,622.9 L81.4,619.4 L81.5,617.4 L81.6,616.5 L81.7,616.4 L81.8,617.3 L81.9,619.4 L82.0,623.5 L82.1,634.9 L82.1,647.5 L82.2,630.6 L82.3,623.0 L82.4,619.3 L82.5,617.2 L82.6,615.9 L82.7,615.3 L82.8,615.3 L82.9,616.0 L83.0,617.3 L83.1,619.7 L83.2,624.0 L83.3,633.9 L83.3,636.8 L83.4,628.3 L83.5,621.5 L83.6,618.0 L83.7,615.9 L83.8,614.7 L83.9,614.0 L84.0,613.2 L84.1,612.2 L84.3,611.0 L84.4,609.7 L84.6,608.2 L84.8,606.7 L85.0,605.2 L85.2,603.7 L85.4,602.3 L85.6,601.0 L85.8,599.8 L86.0,598.6 L86.2,597.5 L86.4,596.3 L86.6,595.2 L86.9,594.1 L87.1,593.0 L87.4,591.9 L87.7,590.7 L88.1,589.6 L88.5,588.4 L88.9,587.3 L89.4,586.1 L89.9,584.9 L90.4,583.7 L90.9,582.6 L91.5,581.4 L92.1,580.3 L92.6,579.2 L93.2,578.2 L93.8,577.2 L94.4,576.2 L95.0,575.3 L95.6,574.4 L96.2,573.5 L96.8,572.6 L97.5,571.8 L98.1,571.0 L98.8,570.1 L99.5,569.3 L100.2,568.5 L100.9,567.7 L101.7,566.9 L102.4,566.1 L103.2,565.3 L104.0,564.6 L104.8,563.8 L105.6,563.1 L106.4,562.4 L107.2,561.7 L108.0,561.0 L108.9,560.3 L109.7,559.7 L110.6,559.0 L111.4,558.4 L112.3,557.8 L113.2,557.2 L114.1,556.6 L115.1,556.0 L116.0,555.4 L117.0,554.8 L117.9,554.3 L118.9,553.8 L119.9,553.2 L120.9,552.7 L121.9,552.2 L123.0,551.7 L124.0,551.3 L125.1,550.8 L126.2,550.3 L127.3,549.8 L128.4,549.3 L129.6,548.9 L130.8,548.4 L131.9,548.0 L133.1,547.5 L134.4,547.1 L135.6,546.6 L136.8,546.2 L138.0,545.8 L139.2,545.4 L140.4,545.0 L141.6,544.7 L142.8,544.3 L143.9,544.0 L145.2,543.6 L146.4,543.3 L147.8,542.9 L149.1,542.6 L150.6,542.2 L152.2,541.8 L153.8,541.5 L155.5,541.1 L157.3,540.7 L159.1,540.3 L160.9,539.9 L162.7,539.5 L164.5,539.2 L166.3,538.8 L168.0,538.5 L169.6,538.2 L171.2,537.9 L172.8,537.6 L174.3,537.4 L175.9,537.1 L177.4,536.9 L179.0,536.6 L180.6,536.4 L182.3,536.1 L184.0,535.8 L185.8,535.5 L187.7,535.1 L189.6,534.8 L191.5,534.4 L193.5,534.0 L195.5,533.7 L197.5,533.3 L199.5,532.9 L201.5,532.6 L203.6,532.2 L205.7,531.8 L207.8,531.5 L209.9,531.1 L212.1,530.7 L214.2,530.4 L216.4,530.0 L218.6,529.7 L220.8,529.3 L222.9,529.0 L225.1,528.7 L227.3,528.4 L229.5,528.1 L231.7,527.8 L233.9,527.6 L236.2,527.3 L238.4,527.1 L240.5,526.8 L242.7,526.6 L244.7,526.4 L246.7,526.2 L248.6,526.0 L250.4,525.9 L252.1,525.7 L253.8,525.6 L255.4,525.5 L257.0,525.3 L258.7,525.2 L260.4,525.1 L262.1,525.0 L264.0,524.8 L266.0,524.6 L268.3,524.4 L270.7,524.2 L273.1,524.0 L275.6,523.8 L277.9,523.6 L280.1,523.4 L282.1,523.3 L283.7,523.1 L285.0,523.0" stroke="#C85200" stroke-width="2.0"/>
</g>
<rect x="61.7" y="525.6" width="244.1" height="147.65" fill="none" stroke="#000" stroke-width="1.3"/>
<line x1="72.80" y1="673.25" x2="72.80" y2="677.75" stroke="#000" stroke-width="1"/>
<line x1="146.77" y1="673.25" x2="146.77" y2="677.75" stroke="#000" stroke-width="1"/>
<line x1="220.73" y1="673.25" x2="220.73" y2="677.75" stroke="#000" stroke-width="1"/>
<line x1="294.70" y1="673.25" x2="294.70" y2="677.75" stroke="#000" stroke-width="1"/>
<line x1="57.2" y1="525.60" x2="61.7" y2="525.60" stroke="#000" stroke-width="1"/>

<line x1="57.2" y1="555.13" x2="61.7" y2="555.13" stroke="#000" stroke-width="1"/>

<line x1="57.2" y1="584.66" x2="61.7" y2="584.66" stroke="#000" stroke-width="1"/>

<line x1="57.2" y1="614.19" x2="61.7" y2="614.19" stroke="#000" stroke-width="1"/>

<line x1="57.2" y1="643.72" x2="61.7" y2="643.72" stroke="#000" stroke-width="1"/>

<line x1="57.2" y1="673.25" x2="61.7" y2="673.25" stroke="#000" stroke-width="1"/>

<text x="183.75" y="518.90" font-family='"Liberation Sans", sans-serif' font-size="13.6" text-anchor="middle" fill="#000">Uranus + moons</text>
<path d="M231.7,574.25 H305.8 V673.25 H229.7 V576.25 Q229.7,574.25 231.7,574.25 Z" fill="#fff" fill-opacity="0.8" stroke="#333" stroke-width="1.1"/>
<line x1="232.89999999999998" y1="582.95" x2="250.39999999999998" y2="582.95" stroke="#006BA4" stroke-width="2.1"/>
<text x="258.30" y="587.25" font-family='"Liberation Sans", sans-serif' font-size="12" fill="#000">Uranus</text>
<line x1="232.89999999999998" y1="598.95" x2="250.39999999999998" y2="598.95" stroke="#FF800E" stroke-width="2.1"/>
<text x="258.30" y="603.25" font-family='"Liberation Sans", sans-serif' font-size="12" fill="#000">Ariel</text>
<line x1="232.89999999999998" y1="614.95" x2="250.39999999999998" y2="614.95" stroke="#ABABAB" stroke-width="2.1"/>
<text x="258.30" y="619.25" font-family='"Liberation Sans", sans-serif' font-size="12" fill="#000">Umbriel</text>
<line x1="232.89999999999998" y1="630.95" x2="250.39999999999998" y2="630.95" stroke="#595959" stroke-width="2.1"/>
<text x="258.30" y="635.25" font-family='"Liberation Sans", sans-serif' font-size="12" fill="#000">Titania</text>
<line x1="232.89999999999998" y1="646.95" x2="250.39999999999998" y2="646.95" stroke="#5F9ED1" stroke-width="2.1"/>
<text x="258.30" y="651.25" font-family='"Liberation Sans", sans-serif' font-size="12" fill="#000">Oberon</text>
<line x1="232.89999999999998" y1="662.95" x2="250.39999999999998" y2="662.95" stroke="#C85200" stroke-width="2.1"/>
<text x="258.30" y="667.25" font-family='"Liberation Sans", sans-serif' font-size="12" fill="#000">Miranda</text>
<defs><clipPath id="cp7"><rect x="330.3" y="525.6" width="244.1" height="147.65"/></clipPath></defs>
<g clip-path="url(#cp7)" fill="none" stroke-width="1.9" stroke-linejoin="round" stroke-linecap="square">
<path d="M352.4,676.0 L353.0,675.2 L353.8,674.0 L354.7,672.7 L355.8,671.2 L357.0,669.8 L358.2,668.5 L359.4,667.3 L360.7,666.3 L362.1,665.2 L363.5,664.1 L365.1,663.1 L366.8,662.0 L368.7,660.9 L370.7,659.8 L372.9,658.7 L375.1,657.6 L377.4,656.6 L379.8,655.6 L382.1,654.6 L384.5,653.7 L387.0,652.8 L389.6,651.9 L392.2,651.0 L394.9,650.2 L397.6,649.3 L400.4,648.4 L403.3,647.5 L406.3,646.6 L409.2,645.7 L412.1,644.8 L414.9,643.9 L417.7,642.9 L420.5,642.0 L423.3,641.1 L426.2,640.2 L429.4,639.4 L432.6,638.6 L435.9,637.9 L439.2,637.2 L442.8,636.5 L446.7,635.8 L451.0,635.1 L455.8,634.3 L461.0,633.6 L466.5,632.9 L472.2,632.1 L477.8,631.4 L483.3,630.8 L488.8,630.1 L494.4,629.4 L499.9,628.8 L505.4,628.2 L510.7,627.6 L515.7,627.1 L520.4,626.6 L524.9,626.1 L529.2,625.6 L533.4,625.1 L537.5,624.7 L541.6,624.3 L545.8,623.9 L550.2,623.4 L554.5,623.0 L558.5,622.7 L561.8,622.4 L564.2,622.1" stroke="#000080" stroke-width="2.0"/>
<path d="M341.2,646.1 L341.4,680.0 L341.6,643.1 L341.8,636.8 L342.0,632.9 L342.2,630.2 L342.4,628.2 L342.6,626.7 L342.8,625.6 L343.0,625.0 L343.2,624.4 L343.4,623.8 L343.6,623.4 L343.8,623.1 L344.0,623.0 L344.2,623.3 L344.4,623.8 L344.6,624.5 L344.8,625.7 L345.0,627.2 L345.2,629.1 L345.4,630.8 L345.5,631.2 L345.6,631.0 L345.8,628.2 L346.0,625.2 L346.2,623.0 L346.4,621.4 L346.6,620.3 L346.8,619.7 L347.0,619.4 L347.2,619.5 L347.4,620.1 L347.6,621.0 L347.8,622.6 L348.0,625.0 L348.2,628.7 L348.4,633.7 L348.5,634.5 L348.6,627.2 L348.8,621.6 L349.0,623.5 L349.2,626.6 L349.4,632.4 L349.6,655.0 L349.8,632.3 L350.0,626.6 L350.2,623.4 L350.4,621.4 L350.6,620.0 L350.8,619.2 L351.0,618.8 L351.2,619.1 L351.4,619.9 L351.6,621.2 L351.8,623.2 L352.0,625.8 L352.2,628.1 L352.3,628.3 L352.4,627.8 L352.6,626.1 L352.8,624.2 L353.0,622.5 L353.2,621.1 L353.4,620.0 L353.6,619.2 L353.8,618.5 L354.0,618.1 L354.2,617.8 L354.4,617.8 L354.6,617.9 L354.8,618.2 L355.0,618.8 L355.2,619.6 L355.4,620.9 L355.6,622.5 L355.8,624.9 L356.0,628.4 L356.2,633.6 L356.3,635.0 L356.3,635.1 L356.4,633.5 L356.6,628.1 L356.8,624.4 L357.0,621.8 L357.2,619.9 L357.4,618.5 L357.6,617.4 L357.8,616.6 L358.0,616.1 L358.2,615.8 L358.4,615.6 L358.6,615.5 L358.8,615.6 L359.0,615.9 L359.2,616.4 L359.4,617.0 L359.6,617.9 L359.8,619.1 L360.0,620.5 L360.2,622.2 L360.4,623.8 L360.6,624.5 L360.6,624.5 L360.8,618.6 L361.0,619.6 L361.2,622.2 L361.4,626.2 L361.6,634.5 L361.7,641.1 L361.8,634.4 L362.0,625.8 L362.2,621.6 L362.4,618.8 L362.6,616.9 L362.8,616.0 L363.0,621.1 L363.1,626.0 L363.2,625.4 L363.4,618.8 L363.6,614.9 L363.8,615.4 L364.0,616.9 L364.2,618.9 L364.4,621.9 L364.6,627.0 L364.8,633.8 L365.0,626.7 L365.2,621.5 L365.4,618.2 L365.6,615.9 L365.8,614.2 L366.0,613.0 L366.2,614.4 L366.4,618.4 L366.6,623.2 L366.6,623.3 L366.8,620.0 L367.0,615.9 L367.2,613.2 L367.4,611.7 L367.6,612.3 L367.8,613.1 L368.0,614.3 L368.2,615.8 L368.4,617.8 L368.6,620.6 L368.8,624.5 L369.0,627.8 L369.2,624.2 L369.2,623.9 L369.4,620.0 L369.6,617.0 L369.8,614.7 L370.0,612.9 L370.2,611.5 L370.4,610.4 L370.6,609.5 L370.8,608.9 L371.0,608.3 L371.2,607.9 L371.4,607.7 L371.6,607.9 L371.8,608.2 L372.0,608.8 L372.2,609.6 L372.4,610.8 L372.6,612.5 L372.8,614.7 L373.0,617.9 L373.2,622.2 L373.3,623.8 L373.4,623.4 L373.6,620.8 L373.8,617.9 L374.0,615.5 L374.2,613.7 L374.4,612.2 L374.6,611.1 L374.8,610.1 L375.0,609.4 L375.2,608.8 L375.4,608.3 L375.6,608.0 L375.8,607.8 L376.0,607.6 L376.2,607.6 L376.4,607.7 L376.6,607.9 L376.8,608.1 L377.0,608.5 L377.2,609.0 L377.4,609.5 L377.6,610.2 L377.8,611.1 L378.0,612.1 L378.2,613.3 L378.4,614.8 L378.6,616.5 L378.8,618.8 L379.0,621.8 L379.2,625.9 L379.4,629.0 L379.6,627.2 L379.8,624.1 L380.0,621.6 L380.2,619.6 L380.4,618.1 L380.6,616.9 L380.8,615.9 L381.0,615.1 L381.2,614.5 L381.4,613.9 L381.6,613.4 L381.8,613.0 L382.0,612.6 L382.2,612.2 L382.4,611.9 L382.6,611.6 L382.8,611.3 L383.0,611.1 L383.2,610.9 L383.4,610.7 L383.6,610.5 L383.8,610.4 L384.0,610.1 L384.2,609.9 L384.4,609.7 L384.6,609.5 L384.8,609.3 L385.0,609.0 L385.2,608.8 L385.4,608.5 L385.6,608.3 L385.8,608.0 L386.0,607.8 L386.2,607.5 L386.4,607.2 L386.6,607.0 L386.8,606.7 L387.0,606.5 L387.2,606.2 L387.4,605.9 L387.6,605.7 L387.8,605.4 L388.0,605.2 L388.2,604.9 L388.4,604.7 L388.6,604.5 L388.8,604.2 L389.0,604.0 L389.2,603.8 L389.4,603.6 L389.6,603.4 L389.8,603.1 L390.0,602.9 L390.2,602.7 L390.4,602.5 L390.6,602.3 L390.8,602.1 L391.0,601.9 L391.2,601.8 L391.4,601.6 L391.6,601.5 L391.8,601.4 L392.0,601.3 L392.2,601.2 L392.4,601.1 L392.6,601.0 L392.8,601.0 L393.0,600.9 L393.2,600.9 L393.4,600.8 L393.6,600.8 L393.8,600.7 L394.0,600.7 L394.2,600.6 L394.4,600.6 L394.6,600.6 L394.8,600.5 L395.0,600.5 L395.2,600.5 L395.4,600.5 L395.6,600.4 L395.8,600.4 L396.0,600.4 L396.2,600.4 L396.4,600.4 L396.6,600.4 L396.8,600.3 L397.0,600.3 L397.2,600.3 L397.4,600.3 L397.6,600.3 L397.8,600.3 L398.0,600.3 L398.2,600.3 L398.4,600.3 L398.6,600.3 L398.8,600.3 L399.0,600.3 L399.2,600.3 L399.4,600.3 L399.6,600.3 L399.8,600.3 L400.0,600.3 L400.2,600.3 L400.4,600.3 L400.6,600.3 L400.8,600.3 L401.0,600.4 L401.2,600.4 L401.4,600.4 L401.6,600.4 L401.8,600.4 L402.0,600.4 L402.2,600.5 L402.4,600.5 L402.6,600.5 L402.8,600.5 L403.0,600.5 L403.2,600.6 L403.4,600.6 L403.6,600.6 L403.8,600.7 L404.0,600.7 L404.2,600.7 L404.4,600.8 L404.6,600.8 L404.8,600.8 L405.0,600.9 L405.2,600.9 L405.4,600.9 L405.6,601.0 L405.8,601.0 L406.0,601.0 L406.2,601.1 L406.4,601.1 L406.6,601.2 L406.8,601.2 L407.0,601.3 L407.2,601.3 L407.4,601.4 L407.6,601.4 L407.8,601.5 L408.0,601.5 L408.2,601.6 L408.4,601.6 L408.6,601.7 L408.8,601.7 L409.0,601.8 L409.2,601.9 L409.4,601.9 L409.6,602.0 L409.8,602.1 L410.0,602.1 L410.2,602.2 L410.4,602.3 L410.6,602.4 L410.8,602.4 L411.0,602.5 L411.2,602.6 L411.4,602.7 L411.6,602.8 L411.8,602.9 L412.0,602.9 L412.2,603.0 L412.4,603.1 L412.6,603.2 L412.8,603.2 L413.0,603.3 L413.2,603.4 L413.4,603.5 L413.6,603.5 L413.8,603.6 L414.0,603.7 L414.2,603.8 L414.4,603.8 L414.6,603.9 L414.8,604.0 L415.0,604.1 L415.2,604.2 L415.4,604.3 L415.6,604.4 L415.8,604.5 L416.0,604.7 L416.2,604.8 L416.4,605.0 L416.6,605.1 L416.8,605.3 L417.0,605.5 L417.2,605.6 L417.4,605.8 L417.6,606.0 L417.8,606.2 L418.0,606.5 L418.2,606.7 L418.4,606.9 L418.6,607.1 L418.8,607.4 L419.0,607.6 L419.2,607.9 L419.4,608.2 L419.6,608.5 L419.8,608.8 L420.0,609.0 L420.2,609.3 L420.4,609.7 L420.6,610.0 L420.8,610.3 L421.0,610.6 L421.2,610.9 L421.4,611.3 L421.6,611.6 L421.8,611.9 L422.0,612.3 L422.2,612.6 L422.4,612.9 L422.6,613.1 L422.8,613.4 L423.0,613.6 L423.2,613.8 L423.4,614.0 L423.6,614.1 L423.8,614.2 L424.0,614.2 L424.2,614.1 L424.4,613.9 L424.6,613.7 L424.8,613.4 L425.0,613.1 L425.2,612.7 L425.4,612.3 L425.6,611.8 L425.8,611.4 L426.0,610.9 L426.2,610.5 L426.4,610.0 L426.6,609.5 L426.8,609.1 L427.0,608.6 L427.2,608.2 L427.4,607.8 L427.6,607.3 L427.8,607.0 L428.0,606.6 L428.2,606.2 L428.4,605.8 L428.6,605.5 L428.8,605.1 L429.0,604.8 L429.2,604.5 L429.4,604.2 L429.6,604.0 L429.8,603.7 L430.0,603.5 L430.2,603.2 L430.4,603.0 L430.6,602.9 L430.8,602.7 L431.0,602.5 L431.2,602.4 L431.4,602.3 L431.6,602.2 L431.8,602.1 L432.0,602.0 L432.2,602.0 L432.4,601.9 L432.6,601.9 L432.8,601.8 L433.0,601.8 L433.2,601.8 L433.4,601.7 L433.6,601.7 L433.8,601.7 L434.0,601.6 L434.2,601.6 L434.4,601.6 L434.6,601.6 L434.8,601.6 L435.0,601.6 L435.2,601.6 L435.4,601.6 L435.6,601.6 L435.8,601.6 L436.0,601.6 L436.2,601.6 L436.4,601.6 L436.6,601.6 L436.8,601.6 L437.0,601.6 L437.2,601.6 L437.4,601.6 L437.6,601.6 L437.8,601.6 L438.0,601.6 L438.2,601.6 L438.4,601.6 L438.6,601.6 L438.8,601.6 L439.0,601.6 L439.2,601.6 L439.4,601.6 L439.6,601.6 L439.8,601.6 L440.0,601.6 L440.2,601.6 L440.4,601.6 L440.6,601.6 L440.8,601.5 L441.0,601.5 L441.2,601.5 L441.4,601.5 L441.6,601.5 L441.8,601.5 L442.0,601.5 L442.2,601.4 L442.4,601.4 L442.6,601.4 L442.8,601.4 L443.0,601.4 L443.2,601.4 L443.4,601.3 L443.6,601.3 L443.8,601.3 L444.0,601.3 L444.2,601.3 L444.4,601.2 L444.6,601.2 L444.8,601.2 L445.0,601.2 L445.2,601.2 L445.4,601.2 L445.6,601.1 L445.8,601.1 L446.0,601.1 L446.2,601.1 L446.4,601.1 L446.6,601.1 L446.8,601.0 L447.0,601.0 L447.2,601.0 L447.4,601.0 L447.6,601.0 L447.8,601.0 L448.0,601.0 L448.2,601.0 L448.4,600.9 L448.6,600.9 L448.8,600.9 L449.0,600.9 L449.2,600.9 L449.4,600.9 L449.6,600.9 L449.8,600.9 L450.0,600.9 L450.2,600.8 L450.4,600.8 L450.6,600.8 L450.8,600.8 L451.0,600.8 L451.2,600.8 L451.4,600.8 L451.6,600.8 L451.8,600.8 L452.0,600.8 L452.2,600.8 L452.4,600.8 L452.6,600.8 L452.8,600.8 L453.0,600.8 L453.2,600.8 L453.4,600.8 L453.6,600.8 L453.8,600.8 L454.0,600.8 L454.2,600.8 L454.4,600.9 L454.6,600.9 L454.8,600.9 L455.0,600.9 L455.2,600.9 L455.4,600.9 L455.6,600.9 L455.8,600.9 L456.0,600.9 L456.2,600.9 L456.4,600.9 L456.6,601.0 L456.8,601.0 L457.0,601.0 L457.2,601.0 L457.4,601.0 L457.6,601.0 L457.8,601.0 L458.0,601.0 L458.2,601.1 L458.4,601.1 L458.6,601.1 L458.8,601.1 L459.0,601.1 L459.2,601.1 L459.4,601.2 L459.6,601.2 L459.8,601.2 L460.0,601.2 L460.2,601.2 L460.4,601.2 L460.6,601.3 L460.8,601.3 L461.0,601.3 L461.2,601.3 L461.4,601.3 L461.6,601.4 L461.8,601.4 L462.0,601.4 L462.2,601.4 L462.4,601.4 L462.6,601.5 L462.8,601.5 L463.0,601.5 L463.2,601.5 L463.4,601.5 L463.6,601.6 L463.8,601.6 L464.0,601.6 L464.2,601.6 L464.4,601.7 L464.6,601.7 L464.8,601.7 L465.0,601.7 L465.2,601.8 L465.4,601.8 L465.6,601.8 L465.8,601.8 L466.0,601.9 L466.2,601.9 L466.4,601.9 L466.6,602.0 L466.8,602.0 L467.0,602.0 L467.2,602.0 L467.4,602.1 L467.6,602.1 L467.8,602.1 L468.0,602.2 L468.2,602.2 L468.4,602.2 L468.6,602.3 L468.8,602.3 L469.0,602.4 L469.2,602.4 L469.4,602.4 L469.6,602.5 L469.8,602.5 L470.0,602.6 L470.2,602.6 L470.4,602.6 L470.6,602.7 L470.8,602.7 L471.0,602.8 L471.2,602.8 L471.4,602.9 L471.6,602.9 L471.8,603.0 L472.0,603.1 L472.2,603.2 L472.4,603.3 L472.6,603.5 L472.8,603.6 L473.0,603.9 L473.2,604.1 L473.4,604.3 L473.6,604.6 L473.8,604.9 L474.0,605.2 L474.2,605.5 L474.4,605.9 L474.6,606.3 L474.8,606.7 L475.0,607.2 L475.2,607.7 L475.4,608.2 L475.6,608.8 L475.8,609.4 L476.0,610.0 L476.2,610.7 L476.4,611.4 L476.6,612.2 L476.8,613.1 L477.0,614.1 L477.2,615.1 L477.4,616.2 L477.6,617.4 L477.8,618.7 L478.0,619.8 L478.2,620.8 L478.4,621.1 L478.6,620.7 L478.8,619.8 L479.0,618.6 L479.2,617.3 L479.4,616.0 L479.6,614.9 L479.8,613.8 L480.0,612.8 L480.2,611.9 L480.4,611.1 L480.6,610.3 L480.8,609.6 L481.0,608.9 L481.2,608.3 L481.4,607.7 L481.6,607.1 L481.8,606.6 L482.0,606.1 L482.2,605.7 L482.4,605.2 L482.6,604.9 L482.8,604.5 L483.0,604.1 L483.2,603.8 L483.4,603.5 L483.6,603.2 L483.8,603.0 L484.0,602.8 L484.2,602.6 L484.4,602.4 L484.6,602.3 L484.8,602.1 L485.0,602.0 L485.2,602.0 L485.4,601.9 L485.6,601.9 L485.8,601.8 L486.0,601.8 L486.2,601.7 L486.4,601.7 L486.6,601.6 L486.8,601.6 L487.0,601.5 L487.2,601.5 L487.4,601.5 L487.6,601.5 L487.8,601.4 L488.0,601.4 L488.2,601.4 L488.4,601.4 L488.6,601.4 L488.8,601.4 L489.0,601.4 L489.2,601.4 L489.4,601.4 L489.6,601.4 L489.8,601.4 L490.0,601.4 L490.2,601.4 L490.4,601.4 L490.6,601.4 L490.8,601.5 L491.0,601.5 L491.2,601.5 L491.4,601.5 L491.6,601.5 L491.8,601.6 L492.0,601.6 L492.2,601.6 L492.4,601.7 L492.6,601.7 L492.8,601.8 L493.0,601.8 L493.2,601.8 L493.4,601.9 L493.6,601.9 L493.8,602.0 L494.0,602.1 L494.2,602.1 L494.4,602.2 L494.6,602.3 L494.8,602.4 L495.0,602.5 L495.2,602.6 L495.4,602.7 L495.6,602.8 L495.8,602.9 L496.0,603.0 L496.2,603.1 L496.4,603.2 L496.6,603.4 L496.8,603.5 L497.0,603.6 L497.2,603.8 L497.4,603.9 L497.6,604.0 L497.8,604.2 L498.0,604.4 L498.2,604.5 L498.4,604.7 L498.6,604.9 L498.8,605.0 L499.0,605.2 L499.2,605.4 L499.4,605.6 L499.6,605.8 L499.8,606.0 L500.0,606.2 L500.2,606.4 L500.4,606.7 L500.6,606.9 L500.8,607.1 L501.0,607.4 L501.2,607.6 L501.4,607.9 L501.6,608.1 L501.8,608.4 L502.0,608.7 L502.2,609.0 L502.4,609.3 L502.6,609.6 L502.8,609.9 L503.0,610.2 L503.2,610.6 L503.4,610.9 L503.6,611.3 L503.8,611.6 L504.0,612.0 L504.2,612.4 L504.4,612.9 L504.6,613.3 L504.8,613.8 L505.0,614.2 L505.2,614.7 L505.4,615.2 L505.6,615.7 L505.8,616.3 L506.0,616.9 L506.2,617.4 L506.4,618.0 L506.6,618.6 L506.8,619.2 L507.0,619.8 L507.2,620.3 L507.4,620.7 L507.6,621.0 L507.8,621.2 L507.9,621.3 L508.0,620.4 L508.2,615.5 L508.4,611.9 L508.6,609.5 L508.8,607.8 L509.0,606.7 L509.2,606.0 L509.4,605.6 L509.6,605.6 L509.8,605.8 L510.0,606.3 L510.2,607.1 L510.4,608.3 L510.6,609.8 L510.8,611.4 L511.0,612.9 L511.1,613.3 L511.2,613.2 L511.4,611.8 L511.6,609.8 L511.8,608.1 L512.0,606.9 L512.2,606.1 L512.4,605.8 L512.6,605.9 L512.8,606.5 L513.0,607.7 L513.2,609.6 L513.4,612.8 L513.6,618.5 L513.8,627.8 L513.8,627.6 L514.0,618.4 L514.2,613.4 L514.4,610.5 L514.6,608.5 L514.8,607.2 L515.0,606.4 L515.2,606.0 L515.4,605.9 L515.6,606.1 L515.8,606.7 L516.0,607.6 L516.2,608.8 L516.4,610.4 L516.6,612.4 L516.8,614.0 L516.9,614.4 L517.0,614.2 L517.2,612.8 L517.4,610.9 L517.6,609.2 L517.8,608.0 L518.0,607.0 L518.2,606.4 L518.4,606.0 L518.6,606.0 L518.8,606.2 L519.0,606.8 L519.2,607.7 L519.4,609.0 L519.6,610.8 L519.8,613.2 L520.0,615.8 L520.2,616.9 L520.2,616.7 L520.4,612.8 L520.6,609.4 L520.8,607.3 L521.0,606.2 L521.2,606.0 L521.4,606.5 L521.6,607.7 L521.8,609.7 L522.0,612.4 L522.2,613.7 L522.2,613.7 L522.4,612.7 L522.6,611.0 L522.8,609.3 L523.0,608.0 L523.2,607.0 L523.4,606.3 L523.6,606.0 L523.8,605.9 L524.0,606.2 L524.2,606.8 L524.4,607.9 L524.6,609.5 L524.8,611.9 L525.0,615.8 L525.2,622.9 L525.3,626.2 L525.4,622.9 L525.6,616.0 L525.8,612.1 L526.0,609.6 L526.2,607.9 L526.4,606.8 L526.6,606.0 L526.8,605.7 L527.0,605.6 L527.2,605.9 L527.4,606.6 L527.6,607.6 L527.8,609.2 L528.0,611.6 L528.2,615.3 L528.4,621.7 L528.5,625.4 L528.6,622.8 L528.8,615.3 L529.0,611.2 L529.2,608.7 L529.4,607.1 L529.6,606.0 L529.8,605.5 L530.0,605.3 L530.2,605.6 L530.4,606.2 L530.6,607.4 L530.8,609.2 L531.0,611.9 L531.2,616.3 L531.4,621.3 L531.4,621.3 L531.6,614.9 L531.8,609.9 L532.0,607.1 L532.2,605.6 L532.4,605.1 L532.6,605.3 L532.8,606.2 L533.0,607.8 L533.2,610.2 L533.4,612.2 L533.5,612.4 L533.6,611.5 L533.8,609.0 L534.0,606.9 L534.2,605.5 L534.4,604.9 L534.6,604.8 L534.8,604.8 L535.0,604.8 L535.2,604.8 L535.4,604.8 L535.6,604.7 L535.8,604.7 L536.0,604.7 L536.2,604.7 L536.4,604.6 L536.6,604.6 L536.8,604.6 L537.0,604.6 L537.2,604.6 L537.4,604.5 L537.6,604.5 L537.8,604.5 L538.0,604.5 L538.2,604.4 L538.4,604.4 L538.6,604.4 L538.8,604.4 L539.0,604.3 L539.2,604.3 L539.4,604.3 L539.6,604.3 L539.8,604.2 L540.0,604.2 L540.2,604.2 L540.4,604.2 L540.6,604.1 L540.8,604.1 L541.0,604.1 L541.2,604.1 L541.4,604.1 L541.6,604.0 L541.8,604.0 L542.0,604.0 L542.2,604.0 L542.4,603.9 L542.6,603.9 L542.8,603.9 L543.0,603.9 L543.2,603.9 L543.4,603.8 L543.6,603.8 L543.8,603.8 L544.0,603.8 L544.2,603.7 L544.4,603.7 L544.6,603.7 L544.8,603.6 L545.0,603.6 L545.2,603.6 L545.4,603.6 L545.6,603.5 L545.8,603.5 L546.0,603.5 L546.2,603.4 L546.4,603.4 L546.6,603.4 L546.8,603.3 L547.0,603.3 L547.2,603.2 L547.4,603.2 L547.6,603.2 L547.8,603.1 L548.0,603.1 L548.2,603.1 L548.4,603.0 L548.6,603.0 L548.8,603.0 L549.0,602.9 L549.2,602.9 L549.4,602.9 L549.6,602.8 L549.8,602.8 L550.0,602.8 L550.2,602.8 L550.4,602.7 L550.6,602.7 L550.8,602.7 L551.0,602.7 L551.2,602.6 L551.4,602.6 L551.6,602.6 L551.8,602.6 L552.0,602.6 L552.2,602.6 L552.4,602.6 L552.6,602.6 L552.8,602.6 L553.0,602.6 L553.2,602.6 L553.4,602.6 L553.6,602.6 L553.8,602.6 L554.0,602.6 L554.2,602.7 L554.4,602.7 L554.6,602.7 L554.8,602.8 L555.0,602.8 L555.2,602.9 L555.4,602.9 L555.6,603.0 L555.8,603.0 L556.0,603.1 L556.2,603.1 L556.4,603.2 L556.6,603.3 L556.8,603.4 L557.0,603.4 L557.2,603.5 L557.4,603.6 L557.6,603.7 L557.8,603.7 L558.0,603.8 L558.2,603.9 L558.4,604.0 L558.6,604.1 L558.8,604.2 L559.0,604.3 L559.2,604.4 L559.4,604.5 L559.6,604.6 L559.8,604.7 L560.0,604.8 L560.2,604.9 L560.4,605.0 L560.6,605.1 L560.8,605.2 L561.0,605.3 L561.2,605.4 L561.4,605.5 L561.6,605.6 L561.8,605.7 L562.0,605.8 L562.2,606.0 L562.4,606.1 L562.6,606.2 L562.8,606.3 L563.0,606.4 L563.2,606.5 L563.4,606.6 L563.6,606.7 L563.8,606.8 L564.0,606.9 L564.2,607.0" stroke="#006BA4" stroke-width="2.0"/>
<path d="M341.2,690.0 L341.4,685.4 L341.6,680.5 L341.8,675.7 L342.0,671.1 L342.2,666.8 L342.4,662.8 L342.6,659.3 L342.8,656.4 L343.0,654.0 L343.2,652.0 L343.4,650.5 L343.6,649.2 L343.8,648.1 L344.0,647.1 L344.2,646.2 L344.4,645.4 L344.6,644.7 L344.8,644.0 L345.0,643.2 L345.2,642.4 L345.4,641.5 L345.6,640.6 L345.8,639.8 L346.0,639.0 L346.2,638.4 L346.4,637.9 L346.6,637.4 L346.8,637.0 L347.0,636.5 L347.2,636.1 L347.4,635.7 L347.6,635.2 L347.8,634.8 L348.0,634.4 L348.2,634.0 L348.4,633.5 L348.6,633.1 L348.8,632.7 L349.0,632.4 L349.2,632.0 L349.4,631.6 L349.6,631.2 L349.8,630.8 L350.0,630.5 L350.2,630.1 L350.4,629.8 L350.6,629.5 L350.8,629.1 L351.0,628.8 L351.2,628.5 L351.4,628.2 L351.6,627.9 L351.8,627.6 L352.0,627.3 L352.2,627.0 L352.4,626.8 L352.6,626.5 L352.8,626.2 L353.0,626.0 L353.2,625.8 L353.4,625.5 L353.6,625.3 L353.8,625.0 L354.0,624.8 L354.2,624.6 L354.4,624.4 L354.6,624.1 L354.8,623.9 L355.0,623.7 L355.2,623.5 L355.4,623.3 L355.6,623.0 L355.8,622.8 L356.0,622.6 L356.2,622.4 L356.4,622.2 L356.6,622.0 L356.8,621.8 L357.0,621.6 L357.2,621.4 L357.4,621.2 L357.6,621.0 L357.8,620.8 L358.0,620.6 L358.2,620.4 L358.4,620.2 L358.6,620.1 L358.8,619.9 L359.0,619.7 L359.2,619.5 L359.4,619.3 L359.6,619.1 L359.8,619.0 L360.0,618.8 L360.2,618.6 L360.4,618.4 L360.6,618.2 L360.8,618.1 L361.0,617.9 L361.2,617.7 L361.4,617.6 L361.6,617.4 L361.8,617.2 L362.0,617.0 L362.2,616.9 L362.4,616.7 L362.6,616.6 L362.8,616.4 L363.0,616.2 L363.2,616.1 L363.4,615.9 L363.6,615.8 L363.8,615.6 L364.0,615.5 L364.2,615.3 L364.4,615.2 L364.6,615.0 L364.8,614.9 L365.0,614.7 L365.2,614.6 L365.4,614.4 L365.6,614.3 L365.8,614.2 L366.0,614.0 L366.2,613.9 L366.4,613.7 L366.6,613.6 L366.8,613.5 L367.0,613.3 L367.2,613.2 L367.4,613.1 L367.6,612.9 L367.8,612.8 L368.0,612.6 L368.2,612.5 L368.4,612.4 L368.6,612.3 L368.8,612.1 L369.0,612.0 L369.2,611.9 L369.4,611.8 L369.6,611.6 L369.8,611.5 L370.0,611.4 L370.2,611.3 L370.4,611.1 L370.6,611.0 L370.8,610.9 L371.0,610.8 L371.2,610.7 L371.4,610.5 L371.6,610.4 L371.8,610.3 L372.0,610.2 L372.2,610.1 L372.4,610.0 L372.6,609.9 L372.8,609.8 L373.0,609.7 L373.2,609.5 L373.4,609.5 L373.6,609.4 L373.8,609.3 L374.0,609.2 L374.2,609.1 L374.4,609.0 L374.6,609.0 L374.8,608.9 L375.0,608.8 L375.2,608.8 L375.4,608.8 L375.6,608.7 L375.8,608.7 L376.0,608.7 L376.2,608.7 L376.4,608.7 L376.6,608.6 L376.8,608.6 L377.0,608.6 L377.2,608.6 L377.4,608.6 L377.6,608.6 L377.8,608.5 L378.0,608.5 L378.2,608.4 L378.4,608.4 L378.6,608.3 L378.8,608.2 L379.0,608.2 L379.2,608.1 L379.4,608.0 L379.6,607.9 L379.8,607.8 L380.0,607.7 L380.2,607.6 L380.4,607.6 L380.6,607.7 L380.8,607.8 L381.0,608.0 L381.2,608.3 L381.4,608.6 L381.6,609.0 L381.8,609.5 L382.0,610.0 L382.2,610.6 L382.4,611.1 L382.6,611.5 L382.8,611.7 L383.0,611.8 L383.2,611.5 L383.4,611.0 L383.6,610.3 L383.8,609.5 L384.0,608.7 L384.2,608.0 L384.4,607.2 L384.6,606.6 L384.8,606.0 L385.0,605.4 L385.2,605.0 L385.4,604.6 L385.6,604.3 L385.8,604.1 L386.0,603.9 L386.2,603.8 L386.4,603.7 L386.6,603.5 L386.8,603.4 L387.0,603.3 L387.2,603.2 L387.4,603.1 L387.6,603.0 L387.8,602.9 L388.0,602.8 L388.2,602.6 L388.4,602.5 L388.6,602.5 L388.8,602.4 L389.0,602.2 L389.2,602.2 L389.4,602.1 L389.6,602.0 L389.8,601.9 L390.0,601.8 L390.2,601.7 L390.4,601.6 L390.6,601.5 L390.8,601.5 L391.0,601.4 L391.2,601.3 L391.4,601.2 L391.6,601.1 L391.8,601.1 L392.0,601.0 L392.2,600.9 L392.4,600.8 L392.6,600.8 L392.8,600.7 L393.0,600.6 L393.2,600.5 L393.4,600.5 L393.6,600.4 L393.8,600.4 L394.0,600.3 L394.2,600.2 L394.4,600.2 L394.6,600.1 L394.8,600.0 L395.0,600.0 L395.2,599.9 L395.4,599.9 L395.6,599.8 L395.8,599.8 L396.0,599.7 L396.2,599.6 L396.4,599.6 L396.6,599.5 L396.8,599.5 L397.0,599.5 L397.2,599.4 L397.4,599.4 L397.6,599.3 L397.8,599.3 L398.0,599.3 L398.2,599.2 L398.4,599.2 L398.6,599.1 L398.8,599.1 L399.0,599.1 L399.2,599.1 L399.4,599.0 L399.6,599.0 L399.8,599.0 L400.0,599.0 L400.2,599.0 L400.4,598.9 L400.6,598.9 L400.8,598.9 L401.0,598.9 L401.2,598.9 L401.4,598.9 L401.6,598.9 L401.8,598.9 L402.0,598.9 L402.2,598.9 L402.4,598.9 L402.6,598.9 L402.8,598.9 L403.0,598.9 L403.2,598.9 L403.4,598.9 L403.6,598.9 L403.8,599.0 L404.0,599.0 L404.2,599.0 L404.4,599.0 L404.6,599.0 L404.8,599.0 L405.0,599.1 L405.2,599.1 L405.4,599.1 L405.6,599.1 L405.8,599.1 L406.0,599.2 L406.2,599.2 L406.4,599.2 L406.6,599.2 L406.8,599.2 L407.0,599.3 L407.2,599.3 L407.4,599.3 L407.6,599.4 L407.8,599.4 L408.0,599.4 L408.2,599.4 L408.4,599.5 L408.6,599.5 L408.8,599.5 L409.0,599.6 L409.2,599.6 L409.4,599.6 L409.6,599.7 L409.8,599.7 L410.0,599.8 L410.2,599.8 L410.4,599.9 L410.6,599.9 L410.8,600.0 L411.0,600.0 L411.2,600.1 L411.4,600.1 L411.6,600.2 L411.8,600.2 L412.0,600.3 L412.2,600.3 L412.4,600.4 L412.6,600.5 L412.8,600.5 L413.0,600.6 L413.2,600.6 L413.4,600.7 L413.6,600.7 L413.8,600.8 L414.0,600.8 L414.2,600.9 L414.4,600.9 L414.6,601.0 L414.8,601.1 L415.0,601.1 L415.2,601.2 L415.4,601.3 L415.6,601.4 L415.8,601.5 L416.0,601.6 L416.2,601.7 L416.4,601.9 L416.6,602.0 L416.8,602.1 L417.0,602.2 L417.2,602.4 L417.4,602.5 L417.6,602.6 L417.8,602.8 L418.0,603.0 L418.2,603.1 L418.4,603.3 L418.6,603.4 L418.8,603.6 L419.0,603.8 L419.2,603.9 L419.4,604.1 L419.6,604.3 L419.8,604.5 L420.0,604.6 L420.2,604.8 L420.4,605.0 L420.6,605.1 L420.8,605.3 L421.0,605.4 L421.2,605.6 L421.4,605.7 L421.6,605.8 L421.8,605.9 L422.0,606.0 L422.2,606.1 L422.4,606.1 L422.6,606.1 L422.8,606.1 L422.9,606.1 L423.0,606.1 L423.2,606.1 L423.4,606.0 L423.6,605.9 L423.8,605.8 L424.0,605.7 L424.2,605.5 L424.4,605.4 L424.6,605.2 L424.8,605.0 L425.0,604.8 L425.2,604.6 L425.4,604.4 L425.6,604.2 L425.8,604.0 L426.0,603.8 L426.2,603.5 L426.4,603.3 L426.6,603.1 L426.8,602.9 L427.0,602.7 L427.2,602.5 L427.4,602.3 L427.6,602.1 L427.8,602.0 L428.0,601.8 L428.2,601.6 L428.4,601.5 L428.6,601.3 L428.8,601.1 L429.0,601.0 L429.2,600.9 L429.4,600.7 L429.6,600.6 L429.8,600.5 L430.0,600.4 L430.2,600.3 L430.4,600.2 L430.6,600.1 L430.8,600.0 L431.0,600.0 L431.2,599.9 L431.4,599.8 L431.6,599.8 L431.8,599.7 L432.0,599.7 L432.2,599.7 L432.4,599.6 L432.6,599.6 L432.8,599.5 L433.0,599.5 L433.2,599.5 L433.4,599.4 L433.6,599.4 L433.8,599.3 L434.0,599.3 L434.2,599.2 L434.4,599.2 L434.6,599.1 L434.8,599.1 L435.0,599.0 L435.2,599.0 L435.4,598.9 L435.6,598.9 L435.8,598.8 L436.0,598.8 L436.2,598.7 L436.4,598.7 L436.6,598.6 L436.8,598.6 L437.0,598.5 L437.2,598.5 L437.4,598.4 L437.6,598.4 L437.8,598.3 L438.0,598.2 L438.2,598.2 L438.4,598.1 L438.6,598.1 L438.8,598.0 L439.0,598.0 L439.2,597.9 L439.4,597.9 L439.6,597.8 L439.8,597.8 L440.0,597.7 L440.2,597.7 L440.4,597.7 L440.6,597.6 L440.8,597.6 L441.0,597.5 L441.2,597.5 L441.4,597.5 L441.6,597.4 L441.8,597.4 L442.0,597.4 L442.2,597.3 L442.4,597.3 L442.6,597.3 L442.8,597.2 L443.0,597.2 L443.2,597.2 L443.4,597.2 L443.6,597.2 L443.8,597.2 L444.0,597.1 L444.2,597.1 L444.4,597.1 L444.6,597.1 L444.8,597.1 L445.0,597.1 L445.2,597.1 L445.4,597.1 L445.6,597.2 L445.8,597.2 L446.0,597.2 L446.2,597.2 L446.4,597.2 L446.6,597.2 L446.8,597.2 L447.0,597.2 L447.2,597.2 L447.4,597.2 L447.6,597.2 L447.8,597.2 L448.0,597.2 L448.2,597.2 L448.4,597.2 L448.6,597.2 L448.8,597.2 L449.0,597.2 L449.2,597.1 L449.4,597.1 L449.6,597.1 L449.8,597.1 L450.0,597.1 L450.2,597.1 L450.4,597.0 L450.6,597.0 L450.8,597.0 L451.0,597.0 L451.2,597.0 L451.4,597.1 L451.6,597.1 L451.8,597.2 L452.0,597.2 L452.2,597.3 L452.4,597.4 L452.6,597.5 L452.8,597.6 L453.0,597.8 L453.2,597.9 L453.4,598.0 L453.6,598.2 L453.8,598.4 L454.0,598.6 L454.2,598.8 L454.4,599.0 L454.6,599.2 L454.8,599.5 L455.0,599.7 L455.2,599.9 L455.4,600.2 L455.6,600.4 L455.8,600.7 L456.0,600.9 L456.2,601.1 L456.4,601.4 L456.6,601.5 L456.8,601.7 L457.0,601.8 L457.2,601.9 L457.4,601.9 L457.5,601.9 L457.6,601.8 L457.8,601.8 L458.0,601.6 L458.2,601.5 L458.4,601.2 L458.6,601.0 L458.8,600.7 L459.0,600.4 L459.2,600.1 L459.4,599.8 L459.6,599.5 L459.8,599.2 L460.0,598.9 L460.2,598.6 L460.4,598.3 L460.6,598.0 L460.8,597.7 L461.0,597.4 L461.2,597.2 L461.4,596.9 L461.6,596.7 L461.8,596.5 L462.0,596.3 L462.2,596.1 L462.4,595.9 L462.6,595.8 L462.8,595.6 L463.0,595.5 L463.2,595.4 L463.4,595.2 L463.6,595.2 L463.8,595.1 L464.0,595.0 L464.2,595.0 L464.4,594.9 L464.6,594.9 L464.8,594.9 L465.0,594.8 L465.2,594.8 L465.4,594.8 L465.6,594.8 L465.8,594.7 L466.0,594.7 L466.2,594.7 L466.4,594.6 L466.6,594.6 L466.8,594.6 L467.0,594.6 L467.2,594.5 L467.4,594.5 L467.6,594.5 L467.8,594.5 L468.0,594.5 L468.2,594.4 L468.4,594.4 L468.6,594.4 L468.8,594.4 L469.0,594.4 L469.2,594.3 L469.4,594.3 L469.6,594.3 L469.8,594.3 L470.0,594.2 L470.2,594.2 L470.4,594.2 L470.6,594.2 L470.8,594.2 L471.0,594.2 L471.2,594.2 L471.4,594.2 L471.6,594.2 L471.8,594.1 L472.0,594.1 L472.2,594.1 L472.4,594.1 L472.6,594.1 L472.8,594.1 L473.0,594.1 L473.2,594.1 L473.4,594.1 L473.6,594.1 L473.8,594.1 L474.0,594.1 L474.2,594.1 L474.4,594.1 L474.6,594.1 L474.8,594.1 L475.0,594.1 L475.2,594.1 L475.4,594.1 L475.6,594.2 L475.8,594.2 L476.0,594.2 L476.2,594.2 L476.4,594.2 L476.6,594.2 L476.8,594.3 L477.0,594.3 L477.2,594.3 L477.4,594.3 L477.6,594.3 L477.8,594.3 L478.0,594.4 L478.2,594.4 L478.4,594.4 L478.6,594.4 L478.8,594.5 L479.0,594.5 L479.2,594.5 L479.4,594.5 L479.6,594.5 L479.8,594.6 L480.0,594.6 L480.2,594.6 L480.4,594.6 L480.6,594.7 L480.8,594.7 L481.0,594.7 L481.2,594.8 L481.4,594.8 L481.6,594.8 L481.8,594.8 L482.0,594.9 L482.2,594.9 L482.4,594.9 L482.6,595.0 L482.8,595.0 L483.0,595.0 L483.2,595.0 L483.4,595.1 L483.6,595.1 L483.8,595.2 L484.0,595.2 L484.2,595.3 L484.4,595.4 L484.6,595.5 L484.8,595.5 L485.0,595.6 L485.2,595.8 L485.4,595.9 L485.6,596.0 L485.8,596.1 L486.0,596.2 L486.2,596.3 L486.4,596.5 L486.6,596.6 L486.8,596.8 L487.0,596.9 L487.2,597.1 L487.4,597.2 L487.6,597.4 L487.8,597.6 L488.0,597.8 L488.2,597.9 L488.4,598.1 L488.6,598.3 L488.8,598.5 L489.0,598.7 L489.2,598.8 L489.4,599.0 L489.6,599.2 L489.8,599.4 L490.0,599.5 L490.2,599.7 L490.4,599.8 L490.6,600.0 L490.8,600.1 L491.0,600.2 L491.2,600.3 L491.4,600.4 L491.6,600.4 L491.8,600.4 L492.0,600.5 L492.2,600.4 L492.4,600.4 L492.6,600.4 L492.8,600.3 L493.0,600.2 L493.2,600.1 L493.4,600.0 L493.6,599.9 L493.8,599.7 L494.0,599.5 L494.2,599.4 L494.4,599.2 L494.6,599.0 L494.8,598.9 L495.0,598.7 L495.2,598.5 L495.4,598.3 L495.6,598.1 L495.8,598.0 L496.0,597.8 L496.2,597.6 L496.4,597.4 L496.6,597.2 L496.8,597.1 L497.0,596.9 L497.2,596.7 L497.4,596.6 L497.6,596.4 L497.8,596.3 L498.0,596.1 L498.2,596.0 L498.4,595.9 L498.6,595.7 L498.8,595.6 L499.0,595.5 L499.2,595.4 L499.4,595.3 L499.6,595.2 L499.8,595.1 L500.0,595.0 L500.2,595.0 L500.4,594.9 L500.6,594.9 L500.8,594.8 L501.0,594.8 L501.2,594.7 L501.4,594.7 L501.6,594.6 L501.8,594.6 L502.0,594.5 L502.2,594.5 L502.4,594.5 L502.6,594.4 L502.8,594.4 L503.0,594.4 L503.2,594.3 L503.4,594.3 L503.6,594.3 L503.8,594.2 L504.0,594.2 L504.2,594.2 L504.4,594.2 L504.6,594.1 L504.8,594.1 L505.0,594.1 L505.2,594.1 L505.4,594.0 L505.6,594.0 L505.8,594.0 L506.0,594.0 L506.2,594.0 L506.4,593.9 L506.6,593.9 L506.8,593.9 L507.0,593.9 L507.2,593.9 L507.4,593.8 L507.6,593.8 L507.8,593.8 L508.0,593.8 L508.2,593.8 L508.4,593.7 L508.6,593.7 L508.8,593.7 L509.0,593.7 L509.2,593.7 L509.4,593.6 L509.6,593.6 L509.8,593.6 L510.0,593.6 L510.2,593.6 L510.4,593.6 L510.6,593.5 L510.8,593.5 L511.0,593.5 L511.2,593.5 L511.4,593.5 L511.6,593.5 L511.8,593.4 L512.0,593.4 L512.2,593.4 L512.4,593.4 L512.6,593.4 L512.8,593.4 L513.0,593.3 L513.2,593.3 L513.4,593.3 L513.6,593.3 L513.8,593.3 L514.0,593.3 L514.2,593.3 L514.4,593.2 L514.6,593.2 L514.8,593.2 L515.0,593.2 L515.2,593.2 L515.4,593.2 L515.6,593.2 L515.8,593.1 L516.0,593.1 L516.2,593.1 L516.4,593.1 L516.6,593.1 L516.8,593.1 L517.0,593.1 L517.2,593.1 L517.4,593.1 L517.6,593.1 L517.8,593.1 L518.0,593.0 L518.2,593.0 L518.4,593.0 L518.6,593.0 L518.8,593.0 L519.0,593.0 L519.2,593.0 L519.4,593.0 L519.6,593.0 L519.8,593.0 L520.0,593.0 L520.2,593.0 L520.4,593.0 L520.6,593.0 L520.8,593.0 L521.0,593.0 L521.2,593.0 L521.4,593.0 L521.6,593.1 L521.8,593.1 L522.0,593.1 L522.2,593.1 L522.4,593.2 L522.6,593.2 L522.8,593.3 L523.0,593.4 L523.2,593.5 L523.4,593.6 L523.6,593.7 L523.8,593.8 L524.0,593.9 L524.2,594.1 L524.4,594.2 L524.6,594.4 L524.8,594.5 L525.0,594.7 L525.2,594.9 L525.4,595.0 L525.6,595.2 L525.8,595.4 L526.0,595.6 L526.2,595.8 L526.4,596.0 L526.6,596.2 L526.8,596.4 L527.0,596.6 L527.2,596.8 L527.4,597.0 L527.6,597.2 L527.8,597.4 L528.0,597.6 L528.2,597.7 L528.4,597.9 L528.6,598.0 L528.8,598.1 L529.0,598.2 L529.2,598.3 L529.4,598.3 L529.6,598.3 L529.7,598.3 L529.8,598.3 L530.0,598.3 L530.2,598.2 L530.4,598.1 L530.6,598.0 L530.8,597.9 L531.0,597.8 L531.2,597.6 L531.4,597.4 L531.6,597.2 L531.8,597.0 L532.0,596.8 L532.2,596.6 L532.4,596.4 L532.6,596.2 L532.8,596.0 L533.0,595.7 L533.2,595.5 L533.4,595.3 L533.6,595.1 L533.8,594.9 L534.0,594.7 L534.2,594.5 L534.4,594.3 L534.6,594.2 L534.8,594.0 L535.0,593.8 L535.2,593.7 L535.4,593.5 L535.6,593.4 L535.8,593.3 L536.0,593.1 L536.2,593.0 L536.4,592.9 L536.6,592.8 L536.8,592.8 L537.0,592.7 L537.2,592.6 L537.4,592.5 L537.6,592.5 L537.8,592.5 L538.0,592.4 L538.2,592.4 L538.4,592.4 L538.6,592.3 L538.8,592.3 L539.0,592.2 L539.2,592.2 L539.4,592.2 L539.6,592.1 L539.8,592.1 L540.0,592.1 L540.2,592.1 L540.4,592.0 L540.6,592.0 L540.8,592.0 L541.0,592.0 L541.2,592.0 L541.4,591.9 L541.6,591.9 L541.8,591.9 L542.0,591.9 L542.2,591.8 L542.4,591.8 L542.6,591.8 L542.8,591.8 L543.0,591.8 L543.2,591.8 L543.4,591.7 L543.6,591.7 L543.8,591.7 L544.0,591.7 L544.2,591.7 L544.4,591.6 L544.6,591.6 L544.8,591.6 L545.0,591.6 L545.2,591.6 L545.4,591.6 L545.6,591.6 L545.8,591.5 L546.0,591.5 L546.2,591.5 L546.4,591.5 L546.6,591.5 L546.8,591.5 L547.0,591.5 L547.2,591.4 L547.4,591.4 L547.6,591.4 L547.8,591.4 L548.0,591.4 L548.2,591.4 L548.4,591.4 L548.6,591.3 L548.8,591.3 L549.0,591.3 L549.2,591.3 L549.4,591.3 L549.6,591.3 L549.8,591.3 L550.0,591.2 L550.2,591.2 L550.4,591.2 L550.6,591.2 L550.8,591.2 L551.0,591.2 L551.2,591.2 L551.4,591.2 L551.6,591.1 L551.8,591.1 L552.0,591.1 L552.2,591.1 L552.4,591.1 L552.6,591.1 L552.8,591.1 L553.0,591.1 L553.2,591.0 L553.4,591.0 L553.6,591.0 L553.8,591.0 L554.0,591.0 L554.2,591.0 L554.4,591.0 L554.6,591.0 L554.8,591.0 L555.0,590.9 L555.2,590.9 L555.4,590.9 L555.6,590.9 L555.8,590.9 L556.0,590.9 L556.2,590.9 L556.4,590.9 L556.6,590.8 L556.8,590.8 L557.0,590.8 L557.2,590.8 L557.4,590.8 L557.6,590.8 L557.8,590.8 L558.0,590.8 L558.2,590.8 L558.4,590.7 L558.6,590.7 L558.8,590.7 L559.0,590.7 L559.2,590.7 L559.4,590.7 L559.6,590.7 L559.8,590.7 L560.0,590.6 L560.2,590.6 L560.4,590.6 L560.6,590.6 L560.8,590.6 L561.0,590.6 L561.2,590.6 L561.4,590.6 L561.6,590.6 L561.8,590.5 L562.0,590.5 L562.2,590.5 L562.4,590.5 L562.6,590.5 L562.8,590.5 L563.0,590.5 L563.2,590.5 L563.4,590.5 L563.6,590.4 L563.8,590.4 L564.0,590.4 L564.2,590.4" stroke="#FF800E" stroke-width="2.0"/>
<path d="M341.0,629.6 L341.1,635.3 L341.2,680.0 L341.3,638.8 L341.4,633.0 L341.5,629.6 L341.6,627.4 L341.7,625.8 L341.8,624.6 L341.9,623.8 L342.0,623.3 L342.1,624.3 L342.2,626.1 L342.3,628.9 L342.4,634.1 L342.5,650.4 L342.5,653.4 L342.6,634.8 L342.7,628.7 L342.8,625.5 L342.9,623.8 L343.0,622.8 L343.1,622.6 L343.2,623.0 L343.3,624.1 L343.4,626.2 L343.5,630.0 L343.6,638.1 L343.6,646.6 L343.7,636.3 L343.8,627.1 L343.9,623.7 L344.0,622.5 L344.1,622.8 L344.2,625.0 L344.3,630.3 L344.4,652.9 L344.4,652.1 L344.5,632.9 L344.6,627.5 L344.7,624.7 L344.8,623.1 L344.9,622.3 L345.0,622.3 L345.1,622.9 L345.2,624.2 L345.3,626.7 L345.4,631.3 L345.5,641.1 L345.5,642.6 L345.6,632.6 L345.7,626.4 L345.8,623.5 L345.9,622.2 L346.0,622.1 L346.1,623.1 L346.2,625.5 L346.3,630.6 L346.4,641.4 L346.5,630.5 L346.6,625.4 L346.7,622.9 L346.8,621.9 L346.9,621.9 L347.0,623.2 L347.1,626.1 L347.2,632.5 L347.3,644.4 L347.3,641.5 L347.4,630.0 L347.5,625.5 L347.6,623.0 L347.7,621.8 L347.8,621.5 L347.9,621.9 L348.0,623.3 L348.1,626.0 L348.2,631.1 L348.3,640.3 L348.4,630.4 L348.5,625.3 L348.6,622.7 L348.7,621.4 L348.8,621.2 L348.9,621.9 L349.0,623.8 L349.1,627.4 L349.2,634.5 L349.2,637.1 L349.3,631.5 L349.4,624.6 L349.5,621.7 L349.6,620.9 L349.7,621.8 L349.8,624.7 L349.9,630.5 L349.9,632.4 L350.0,629.9 L350.1,624.4 L350.2,621.6 L350.3,620.7 L350.4,621.4 L350.5,624.0 L350.6,630.5 L350.7,639.5 L350.7,635.8 L350.8,625.8 L350.9,622.0 L351.0,620.6 L351.1,620.5 L351.2,620.5 L351.6,616.0 L351.7,615.4 L351.7,614.6 L351.8,613.7 L351.9,612.6 L352.0,611.5 L352.1,610.3 L352.2,609.1 L352.3,608.0 L352.5,606.8 L352.6,605.8 L352.7,604.8 L352.9,603.8 L353.1,602.8 L353.3,601.8 L353.4,600.8 L353.6,599.8 L353.8,598.8 L354.0,597.9 L354.2,597.0 L354.4,596.1 L354.6,595.3 L354.7,594.5 L354.9,593.8 L355.1,593.2 L355.2,592.5 L355.4,591.9 L355.6,591.2 L355.8,590.5 L356.0,589.8 L356.3,589.0 L356.6,588.2 L356.9,587.4 L357.2,586.5 L357.5,585.7 L357.9,584.8 L358.3,583.9 L358.7,583.0 L359.2,582.1 L359.7,581.1 L360.3,580.0 L361.0,578.9 L361.7,577.7 L362.5,576.4 L363.3,575.1 L364.2,573.7 L365.1,572.4 L366.1,571.1 L367.1,569.8 L368.0,568.6 L369.0,567.5 L370.0,566.5 L371.0,565.5 L372.0,564.6 L373.1,563.7 L374.1,562.8 L375.2,562.0 L376.3,561.2 L377.5,560.4 L378.6,559.6 L379.8,558.8 L381.0,558.0 L382.2,557.2 L383.4,556.4 L384.6,555.6 L385.8,554.9 L387.1,554.1 L388.4,553.4 L389.8,552.6 L391.2,551.9 L392.7,551.2 L394.2,550.5 L395.8,549.8 L397.5,549.1 L399.2,548.5 L400.9,547.8 L402.7,547.2 L404.5,546.5 L406.3,545.9 L408.2,545.3 L410.0,544.7 L411.8,544.1 L413.7,543.5 L415.6,543.0 L417.5,542.4 L419.4,541.9 L421.3,541.4 L423.3,540.9 L425.3,540.3 L427.3,539.8 L429.4,539.3 L431.5,538.8 L433.7,538.2 L436.0,537.7 L438.3,537.2 L440.6,536.6 L443.0,536.1 L445.3,535.6 L447.6,535.1 L449.8,534.7 L452.0,534.2 L454.1,533.8 L456.2,533.4 L458.3,533.0 L460.3,532.6 L462.4,532.2 L464.4,531.9 L466.4,531.5 L468.5,531.2 L470.5,530.8 L472.6,530.5 L474.7,530.2 L476.8,529.8 L479.0,529.5 L481.1,529.1 L483.3,528.8 L485.4,528.5 L487.6,528.1 L489.8,527.8 L491.9,527.5 L494.1,527.2 L496.2,526.9 L498.4,526.6 L500.5,526.4 L502.6,526.1 L504.7,525.9 L506.9,525.6 L509.0,525.4 L511.2,525.1 L513.4,524.9 L515.7,524.6 L518.1,524.3 L520.8,524.0 L523.6,523.7 L526.4,523.4 L529.2,523.1 L531.9,522.9 L534.4,522.6 L536.7,522.4 L538.5,522.2 L540.0,522.0" stroke="#ABABAB" stroke-width="2.0"/>
</g>
<rect x="330.3" y="525.6" width="244.1" height="147.65" fill="none" stroke="#000" stroke-width="1.3"/>
<line x1="341.40" y1="673.25" x2="341.40" y2="677.75" stroke="#000" stroke-width="1"/>
<line x1="415.37" y1="673.25" x2="415.37" y2="677.75" stroke="#000" stroke-width="1"/>
<line x1="489.33" y1="673.25" x2="489.33" y2="677.75" stroke="#000" stroke-width="1"/>
<line x1="563.30" y1="673.25" x2="563.30" y2="677.75" stroke="#000" stroke-width="1"/>
<line x1="325.8" y1="525.60" x2="330.3" y2="525.60" stroke="#000" stroke-width="1"/>
<line x1="325.8" y1="555.13" x2="330.3" y2="555.13" stroke="#000" stroke-width="1"/>
<line x1="325.8" y1="584.66" x2="330.3" y2="584.66" stroke="#000" stroke-width="1"/>
<line x1="325.8" y1="614.19" x2="330.3" y2="614.19" stroke="#000" stroke-width="1"/>
<line x1="325.8" y1="643.72" x2="330.3" y2="643.72" stroke="#000" stroke-width="1"/>
<line x1="325.8" y1="673.25" x2="330.3" y2="673.25" stroke="#000" stroke-width="1"/>
<text x="452.35" y="518.90" font-family='"Liberation Sans", sans-serif' font-size="13.6" text-anchor="middle" fill="#000">Neptune + moons</text>
<path d="M497.6,606.25 H574.4 V673.25 H495.6 V608.25 Q495.6,606.25 497.6,606.25 Z" fill="#fff" fill-opacity="0.8" stroke="#333" stroke-width="1.1"/>
<line x1="498.8" y1="614.95" x2="516.3000000000001" y2="614.95" stroke="#000080" stroke-width="2.1"/>
<text x="524.20" y="619.25" font-family='"Liberation Sans", sans-serif' font-size="12" fill="#000">Neptune</text>
<line x1="498.8" y1="630.95" x2="516.3000000000001" y2="630.95" stroke="#006BA4" stroke-width="2.1"/>
<text x="524.20" y="635.25" font-family='"Liberation Sans", sans-serif' font-size="12" fill="#000">Triton</text>
<line x1="498.8" y1="646.95" x2="516.3000000000001" y2="646.95" stroke="#FF800E" stroke-width="2.1"/>
<text x="524.20" y="651.25" font-family='"Liberation Sans", sans-serif' font-size="12" fill="#000">Nereid</text>
<line x1="498.8" y1="662.95" x2="516.3000000000001" y2="662.95" stroke="#ABABAB" stroke-width="2.1"/>
<text x="524.20" y="667.25" font-family='"Liberation Sans", sans-serif' font-size="12" fill="#000">Proteus</text>
<text x="46.80" y="21.40" font-family='"Liberation Sans", sans-serif' font-size="14" text-anchor="end" fill="#000">10</text>
<text x="52.5" y="16.70" font-family='"Liberation Sans", sans-serif' font-size="10" text-anchor="end" fill="#000">2</text>
<text x="39.50" y="50.93" font-family='"Liberation Sans", sans-serif' font-size="14" text-anchor="end" fill="#000">10</text>
<text x="52.5" y="46.23" font-family='"Liberation Sans", sans-serif' font-size="10" text-anchor="end" fill="#000">−1</text>
<text x="39.50" y="80.46" font-family='"Liberation Sans", sans-serif' font-size="14" text-anchor="end" fill="#000">10</text>
<text x="52.5" y="75.76" font-family='"Liberation Sans", sans-serif' font-size="10" text-anchor="end" fill="#000">−4</text>
<text x="39.50" y="109.99" font-family='"Liberation Sans", sans-serif' font-size="14" text-anchor="end" fill="#000">10</text>
<text x="52.5" y="105.29" font-family='"Liberation Sans", sans-serif' font-size="10" text-anchor="end" fill="#000">−7</text>
<text x="34.50" y="139.52" font-family='"Liberation Sans", sans-serif' font-size="14" text-anchor="end" fill="#000">10</text>
<text x="52.5" y="134.82" font-family='"Liberation Sans", sans-serif' font-size="10" text-anchor="end" fill="#000">−10</text>
<text x="34.50" y="169.05" font-family='"Liberation Sans", sans-serif' font-size="14" text-anchor="end" fill="#000">10</text>
<text x="52.5" y="164.35" font-family='"Liberation Sans", sans-serif' font-size="10" text-anchor="end" fill="#000">−13</text>
<text transform="translate(10.0,90.62) rotate(-90)" font-family='"Liberation Sans", sans-serif' font-size="13" text-anchor="middle" fill="#000">(<tspan font-style="italic">x</tspan><tspan font-size="9" dy="3">truth</tspan><tspan dy="-3"> − </tspan><tspan font-style="italic">x</tspan><tspan font-size="9" dy="3">pred</tspan><tspan dy="-3">)</tspan><tspan font-size="9" dy="-5">2</tspan><tspan dy="5">/</tspan><tspan font-style="italic">x</tspan><tspan font-size="9" dy="-5">2</tspan><tspan font-size="9" dx="-5" dy="8">truth</tspan></text>
<text x="46.80" y="191.25" font-family='"Liberation Sans", sans-serif' font-size="14" text-anchor="end" fill="#000">10</text>
<text x="52.5" y="186.55" font-family='"Liberation Sans", sans-serif' font-size="10" text-anchor="end" fill="#000">2</text>
<text x="39.50" y="220.78" font-family='"Liberation Sans", sans-serif' font-size="14" text-anchor="end" fill="#000">10</text>
<text x="52.5" y="216.08" font-family='"Liberation Sans", sans-serif' font-size="10" text-anchor="end" fill="#000">−1</text>
<text x="39.50" y="250.31" font-family='"Liberation Sans", sans-serif' font-size="14" text-anchor="end" fill="#000">10</text>
<text x="52.5" y="245.61" font-family='"Liberation Sans", sans-serif' font-size="10" text-anchor="end" fill="#000">−4</text>
<text x="39.50" y="279.84" font-family='"Liberation Sans", sans-serif' font-size="14" text-anchor="end" fill="#000">10</text>
<text x="52.5" y="275.14" font-family='"Liberation Sans", sans-serif' font-size="10" text-anchor="end" fill="#000">−7</text>
<text x="34.50" y="309.37" font-family='"Liberation Sans", sans-serif' font-size="14" text-anchor="end" fill="#000">10</text>
<text x="52.5" y="304.67" font-family='"Liberation Sans", sans-serif' font-size="10" text-anchor="end" fill="#000">−10</text>
<text x="34.50" y="338.90" font-family='"Liberation Sans", sans-serif' font-size="14" text-anchor="end" fill="#000">10</text>
<text x="52.5" y="334.20" font-family='"Liberation Sans", sans-serif' font-size="10" text-anchor="end" fill="#000">−13</text>
<text transform="translate(10.0,260.48) rotate(-90)" font-family='"Liberation Sans", sans-serif' font-size="13" text-anchor="middle" fill="#000">(<tspan font-style="italic">x</tspan><tspan font-size="9" dy="3">truth</tspan><tspan dy="-3"> − </tspan><tspan font-style="italic">x</tspan><tspan font-size="9" dy="3">pred</tspan><tspan dy="-3">)</tspan><tspan font-size="9" dy="-5">2</tspan><tspan dy="5">/</tspan><tspan font-style="italic">x</tspan><tspan font-size="9" dy="-5">2</tspan><tspan font-size="9" dx="-5" dy="8">truth</tspan></text>
<text x="46.80" y="360.80" font-family='"Liberation Sans", sans-serif' font-size="14" text-anchor="end" fill="#000">10</text>
<text x="52.5" y="356.10" font-family='"Liberation Sans", sans-serif' font-size="10" text-anchor="end" fill="#000">2</text>
<text x="39.50" y="390.33" font-family='"Liberation Sans", sans-serif' font-size="14" text-anchor="end" fill="#000">10</text>
<text x="52.5" y="385.63" font-family='"Liberation Sans", sans-serif' font-size="10" text-anchor="end" fill="#000">−1</text>
<text x="39.50" y="419.86" font-family='"Liberation Sans", sans-serif' font-size="14" text-anchor="end" fill="#000">10</text>
<text x="52.5" y="415.16" font-family='"Liberation Sans", sans-serif' font-size="10" text-anchor="end" fill="#000">−4</text>
<text x="39.50" y="449.39" font-family='"Liberation Sans", sans-serif' font-size="14" text-anchor="end" fill="#000">10</text>
<text x="52.5" y="444.69" font-family='"Liberation Sans", sans-serif' font-size="10" text-anchor="end" fill="#000">−7</text>
<text x="34.50" y="478.92" font-family='"Liberation Sans", sans-serif' font-size="14" text-anchor="end" fill="#000">10</text>
<text x="52.5" y="474.22" font-family='"Liberation Sans", sans-serif' font-size="10" text-anchor="end" fill="#000">−10</text>
<text x="34.50" y="508.45" font-family='"Liberation Sans", sans-serif' font-size="14" text-anchor="end" fill="#000">10</text>
<text x="52.5" y="503.75" font-family='"Liberation Sans", sans-serif' font-size="10" text-anchor="end" fill="#000">−13</text>
<text transform="translate(10.0,430.02) rotate(-90)" font-family='"Liberation Sans", sans-serif' font-size="13" text-anchor="middle" fill="#000">(<tspan font-style="italic">x</tspan><tspan font-size="9" dy="3">truth</tspan><tspan dy="-3"> − </tspan><tspan font-style="italic">x</tspan><tspan font-size="9" dy="3">pred</tspan><tspan dy="-3">)</tspan><tspan font-size="9" dy="-5">2</tspan><tspan dy="5">/</tspan><tspan font-style="italic">x</tspan><tspan font-size="9" dy="-5">2</tspan><tspan font-size="9" dx="-5" dy="8">truth</tspan></text>
<text x="46.80" y="530.70" font-family='"Liberation Sans", sans-serif' font-size="14" text-anchor="end" fill="#000">10</text>
<text x="52.5" y="526.00" font-family='"Liberation Sans", sans-serif' font-size="10" text-anchor="end" fill="#000">2</text>
<text x="39.50" y="560.23" font-family='"Liberation Sans", sans-serif' font-size="14" text-anchor="end" fill="#000">10</text>
<text x="52.5" y="555.53" font-family='"Liberation Sans", sans-serif' font-size="10" text-anchor="end" fill="#000">−1</text>
<text x="39.50" y="589.76" font-family='"Liberation Sans", sans-serif' font-size="14" text-anchor="end" fill="#000">10</text>
<text x="52.5" y="585.06" font-family='"Liberation Sans", sans-serif' font-size="10" text-anchor="end" fill="#000">−4</text>
<text x="39.50" y="619.29" font-family='"Liberation Sans", sans-serif' font-size="14" text-anchor="end" fill="#000">10</text>
<text x="52.5" y="614.59" font-family='"Liberation Sans", sans-serif' font-size="10" text-anchor="end" fill="#000">−7</text>
<text x="34.50" y="648.82" font-family='"Liberation Sans", sans-serif' font-size="14" text-anchor="end" fill="#000">10</text>
<text x="52.5" y="644.12" font-family='"Liberation Sans", sans-serif' font-size="10" text-anchor="end" fill="#000">−10</text>
<text x="34.50" y="678.35" font-family='"Liberation Sans", sans-serif' font-size="14" text-anchor="end" fill="#000">10</text>
<text x="52.5" y="673.65" font-family='"Liberation Sans", sans-serif' font-size="10" text-anchor="end" fill="#000">−13</text>
<text transform="translate(10.0,599.93) rotate(-90)" font-family='"Liberation Sans", sans-serif' font-size="13" text-anchor="middle" fill="#000">(<tspan font-style="italic">x</tspan><tspan font-size="9" dy="3">truth</tspan><tspan dy="-3"> − </tspan><tspan font-style="italic">x</tspan><tspan font-size="9" dy="3">pred</tspan><tspan dy="-3">)</tspan><tspan font-size="9" dy="-5">2</tspan><tspan dy="5">/</tspan><tspan font-style="italic">x</tspan><tspan font-size="9" dy="-5">2</tspan><tspan font-size="9" dx="-5" dy="8">truth</tspan></text>
<text x="72.80" y="690.65" font-family='"Liberation Sans", sans-serif' font-size="13.5" text-anchor="middle" fill="#000">0</text>
<text x="146.77" y="690.65" font-family='"Liberation Sans", sans-serif' font-size="13.5" text-anchor="middle" fill="#000">1</text>
<text x="220.73" y="690.65" font-family='"Liberation Sans", sans-serif' font-size="13.5" text-anchor="middle" fill="#000">2</text>
<text x="294.70" y="690.65" font-family='"Liberation Sans", sans-serif' font-size="13.5" text-anchor="middle" fill="#000">3</text>
<text x="183.75" y="707.05" font-family='"Liberation Sans", sans-serif' font-size="13.6" text-anchor="middle" fill="#000">Time (years)</text>
<text x="341.40" y="690.65" font-family='"Liberation Sans", sans-serif' font-size="13.5" text-anchor="middle" fill="#000">0</text>
<text x="415.37" y="690.65" font-family='"Liberation Sans", sans-serif' font-size="13.5" text-anchor="middle" fill="#000">1</text>
<text x="489.33" y="690.65" font-family='"Liberation Sans", sans-serif' font-size="13.5" text-anchor="middle" fill="#000">2</text>
<text x="563.30" y="690.65" font-family='"Liberation Sans", sans-serif' font-size="13.5" text-anchor="middle" fill="#000">3</text>
<text x="452.35" y="707.05" font-family='"Liberation Sans", sans-serif' font-size="13.6" text-anchor="middle" fill="#000">Time (years)</text>
</svg></body></html>
